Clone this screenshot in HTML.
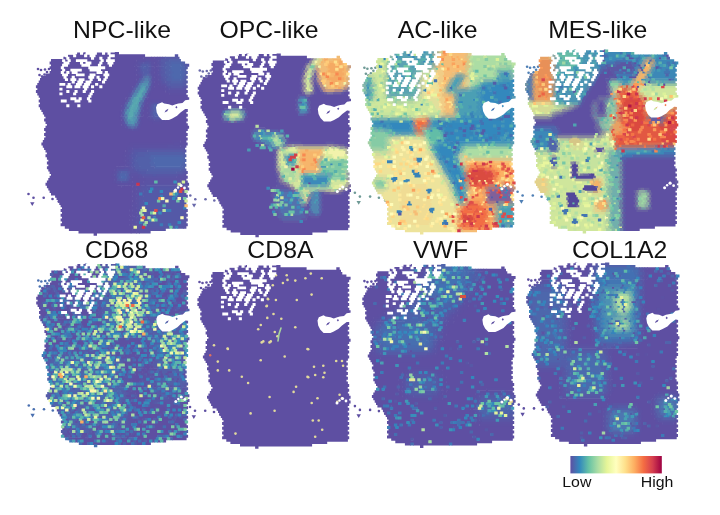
<!DOCTYPE html><html><head><meta charset="utf-8"><style>html,body{margin:0;padding:0;background:#fff;width:720px;height:515px;overflow:hidden}svg{display:block}text{font-family:"Liberation Sans",Arial,sans-serif;fill:#111}</style></head><body>
<svg width="720" height="515" viewBox="0 0 720 515">
<defs>
<path id="tis" d="M-37.4,-37.8 L-33.2,-41.8 L-28.2,-44.8 L-25.0,-45.6 L-24.2,-58.0 L-22.7,-59.5 L-18.8,-58.8 L-12.6,-57.2 L-10.7,-61.3 L-3.7,-63.1 L4.1,-64.6 L11.8,-66.2 L22.7,-65.4 L32.8,-67.0 L41.8,-65.4 L43.3,-63.9 L68.2,-63.1 L69.8,-61.5 L99.3,-61.5 L101.6,-62.6 L104.3,-57.3 L110.4,-53.8 L112.1,-52.9 L109.5,-48.6 L111.3,-39.8 L110.4,-29.3 L112.1,-20.6 L110.4,-15.3 L110.8,-7.3 L111.8,8.7 L110.6,20.4 L109.4,32.0 L109.4,43.7 L110.6,55.3 L111.8,64.7 L111.8,72.7 L110.6,78.7 L110.6,90.3 L110.6,106.7 L109.4,109.0 L90.8,110.2 L86.1,112.5 L72.1,113.7 L58.8,114.9 L41.2,113.7 L28.6,114.9 L18.5,116.2 L3.3,113.7 L-6.8,111.1 L-13.1,107.3 L-14.4,99.7 L-13.1,89.7 L-16.9,82.1 L-21.9,77.0 L-29.5,69.4 L-28.2,64.4 L-24.5,54.3 L-28.2,49.2 L-27.0,41.7 L-29.5,34.1 L-33.3,26.5 L-30.8,18.9 L-29.5,6.3 L-31.7,-4.8 L-36.3,-11.1 L-35.5,-17.3 L-37.9,-23.5 L-38.7,-29.7 L-37.9,-33.8Z"/>
<clipPath id="clip"><use href="#tis"/></clipPath>
<g id="holes" fill="#fff"><path d="M-8.1 -67.2h16.9M11.2 -67.2h27.9M-9.4 -64.9h8.7M4.3 -64.9h3.1M9.8 -64.9h11.4M26.3 -64.9h3.1M31.8 -64.9h3.1M-10.8 -62.5h3.1M-2.6 -62.5h3.1M8.4 -62.5h3.1M13.9 -62.5h5.9M33.2 -62.5h5.9M-9.4 -60.1h3.1M15.3 -60.1h3.1M23.6 -60.1h3.1M31.8 -60.1h3.1M-13.6 -57.7h3.1M-8.1 -57.7h3.1M0.2 -57.7h11.4M24.9 -57.7h3.1M30.4 -57.7h8.7M-12.2 -55.3h5.9M4.3 -55.3h3.1M9.8 -55.3h5.9M23.6 -55.3h3.1M31.8 -55.3h5.9M-13.6 -53.0h5.9M5.7 -53.0h8.7M22.2 -53.0h3.1M33.2 -53.0h3.1M-14.9 -50.6h3.1M12.6 -50.6h16.9M-13.6 -48.2h3.1M-5.3 -48.2h11.4M13.9 -48.2h11.4M-14.9 -45.8h3.1M-9.4 -45.8h3.1M-4.0 -45.8h5.9M20.8 -45.8h5.9M29.1 -45.8h3.1M-13.6 -43.4h5.9M0.2 -43.4h8.7M13.9 -43.4h5.9M27.7 -43.4h5.9M-12.2 -41.1h3.1M-4.0 -41.1h3.1M12.6 -41.1h5.9M20.8 -41.1h3.1M29.1 -41.1h3.1M-10.8 -38.7h3.1M-5.3 -38.7h5.9M2.9 -38.7h5.9M13.9 -38.7h3.1M22.2 -38.7h3.1M27.7 -38.7h3.1M-4.0 -36.3h3.1M1.6 -36.3h5.9M9.8 -36.3h5.9M26.3 -36.3h3.1M-16.3 -33.9h5.9M-8.1 -33.9h3.1M0.2 -33.9h5.9M8.4 -33.9h5.9M19.4 -33.9h3.1M-9.4 -31.5h5.9M-1.2 -31.5h5.9M7.0 -31.5h5.9M15.3 -31.5h3.1M23.6 -31.5h3.1M-16.3 -29.2h3.1M8.4 -29.2h3.1M-9.4 -26.8h3.1M-1.2 -26.8h3.1M7.0 -26.8h3.1M15.3 -26.8h3.1M-16.3 -24.4h3.1M-2.6 -24.4h3.1M13.9 -24.4h3.1M12.6 -22.0h3.1M-5.3 -19.6h5.9M2.9 -19.6h3.1M11.2 -19.6h3.1M-14.9 -17.3h5.9M-1.2 -17.3h5.9M12.6 -17.3h3.1M-9.4 -12.5h3.1M1.6 -12.5h3.1" stroke="#fff" stroke-width="2.9" fill="none"/><circle cx="99.8" cy="71.7" r="1.5"/><circle cx="105.3" cy="67.2" r="1.6"/><circle cx="108.8" cy="69.7" r="1.4"/><circle cx="102.3" cy="69.2" r="1.2"/><path fill-rule="evenodd" d="M80.3,-10.7 L81.6,-14.1 L86.4,-16.1 L88.4,-14.7 L93.2,-14.1 L96.6,-12.7 L100.0,-14.1 L102.7,-14.7 L106.8,-15.4 L109.5,-18.1 L114.8,-18.8 L114.8,-9.3 L109.5,-9.3 L104.8,-5.9 L101.4,-2.5 L96.6,0.2 L93.2,1.6 L86.4,1.6 L83.0,-1.8 L81.0,-5.9ZM88.8,-5.8 L90.0,-8.1 L92.8,-9.5 L91.6,-7.1ZM99.6,-11.0 L100.7,-12.3 L101.8,-11.0 L100.7,-9.7Z"/></g>
<g id="dots"><circle cx="-36.2" cy="-43.3" r="1.3"/><circle cx="-33.7" cy="-41.8" r="1.3"/><circle cx="-31.2" cy="-43.8" r="1.3"/><circle cx="-28.7" cy="-46.3" r="1.3"/><circle cx="-32.2" cy="-39.8" r="1.3"/><circle cx="-26.7" cy="-49.3" r="1.3"/><circle cx="-37.7" cy="-49.3" r="1.3"/><circle cx="-34.7" cy="-48.3" r="1.3"/><circle cx="-30.7" cy="-48.8" r="1.3"/><circle cx="-47.2" cy="75.7" r="1.3"/><circle cx="-42.2" cy="79.5" r="1.3"/><circle cx="-32.0" cy="79.5" r="1.3"/><circle cx="-23.2" cy="80.7" r="1.3"/><circle cx="-16.9" cy="83.3" r="1.3"/><path d="M-45.6,83.9 L-41.199999999999996,83.9 L-43.4,87.7Z"/></g>
<linearGradient id="cbar" x1="0" x2="1" y1="0" y2="0"><stop offset="0.0" stop-color="#5e4fa2"/><stop offset="0.1" stop-color="#3288bd"/><stop offset="0.2" stop-color="#66c2a5"/><stop offset="0.3" stop-color="#abdda4"/><stop offset="0.4" stop-color="#e6f598"/><stop offset="0.5" stop-color="#ffffbf"/><stop offset="0.6" stop-color="#fee08b"/><stop offset="0.7" stop-color="#fdae61"/><stop offset="0.8" stop-color="#f46d43"/><stop offset="0.9" stop-color="#d53e4f"/><stop offset="1.0" stop-color="#9e0142"/></linearGradient>
<filter id="soft" filterUnits="userSpaceOnUse" x="-60" y="-90" width="200" height="230"><feGaussianBlur stdDeviation="0.8"/></filter>
</defs>
<g transform="translate(75.7,118.3)">
<use href="#dots" fill="#5e4fa2"/>
<g fill="none" stroke-width="3"><path stroke="#5e4fa2" d="M1.4 -64.9h41.9M-8.2 -62.5h77.6M-12.3 -60.1h80.3M75.7 -60.1h3.4M-24.7 -57.7h85.8M-26.1 -55.3h85.8M-24.7 -53.0h83.1M-26.1 -50.6h85.8M-24.7 -48.2h85.8M-26.1 -45.8h85.8M-30.2 -43.4h91.3M-34.3 -41.1h96.8M-35.7 -38.7h96.8M-37.0 -36.3h96.8M78.5 -36.3h3.4M-38.4 -33.9h96.8M77.1 -33.9h6.1M-39.8 -31.5h96.8M78.5 -31.5h6.1M-38.4 -29.2h94.1M77.1 -29.2h8.8M-39.8 -26.8h94.1M75.7 -26.8h14.3M-38.4 -24.4h91.3M74.3 -24.4h19.9M-37.0 -22.0h88.6M73.0 -22.0h39.1M-35.7 -19.6h85.8M71.6 -19.6h41.9M-37.0 -17.3h85.8M70.2 -17.3h3.4M86.7 -17.3h25.4M-35.7 -14.9h83.1M68.8 -14.9h3.4M90.8 -14.9h19.9M-37.0 -12.5h83.1M67.5 -12.5h6.1M89.5 -12.5h22.6M-35.7 -10.1h83.1M68.8 -10.1h3.4M90.8 -10.1h19.9M-34.3 -7.7h80.3M67.5 -7.7h6.1M89.5 -7.7h22.6M-32.9 -5.4h77.6M66.1 -5.4h6.1M90.8 -5.4h19.9M-31.6 -3.0h77.6M67.5 -3.0h6.1M89.5 -3.0h22.6M-30.2 -0.6h74.8M66.1 -0.6h6.1M90.8 -0.6h19.9M-31.6 1.8h77.6M64.7 1.8h8.8M89.5 1.8h22.6M-30.2 4.2h77.6M66.1 4.2h11.6M85.3 4.2h25.4M-28.8 6.5h74.8M64.7 6.5h47.4M-30.2 8.9h77.6M63.3 8.9h50.1M-31.6 11.3h83.1M62.0 11.3h50.1M-30.2 13.7h140.8M-31.6 16.1h143.6M-30.2 18.4h140.8M-31.6 20.8h143.6M-32.9 23.2h129.8M104.6 23.2h6.1M-34.3 25.6h88.6M-32.9 28.0h85.8M-31.6 30.3h83.1M-30.2 32.7h80.3M-28.8 35.1h77.6M-30.2 37.5h77.6M-28.8 39.9h77.6M-27.4 42.2h74.8M-28.8 44.6h77.6M-27.4 47.0h72.1M-28.8 49.4h69.3M-27.4 51.8h66.6M-26.1 54.1h63.9M-24.7 56.5h61.1M-26.1 58.9h63.9M-27.4 61.3h66.6M-28.8 63.7h66.6M-30.2 66.0h72.1M55.1 66.0h3.4M-28.8 68.4h74.8M48.2 68.4h8.8M-27.4 70.8h83.1M-26.1 73.2h83.1M-24.7 75.6h80.3M-20.6 77.9h77.6M-19.2 80.3h74.8M-17.8 82.7h74.8M-16.4 85.1h72.1M-15.1 87.5h72.1M-13.7 89.8h69.3M-15.1 92.2h69.3M-13.7 94.6h69.3M-15.1 97.0h69.3M-13.7 99.4h69.3M-15.1 101.7h69.3M-13.7 104.1h69.3M-15.1 106.5h69.3M-10.9 108.9h66.6M-6.8 111.3h63.9M2.8 113.6h52.9M17.9 116.0h3.4"/><path stroke="#5d50a2" d="M67.5 -60.1h8.8M78.5 -60.1h3.4M60.6 -57.7h3.4M74.3 -57.7h6.1M59.2 -55.3h3.4M78.5 -55.3h3.4M57.8 -53.0h3.4M77.1 -53.0h3.4M59.2 -50.6h3.4M78.5 -50.6h3.4M77.1 -48.2h3.4M59.2 -45.8h3.4M78.5 -45.8h3.4M60.6 -43.4h3.4M77.1 -43.4h3.4M62.0 -41.1h3.4M78.5 -41.1h3.4M60.6 -38.7h3.4M77.1 -38.7h6.1M59.2 -36.3h3.4M81.2 -36.3h3.4M57.8 -33.9h3.4M82.6 -33.9h3.4M56.5 -31.5h3.4M75.7 -31.5h3.4M84.0 -31.5h3.4M55.1 -29.2h3.4M74.3 -29.2h3.4M85.3 -29.2h3.4M53.7 -26.8h3.4M73.0 -26.8h3.4M89.5 -26.8h3.4M108.7 -26.8h3.4M93.6 -24.4h17.1M51.0 -22.0h3.4M49.6 -19.6h3.4M48.2 -17.3h3.4M73.0 -17.3h3.4M84.0 -17.3h3.4M46.8 -14.9h3.4M71.6 -14.9h3.4M88.1 -14.9h3.4M45.5 -12.5h3.4M66.1 -10.1h3.4M71.6 -10.1h3.4M88.1 -10.1h3.4M44.1 -5.4h3.4M71.6 -5.4h3.4M88.1 -5.4h3.4M64.7 -3.0h3.4M44.1 -0.6h3.4M71.6 -0.6h3.4M88.1 -0.6h3.4M73.0 1.8h3.4M86.7 1.8h3.4M63.3 4.2h3.4M77.1 4.2h8.8M45.5 6.5h3.4M46.8 8.9h3.4M51.0 11.3h3.4M96.3 23.2h8.8M53.7 25.6h44.6M103.2 25.6h8.8M52.3 28.0h6.1M51.0 30.3h3.4M49.6 32.7h3.4M48.2 35.1h3.4M46.8 37.5h3.4M48.2 39.9h3.4M46.8 42.2h3.4M48.2 44.6h3.4M44.1 47.0h6.1M40.0 49.4h3.4M38.6 51.8h3.4M37.2 54.1h3.4M35.8 56.5h3.4M37.2 58.9h3.4M55.1 61.3h8.8M37.2 63.7h3.4M56.5 63.7h6.1M41.3 66.0h3.4M52.3 66.0h3.4M57.8 66.0h3.4M45.5 68.4h3.4M56.5 68.4h3.4M55.1 70.8h3.4M56.5 73.2h3.4M55.1 75.6h3.4M56.5 77.9h3.4M55.1 80.3h3.4M56.5 82.7h3.4M55.1 85.1h3.4M55.1 89.8h3.4M53.7 92.2h3.4M55.1 94.6h3.4M53.7 97.0h3.4M55.1 99.4h3.4M53.7 101.7h3.4M55.1 104.1h3.4M53.7 106.5h3.4M55.1 108.9h3.4M56.5 111.3h3.4M55.1 113.6h6.1"/><path stroke="#5a55a5" d="M84.0 -60.1h3.4M82.6 -57.7h3.4M64.7 -55.3h3.4M73.0 -55.3h3.4M82.6 -53.0h3.4M62.0 -50.6h3.4M82.6 -48.2h3.4M73.0 -45.8h3.4M82.6 -43.4h3.4M84.0 -41.1h3.4M74.3 -38.7h3.4M88.1 -33.9h3.4M73.0 -31.5h3.4M89.5 -31.5h3.4M108.7 -31.5h3.4M93.6 -29.2h14.3M66.1 -14.9h3.4M82.6 -14.9h3.4M46.8 -10.1h3.4M85.3 -10.1h3.4M63.3 -5.4h3.4M85.3 -5.4h3.4M45.5 -3.0h3.4M74.3 -0.6h3.4M62.0 1.8h3.4M46.8 4.2h3.4M48.2 6.5h3.4M60.6 8.9h3.4M62.0 30.3h47.4M55.1 32.7h3.4M53.7 35.1h3.4M52.3 37.5h3.4M53.7 39.9h3.4M52.3 42.2h3.4M53.7 44.6h3.4M52.3 47.0h3.4M53.7 49.4h3.4M41.3 51.8h3.4M52.3 51.8h6.1M40.0 54.1h3.4M53.7 54.1h8.8M108.7 54.1h3.4M52.3 56.5h3.4M63.3 56.5h3.4M101.8 56.5h6.1M67.5 58.9h33.6M52.3 61.3h3.4M42.7 63.7h3.4M68.8 66.0h33.6M104.6 66.0h3.4M64.7 68.4h6.1M106.0 68.4h6.1M63.3 70.8h3.4M62.0 73.2h3.4M62.0 77.9h3.4M108.7 77.9h3.4M62.0 82.7h3.4M62.0 87.5h3.4M60.6 89.8h3.4M62.0 92.2h3.4M108.7 92.2h3.4M60.6 94.6h3.4M62.0 97.0h3.4M108.7 97.0h3.4M60.6 99.4h3.4M62.0 101.7h3.4M108.7 101.7h3.4M60.6 104.1h3.4M62.0 106.5h3.4M108.7 106.5h3.4M63.3 108.9h3.4M107.3 108.9h3.4M64.7 111.3h25.4"/><path stroke="#5b53a4" d="M68.8 -57.7h6.1M62.0 -55.3h3.4M81.2 -55.3h3.4M74.3 -53.0h3.4M81.2 -50.6h3.4M74.3 -48.2h3.4M62.0 -45.8h3.4M81.2 -45.8h3.4M63.3 -43.4h3.4M74.3 -43.4h3.4M82.6 -38.7h3.4M84.0 -36.3h3.4M74.3 -33.9h3.4M85.3 -33.9h3.4M90.8 -29.2h3.4M107.3 -29.2h3.4M70.2 -22.0h3.4M67.5 -17.3h3.4M74.3 -14.9h3.4M73.0 -12.5h3.4M45.5 -7.7h3.4M64.7 -7.7h3.4M73.0 -7.7h3.4M86.7 -7.7h3.4M73.0 -3.0h3.4M85.3 -0.6h3.4M78.5 1.8h6.1M49.6 8.9h3.4M56.5 11.3h3.4M90.8 28.0h14.3M56.5 30.3h6.1M52.3 32.7h3.4M51.0 39.9h3.4M51.0 44.6h3.4M48.2 49.4h6.1M38.6 56.5h3.4M55.1 56.5h8.8M107.3 56.5h3.4M53.7 58.9h3.4M62.0 58.9h6.1M100.5 58.9h8.8M68.8 61.3h36.4M40.0 63.7h3.4M51.0 63.7h3.4M67.5 63.7h11.6M81.2 63.7h17.1M100.5 63.7h6.1M63.3 66.0h6.1M107.3 66.0h6.1M62.0 68.4h3.4M60.6 70.8h3.4M110.1 70.8h3.4M60.6 75.6h3.4M59.2 77.9h3.4M60.6 80.3h3.4M59.2 82.7h3.4M60.6 85.1h3.4M59.2 87.5h3.4M59.2 92.2h3.4M59.2 97.0h3.4M57.8 99.4h3.4M59.2 101.7h3.4M57.8 104.1h3.4M59.2 106.5h3.4M60.6 108.9h3.4M62.0 111.3h3.4M63.3 113.6h11.6"/><path stroke="#5757a6" d="M99.1 -62.5h3.4M86.7 -60.1h3.4M67.5 -55.3h6.1M84.0 -55.3h3.4M63.3 -53.0h3.4M110.1 -53.0h3.4M73.0 -50.6h3.4M84.0 -50.6h3.4M63.3 -48.2h3.4M64.7 -45.8h3.4M84.0 -45.8h3.4M64.7 -41.1h3.4M85.3 -38.7h3.4M86.7 -36.3h3.4M92.2 -31.5h3.4M106.0 -31.5h3.4M77.1 -14.9h6.1M84.0 -12.5h3.4M74.3 -10.1h3.4M74.3 -5.4h3.4M84.0 -3.0h3.4M57.8 32.7h14.3M107.3 32.7h3.4M56.5 35.1h3.4M55.1 37.5h3.4M55.1 42.2h3.4M55.1 47.0h3.4M56.5 49.4h3.4M44.1 51.8h8.8M57.8 51.8h3.4M62.0 54.1h3.4M106.0 54.1h3.4M66.1 56.5h11.6M79.8 56.5h22.6M40.0 58.9h3.4M45.5 63.7h6.1M70.2 68.4h36.4M66.1 70.8h6.1M107.3 70.8h3.4M64.7 73.2h3.4M106.0 73.2h3.4M66.1 75.6h3.4M107.3 75.6h3.4M64.7 77.9h3.4M106.0 77.9h3.4M63.3 80.3h3.4M64.7 82.7h3.4M106.0 82.7h3.4M63.3 85.1h3.4M107.3 85.1h3.4M64.7 87.5h3.4M106.0 87.5h3.4M63.3 89.8h3.4M106.0 92.2h3.4M107.3 94.6h3.4M106.0 97.0h3.4M63.3 99.4h3.4M107.3 99.4h3.4M106.0 101.7h3.4M107.3 104.1h3.4M64.7 106.5h3.4M106.0 106.5h3.4M68.8 108.9h25.4M96.3 108.9h3.4M101.8 108.9h6.1"/><path stroke="#5c51a3" d="M81.2 -60.1h3.4M63.3 -57.7h6.1M79.8 -57.7h3.4M75.7 -55.3h3.4M60.6 -53.0h3.4M79.8 -53.0h3.4M75.7 -50.6h3.4M60.6 -48.2h3.4M79.8 -48.2h3.4M75.7 -45.8h3.4M79.8 -43.4h3.4M75.7 -41.1h3.4M81.2 -41.1h3.4M75.7 -36.3h3.4M86.7 -31.5h3.4M88.1 -29.2h3.4M92.2 -26.8h17.1M52.3 -24.4h3.4M71.6 -24.4h3.4M68.8 -19.6h3.4M75.7 -17.3h8.8M85.3 -14.9h3.4M86.7 -12.5h3.4M86.7 -3.0h3.4M63.3 -0.6h3.4M45.5 1.8h3.4M75.7 1.8h3.4M84.0 1.8h3.4M62.0 6.5h3.4M53.7 11.3h3.4M59.2 11.3h3.4M97.7 25.6h6.1M57.8 28.0h33.6M104.6 28.0h6.1M53.7 30.3h3.4M51.0 35.1h3.4M49.6 37.5h3.4M49.6 42.2h3.4M49.6 47.0h3.4M42.7 49.4h6.1M56.5 58.9h6.1M108.7 58.9h3.4M38.6 61.3h3.4M63.3 61.3h6.1M104.6 61.3h6.1M53.7 63.7h3.4M62.0 63.7h6.1M108.7 63.7h3.4M44.1 66.0h8.8M59.2 68.4h3.4M57.8 70.8h3.4M59.2 73.2h3.4M57.8 75.6h3.4M57.8 80.3h3.4M57.8 85.1h3.4M56.5 87.5h3.4M57.8 89.8h3.4M56.5 92.2h3.4M57.8 94.6h3.4M56.5 97.0h3.4M56.5 101.7h3.4M56.5 106.5h3.4M59.2 111.3h3.4M60.6 113.6h3.4"/><path stroke="#5459a7" d="M59.2 35.1h3.4M57.8 37.5h3.4M56.5 39.9h3.4M56.5 44.6h3.4M60.6 51.8h3.4M64.7 54.1h6.1M77.1 56.5h3.4M71.6 70.8h3.4M77.1 70.8h28.1M67.5 73.2h6.1M75.7 73.2h8.8M86.7 73.2h11.6M100.5 73.2h3.4M68.8 75.6h25.4M101.8 75.6h6.1M67.5 77.9h17.1M86.7 77.9h11.6M100.5 77.9h6.1M66.1 80.3h17.1M88.1 80.3h8.8M99.1 80.3h3.4M104.6 80.3h3.4M67.5 82.7h14.3M84.0 82.7h6.1M92.2 82.7h8.8M103.2 82.7h3.4M66.1 85.1h3.4M71.6 85.1h36.4M67.5 87.5h19.9M89.5 87.5h17.1M68.8 89.8h39.1M70.2 92.2h8.8M81.2 92.2h6.1M95.0 92.2h11.6M66.1 94.6h8.8M79.8 94.6h3.4M85.3 94.6h22.6M67.5 97.0h39.1M68.8 99.4h3.4M74.3 99.4h3.4M79.8 99.4h25.4M67.5 101.7h6.1M81.2 101.7h25.4M66.1 104.1h3.4M71.6 104.1h30.9M104.6 104.1h3.4M70.2 106.5h14.3M86.7 106.5h6.1M95.0 106.5h11.6"/><path stroke="#575ba7" d="M89.5 -60.1h14.3M85.3 -57.7h6.1M86.7 -55.3h3.4M71.6 -53.0h3.4M85.3 -53.0h3.4M71.6 -48.2h3.4M85.3 -48.2h3.4M86.7 -45.8h3.4M66.1 -43.4h3.4M85.3 -43.4h3.4M86.7 -41.1h3.4M108.7 -41.1h3.4M63.3 -38.7h3.4M88.1 -38.7h3.4M62.0 -36.3h3.4M89.5 -36.3h3.4M108.7 -36.3h3.4M60.6 -33.9h3.4M90.8 -33.9h3.4M107.3 -33.9h3.4M59.2 -31.5h3.4M95.0 -31.5h11.6M53.7 -22.0h3.4M48.2 -12.5h3.4M64.7 -12.5h3.4M75.7 -12.5h3.4M75.7 -7.7h3.4M84.0 -7.7h3.4M75.7 -3.0h3.4M77.1 -0.6h8.8M71.6 32.7h36.4M107.3 51.8h3.4M51.0 54.1h3.4M100.5 54.1h6.1M51.0 58.9h3.4M41.3 61.3h3.4"/><path stroke="#545da8" d="M90.8 -57.7h3.4M66.1 -53.0h6.1M88.1 -53.0h3.4M107.3 -53.0h3.4M64.7 -50.6h3.4M70.2 -50.6h3.4M86.7 -50.6h3.4M108.7 -50.6h3.4M66.1 -48.2h6.1M88.1 -48.2h3.4M67.5 -45.8h6.1M108.7 -45.8h3.4M88.1 -43.4h3.4M89.5 -41.1h3.4M107.3 -38.7h3.4M92.2 -36.3h3.4M106.0 -36.3h3.4M93.6 -33.9h14.3M81.2 -12.5h3.4M82.6 -10.1h3.4M82.6 -5.4h3.4M62.0 35.1h11.6M106.0 35.1h3.4M60.6 37.5h8.8M59.2 39.9h3.4M57.8 42.2h3.4M59.2 44.6h3.4M57.8 47.0h6.1M59.2 49.4h6.1M63.3 51.8h8.8M104.6 51.8h3.4M42.7 54.1h3.4M70.2 54.1h30.9M41.3 56.5h3.4M49.6 61.3h3.4"/><path stroke="#5362aa" d="M93.6 -57.7h11.6M89.5 -55.3h6.1M106.0 -55.3h3.4M90.8 -53.0h3.4M89.5 -50.6h6.1M90.8 -48.2h3.4M107.3 -48.2h3.4M89.5 -45.8h6.1M68.8 -43.4h3.4M90.8 -43.4h3.4M107.3 -43.4h3.4M92.2 -41.1h3.4M106.0 -41.1h3.4M90.8 -38.7h6.1M104.6 -38.7h3.4M95.0 -36.3h11.6M78.5 -12.5h3.4M77.1 -10.1h6.1M78.5 -7.7h6.1M77.1 -5.4h6.1M78.5 -3.0h6.1M107.3 47.0h3.4M106.0 49.4h3.4M45.5 54.1h6.1M49.6 56.5h3.4M42.7 58.9h3.4M44.1 61.3h6.1"/><path stroke="#5065ac" d="M95.0 -55.3h11.6M93.6 -53.0h3.4M104.6 -53.0h3.4M106.0 -50.6h3.4M93.6 -48.2h3.4M104.6 -48.2h3.4M95.0 -45.8h3.4M106.0 -45.8h3.4M93.6 -43.4h3.4M104.6 -43.4h3.4M95.0 -41.1h3.4M96.3 -38.7h8.8M74.3 37.5h33.6M73.0 39.9h6.1M106.0 39.9h3.4M74.3 42.2h3.4M107.3 42.2h3.4M73.0 44.6h6.1M106.0 44.6h3.4M74.3 47.0h6.1M104.6 47.0h3.4M78.5 49.4h28.1M44.1 56.5h6.1M48.2 58.9h3.4"/><path stroke="#5961a7" d="M71.6 -43.4h3.4M73.0 -41.1h3.4M73.0 -36.3h3.4M57.8 -29.2h3.4M71.6 -29.2h3.4M56.5 -26.8h3.4M70.2 -26.8h3.4M55.1 -24.4h3.4M68.8 -24.4h3.4M52.3 -19.6h3.4M51.0 -17.3h3.4M49.6 -14.9h3.4M63.3 -10.1h3.4M46.8 -5.4h3.4M62.0 -3.0h3.4M46.8 -0.6h3.4M60.6 4.2h3.4M52.3 8.9h3.4M57.8 8.9h3.4"/><path stroke="#559db1" d="M67.5 -31.5h3.4M63.3 -29.2h3.4M62.0 -26.8h3.4M60.6 -24.4h3.4M59.2 -22.0h3.4M64.7 -22.0h3.4M62.0 -17.3h3.4M55.1 -14.9h3.4M60.6 -14.9h3.4M53.7 -12.5h3.4M52.3 -10.1h3.4M51.0 -3.0h3.4M56.5 -3.0h3.4M55.1 -0.6h3.4M53.7 1.8h3.4"/><path stroke="#5386af" d="M67.5 -36.3h6.1M68.8 -29.2h3.4M57.8 -24.4h3.4M56.5 -22.0h3.4M55.1 -19.6h3.4M53.7 -17.3h3.4M52.3 -14.9h3.4M51.0 -12.5h3.4M59.2 -3.0h3.4M49.6 -0.6h3.4M57.8 4.2h3.4M56.5 6.5h3.4"/><path stroke="#58a8af" d="M64.7 -26.8h3.4M63.3 -24.4h3.4M62.0 -22.0h3.4M60.6 -19.6h3.4M59.2 -17.3h3.4M57.8 -14.9h3.4M56.5 -12.5h3.4M55.1 -10.1h3.4M53.7 -7.7h3.4M52.3 -5.4h6.1M53.7 -3.0h3.4M86.7 87.5h3.4"/><path stroke="#4e68ad" d="M96.3 -53.0h8.8M95.0 -50.6h11.6M96.3 -48.2h8.8M97.7 -45.8h8.8M96.3 -43.4h8.8M97.7 -41.1h8.8M78.5 39.9h28.1M77.1 42.2h30.9M78.5 44.6h28.1M79.8 47.0h25.4M45.5 58.9h3.4"/><path stroke="#5260a9" d="M67.5 -50.6h3.4M73.0 35.1h33.6M68.8 37.5h6.1M107.3 37.5h3.4M62.0 39.9h11.6M60.6 42.2h14.3M62.0 44.6h11.6M63.3 47.0h11.6M64.7 49.4h14.3M71.6 51.8h33.6"/><path stroke="#576daa" d="M67.5 -41.1h3.4M66.1 -38.7h3.4M67.5 -22.0h3.4M66.1 -19.6h3.4M48.2 -7.7h3.4M62.0 -7.7h3.4M60.6 -0.6h3.4M48.2 1.8h3.4M59.2 6.5h3.4M55.1 8.9h3.4"/><path stroke="#5573ac" d="M70.2 -41.1h3.4M71.6 -38.7h3.4M64.7 -36.3h3.4M71.6 -33.9h3.4M64.7 -17.3h3.4M63.3 -14.9h3.4M49.6 -10.1h3.4M48.2 -3.0h3.4M49.6 4.2h3.4M51.0 6.5h3.4"/><path stroke="#547eae" d="M68.8 -38.7h3.4M63.3 -33.9h3.4M62.0 -31.5h3.4M70.2 -31.5h3.4M60.6 -29.2h3.4M59.2 -26.8h3.4M62.0 -12.5h3.4M60.6 -5.4h3.4M59.2 1.8h3.4M53.7 6.5h3.4"/><path stroke="#3c7bb7" d="M63.3 75.6h3.4M84.0 77.9h3.4M97.7 77.9h3.4M107.3 89.8h3.4M89.5 92.2h6.1M77.1 99.4h3.4M63.3 104.1h3.4M84.0 106.5h3.4M92.2 106.5h3.4M99.1 108.9h3.4"/><path stroke="#5390b0" d="M66.1 -33.9h6.1M67.5 -26.8h3.4M66.1 -24.4h3.4M60.6 -10.1h3.4M49.6 -5.4h3.4M57.8 -0.6h3.4M51.0 1.8h3.4M52.3 4.2h3.4"/><path stroke="#5296b1" d="M64.7 -31.5h3.4M63.3 -19.6h3.4M51.0 -7.7h3.4M59.2 -7.7h3.4M57.8 -5.4h3.4M56.5 1.8h3.4M55.1 4.2h3.4"/><path stroke="#56a3b0" d="M66.1 -29.2h3.4M57.8 -19.6h3.4M56.5 -17.3h3.4M59.2 -12.5h3.4M57.8 -10.1h3.4M56.5 -7.7h3.4M52.3 -0.6h3.4"/><path stroke="#73c7a5" d="M96.3 75.6h3.4M107.3 80.3h3.4M81.2 82.7h3.4M100.5 82.7h3.4M74.3 94.6h3.4M67.5 106.5h3.4M93.6 108.9h3.4"/><path stroke="#3489bc" d="M74.3 70.8h3.4M84.0 73.2h3.4M96.3 80.3h3.4M68.8 85.1h3.4M82.6 94.6h3.4M101.8 104.1h3.4"/><path stroke="#fdfcb9" d="M97.7 73.2h3.4M101.8 80.3h3.4M89.5 82.7h3.4M66.1 89.8h3.4M104.6 99.4h3.4"/><path stroke="#3990ba" d="M97.7 63.7h3.4M73.0 73.2h3.4M99.1 75.6h3.4M73.0 101.7h3.4"/><path stroke="#abdda4" d="M63.3 94.6h3.4M64.7 97.0h3.4M71.6 99.4h3.4M68.8 104.1h3.4"/><path stroke="#d2ed9c" d="M106.0 63.7h3.4M101.8 66.0h3.4M108.7 82.7h3.4"/><path stroke="#cc334d" d="M60.6 66.0h3.4M104.6 70.8h3.4M66.1 108.9h3.4"/><path stroke="#bae3a1" d="M108.7 73.2h3.4M64.7 92.2h3.4M86.7 92.2h3.4"/><path stroke="#e4f498" d="M77.1 94.6h3.4M64.7 101.7h3.4M75.7 101.7h3.4"/><path stroke="#60bca8" d="M78.5 63.7h3.4M78.5 101.7h3.4"/><path stroke="#dc494c" d="M103.2 73.2h3.4M78.5 92.2h3.4"/><path stroke="#fdbc6d" d="M93.6 75.6h3.4M108.7 87.5h3.4"/><path stroke="#ecf7a1" d="M67.5 92.2h3.4M57.8 108.9h3.4"/><path stroke="#f7814c" d="M82.6 80.3h3.4"/><path stroke="#f5fbaf" d="M85.3 80.3h3.4"/><path stroke="#e75a48" d="M66.1 99.4h3.4"/></g>
<use href="#holes"/>
</g>
<g transform="translate(237.5,119.8)">
<use href="#dots" fill="#6a6aab"/>
<g fill="none" stroke-width="3"><path stroke="#5e4fa2" d="M1.4 -64.9h41.9M-8.2 -62.5h77.6M-12.3 -60.1h85.8M-24.7 -57.7h94.1M-26.1 -55.3h94.1M-24.7 -53.0h91.3M-26.1 -50.6h91.3M-24.7 -48.2h88.6M-26.1 -45.8h91.3M-30.2 -43.4h94.1M-34.3 -41.1h96.8M-35.7 -38.7h99.6M-37.0 -36.3h99.6M-38.4 -33.9h102.3M77.1 -33.9h3.4M-39.8 -31.5h102.3M78.5 -31.5h3.4M-38.4 -29.2h102.3M77.1 -29.2h6.1M-39.8 -26.8h105.1M78.5 -26.8h6.1M106.0 -26.8h6.1M-38.4 -24.4h99.6M74.3 -24.4h36.4M-37.0 -22.0h96.8M70.2 -22.0h41.9M-35.7 -19.6h94.1M71.6 -19.6h41.9M-37.0 -17.3h96.8M73.0 -17.3h39.1M-35.7 -14.9h94.1M71.6 -14.9h39.1M-37.0 -12.5h30.9M4.2 -12.5h55.6M73.0 -12.5h39.1M-35.7 -10.1h22.6M8.3 -10.1h50.1M71.6 -10.1h39.1M-34.3 -7.7h19.9M9.7 -7.7h50.1M73.0 -7.7h39.1M-32.9 -5.4h17.1M8.3 -5.4h52.9M68.8 -5.4h41.9M-31.6 -3.0h17.1M9.7 -3.0h102.3M-30.2 -0.6h14.3M8.3 -0.6h102.3M-31.6 1.8h17.1M7.0 1.8h105.1M-30.2 4.2h140.8M-28.8 6.5h47.4M20.7 6.5h91.3M-30.2 8.9h47.4M27.6 8.9h85.8M-31.6 11.3h44.6M45.5 11.3h66.6M-30.2 13.7h44.6M46.8 13.7h63.9M-31.6 16.1h44.6M51.0 16.1h61.1M-30.2 18.4h44.6M49.6 18.4h61.1M-31.6 20.8h47.4M51.0 20.8h61.1M-32.9 23.2h52.9M63.3 23.2h25.4M96.3 23.2h14.3M-34.3 25.6h52.9M20.7 25.6h3.4M108.7 25.6h3.4M-32.9 28.0h55.6M-31.6 30.3h41.9M12.4 30.3h19.9M-30.2 32.7h66.6M-28.8 35.1h66.6M-30.2 37.5h66.6M-28.8 39.9h66.6M-27.4 42.2h63.9M-28.8 44.6h66.6M-27.4 47.0h63.9M-28.8 49.4h66.6M-27.4 51.8h66.6M-26.1 54.1h63.9M-24.7 56.5h63.9M-26.1 58.9h66.6M-27.4 61.3h66.6M-28.8 63.7h69.3M70.2 63.7h3.4M-30.2 66.0h69.3M-28.8 68.4h58.4M31.7 68.4h3.4M-27.4 70.8h61.1M110.1 70.8h3.4M-26.1 73.2h61.1M106.0 73.2h6.1M-24.7 75.6h58.4M85.3 75.6h25.4M-20.6 77.9h55.6M84.0 77.9h28.1M-19.2 80.3h55.6M85.3 80.3h25.4M-17.8 82.7h52.9M84.0 82.7h28.1M-16.4 85.1h50.1M85.3 85.1h25.4M-15.1 87.5h47.4M34.5 87.5h3.4M84.0 87.5h28.1M-13.7 89.8h50.1M85.3 89.8h25.4M-15.1 92.2h50.1M84.0 92.2h28.1M-13.7 94.6h50.1M82.6 94.6h28.1M-15.1 97.0h55.6M70.2 97.0h3.4M81.2 97.0h30.9M-13.7 99.4h55.6M68.8 99.4h41.9M-15.1 101.7h61.1M64.7 101.7h47.4M-13.7 104.1h124.3M-15.1 106.5h127.1M-10.9 108.9h121.6M-6.8 111.3h96.8M2.8 113.6h72.1M17.9 116.0h3.4"/><path stroke="#6057a3" d="M68.8 -57.7h3.4M64.7 -50.6h3.4M63.3 -48.2h3.4M62.0 -41.1h3.4M75.7 -41.1h3.4M62.0 -36.3h3.4M75.7 -36.3h3.4M62.0 -31.5h3.4M75.7 -31.5h3.4M75.7 -26.8h3.4M84.0 -26.8h3.4M103.2 -26.8h3.4M60.6 -24.4h8.8M71.6 -24.4h3.4M59.2 -22.0h3.4M57.8 -19.6h3.4M68.8 -19.6h3.4M70.2 -17.3h3.4M57.8 -14.9h3.4M-6.8 -12.5h11.6M70.2 -12.5h3.4M-13.7 -10.1h3.4M5.6 -10.1h3.4M57.8 -10.1h3.4M7.0 -7.7h3.4M59.2 -7.7h3.4M70.2 -7.7h3.4M66.1 -5.4h3.4M7.0 -3.0h3.4M-16.4 -0.6h3.4M5.6 -0.6h3.4M-15.1 1.8h6.1M1.4 1.8h6.1M16.6 8.9h11.6M12.4 11.3h3.4M40.0 11.3h3.4M12.4 16.1h3.4M46.8 18.4h3.4M48.2 20.8h3.4M19.3 23.2h3.4M49.6 23.2h14.3M88.1 23.2h8.8M106.0 25.6h3.4M27.6 28.0h3.4M34.5 30.3h3.4M35.8 32.7h3.4M35.8 37.5h3.4M35.8 42.2h3.4M35.8 47.0h3.4M37.2 54.1h3.4M38.6 56.5h3.4M38.6 61.3h3.4M40.0 63.7h3.4M38.6 66.0h8.8M34.5 68.4h17.1M107.3 70.8h3.4M34.5 73.2h3.4M84.0 73.2h3.4M103.2 73.2h3.4M33.1 75.6h3.4M82.6 75.6h3.4M34.5 77.9h3.4M82.6 80.3h3.4M34.5 82.7h3.4M68.8 85.1h3.4M82.6 85.1h3.4M67.5 87.5h6.1M35.8 89.8h3.4M66.1 89.8h6.1M82.6 89.8h3.4M37.2 92.2h3.4M70.2 92.2h3.4M38.6 94.6h3.4M66.1 94.6h6.1M67.5 97.0h3.4M73.0 97.0h8.8M41.3 99.4h3.4M63.3 99.4h6.1M45.5 101.7h17.1"/><path stroke="#5371ad" d="M62.0 -22.0h6.1M67.5 -17.3h3.4M60.6 -10.1h3.4M-15.1 -7.7h3.4M67.5 -7.7h3.4M5.6 -5.4h3.4M17.9 11.3h3.4M26.2 11.3h3.4M41.3 13.7h3.4M17.9 20.8h6.1M24.8 23.2h3.4M28.9 25.6h3.4M33.1 28.0h3.4M45.5 73.2h6.1M53.7 73.2h3.4M44.1 75.6h6.1M79.8 75.6h3.4M40.0 77.9h3.4M45.5 77.9h8.8M56.5 77.9h3.4M41.3 80.3h6.1M49.6 80.3h3.4M55.1 80.3h6.1M71.6 80.3h3.4M79.8 80.3h3.4M40.0 82.7h3.4M45.5 82.7h6.1M53.7 82.7h6.1M44.1 85.1h3.4M49.6 85.1h14.3M71.6 85.1h3.4M79.8 85.1h3.4M45.5 87.5h8.8M56.5 87.5h3.4M62.0 87.5h3.4M41.3 89.8h22.6M71.6 89.8h3.4M79.8 89.8h3.4M42.7 92.2h8.8M56.5 92.2h6.1M73.0 92.2h3.4M44.1 94.6h3.4M55.1 94.6h8.8M77.1 94.6h3.4"/><path stroke="#5962a8" d="M67.5 -22.0h3.4M59.2 -17.3h6.1M68.8 -14.9h3.4M59.2 -12.5h3.4M-10.9 -10.1h3.4M2.8 -10.1h3.4M68.8 -10.1h3.4M-16.4 -5.4h3.4M60.6 -5.4h6.1M-1.3 1.8h3.4M15.2 11.3h3.4M31.7 11.3h8.8M13.8 13.7h3.4M44.1 13.7h3.4M45.5 16.1h3.4M13.8 18.4h3.4M15.2 20.8h3.4M22.1 23.2h3.4M46.8 23.2h3.4M26.2 25.6h3.4M41.3 70.8h14.3M37.2 73.2h3.4M81.2 73.2h3.4M35.8 75.6h3.4M81.2 77.9h3.4M37.2 82.7h3.4M70.2 82.7h3.4M81.2 82.7h3.4M40.0 87.5h3.4M64.7 87.5h3.4M81.2 87.5h3.4M38.6 89.8h3.4M40.0 92.2h3.4M64.7 92.2h3.4M81.2 92.2h3.4M41.3 94.6h3.4M63.3 94.6h3.4M71.6 94.6h6.1M79.8 94.6h3.4M40.0 97.0h28.1M44.1 99.4h19.9"/><path stroke="#abd9a2" d="M73.0 -50.6h3.4M0.1 -5.4h3.4M-9.6 -3.0h3.4M35.8 13.7h3.4M20.7 16.1h3.4M37.2 16.1h3.4M22.1 18.4h3.4M35.8 18.4h6.1M34.5 20.8h3.4M38.6 23.2h6.1M37.2 25.6h3.4M49.6 28.0h3.4M45.5 30.3h3.4M86.7 30.3h3.4M57.8 32.7h3.4M48.2 35.1h3.4M99.1 37.5h3.4M95.0 39.9h3.4M100.5 39.9h3.4M106.0 39.9h3.4M46.8 42.2h3.4M55.1 47.0h3.4M45.5 49.4h8.8M59.2 49.4h3.4M103.2 49.4h3.4M41.3 51.8h14.3M51.0 54.1h6.1M46.8 56.5h11.6M60.6 56.5h3.4M45.5 58.9h6.1M53.7 58.9h3.4M90.8 66.0h3.4M59.2 68.4h3.4M64.7 68.4h3.4M78.5 68.4h3.4M89.5 68.4h6.1M67.5 73.2h3.4M38.6 80.3h3.4M52.3 94.6h3.4"/><path stroke="#70639f" d="M67.5 -55.3h3.4M66.1 -53.0h3.4M64.7 -45.8h3.4M75.7 -45.8h3.4M63.3 -43.4h3.4M77.1 -43.4h3.4M74.3 -38.7h6.1M78.5 -36.3h3.4M63.3 -33.9h3.4M74.3 -33.9h3.4M79.8 -33.9h3.4M81.2 -31.5h3.4M63.3 -29.2h3.4M74.3 -29.2h3.4M82.6 -29.2h3.4M107.3 -29.2h3.4M64.7 -26.8h3.4M86.7 -26.8h3.4M95.0 -26.8h8.8M68.8 -24.4h3.4M-9.6 1.8h3.4M-4.0 1.8h3.4M100.5 25.6h6.1M37.2 30.3h3.4M37.2 35.1h3.4M37.2 39.9h3.4M37.2 44.6h3.4M37.2 49.4h3.4M40.0 58.9h3.4M42.7 63.7h3.4M46.8 66.0h3.4M51.0 68.4h3.4M55.1 70.8h3.4M104.6 70.8h3.4M86.7 73.2h6.1M100.5 73.2h3.4"/><path stroke="#badfa1" d="M73.0 -55.3h3.4M70.2 -45.8h3.4M71.6 -43.4h3.4M-4.0 -3.0h6.1M17.9 6.5h3.4M20.7 11.3h3.4M28.9 11.3h3.4M37.2 20.8h3.4M23.4 25.6h3.4M41.3 28.0h3.4M96.3 28.0h3.4M44.1 32.7h11.6M88.1 37.5h3.4M84.0 39.9h3.4M97.7 39.9h3.4M41.3 47.0h6.1M88.1 47.0h3.4M42.7 49.4h3.4M45.5 54.1h6.1M56.5 54.1h3.4M75.7 54.1h3.4M103.2 54.1h6.1M56.5 58.9h3.4M49.6 61.3h8.8M96.3 61.3h3.4M101.8 61.3h6.1M51.0 63.7h3.4M92.2 63.7h3.4M60.6 66.0h3.4M56.5 68.4h3.4M63.3 70.8h3.4M64.7 73.2h3.4M38.6 75.6h3.4M38.6 85.1h3.4"/><path stroke="#f6b56b" d="M95.0 -60.1h8.8M82.6 -57.7h3.4M90.8 -57.7h6.1M99.1 -57.7h3.4M89.5 -55.3h3.4M103.2 -55.3h3.4M88.1 -53.0h3.4M104.6 -53.0h3.4M89.5 -50.6h3.4M106.0 -50.6h3.4M88.1 -48.2h3.4M104.6 -48.2h6.1M92.2 -45.8h6.1M106.0 -45.8h3.4M90.8 -43.4h6.1M104.6 -43.4h3.4M106.0 -41.1h3.4M90.8 -38.7h3.4M99.1 -38.7h8.8M95.0 -36.3h3.4M100.5 -36.3h3.4M99.1 -33.9h3.4M81.2 30.3h3.4M63.3 32.7h19.9M67.5 35.1h8.8M78.5 35.1h3.4M63.3 37.5h17.1M67.5 39.9h8.8M63.3 42.2h14.3M64.7 44.6h8.8M75.7 44.6h3.4M66.1 47.0h11.6M67.5 49.4h11.6"/><path stroke="#4a9ab4" d="M63.3 -19.6h3.4M64.7 -17.3h3.4M66.1 -14.9h3.4M63.3 -10.1h6.1M-10.9 -0.6h3.4M23.4 11.3h3.4M42.7 11.3h3.4M24.8 13.7h3.4M33.1 13.7h3.4M23.4 16.1h11.6M41.3 18.4h3.4M28.9 20.8h3.4M42.7 20.8h3.4M17.9 25.6h3.4M30.3 28.0h3.4M9.7 30.3h3.4M48.2 39.9h3.4M53.7 39.9h3.4M49.6 42.2h6.1M82.6 47.0h6.1M66.1 56.5h8.8M77.1 56.5h14.3M64.7 58.9h3.4M88.1 61.3h3.4M64.7 63.7h6.1M86.7 63.7h3.4M59.2 73.2h3.4M77.1 75.6h3.4M77.1 80.3h3.4M75.7 82.7h3.4M33.1 85.1h3.4M62.0 92.2h3.4"/><path stroke="#f1bc76" d="M99.1 -62.5h3.4M84.0 -60.1h3.4M89.5 -60.1h6.1M85.3 -57.7h3.4M81.2 -55.3h6.1M82.6 -53.0h6.1M107.3 -53.0h3.4M81.2 -50.6h8.8M82.6 -48.2h6.1M82.6 -43.4h6.1M107.3 -43.4h3.4M84.0 -41.1h6.1M88.1 -38.7h3.4M107.3 -38.7h3.4M86.7 -36.3h6.1M103.2 -36.3h3.4M88.1 -33.9h6.1M101.8 -33.9h6.1M89.5 -31.5h11.6M62.0 30.3h6.1M70.2 30.3h11.6M60.6 32.7h3.4M82.6 32.7h3.4M62.0 35.1h3.4M81.2 35.1h3.4M60.6 37.5h3.4M60.6 42.2h3.4M62.0 44.6h3.4M62.0 49.4h3.4"/><path stroke="#3c8aba" d="M63.3 -14.9h3.4M22.1 13.7h3.4M19.3 18.4h3.4M49.6 37.5h3.4M92.2 44.6h3.4M67.5 58.9h8.8M78.5 58.9h11.6M66.1 61.3h22.6M73.0 63.7h11.6M28.9 68.4h3.4M42.7 73.2h3.4M51.0 73.2h3.4M56.5 73.2h3.4M41.3 75.6h3.4M49.6 75.6h6.1M37.2 77.9h3.4M53.7 77.9h3.4M59.2 77.9h3.4M46.8 80.3h3.4M63.3 80.3h3.4M51.0 82.7h3.4M59.2 82.7h3.4M42.7 87.5h3.4M59.2 87.5h3.4M63.3 89.8h3.4M34.5 92.2h3.4M49.6 94.6h3.4M62.0 101.7h3.4"/><path stroke="#ccdc9d" d="M78.5 -60.1h3.4M75.7 -55.3h3.4M70.2 -50.6h3.4M68.8 -48.2h6.1M67.5 -41.1h3.4M67.5 -36.3h6.1M70.2 -31.5h3.4M68.8 -29.2h3.4M-8.2 -5.4h3.4M-6.8 -3.0h3.4M52.3 28.0h3.4M55.1 32.7h3.4M44.1 37.5h3.4M57.8 42.2h3.4M57.8 51.8h3.4M59.2 54.1h3.4M57.8 56.5h3.4M59.2 58.9h3.4M57.8 61.3h3.4M53.7 63.7h3.4M55.1 66.0h3.4M104.6 66.0h3.4M100.5 68.4h3.4M66.1 70.8h6.1M66.1 75.6h3.4"/><path stroke="#7dc7a5" d="M71.6 -53.0h6.1M103.2 39.9h3.4M88.1 42.2h22.6M81.2 44.6h11.6M95.0 44.6h6.1M103.2 44.6h3.4M90.8 47.0h3.4M96.3 47.0h14.3M84.0 49.4h19.9M82.6 51.8h3.4M90.8 51.8h6.1M99.1 51.8h8.8M70.2 54.1h6.1M95.0 54.1h3.4M100.5 54.1h3.4M93.6 56.5h14.3M92.2 58.9h3.4M106.0 58.9h3.4M90.8 61.3h3.4M68.8 66.0h3.4M35.8 70.8h3.4M42.7 82.7h3.4M41.3 85.1h3.4M46.8 85.1h3.4M35.8 94.6h3.4"/><path stroke="#dfed9e" d="M67.5 -31.5h3.4M71.6 -29.2h3.4M55.1 28.0h3.4M90.8 28.0h3.4M51.0 30.3h8.8M89.5 30.3h3.4M95.0 30.3h3.4M100.5 30.3h6.1M88.1 32.7h3.4M86.7 35.1h8.8M106.0 35.1h3.4M57.8 37.5h3.4M85.3 37.5h3.4M93.6 37.5h3.4M101.8 37.5h6.1M89.5 39.9h3.4M44.1 42.2h3.4M51.0 58.9h3.4M60.6 61.3h3.4M93.6 61.3h3.4M107.3 61.3h3.4M96.3 66.0h6.1M95.0 68.4h6.1M67.5 77.9h3.4"/><path stroke="#959ba1" d="M70.2 -55.3h3.4M67.5 -50.6h3.4M74.3 -48.2h3.4M73.0 -31.5h3.4M67.5 -26.8h6.1M53.7 25.6h3.4M44.1 28.0h3.4M101.8 28.0h6.1M38.6 32.7h3.4M38.6 37.5h3.4M38.6 42.2h3.4M38.6 47.0h3.4M64.7 54.1h3.4M108.7 54.1h3.4M41.3 56.5h3.4M42.7 58.9h3.4M108.7 58.9h3.4M44.1 61.3h3.4M48.2 63.7h3.4M106.0 68.4h3.4M57.8 70.8h3.4M79.8 70.8h8.8M67.5 82.7h3.4"/><path stroke="#95d3a4" d="M70.2 -41.1h3.4M-13.7 -5.4h6.1M33.1 18.4h3.4M40.0 20.8h3.4M35.8 23.2h3.4M40.0 25.6h3.4M42.7 30.3h3.4M92.2 39.9h3.4M85.3 42.2h3.4M106.0 44.6h3.4M93.6 47.0h3.4M106.0 49.4h3.4M55.1 51.8h3.4M97.7 54.1h3.4M62.0 58.9h3.4M95.0 58.9h8.8M46.8 61.3h3.4M62.0 63.7h3.4M33.1 70.8h3.4M60.6 70.8h3.4M74.3 70.8h3.4M96.3 70.8h3.4M35.8 80.3h3.4"/><path stroke="#5186b0" d="M60.6 -19.6h3.4M60.6 -14.9h3.4M67.5 -12.5h3.4M62.0 -7.7h6.1M16.6 13.7h6.1M27.6 13.7h6.1M38.6 13.7h3.4M17.9 16.1h3.4M16.6 18.4h3.4M23.4 20.8h6.1M27.6 23.2h6.1M31.7 25.6h3.4M35.8 28.0h3.4M75.7 73.2h6.1M74.3 75.6h3.4M73.0 77.9h8.8M74.3 80.3h3.4M73.0 82.7h3.4M78.5 82.7h3.4M74.3 85.1h6.1M73.0 87.5h8.8M74.3 89.8h6.1M75.7 92.2h6.1"/><path stroke="#57b1ac" d="M66.1 -19.6h3.4M15.2 16.1h3.4M48.2 16.1h3.4M24.8 18.4h6.1M31.7 20.8h3.4M22.1 28.0h6.1M31.7 30.3h3.4M86.7 39.9h3.4M55.1 42.2h3.4M100.5 44.6h3.4M85.3 51.8h3.4M96.3 51.8h3.4M86.7 54.1h3.4M92.2 54.1h3.4M44.1 56.5h3.4M63.3 56.5h3.4M74.3 56.5h3.4M75.7 58.9h3.4M89.5 58.9h3.4M84.0 63.7h3.4M38.6 70.8h3.4M52.3 80.3h3.4M37.2 87.5h3.4"/><path stroke="#f5aa63" d="M86.7 -60.1h3.4M101.8 -57.7h3.4M92.2 -55.3h6.1M100.5 -55.3h3.4M90.8 -53.0h11.6M92.2 -50.6h6.1M100.5 -50.6h6.1M90.8 -48.2h14.3M86.7 -45.8h3.4M100.5 -45.8h6.1M96.3 -43.4h8.8M89.5 -41.1h11.6M103.2 -41.1h3.4M93.6 -38.7h6.1M96.3 -33.9h3.4M100.5 -31.5h3.4M67.5 30.3h3.4M62.0 39.9h3.4M73.0 44.6h3.4M60.6 47.0h3.4M77.1 47.0h3.4"/><path stroke="#d2e69e" d="M68.8 -43.4h3.4M68.8 -38.7h3.4M68.8 -33.9h3.4M-5.4 -5.4h6.1M48.2 30.3h3.4M41.3 32.7h3.4M42.7 35.1h3.4M41.3 37.5h3.4M90.8 37.5h3.4M107.3 37.5h3.4M42.7 39.9h3.4M41.3 42.2h3.4M42.7 44.6h6.1M56.5 49.4h3.4M99.1 61.3h3.4M56.5 63.7h6.1M95.0 63.7h14.3M57.8 66.0h3.4M93.6 66.0h3.4M42.7 77.9h3.4"/><path stroke="#69c2a6" d="M62.0 -12.5h6.1M30.3 18.4h3.4M56.5 39.9h3.4M82.6 42.2h3.4M51.0 44.6h3.4M88.1 51.8h3.4M103.2 58.9h3.4M79.8 66.0h3.4M62.0 68.4h3.4M40.0 73.2h3.4M55.1 75.6h6.1M68.8 75.6h3.4M62.0 77.9h3.4M64.7 82.7h3.4M35.8 85.1h3.4M31.7 87.5h3.4M53.7 87.5h3.4M51.0 92.2h6.1M67.5 92.2h3.4M46.8 94.6h3.4"/><path stroke="#7f749e" d="M73.0 -60.1h3.4M74.3 -43.4h3.4M63.3 -38.7h3.4M104.6 -29.2h3.4M73.0 -26.8h3.4M89.5 -26.8h6.1M48.2 25.6h3.4M64.7 25.6h25.4M95.0 25.6h6.1M107.3 28.0h3.4M38.6 51.8h3.4M40.0 54.1h3.4M41.3 61.3h3.4M45.5 63.7h3.4M49.6 66.0h3.4M110.1 66.0h3.4M108.7 68.4h3.4M92.2 73.2h8.8M66.1 85.1h3.4"/><path stroke="#adb09f" d="M75.7 -60.1h3.4M68.8 -53.0h3.4M75.7 -50.6h3.4M73.0 -45.8h3.4M66.1 -43.4h3.4M71.6 -38.7h3.4M66.1 -33.9h3.4M66.1 -29.2h3.4M46.8 28.0h3.4M99.1 28.0h3.4M40.0 30.3h3.4M107.3 32.7h3.4M40.0 49.4h3.4M108.7 63.7h3.4M52.3 66.0h3.4M107.3 66.0h3.4M88.1 70.8h6.1M99.1 70.8h3.4"/><path stroke="#8e829b" d="M71.6 -57.7h3.4M66.1 -48.2h3.4M77.1 -48.2h3.4M64.7 -41.1h3.4M73.0 -41.1h3.4M78.5 -41.1h3.4M64.7 -36.3h3.4M73.0 -36.3h3.4M64.7 -31.5h3.4M108.7 -31.5h3.4M51.0 25.6h3.4M56.5 25.6h8.8M89.5 25.6h6.1M53.7 68.4h3.4M101.8 70.8h3.4M70.2 77.9h3.4M68.8 80.3h3.4"/><path stroke="#bec59f" d="M74.3 -57.7h3.4M67.5 -45.8h3.4M66.1 -38.7h3.4M71.6 -33.9h3.4M57.8 28.0h3.4M85.3 28.0h6.1M93.6 28.0h3.4M106.0 30.3h3.4M40.0 35.1h3.4M40.0 39.9h3.4M40.0 44.6h3.4M62.0 54.1h3.4M103.2 68.4h3.4M93.6 70.8h3.4M70.2 73.2h3.4M64.7 77.9h3.4M66.1 80.3h3.4"/><path stroke="#7fada8" d="M-9.6 -7.7h3.4M1.4 -7.7h3.4M2.8 -5.4h3.4M-12.3 -3.0h3.4M-2.7 -0.6h6.1M34.5 16.1h3.4M40.0 16.1h6.1M44.1 23.2h3.4M42.7 25.6h3.4M67.5 54.1h3.4M78.5 54.1h3.4M89.5 63.7h3.4M63.3 66.0h3.4M88.1 66.0h3.4M77.1 70.8h3.4M60.6 75.6h3.4M62.0 82.7h3.4"/><path stroke="#6a89a7" d="M-8.2 -10.1h11.6M4.2 -7.7h3.4M-15.1 -3.0h3.4M4.2 -3.0h3.4M-13.7 -0.6h3.4M2.8 -0.6h3.4M-6.8 1.8h3.4M44.1 18.4h3.4M45.5 20.8h3.4M45.5 25.6h3.4M38.6 28.0h3.4M73.0 73.2h3.4M71.6 75.6h3.4M60.6 80.3h3.4M63.3 85.1h3.4"/><path stroke="#9fc5a5" d="M-6.8 -7.7h8.8M1.4 -3.0h3.4M-8.2 -0.6h6.1M45.5 35.1h3.4M45.5 39.9h3.4M56.5 44.6h3.4M49.6 47.0h6.1M107.3 51.8h3.4M42.7 54.1h3.4M107.3 56.5h3.4M67.5 68.4h11.6M81.2 68.4h8.8M71.6 70.8h3.4M62.0 73.2h3.4M63.3 75.6h3.4"/><path stroke="#6ba7b0" d="M-12.3 -7.7h3.4M33.1 23.2h3.4M34.5 25.6h3.4M51.0 35.1h6.1M46.8 37.5h3.4M48.2 44.6h3.4M53.7 44.6h3.4M81.2 54.1h6.1M89.5 54.1h3.4M90.8 56.5h3.4M63.3 61.3h3.4M66.1 66.0h3.4M71.6 66.0h8.8M82.6 66.0h6.1"/><path stroke="#f2f2ab" d="M77.1 -57.7h3.4M79.8 -53.0h3.4M106.0 -36.3h3.4M85.3 -33.9h3.4M92.2 30.3h3.4M97.7 30.3h3.4M85.3 32.7h3.4M90.8 32.7h17.1M95.0 35.1h11.6M96.3 37.5h3.4M46.8 47.0h3.4M101.8 66.0h3.4"/><path stroke="#f88950" d="M84.0 -45.8h3.4M97.7 -45.8h3.4M88.1 -43.4h3.4M100.5 -41.1h3.4M92.2 -36.3h3.4M64.7 35.1h3.4M64.7 39.9h3.4M75.7 39.9h3.4M77.1 42.2h3.4M64.7 49.4h3.4M63.3 51.8h3.4"/><path stroke="#fecb79" d="M88.1 -57.7h3.4M86.7 -55.3h3.4M97.7 -55.3h3.4M106.0 -55.3h3.4M89.5 -45.8h3.4M82.6 -38.7h6.1M84.0 -36.3h3.4M93.6 -33.9h3.4M75.7 35.1h3.4M63.3 47.0h3.4"/><path stroke="#dcb17c" d="M108.7 -50.6h3.4M79.8 -48.2h3.4M81.2 -41.1h3.4M108.7 -41.1h3.4M108.7 -36.3h3.4M86.7 -31.5h3.4M103.2 -31.5h3.4M78.5 39.9h3.4M78.5 44.6h3.4M66.1 51.8h14.3"/><path stroke="#dfd28d" d="M81.2 -60.1h3.4M79.8 -57.7h3.4M78.5 -55.3h3.4M59.2 30.3h3.4M84.0 30.3h3.4M84.0 35.1h3.4M59.2 39.9h3.4M59.2 44.6h3.4M60.6 51.8h3.4"/><path stroke="#fedf8c" d="M96.3 -57.7h3.4M101.8 -53.0h3.4M97.7 -50.6h3.4M81.2 -45.8h3.4M108.7 -45.8h3.4M97.7 -36.3h3.4M59.2 35.1h3.4M79.8 37.5h3.4M78.5 49.4h3.4"/><path stroke="#c0b68e" d="M77.1 -53.0h3.4M60.6 28.0h25.4M82.6 37.5h3.4M81.2 39.9h3.4M79.8 42.2h3.4M79.8 47.0h3.4M81.2 49.4h3.4M79.8 51.8h3.4"/><path stroke="#b28c89" d="M78.5 -45.8h3.4M79.8 -38.7h3.4M81.2 -36.3h3.4M82.6 -33.9h3.4M84.0 -31.5h3.4M106.0 -31.5h3.4M85.3 -29.2h3.4M96.3 -29.2h8.8"/><path stroke="#ca9f82" d="M110.1 -53.0h3.4M78.5 -50.6h3.4M79.8 -43.4h3.4M107.3 -33.9h3.4M88.1 -29.2h8.8"/><path stroke="#cf414a" d="M56.5 35.1h3.4M52.3 37.5h6.1M51.0 39.9h3.4M57.8 47.0h3.4"/><path stroke="#9f0242" d="M53.7 49.4h3.4"/></g>
<use href="#holes"/>
</g>
<g transform="translate(402.1,117.1)">
<use href="#dots" fill="#6f9a96"/>
<g fill="none" stroke-width="3"><path stroke="#ede39b" d="M28.9 -41.1h6.1M22.1 -38.7h6.1M30.3 -38.7h3.4M28.9 -36.3h3.4M22.1 -33.9h3.4M30.3 -33.9h6.1M23.4 -31.5h3.4M28.9 -31.5h6.1M22.1 -29.2h3.4M27.6 -29.2h8.8M23.4 -26.8h6.1M31.7 -26.8h3.4M22.1 -24.4h3.4M30.3 -24.4h6.1M23.4 -22.0h6.1M30.3 -19.6h6.1M-5.4 23.2h3.4M0.1 23.2h19.9M-4.0 25.6h3.4M7.0 25.6h14.3M-8.2 28.0h19.9M13.8 28.0h3.4M19.3 28.0h3.4M-9.6 30.3h8.8M1.4 30.3h6.1M9.7 30.3h14.3M-5.4 32.7h6.1M2.8 32.7h6.1M13.8 32.7h3.4M22.1 32.7h3.4M-9.6 35.1h3.4M-4.0 35.1h8.8M9.7 35.1h6.1M17.9 35.1h6.1M-10.9 37.5h8.8M0.1 37.5h8.8M11.1 37.5h14.3M-12.3 39.9h3.4M-6.8 39.9h14.3M9.7 39.9h14.3M-27.4 42.2h28.1M2.8 42.2h8.8M19.3 42.2h3.4M24.8 42.2h3.4M-28.8 44.6h8.8M-17.8 44.6h3.4M-6.8 44.6h11.6M7.0 44.6h8.8M17.9 44.6h11.6M-21.9 47.0h19.9M0.1 47.0h3.4M5.6 47.0h3.4M19.3 47.0h6.1M-26.1 49.4h3.4M-20.6 49.4h6.1M-12.3 49.4h3.4M-6.8 49.4h14.3M9.7 49.4h3.4M15.2 49.4h8.8M26.2 49.4h6.1M-27.4 51.8h17.1M-5.4 51.8h6.1M2.8 51.8h30.9M-26.1 54.1h3.4M-20.6 54.1h17.1M-1.3 54.1h11.6M15.2 54.1h14.3M31.7 54.1h3.4M-24.7 56.5h17.1M-5.4 56.5h3.4M2.8 56.5h8.8M16.6 56.5h6.1M27.6 56.5h3.4M33.1 56.5h3.4M-9.6 58.9h3.4M-4.0 58.9h17.1M17.9 58.9h14.3M-5.4 61.3h6.1M2.8 61.3h19.9M27.6 61.3h11.6M-12.3 63.7h3.4M-6.8 63.7h8.8M7.0 63.7h14.3M23.4 63.7h6.1M31.7 63.7h8.8M-13.7 66.0h6.1M-5.4 66.0h3.4M0.1 66.0h6.1M8.3 66.0h14.3M24.8 66.0h14.3M-12.3 68.4h14.3M23.4 68.4h19.9M-13.7 70.8h8.8M-2.7 70.8h3.4M24.8 70.8h19.9M-15.1 73.2h6.1M-6.8 73.2h6.1M28.9 73.2h6.1M37.2 73.2h8.8M-19.2 75.6h17.1M27.6 75.6h19.9M-20.6 77.9h17.1M31.7 77.9h3.4M40.0 77.9h6.1M-19.2 80.3h17.1M30.3 80.3h6.1M38.6 80.3h3.4M44.1 80.3h3.4M-17.8 82.7h14.3M28.9 82.7h8.8M42.7 82.7h6.1M-13.7 85.1h11.6M27.6 85.1h8.8M38.6 85.1h11.6M-9.6 87.5h8.8M28.9 87.5h8.8M40.0 87.5h8.8M-10.9 89.8h8.8M27.6 89.8h25.4M-15.1 92.2h14.3M31.7 92.2h19.9M-13.7 94.6h8.8M30.3 94.6h8.8M41.3 94.6h11.6M-15.1 97.0h3.4M-6.8 97.0h3.4M28.9 97.0h14.3M48.2 97.0h3.4M-13.7 99.4h3.4M-8.2 99.4h8.8M30.3 99.4h11.6M44.1 99.4h3.4M-15.1 101.7h14.3M28.9 101.7h6.1M40.0 101.7h11.6M-10.9 104.1h8.8M27.6 104.1h6.1M35.8 104.1h6.1M44.1 104.1h6.1M-15.1 106.5h11.6M-1.3 106.5h3.4M26.2 106.5h3.4M31.7 106.5h6.1M45.5 106.5h6.1M-8.2 108.9h3.4M-2.7 108.9h8.8M8.3 108.9h6.1M16.6 108.9h11.6M30.3 108.9h8.8M44.1 108.9h8.8M-6.8 111.3h8.8M4.2 111.3h41.9M51.0 111.3h3.4M2.8 113.6h47.4M17.9 116.0h3.4"/><path stroke="#3388bd" d="M9.7 -60.1h3.4M-19.2 -57.7h3.4M20.7 -55.3h3.4M2.8 -48.2h3.4M-4.0 -41.1h3.4M103.2 -41.1h3.4M9.7 -36.3h3.4M108.7 -36.3h3.4M104.6 -33.9h3.4M92.2 -31.5h6.1M106.0 -31.5h3.4M82.6 -29.2h3.4M88.1 -29.2h14.3M104.6 -29.2h3.4M-4.0 -26.8h3.4M81.2 -26.8h6.1M89.5 -26.8h19.9M82.6 -24.4h8.8M93.6 -24.4h14.3M81.2 -22.0h8.8M92.2 -22.0h17.1M79.8 -19.6h8.8M90.8 -19.6h14.3M70.2 -17.3h3.4M81.2 -17.3h11.6M95.0 -17.3h14.3M57.8 -14.9h3.4M82.6 -14.9h14.3M99.1 -14.9h8.8M17.9 -12.5h3.4M81.2 -12.5h3.4M86.7 -12.5h3.4M92.2 -12.5h3.4M97.7 -12.5h11.6M79.8 -10.1h3.4M85.3 -10.1h22.6M81.2 -7.7h8.8M95.0 -7.7h14.3M79.8 -5.4h14.3M96.3 -5.4h8.8M107.3 -5.4h3.4M81.2 -3.0h8.8M92.2 -3.0h17.1M79.8 -0.6h3.4M85.3 -0.6h11.6M99.1 -0.6h3.4M107.3 -0.6h3.4M62.0 1.8h3.4M78.5 1.8h8.8M100.5 1.8h8.8M49.6 4.2h3.4M63.3 4.2h3.4M68.8 4.2h8.8M79.8 4.2h19.9M101.8 4.2h8.8M-23.3 6.5h3.4M-12.3 6.5h19.9M40.0 6.5h3.4M45.5 6.5h17.1M64.7 6.5h14.3M81.2 6.5h28.1M-10.9 8.9h19.9M38.6 8.9h3.4M44.1 8.9h3.4M49.6 8.9h19.9M71.6 8.9h3.4M77.1 8.9h14.3M93.6 8.9h6.1M101.8 8.9h6.1M-9.6 11.3h17.1M42.7 11.3h14.3M59.2 11.3h3.4M64.7 11.3h3.4M73.0 11.3h22.6M97.7 11.3h14.3M41.3 13.7h11.6M55.1 13.7h6.1M63.3 13.7h6.1M82.6 13.7h19.9M104.6 13.7h6.1M51.0 16.1h17.1M75.7 16.1h3.4M81.2 16.1h14.3M97.7 16.1h6.1M106.0 16.1h3.4M44.1 18.4h17.1M63.3 18.4h8.8M74.3 18.4h3.4M79.8 18.4h3.4M85.3 18.4h6.1M93.6 18.4h8.8M104.6 18.4h3.4M45.5 20.8h8.8M56.5 20.8h11.6M70.2 20.8h6.1M78.5 20.8h8.8M89.5 20.8h3.4M95.0 20.8h3.4M103.2 20.8h6.1M41.3 23.2h3.4M46.8 23.2h17.1M66.1 23.2h14.3M85.3 23.2h14.3M101.8 23.2h3.4M42.7 25.6h3.4M51.0 25.6h3.4M44.1 28.0h8.8M37.2 30.3h8.8M48.2 30.3h3.4M35.8 32.7h14.3M55.1 32.7h3.4M37.2 35.1h14.3M38.6 37.5h11.6M42.7 39.9h8.8M41.3 42.2h3.4M46.8 42.2h3.4M45.5 44.6h6.1M44.1 47.0h8.8M45.5 49.4h6.1M52.3 51.8h3.4M48.2 54.1h8.8M11.1 56.5h3.4M49.6 56.5h8.8M51.0 58.9h3.4M56.5 58.9h3.4M52.3 61.3h3.4M53.7 63.7h3.4M52.3 66.0h6.1M53.7 68.4h6.1M92.2 68.4h3.4M56.5 73.2h3.4M97.7 73.2h3.4M101.8 75.6h3.4M107.3 108.9h3.4"/><path stroke="#3b8ebb" d="M20.7 -64.9h3.4M-6.8 -60.1h3.4M13.8 -57.7h3.4M-5.4 -53.0h3.4M-13.7 -43.4h3.4M104.6 -43.4h3.4M-1.3 -41.1h3.4M7.0 -41.1h3.4M96.3 -33.9h8.8M107.3 -33.9h3.4M81.2 -31.5h8.8M103.2 -31.5h3.4M108.7 -31.5h3.4M-35.7 -29.2h3.4M107.3 -29.2h3.4M78.5 -26.8h3.4M86.7 -26.8h3.4M108.7 -26.8h3.4M77.1 -24.4h3.4M107.3 -24.4h3.4M78.5 -22.0h3.4M89.5 -22.0h3.4M108.7 -22.0h3.4M77.1 -19.6h3.4M107.3 -19.6h3.4M78.5 -17.3h3.4M108.7 -17.3h3.4M55.1 -14.9h3.4M77.1 -14.9h3.4M78.5 -12.5h3.4M108.7 -12.5h3.4M77.1 -10.1h3.4M82.6 -10.1h3.4M107.3 -10.1h3.4M78.5 -7.7h3.4M108.7 -7.7h3.4M68.8 -5.4h3.4M77.1 -5.4h3.4M78.5 -3.0h3.4M108.7 -3.0h3.4M60.6 -0.6h3.4M74.3 -0.6h3.4M53.7 1.8h8.8M64.7 1.8h14.3M108.7 1.8h3.4M52.3 4.2h6.1M60.6 4.2h3.4M-28.8 6.5h6.1M-20.6 6.5h8.8M31.7 6.5h6.1M-13.7 8.9h3.4M35.8 8.9h3.4M110.1 8.9h3.4M-12.3 11.3h3.4M7.0 11.3h3.4M40.0 11.3h3.4M-8.2 13.7h17.1M27.6 13.7h3.4M68.8 13.7h3.4M77.1 13.7h3.4M70.2 16.1h3.4M108.7 16.1h3.4M71.6 18.4h3.4M82.6 18.4h3.4M42.7 20.8h3.4M107.3 23.2h3.4M40.0 25.6h3.4M45.5 25.6h3.4M56.5 25.6h8.8M35.8 28.0h6.1M55.1 28.0h3.4M34.5 30.3h3.4M53.7 30.3h3.4M33.1 32.7h3.4M52.3 32.7h3.4M34.5 35.1h3.4M35.8 37.5h3.4M49.6 37.5h3.4M37.2 39.9h3.4M38.6 42.2h3.4M49.6 42.2h3.4M40.0 44.6h3.4M41.3 47.0h3.4M42.7 49.4h3.4M53.7 49.4h3.4M44.1 51.8h8.8M55.1 51.8h3.4M56.5 54.1h3.4M46.8 56.5h3.4M48.2 58.9h3.4M49.6 61.3h3.4M1.4 63.7h3.4M51.0 63.7h3.4M55.1 75.6h6.1M56.5 77.9h3.4M106.0 77.9h3.4M56.5 82.7h3.4"/><path stroke="#5aa2b2" d="M1.4 -64.9h3.4M7.0 -64.9h11.6M23.4 -64.9h6.1M-8.2 -62.5h3.4M-2.7 -62.5h8.8M8.3 -62.5h3.4M13.8 -62.5h3.4M19.3 -62.5h8.8M-9.6 -60.1h3.4M-1.3 -60.1h11.6M12.4 -60.1h8.8M23.4 -60.1h6.1M-8.2 -57.7h22.6M16.6 -57.7h3.4M22.1 -57.7h6.1M-9.6 -55.3h3.4M-1.3 -55.3h6.1M12.4 -55.3h3.4M17.9 -55.3h3.4M23.4 -55.3h6.1M-2.7 -53.0h17.1M16.6 -53.0h6.1M-12.3 -50.6h6.1M-4.0 -50.6h6.1M7.0 -50.6h3.4M-10.9 -48.2h3.4M-5.4 -48.2h8.8M5.6 -48.2h8.8M-9.6 -45.8h11.6M9.7 -45.8h3.4M-8.2 -43.4h19.9M96.3 -43.4h3.4M-12.3 -41.1h8.8M1.4 -41.1h3.4M106.0 -41.1h3.4M-8.2 -38.7h14.3M8.3 -38.7h3.4M52.3 -38.7h6.1M96.3 -38.7h3.4M-12.3 -36.3h6.1M-4.0 -36.3h6.1M4.2 -36.3h6.1M51.0 -36.3h3.4M-35.7 -33.9h3.4M-13.7 -33.9h8.8M-2.7 -33.9h11.6M49.6 -33.9h3.4M-34.3 -31.5h3.4M-9.6 -31.5h3.4M4.2 -31.5h3.4M9.7 -31.5h3.4M48.2 -31.5h3.4M-13.7 -29.2h19.9M8.3 -29.2h3.4M74.3 -29.2h3.4M-37.0 -26.8h6.1M-12.3 -26.8h3.4M-6.8 -26.8h3.4M-1.3 -26.8h11.6M48.2 -26.8h3.4M67.5 -26.8h3.4M-35.7 -24.4h6.1M-13.7 -24.4h3.4M-8.2 -24.4h3.4M-2.7 -24.4h11.6M55.1 -24.4h3.4M-34.3 -22.0h3.4M55.1 -19.6h3.4M55.1 -10.1h3.4M55.1 -5.4h3.4M-26.1 11.3h3.4M-20.6 11.3h3.4M7.0 16.1h3.4M30.3 28.0h3.4M60.6 28.0h3.4M30.3 32.7h3.4M56.5 49.4h3.4M52.3 75.6h3.4M53.7 77.9h3.4M99.1 89.8h3.4M104.6 89.8h6.1M108.7 97.0h3.4M96.3 99.4h3.4M108.7 106.5h3.4"/><path stroke="#4b9fb4" d="M17.9 -64.9h3.4M27.6 -62.5h3.4M-4.0 -60.1h3.4M20.7 -60.1h3.4M4.2 -55.3h3.4M9.7 -50.6h3.4M-10.9 -43.4h3.4M99.1 -43.4h3.4M97.7 -41.1h6.1M99.1 -38.7h8.8M1.4 -36.3h3.4M53.7 -36.3h3.4M95.0 -36.3h6.1M52.3 -33.9h3.4M79.8 -33.9h6.1M-37.0 -31.5h3.4M51.0 -31.5h3.4M70.2 -26.8h8.8M60.6 -24.4h14.3M79.8 -24.4h3.4M62.0 -22.0h14.3M57.8 -19.6h17.1M-34.3 -17.3h3.4M56.5 -17.3h14.3M60.6 -14.9h14.3M107.3 -14.9h3.4M59.2 -12.5h17.1M60.6 -10.1h6.1M68.8 -10.1h6.1M56.5 -7.7h19.9M57.8 -5.4h11.6M71.6 -5.4h3.4M104.6 -5.4h3.4M56.5 -3.0h6.1M71.6 -0.6h3.4M77.1 -0.6h3.4M82.6 -0.6h3.4M96.3 -0.6h3.4M-15.1 1.8h3.4M45.5 1.8h3.4M-30.2 4.2h3.4M5.6 4.2h3.4M-30.2 8.9h3.4M74.3 8.9h3.4M-17.8 11.3h3.4M74.3 13.7h3.4M-4.0 16.1h3.4M101.8 18.4h3.4M40.0 20.8h3.4M53.7 20.8h3.4M100.5 20.8h3.4M33.1 23.2h3.4M104.6 23.2h3.4M34.5 25.6h6.1M33.1 28.0h3.4M57.8 28.0h3.4M85.3 28.0h3.4M7.0 30.3h3.4M56.5 30.3h3.4M44.1 42.2h3.4M45.5 58.9h3.4M53.7 58.9h3.4M55.1 61.3h3.4M96.3 70.8h3.4M97.7 92.2h11.6M99.1 94.6h11.6M97.7 97.0h3.4M103.2 97.0h6.1M101.8 99.4h3.4M97.7 101.7h14.3M99.1 104.1h3.4M97.7 106.5h6.1M101.8 108.9h3.4"/><path stroke="#4495b7" d="M7.0 -55.3h3.4M12.4 -50.6h3.4M-13.7 -38.7h3.4M93.6 -38.7h3.4M100.5 -36.3h8.8M85.3 -33.9h6.1M93.6 -33.9h3.4M78.5 -31.5h3.4M89.5 -31.5h3.4M77.1 -29.2h3.4M85.3 -29.2h3.4M74.3 -24.4h3.4M-37.0 -22.0h3.4M75.7 -22.0h3.4M74.3 -19.6h3.4M75.7 -17.3h3.4M92.2 -17.3h3.4M74.3 -14.9h3.4M75.7 -12.5h3.4M95.0 -12.5h3.4M66.1 -10.1h3.4M74.3 -10.1h3.4M75.7 -7.7h3.4M74.3 -5.4h3.4M62.0 -3.0h3.4M70.2 -3.0h8.8M57.8 -0.6h3.4M63.3 -0.6h6.1M-27.4 4.2h6.1M-19.2 4.2h17.1M0.1 4.2h6.1M30.3 4.2h6.1M38.6 4.2h6.1M46.8 4.2h3.4M99.1 4.2h3.4M7.0 6.5h3.4M28.9 6.5h3.4M108.7 6.5h3.4M-27.4 8.9h8.8M-16.4 8.9h3.4M30.3 8.9h6.1M90.8 8.9h3.4M99.1 8.9h3.4M-15.1 11.3h3.4M-10.9 13.7h3.4M8.3 13.7h3.4M38.6 13.7h3.4M52.3 13.7h3.4M71.6 13.7h3.4M40.0 16.1h3.4M103.2 16.1h3.4M67.5 20.8h3.4M75.7 20.8h3.4M97.7 20.8h3.4M108.7 20.8h3.4M99.1 23.2h3.4M64.7 25.6h25.4M92.2 25.6h17.1M31.7 30.3h3.4M52.3 47.0h3.4M57.8 56.5h3.4M59.2 63.7h3.4M57.8 66.0h3.4M51.0 68.4h3.4M59.2 68.4h3.4M52.3 70.8h3.4M53.7 73.2h3.4M59.2 77.9h3.4"/><path stroke="#cfe79c" d="M-24.7 -57.7h6.1M-26.1 -55.3h6.1M-24.7 -53.0h3.4M-26.1 -50.6h3.4M-20.6 -50.6h3.4M-24.7 -48.2h6.1M-26.1 -45.8h6.1M-30.2 -43.4h11.6M-26.1 -41.1h3.4M70.2 -41.1h6.1M-24.7 -38.7h6.1M-16.4 -38.7h3.4M-26.1 -36.3h6.1M-24.7 -33.9h3.4M-26.1 -31.5h3.4M7.0 -31.5h3.4M-24.7 -29.2h6.1M-23.3 -26.8h3.4M-24.7 -24.4h6.1M-23.3 -22.0h3.4M-24.7 -19.6h3.4M0.1 -19.6h3.4M-23.3 -17.3h6.1M17.9 -17.3h3.4M34.5 -17.3h3.4M-27.4 -14.9h11.6M16.6 -14.9h3.4M22.1 -14.9h8.8M-31.6 -12.5h14.3M-12.3 -12.5h3.4M12.4 -12.5h6.1M20.7 -12.5h3.4M26.2 -12.5h6.1M-35.7 -10.1h8.8M-24.7 -10.1h3.4M-16.4 -10.1h11.6M0.1 -10.1h3.4M5.6 -10.1h3.4M11.1 -10.1h17.1M30.3 -10.1h3.4M-26.1 -7.7h17.1M-6.8 -7.7h6.1M4.2 -7.7h6.1M17.9 -7.7h8.8M28.9 -7.7h6.1M-32.9 -5.4h11.6M-19.2 -5.4h8.8M-8.2 -5.4h17.1M11.1 -5.4h11.6M24.8 -5.4h3.4M30.3 -5.4h6.1M23.4 -3.0h3.4M-30.2 -0.6h3.4M-2.7 4.2h3.4M-2.7 23.2h3.4M23.4 30.3h3.4M85.3 37.5h3.4M97.7 39.9h3.4M-26.1 58.9h3.4M-13.7 61.3h3.4M-17.8 63.7h3.4M-30.2 66.0h3.4M38.6 66.0h3.4M-28.8 68.4h3.4"/><path stroke="#fee28f" d="M57.8 -57.7h3.4M56.5 -45.8h3.4M38.6 -33.9h3.4M28.9 -26.8h3.4M44.1 -14.9h6.1M48.2 -12.5h3.4M-8.2 32.7h3.4M19.3 32.7h3.4M15.2 35.1h3.4M7.0 39.9h3.4M0.1 42.2h3.4M68.8 42.2h3.4M-20.6 44.6h3.4M64.7 44.6h3.4M70.2 44.6h3.4M-15.1 49.4h3.4M-8.2 51.8h3.4M0.1 51.8h3.4M-8.2 56.5h3.4M66.1 56.5h3.4M-6.8 58.9h3.4M0.1 61.3h3.4M22.1 61.3h3.4M104.6 61.3h3.4M56.5 63.7h3.4M89.5 63.7h3.4M22.1 66.0h3.4M82.6 66.0h3.4M71.6 70.8h3.4M70.2 73.2h3.4M13.8 75.6h3.4M108.7 77.9h3.4M82.6 80.3h3.4M37.2 82.7h3.4M60.6 85.1h3.4M79.8 85.1h3.4M20.7 87.5h3.4M37.2 87.5h3.4M-13.7 89.8h3.4M19.3 89.8h3.4M55.1 89.8h3.4M16.6 94.6h3.4M24.8 94.6h3.4M7.0 97.0h3.4M23.4 97.0h3.4M22.1 99.4h3.4M88.1 99.4h3.4M20.7 101.7h3.4M51.0 101.7h3.4M-13.7 104.1h3.4M63.3 104.1h3.4M104.6 104.1h3.4M37.2 106.5h3.4M51.0 106.5h3.4M38.6 108.9h3.4M52.3 113.6h3.4"/><path stroke="#acdda4" d="M99.1 -62.5h3.4M70.2 -60.1h11.6M84.0 -60.1h19.9M-13.7 -57.7h3.4M68.8 -57.7h6.1M77.1 -57.7h6.1M85.3 -57.7h8.8M96.3 -57.7h6.1M70.2 -55.3h39.1M71.6 -53.0h22.6M99.1 -53.0h3.4M104.6 -53.0h6.1M-15.1 -50.6h3.4M70.2 -50.6h11.6M86.7 -50.6h3.4M92.2 -50.6h6.1M108.7 -50.6h3.4M68.8 -48.2h14.3M90.8 -48.2h3.4M75.7 -45.8h17.1M71.6 -43.4h19.9M-23.3 -41.1h3.4M75.7 -41.1h6.1M84.0 -41.1h8.8M71.6 -38.7h6.1M68.8 -33.9h3.4M-37.0 -17.3h3.4M-9.6 -17.3h3.4M20.7 -17.3h3.4M-37.0 -12.5h3.4M-17.8 -12.5h3.4M23.4 -12.5h3.4M-31.6 -7.7h3.4M15.2 -7.7h3.4M-21.9 -5.4h3.4M-10.9 -5.4h3.4M34.5 -3.0h3.4M-13.7 28.0h3.4M-19.2 32.7h6.1M63.3 32.7h14.3M79.8 32.7h30.9M62.0 35.1h22.6M86.7 35.1h11.6M100.5 35.1h6.1M-19.2 37.5h3.4M63.3 37.5h3.4M68.8 37.5h8.8M82.6 37.5h3.4M88.1 37.5h22.6M59.2 39.9h3.4M56.5 44.6h3.4M37.2 49.4h3.4M35.8 56.5h3.4M-16.4 61.3h3.4M45.5 63.7h3.4"/><path stroke="#56b0ac" d="M16.6 -62.5h3.4M28.9 -60.1h3.4M19.3 -57.7h3.4M15.2 -55.3h3.4M-12.3 -45.8h3.4M7.0 -45.8h3.4M15.2 -41.1h3.4M-35.7 -38.7h6.1M-15.1 -36.3h3.4M-32.9 -33.9h3.4M-4.0 -31.5h3.4M49.6 -29.2h3.4M8.3 -24.4h3.4M-35.7 -19.6h3.4M88.1 -19.6h3.4M-26.1 -17.3h3.4M73.0 -17.3h3.4M56.5 -12.5h3.4M57.8 -10.1h3.4M-28.8 -7.7h3.4M-26.1 -3.0h3.4M64.7 -3.0h3.4M89.5 -3.0h3.4M-26.1 1.8h3.4M34.5 1.8h3.4M44.1 4.2h3.4M66.1 4.2h3.4M107.3 8.9h3.4M-23.3 11.3h3.4M28.9 11.3h6.1M35.8 13.7h3.4M37.2 16.1h3.4M38.6 18.4h3.4M26.2 20.8h3.4M38.6 23.2h3.4M79.8 23.2h3.4M31.7 25.6h3.4M89.5 25.6h3.4M41.3 28.0h3.4M52.3 28.0h3.4M77.1 28.0h3.4M90.8 28.0h3.4M45.5 30.3h3.4M106.0 30.3h3.4M27.6 32.7h3.4M49.6 32.7h3.4M51.0 39.9h3.4M59.2 54.1h3.4M51.0 77.9h3.4M55.1 80.3h3.4M101.8 89.8h3.4M95.0 97.0h3.4M107.3 104.1h3.4M96.3 108.9h3.4"/><path stroke="#3982b7" d="M5.6 -62.5h3.4M28.9 -55.3h3.4M-23.3 -50.6h3.4M1.4 -31.5h3.4M97.7 -31.5h3.4M20.7 -26.8h3.4M84.0 -12.5h3.4M89.5 -12.5h3.4M67.5 -3.0h3.4M68.8 -0.6h3.4M89.5 1.8h8.8M8.3 4.2h3.4M42.7 6.5h3.4M-19.2 8.9h3.4M41.3 8.9h3.4M46.8 8.9h3.4M34.5 11.3h3.4M62.0 11.3h3.4M101.8 13.7h3.4M45.5 16.1h3.4M67.5 16.1h3.4M90.8 18.4h3.4M92.2 20.8h3.4M35.8 23.2h3.4M44.1 23.2h3.4M48.2 25.6h3.4M8.3 32.7h3.4M40.0 39.9h3.4M13.8 42.2h6.1M35.8 42.2h3.4M-15.1 44.6h6.1M15.2 44.6h3.4M9.7 54.1h3.4M45.5 54.1h3.4M13.8 56.5h3.4M12.4 58.9h6.1M-10.9 61.3h6.1M60.6 61.3h3.4M-9.6 63.7h3.4M4.2 63.7h3.4M55.1 70.8h3.4M101.8 70.8h3.4M23.4 73.2h6.1M103.2 73.2h3.4M24.8 75.6h3.4M99.1 80.3h6.1M5.6 85.1h3.4M4.2 87.5h6.1M26.2 92.2h6.1M-5.4 94.6h6.1M27.6 94.6h3.4M41.3 104.1h3.4M40.0 106.5h3.4"/><path stroke="#f0dc94" d="M34.5 -41.1h3.4M33.1 -38.7h3.4M34.5 -36.3h3.4M34.5 -31.5h3.4M35.8 -29.2h3.4M34.5 -26.8h3.4M35.8 -24.4h3.4M35.8 -19.6h3.4M35.8 -14.9h3.4M35.8 -10.1h3.4M37.2 -7.7h3.4M1.4 68.4h6.1M12.4 68.4h11.6M0.1 70.8h25.4M-1.3 73.2h11.6M12.4 73.2h3.4M17.9 73.2h6.1M-2.7 75.6h17.1M16.6 75.6h8.8M-1.3 77.9h6.1M9.7 77.9h19.9M-2.7 80.3h17.1M16.6 80.3h8.8M-1.3 82.7h22.6M23.4 82.7h6.1M-2.7 85.1h6.1M8.3 85.1h19.9M-1.3 87.5h6.1M9.7 87.5h11.6M23.4 87.5h6.1M-2.7 89.8h3.4M5.6 89.8h8.8M16.6 89.8h3.4M22.1 89.8h6.1M-1.3 92.2h3.4M7.0 92.2h19.9M51.0 92.2h3.4M0.1 94.6h11.6M13.8 94.6h3.4M19.3 94.6h6.1M-1.3 97.0h8.8M9.7 97.0h3.4M15.2 97.0h8.8M26.2 97.0h3.4M0.1 99.4h22.6M24.8 99.4h6.1M-1.3 101.7h22.6M26.2 101.7h3.4M2.8 104.1h8.8M13.8 104.1h14.3M4.2 106.5h22.6M52.3 108.9h3.4"/><path stroke="#fcb164" d="M37.2 -60.1h6.1M48.2 -60.1h3.4M53.7 -60.1h3.4M55.1 -57.7h3.4M59.2 -55.3h6.1M40.0 -50.6h3.4M53.7 -45.8h3.4M37.2 -26.8h3.4M46.8 -19.6h3.4M19.3 4.2h3.4M16.6 32.7h3.4M73.0 44.6h3.4M89.5 44.6h3.4M97.7 44.6h3.4M66.1 47.0h3.4M85.3 47.0h14.3M101.8 47.0h6.1M92.2 49.4h3.4M97.7 49.4h3.4M103.2 49.4h6.1M96.3 51.8h3.4M101.8 51.8h3.4M107.3 51.8h3.4M97.7 54.1h6.1M106.0 54.1h3.4M96.3 56.5h6.1M104.6 56.5h3.4M97.7 58.9h6.1M106.0 58.9h3.4M96.3 61.3h3.4M101.8 61.3h3.4M107.3 61.3h3.4M95.0 63.7h3.4M100.5 63.7h3.4M108.7 63.7h3.4M90.8 66.0h3.4M96.3 66.0h3.4M74.3 75.6h3.4M67.5 77.9h6.1M75.7 77.9h6.1M24.8 80.3h3.4M71.6 80.3h8.8M67.5 82.7h3.4M-16.4 85.1h3.4M53.7 92.2h6.1M46.8 99.4h3.4M88.1 104.1h3.4M56.5 106.5h3.4M41.3 108.9h3.4M88.1 108.9h3.4M86.7 111.3h3.4"/><path stroke="#c6e59e" d="M4.2 -64.9h3.4M11.1 -62.5h3.4M81.2 -60.1h3.4M-17.8 -55.3h3.4M-19.2 -53.0h3.4M-8.2 -53.0h3.4M84.0 -50.6h3.4M89.5 -50.6h3.4M64.7 -45.8h3.4M24.8 -43.4h3.4M-28.8 -41.1h3.4M-20.6 -41.1h3.4M-27.4 -38.7h3.4M-20.6 -36.3h3.4M-27.4 -33.9h3.4M-20.6 -31.5h3.4M12.4 -31.5h3.4M-30.2 -29.2h3.4M-26.1 -26.8h3.4M13.8 -24.4h3.4M-26.1 -22.0h3.4M-20.6 -22.0h3.4M-21.9 -19.6h3.4M-8.2 -19.6h3.4M-17.8 -17.3h3.4M23.4 -17.3h3.4M-32.9 -14.9h6.1M-16.4 -14.9h3.4M13.8 -14.9h3.4M-9.6 -12.5h6.1M-1.3 -12.5h14.3M-27.4 -10.1h3.4M-34.3 -7.7h3.4M-9.6 -7.7h3.4M8.3 -5.4h3.4M22.1 -5.4h3.4M-28.8 -3.0h3.4M-23.3 -3.0h11.6M-9.6 -3.0h3.4M-1.3 -3.0h3.4M4.2 -3.0h8.8M8.3 -0.6h3.4M15.2 20.8h3.4M24.8 32.7h3.4M-21.9 37.5h3.4M-15.1 39.9h3.4M84.0 39.9h3.4M40.0 63.7h3.4"/><path stroke="#96cfa5" d="M-15.1 -55.3h3.4M96.3 -53.0h3.4M103.2 -50.6h6.1M-16.4 -48.2h3.4M88.1 -48.2h3.4M93.6 -48.2h3.4M107.3 -48.2h3.4M70.2 -45.8h3.4M92.2 -45.8h3.4M92.2 -41.1h3.4M77.1 -38.7h3.4M82.6 -38.7h8.8M-31.6 -36.3h3.4M75.7 -36.3h3.4M-21.9 -33.9h3.4M-28.8 -31.5h3.4M70.2 -31.5h3.4M-39.8 -26.8h3.4M-28.8 -26.8h3.4M15.2 -26.8h3.4M-30.2 -24.4h3.4M8.3 -19.6h3.4M-12.3 -17.3h3.4M-6.8 -17.3h19.9M-35.7 -14.9h3.4M-8.2 -14.9h3.4M-5.4 -0.6h3.4M2.8 -0.6h3.4M-31.6 11.3h3.4M22.1 13.7h3.4M2.8 18.4h3.4M-28.8 20.8h3.4M-17.8 20.8h3.4M-19.2 23.2h3.4M-17.8 25.6h3.4M-32.9 28.0h3.4M-19.2 28.0h3.4M-31.6 30.3h11.6M64.7 30.3h11.6M78.5 30.3h3.4M84.0 30.3h22.6M60.6 32.7h3.4M59.2 35.1h3.4M66.1 37.5h3.4M79.8 37.5h3.4M-23.3 63.7h3.4M-27.4 66.0h3.4M-26.1 68.4h6.1"/><path stroke="#62bda7" d="M31.7 -64.9h3.4M-5.4 -62.5h3.4M-10.9 -53.0h3.4M13.8 -53.0h3.4M38.6 -53.0h3.4M15.2 -50.6h3.4M-8.2 -48.2h3.4M-15.1 -45.8h3.4M1.4 -45.8h3.4M73.0 -45.8h3.4M9.7 -41.1h3.4M20.7 -41.1h3.4M26.2 -41.1h3.4M5.6 -38.7h3.4M24.8 -33.9h6.1M-12.3 -31.5h3.4M-1.3 -31.5h3.4M15.2 -31.5h3.4M73.0 -31.5h3.4M-16.4 -29.2h3.4M11.1 -29.2h3.4M-9.6 -26.8h3.4M9.7 -26.8h3.4M-10.9 -24.4h3.4M-5.4 -24.4h3.4M-31.6 -22.0h3.4M59.2 -22.0h3.4M79.8 -14.9h3.4M57.8 4.2h3.4M-24.7 13.7h3.4M-13.7 13.7h3.4M24.8 13.7h3.4M30.3 13.7h6.1M-15.1 16.1h3.4M26.2 16.1h11.6M27.6 18.4h11.6M77.1 18.4h3.4M28.9 20.8h6.1M37.2 20.8h3.4M27.6 23.2h6.1M63.3 23.2h3.4M104.6 28.0h3.4M31.7 35.1h3.4M84.0 35.1h3.4M51.0 44.6h3.4M59.2 73.2h3.4M101.8 104.1h3.4"/><path stroke="#f6bd75" d="M38.6 -62.5h3.4M44.1 -62.5h3.4M49.6 -62.5h14.3M42.7 -60.1h6.1M51.0 -60.1h3.4M56.5 -60.1h6.1M41.3 -57.7h8.8M52.3 -57.7h3.4M60.6 -57.7h3.4M40.0 -55.3h19.9M35.8 -53.0h3.4M41.3 -53.0h8.8M52.3 -53.0h8.8M37.2 -50.6h3.4M42.7 -50.6h8.8M56.5 -50.6h6.1M46.8 -48.2h17.1M40.0 -45.8h14.3M41.3 -43.4h8.8M40.0 -41.1h8.8M40.0 -36.3h6.1M40.0 -31.5h3.4M41.3 -19.6h6.1M45.5 -17.3h3.4M41.3 -14.9h3.4M42.7 -12.5h6.1M41.3 -10.1h6.1M42.7 -7.7h6.1M44.1 -5.4h3.4M11.1 42.2h3.4M62.0 44.6h3.4M75.7 44.6h6.1M84.0 44.6h3.4M92.2 44.6h6.1M100.5 44.6h8.8M13.8 47.0h3.4M63.3 47.0h3.4M-2.7 56.5h3.4M97.7 63.7h3.4M107.3 66.0h3.4M67.5 73.2h3.4M68.8 75.6h3.4M0.1 89.8h3.4M11.1 94.6h3.4M12.4 97.0h3.4M53.7 106.5h3.4M60.6 113.6h14.3"/><path stroke="#72c6a5" d="M-6.8 -55.3h6.1M9.7 -55.3h3.4M22.1 -53.0h3.4M-6.8 -50.6h3.4M1.4 -50.6h6.1M23.4 -50.6h3.4M33.1 -48.2h3.4M4.2 -45.8h3.4M4.2 -41.1h3.4M12.4 -41.1h3.4M81.2 -41.1h3.4M-10.9 -38.7h3.4M-37.0 -36.3h3.4M-6.8 -36.3h3.4M67.5 -36.3h3.4M-16.4 -33.9h3.4M8.3 -33.9h3.4M-6.8 -31.5h3.4M-32.9 -29.2h3.4M5.6 -29.2h3.4M12.4 -22.0h3.4M-16.4 -19.6h3.4M-2.7 -19.6h3.4M11.1 -19.6h3.4M12.4 -7.7h3.4M-31.6 -3.0h3.4M1.4 -3.0h3.4M-21.9 -0.6h3.4M-2.7 -0.6h3.4M52.3 -0.6h6.1M4.2 1.8h3.4M37.2 6.5h3.4M-30.2 13.7h3.4M-17.8 16.1h3.4M-9.6 16.1h3.4M23.4 16.1h3.4M-30.2 18.4h3.4M-10.9 18.4h3.4M11.1 18.4h3.4M24.8 18.4h3.4M34.5 20.8h3.4M-32.9 23.2h3.4M28.9 25.6h3.4M82.6 28.0h3.4M88.1 28.0h3.4M55.1 47.0h3.4M95.0 106.5h3.4"/><path stroke="#e65c47" d="M82.6 47.0h3.4M73.0 49.4h3.4M100.5 49.4h3.4M68.8 51.8h3.4M74.3 51.8h8.8M99.1 51.8h3.4M67.5 54.1h3.4M84.0 54.1h3.4M103.2 54.1h3.4M73.0 58.9h3.4M89.5 58.9h3.4M66.1 61.3h3.4M85.3 61.3h6.1M62.0 63.7h3.4M74.3 66.0h3.4M67.5 68.4h17.1M95.0 68.4h3.4M77.1 70.8h3.4M95.0 73.2h3.4M82.6 75.6h3.4M93.6 75.6h3.4M107.3 75.6h3.4M73.0 77.9h3.4M82.6 85.1h3.4M101.8 85.1h6.1M67.5 87.5h8.8M64.7 92.2h6.1M73.0 92.2h3.4M108.7 92.2h3.4M57.8 94.6h3.4M71.6 94.6h6.1M59.2 97.0h6.1M70.2 97.0h3.4M89.5 97.0h3.4M68.8 99.4h3.4M107.3 99.4h3.4M59.2 101.7h3.4M70.2 101.7h3.4M49.6 104.1h3.4M96.3 104.1h3.4M59.2 106.5h3.4M60.6 108.9h3.4M66.1 108.9h3.4M77.1 108.9h3.4M90.8 108.9h3.4M75.7 111.3h3.4M81.2 111.3h3.4"/><path stroke="#e1e09c" d="M27.6 -43.4h6.1M23.4 -41.1h3.4M20.7 -36.3h3.4M20.7 -31.5h3.4M19.3 -24.4h3.4M20.7 -22.0h3.4M19.3 -19.6h3.4M27.6 -19.6h3.4M26.2 -17.3h8.8M30.3 -14.9h6.1M31.7 -12.5h6.1M33.1 -10.1h3.4M34.5 -7.7h3.4M-8.2 23.2h3.4M19.3 23.2h3.4M-10.9 28.0h3.4M22.1 28.0h3.4M-12.3 30.3h3.4M-12.3 35.1h3.4M23.4 35.1h3.4M-16.4 37.5h6.1M24.8 37.5h3.4M-28.8 39.9h11.6M26.2 39.9h3.4M27.6 42.2h3.4M30.3 47.0h3.4M31.7 49.4h3.4M33.1 51.8h3.4M34.5 54.1h3.4M-23.3 58.9h8.8M37.2 58.9h3.4M38.6 61.3h3.4M-15.1 63.7h3.4M41.3 66.0h3.4M-15.1 68.4h3.4M42.7 68.4h3.4M44.1 70.8h3.4M-17.8 73.2h3.4M-24.7 75.6h6.1M45.5 77.9h3.4M46.8 80.3h3.4M48.2 82.7h3.4M49.6 85.1h3.4M51.0 87.5h3.4"/><path stroke="#67abb0" d="M-10.9 -57.7h3.4M27.6 -57.7h3.4M-12.3 -55.3h3.4M-13.7 -53.0h3.4M24.8 -53.0h6.1M17.9 -50.6h6.1M-13.7 -48.2h3.4M13.8 -48.2h3.4M12.4 -45.8h3.4M97.7 -45.8h8.8M11.1 -43.4h3.4M-15.1 -41.1h3.4M95.0 -41.1h3.4M11.1 -38.7h3.4M107.3 -38.7h3.4M-34.3 -36.3h3.4M12.4 -36.3h3.4M89.5 -36.3h6.1M11.1 -33.9h3.4M77.1 -33.9h3.4M-15.1 -31.5h3.4M75.7 -31.5h3.4M71.6 -29.2h3.4M-15.1 -26.8h3.4M12.4 -26.8h3.4M64.7 -26.8h3.4M11.1 -24.4h3.4M-12.3 -22.0h25.4M31.7 1.8h3.4M-28.8 11.3h3.4M-19.2 13.7h6.1M-12.3 16.1h3.4M63.3 28.0h11.6M79.8 28.0h3.4M93.6 28.0h11.6M107.3 28.0h3.4M28.9 30.3h3.4M49.6 70.8h3.4M51.0 73.2h3.4"/><path stroke="#feea9c" d="M26.2 -31.5h3.4M27.6 -24.4h3.4M37.2 -12.5h3.4M4.2 35.1h3.4M8.3 37.5h3.4M103.2 39.9h3.4M4.2 44.6h3.4M8.3 47.0h3.4M24.8 47.0h3.4M-28.8 49.4h3.4M12.4 49.4h3.4M22.1 56.5h3.4M24.8 61.3h3.4M28.9 63.7h3.4M75.7 63.7h3.4M81.2 63.7h3.4M103.2 63.7h3.4M-8.2 66.0h3.4M5.6 66.0h3.4M93.6 66.0h3.4M9.7 68.4h3.4M106.0 68.4h3.4M34.5 73.2h3.4M63.3 75.6h3.4M-4.0 77.9h3.4M41.3 80.3h3.4M107.3 80.3h3.4M-4.0 82.7h3.4M35.8 85.1h3.4M100.5 87.5h3.4M1.4 92.2h3.4M-9.6 97.0h3.4M45.5 97.0h3.4M34.5 101.7h3.4M33.1 104.1h3.4M13.8 108.9h3.4M27.6 108.9h3.4M1.4 111.3h3.4M45.5 111.3h3.4"/><path stroke="#b8e2a1" d="M67.5 -60.1h3.4M66.1 -57.7h3.4M74.3 -57.7h3.4M-20.6 -55.3h3.4M68.8 -53.0h3.4M93.6 -53.0h3.4M110.1 -53.0h3.4M26.2 -50.6h3.4M82.6 -48.2h3.4M-17.8 -45.8h3.4M22.1 -43.4h3.4M70.2 -36.3h3.4M78.5 -36.3h3.4M-5.4 -33.9h3.4M19.3 -33.9h3.4M-27.4 -29.2h3.4M2.8 -14.9h3.4M19.3 -14.9h3.4M-4.0 -12.5h3.4M-21.9 -10.1h3.4M2.8 -10.1h3.4M8.3 -10.1h3.4M35.8 -5.4h3.4M-12.3 -3.0h3.4M17.9 -3.0h3.4M-13.7 -0.6h3.4M24.8 28.0h3.4M75.7 30.3h3.4M81.2 30.3h3.4M77.1 32.7h3.4M-23.3 35.1h3.4M106.0 35.1h3.4M77.1 37.5h3.4M67.5 39.9h3.4M86.7 39.9h3.4M38.6 56.5h3.4M-20.6 63.7h3.4"/><path stroke="#fed884" d="M46.8 -62.5h3.4M33.1 -43.4h3.4M46.8 -10.1h3.4M-6.8 35.1h3.4M7.0 35.1h3.4M-27.4 47.0h6.1M-2.7 47.0h3.4M2.8 47.0h3.4M11.1 47.0h3.4M107.3 47.0h3.4M7.0 49.4h3.4M95.0 49.4h3.4M-10.9 51.8h3.4M-23.3 54.1h3.4M-4.0 54.1h3.4M101.8 56.5h3.4M99.1 61.3h3.4M68.8 66.0h3.4M7.0 68.4h3.4M97.7 68.4h3.4M15.2 73.2h3.4M71.6 75.6h3.4M64.7 77.9h3.4M108.7 82.7h3.4M2.8 85.1h3.4M-15.1 87.5h3.4M78.5 87.5h3.4M77.1 94.6h3.4M96.3 94.6h3.4M-10.9 99.4h3.4M85.3 99.4h3.4M23.4 101.7h3.4M57.8 104.1h3.4M82.6 104.1h3.4M1.4 106.5h3.4M70.2 106.5h3.4"/><path stroke="#86cba5" d="M82.6 -57.7h3.4M101.8 -57.7h3.4M101.8 -53.0h3.4M81.2 -50.6h3.4M85.3 -48.2h3.4M96.3 -48.2h11.6M108.7 -45.8h3.4M93.6 -43.4h3.4M90.8 -38.7h3.4M74.3 -33.9h3.4M49.6 -24.4h3.4M-10.9 -19.6h3.4M-31.6 -17.3h3.4M-34.3 -12.5h3.4M52.3 -10.1h3.4M53.7 -3.0h3.4M42.7 1.8h3.4M-31.6 16.1h14.3M-27.4 18.4h14.3M22.1 18.4h3.4M-31.6 20.8h3.4M-26.1 20.8h8.8M23.4 20.8h3.4M-30.2 23.2h11.6M24.8 23.2h3.4M-31.6 25.6h14.3M26.2 25.6h3.4M-30.2 28.0h11.6M74.3 28.0h3.4M-20.6 30.3h3.4M62.0 30.3h3.4M28.9 35.1h3.4M97.7 35.1h3.4M-24.7 66.0h6.1M-20.6 68.4h3.4M49.6 75.6h3.4"/><path stroke="#4372b3" d="M101.8 -43.4h3.4M31.7 -36.3h3.4M100.5 -31.5h3.4M46.8 -29.2h3.4M79.8 -29.2h3.4M90.8 -24.4h3.4M56.5 -22.0h3.4M96.3 -14.9h3.4M89.5 -7.7h3.4M93.6 -5.4h3.4M97.7 1.8h3.4M-21.9 4.2h3.4M35.8 4.2h3.4M77.1 4.2h3.4M62.0 6.5h3.4M78.5 6.5h3.4M37.2 11.3h3.4M56.5 11.3h3.4M70.2 11.3h3.4M95.0 11.3h3.4M42.7 16.1h3.4M48.2 16.1h3.4M73.0 16.1h3.4M95.0 16.1h3.4M60.6 18.4h3.4M107.3 18.4h3.4M86.7 20.8h3.4M82.6 23.2h3.4M53.7 25.6h3.4M51.0 35.1h3.4M42.7 44.6h3.4M57.8 61.3h3.4M49.6 66.0h3.4M42.7 106.5h3.4M99.1 108.9h3.4"/><path stroke="#b6d69f" d="M67.5 -55.3h3.4M-17.8 -50.6h3.4M67.5 -50.6h3.4M67.5 -45.8h3.4M66.1 -43.4h3.4M-34.3 -41.1h3.4M-30.2 -38.7h3.4M-19.2 -38.7h3.4M66.1 -38.7h3.4M-19.2 -33.9h3.4M-19.2 -29.2h3.4M-19.2 -24.4h3.4M-17.8 -22.0h3.4M-10.9 -14.9h3.4M-5.4 -14.9h8.8M5.6 -14.9h6.1M-27.4 -0.6h6.1M-19.2 -0.6h6.1M-10.9 -0.6h6.1M0.1 -0.6h3.4M5.6 -0.6h3.4M-12.3 20.8h3.4M22.1 23.2h3.4M-15.1 25.6h3.4M23.4 25.6h3.4M60.6 37.5h3.4M64.7 39.9h3.4M70.2 39.9h14.3M89.5 39.9h8.8M100.5 39.9h3.4M106.0 39.9h3.4M-28.8 63.7h3.4M-27.4 70.8h3.4M-19.2 70.8h3.4"/><path stroke="#de4c4b" d="M71.6 47.0h3.4M99.1 47.0h3.4M86.7 49.4h3.4M104.6 51.8h3.4M81.2 54.1h3.4M86.7 54.1h3.4M82.6 56.5h3.4M88.1 56.5h3.4M107.3 56.5h3.4M103.2 58.9h3.4M66.1 66.0h3.4M85.3 66.0h6.1M110.1 66.0h3.4M57.8 70.8h3.4M85.3 75.6h3.4M57.8 80.3h3.4M68.8 80.3h3.4M66.1 85.1h6.1M53.7 87.5h3.4M64.7 87.5h3.4M63.3 89.8h3.4M81.2 92.2h3.4M88.1 94.6h3.4M78.5 97.0h3.4M100.5 97.0h3.4M49.6 99.4h3.4M63.3 99.4h3.4M99.1 99.4h3.4M104.6 99.4h3.4M71.6 104.1h3.4M89.5 106.5h3.4M68.8 108.9h3.4M93.6 108.9h3.4M84.0 111.3h3.4"/><path stroke="#faa35d" d="M41.3 -62.5h3.4M49.6 -57.7h3.4M49.6 -53.0h3.4M53.7 -50.6h3.4M44.1 -48.2h3.4M41.3 -38.7h3.4M42.7 -17.3h3.4M12.4 6.5h3.4M68.8 47.0h3.4M74.3 47.0h6.1M84.0 49.4h3.4M89.5 49.4h3.4M90.8 51.8h6.1M95.0 54.1h3.4M95.0 58.9h3.4M93.6 61.3h3.4M9.7 73.2h3.4M78.5 73.2h3.4M77.1 75.6h3.4M79.8 80.3h3.4M70.2 82.7h11.6M77.1 85.1h3.4M85.3 89.8h3.4M84.0 92.2h3.4M85.3 94.6h3.4M42.7 97.0h3.4M56.5 97.0h3.4M86.7 97.0h3.4M86.7 101.7h3.4M85.3 104.1h3.4M86.7 106.5h3.4M85.3 108.9h3.4"/><path stroke="#8db8ab" d="M-12.3 -60.1h3.4M28.9 -50.6h3.4M19.3 -48.2h11.6M-16.4 -43.4h3.4M13.8 -38.7h3.4M15.2 -36.3h3.4M13.8 -33.9h3.4M-39.8 -31.5h3.4M-31.6 -31.5h3.4M13.8 -29.2h3.4M66.1 -29.2h3.4M-16.4 -24.4h3.4M7.0 1.8h3.4M-13.7 18.4h3.4M-8.2 18.4h11.6M5.6 18.4h6.1M30.3 37.5h3.4M55.1 37.5h3.4M31.7 39.9h3.4M33.1 42.2h3.4M55.1 42.2h3.4M34.5 44.6h3.4M35.8 47.0h3.4M38.6 51.8h3.4M40.0 54.1h3.4M41.3 56.5h3.4M42.7 58.9h3.4M44.1 61.3h3.4M52.3 80.3h3.4M53.7 82.7h3.4M55.1 85.1h3.4"/><path stroke="#a3cfa4" d="M-16.4 -53.0h3.4M97.7 -50.6h6.1M17.9 -45.8h3.4M16.6 -43.4h3.4M90.8 -43.4h3.4M-17.8 -41.1h3.4M79.8 -38.7h3.4M-17.8 -36.3h3.4M73.0 -36.3h3.4M-30.2 -33.9h3.4M71.6 -33.9h3.4M-17.8 -31.5h3.4M67.5 -31.5h3.4M-17.8 -26.8h3.4M-28.8 -22.0h3.4M15.2 -22.0h3.4M-30.2 -19.6h3.4M13.8 -19.6h3.4M12.4 -17.3h3.4M27.6 -0.6h6.1M-15.1 20.8h3.4M-16.4 23.2h3.4M-34.3 25.6h3.4M-16.4 28.0h3.4M-17.8 30.3h3.4M-30.2 32.7h11.6M-26.1 63.7h3.4M-19.2 66.0h3.4M48.2 68.4h3.4M-24.7 70.8h6.1"/><path stroke="#79b3ad" d="M16.6 -48.2h3.4M15.2 -45.8h3.4M95.0 -45.8h3.4M106.0 -45.8h3.4M13.8 -43.4h3.4M107.3 -43.4h3.4M108.7 -41.1h3.4M81.2 -36.3h8.8M-38.4 -33.9h3.4M-38.4 -29.2h3.4M68.8 -29.2h3.4M-31.6 -26.8h3.4M-38.4 -24.4h3.4M-15.1 -22.0h3.4M-32.9 -19.6h3.4M-13.7 -19.6h3.4M-5.4 -19.6h3.4M2.8 -19.6h6.1M-31.6 1.8h6.1M-23.3 1.8h8.8M-12.3 1.8h17.1M28.9 1.8h3.4M-27.4 13.7h3.4M-21.9 13.7h3.4M27.6 28.0h3.4M59.2 30.3h3.4M57.8 32.7h3.4M56.5 35.1h3.4M53.7 39.9h3.4M46.8 66.0h3.4"/><path stroke="#feca79" d="M37.2 -55.3h3.4M51.0 -50.6h3.4M41.3 -48.2h3.4M27.6 -38.7h3.4M44.1 -38.7h3.4M41.3 -33.9h3.4M37.2 -31.5h3.4M24.8 -24.4h3.4M34.5 -22.0h3.4M-1.3 25.6h3.4M62.0 39.9h3.4M67.5 44.6h3.4M81.2 44.6h3.4M27.6 47.0h3.4M12.4 54.1h3.4M24.8 56.5h3.4M30.3 56.5h3.4M108.7 58.9h3.4M106.0 63.7h3.4M-5.4 70.8h3.4M68.8 70.8h3.4M-9.6 73.2h3.4M75.7 73.2h3.4M103.2 87.5h3.4M2.8 89.8h3.4M13.8 89.8h3.4M4.2 92.2h3.4M53.7 101.7h3.4M-2.7 104.1h6.1"/><path stroke="#fdf3a9" d="M38.6 -48.2h3.4M24.8 -29.2h3.4M-10.9 23.2h3.4M1.4 25.6h3.4M11.1 28.0h3.4M16.6 28.0h3.4M-1.3 30.3h3.4M0.1 32.7h3.4M11.1 32.7h3.4M-2.7 37.5h3.4M23.4 39.9h3.4M-9.6 44.6h3.4M16.6 47.0h3.4M-23.3 49.4h3.4M0.1 56.5h3.4M-12.3 58.9h3.4M4.2 77.9h3.4M28.9 77.9h3.4M13.8 80.3h3.4M35.8 80.3h3.4M20.7 82.7h3.4M40.0 82.7h3.4M41.3 99.4h3.4M37.2 101.7h3.4M28.9 106.5h3.4M-10.9 108.9h3.4M-5.4 108.9h3.4M48.2 111.3h3.4M49.6 113.6h3.4"/><path stroke="#c6d0a0" d="M23.4 -45.8h8.8M19.3 -43.4h3.4M17.9 -41.1h3.4M64.7 -41.1h3.4M17.9 -36.3h3.4M17.9 -31.5h3.4M64.7 -31.5h3.4M17.9 -26.8h3.4M24.8 -0.6h3.4M-9.6 20.8h8.8M1.4 20.8h3.4M20.7 20.8h3.4M27.6 37.5h3.4M28.9 39.9h3.4M30.3 42.2h3.4M57.8 42.2h3.4M31.7 44.6h3.4M59.2 44.6h3.4M33.1 47.0h3.4M34.5 49.4h3.4M35.8 51.8h3.4M37.2 54.1h3.4M40.0 58.9h3.4M41.3 61.3h3.4M42.7 63.7h3.4M44.1 66.0h3.4M49.6 80.3h3.4M51.0 82.7h3.4M52.3 85.1h3.4"/><path stroke="#5799b4" d="M57.8 -24.4h3.4M110.1 -19.6h3.4M8.3 8.9h3.4M27.6 8.9h3.4M-6.8 16.1h3.4M-1.3 16.1h8.8M108.7 25.6h3.4M53.7 35.1h3.4M33.1 37.5h3.4M52.3 37.5h3.4M34.5 39.9h3.4M52.3 42.2h3.4M37.2 44.6h3.4M53.7 44.6h3.4M38.6 47.0h3.4M40.0 49.4h3.4M41.3 51.8h3.4M42.7 54.1h3.4M44.1 56.5h3.4M59.2 58.9h3.4M46.8 61.3h3.4M48.2 63.7h3.4M60.6 66.0h3.4M60.6 70.8h3.4M60.6 75.6h3.4M60.6 80.3h3.4M59.2 82.7h3.4M103.2 106.5h6.1"/><path stroke="#f79055" d="M40.0 -64.9h3.4M35.8 -57.7h6.1M60.6 -53.0h3.4M22.1 4.2h3.4M67.5 49.4h6.1M81.2 49.4h3.4M88.1 51.8h3.4M28.9 54.1h3.4M92.2 54.1h3.4M67.5 63.7h3.4M92.2 63.7h3.4M79.8 70.8h3.4M73.0 73.2h3.4M71.6 85.1h6.1M75.7 87.5h3.4M81.2 87.5h3.4M79.8 89.8h6.1M64.7 97.0h6.1M84.0 97.0h3.4M84.0 101.7h3.4M-4.0 106.5h3.4M84.0 106.5h3.4M55.1 108.9h3.4M59.2 111.3h8.8M70.2 111.3h6.1M78.5 111.3h3.4"/><path stroke="#d4b581" d="M33.1 -62.5h3.4M33.1 -57.7h3.4M33.1 -53.0h3.4M52.3 -43.4h3.4M60.6 -43.4h3.4M46.8 -38.7h3.4M45.5 -36.3h3.4M44.1 -33.9h3.4M42.7 -31.5h3.4M59.2 -31.5h3.4M41.3 -29.2h3.4M41.3 -24.4h3.4M45.5 -22.0h6.1M49.6 -19.6h3.4M49.6 -14.9h3.4M49.6 -10.1h3.4M49.6 -5.4h3.4M42.7 -3.0h8.8M12.4 1.8h3.4M13.8 18.4h6.1M62.0 49.4h3.4M64.7 73.2h3.4M64.7 82.7h3.4M90.8 94.6h3.4M90.8 99.4h3.4M90.8 104.1h3.4"/><path stroke="#f07c4e" d="M13.8 4.2h6.1M20.7 6.5h3.4M13.8 8.9h6.1M75.7 49.4h6.1M66.1 51.8h3.4M71.6 51.8h3.4M82.6 51.8h6.1M89.5 54.1h3.4M108.7 54.1h3.4M90.8 56.5h3.4M92.2 58.9h3.4M90.8 61.3h3.4M104.6 66.0h3.4M74.3 70.8h3.4M60.6 89.8h3.4M77.1 89.8h3.4M59.2 92.2h3.4M82.6 94.6h3.4M82.6 99.4h3.4M56.5 101.7h3.4M81.2 101.7h3.4M81.2 106.5h3.4M57.8 108.9h3.4M63.3 108.9h3.4M79.8 108.9h3.4M67.5 111.3h3.4"/><path stroke="#f26d44" d="M15.2 6.5h6.1M15.2 11.3h3.4M64.7 54.1h3.4M93.6 56.5h3.4M77.1 66.0h3.4M101.8 66.0h3.4M84.0 68.4h3.4M89.5 73.2h3.4M97.7 77.9h3.4M66.1 89.8h11.6M62.0 92.2h3.4M70.2 92.2h3.4M75.7 92.2h6.1M60.6 94.6h11.6M79.8 94.6h3.4M73.0 97.0h6.1M81.2 97.0h3.4M57.8 99.4h3.4M71.6 99.4h3.4M77.1 99.4h6.1M73.0 101.7h8.8M68.8 104.1h3.4M74.3 104.1h8.8M62.0 106.5h6.1M73.0 106.5h8.8M71.6 108.9h6.1"/><path stroke="#eaf69e" d="M-21.9 -53.0h3.4M66.1 -53.0h3.4M-20.6 -45.8h3.4M68.8 -38.7h3.4M-23.3 -31.5h3.4M-20.6 -26.8h3.4M28.9 -22.0h6.1M22.1 -19.6h3.4M-15.1 -12.5h3.4M-19.2 -10.1h3.4M-5.4 -10.1h6.1M27.6 -10.1h3.4M-1.3 -7.7h3.4M27.6 -5.4h3.4M-6.8 -3.0h3.4M15.2 -3.0h3.4M20.7 -3.0h3.4M-1.3 20.8h3.4M-9.6 25.6h3.4M-15.1 30.3h3.4M-17.8 39.9h3.4M28.9 44.6h3.4M-15.1 58.9h3.4M37.2 77.9h3.4M48.2 87.5h3.4"/><path stroke="#b0b292" d="M34.5 -64.9h3.4M31.7 -60.1h3.4M31.7 -55.3h3.4M31.7 -50.6h3.4M55.1 -43.4h6.1M51.0 -41.1h3.4M62.0 -41.1h3.4M60.6 -38.7h3.4M59.2 -36.3h3.4M57.8 -33.9h3.4M56.5 -31.5h3.4M57.8 -29.2h6.1M42.7 -26.8h3.4M44.1 -24.4h6.1M51.0 -17.3h3.4M51.0 -12.5h3.4M51.0 -7.7h3.4M51.0 -3.0h3.4M38.6 -0.6h14.3M9.7 1.8h3.4M19.3 18.4h3.4M60.6 51.8h3.4M63.3 80.3h3.4M56.5 87.5h3.4"/><path stroke="#6ca1a8" d="M28.9 -64.9h3.4M57.8 -38.7h3.4M56.5 -36.3h3.4M55.1 -33.9h3.4M53.7 -31.5h3.4M52.3 -29.2h3.4M45.5 -26.8h3.4M51.0 -26.8h14.3M52.3 -24.4h3.4M53.7 -22.0h3.4M53.7 -17.3h3.4M53.7 -12.5h3.4M37.2 1.8h6.1M48.2 1.8h6.1M27.6 4.2h3.4M9.7 11.3h3.4M26.2 11.3h3.4M9.7 16.1h3.4M57.8 51.8h3.4M96.3 89.8h3.4M95.0 92.2h3.4M95.0 101.7h3.4M104.6 108.9h3.4"/><path stroke="#f1cd86" d="M35.8 -48.2h3.4M34.5 -45.8h6.1M35.8 -43.4h6.1M37.2 -41.1h3.4M35.8 -38.7h6.1M37.2 -36.3h3.4M35.8 -33.9h3.4M38.6 -29.2h3.4M38.6 -24.4h3.4M37.2 -22.0h3.4M38.6 -19.6h3.4M37.2 -17.3h6.1M38.6 -14.9h3.4M40.0 -12.5h3.4M38.6 -10.1h3.4M40.0 -7.7h3.4M38.6 -5.4h3.4M52.3 94.6h3.4M53.7 97.0h3.4M52.3 99.4h3.4M52.3 104.1h3.4M53.7 111.3h3.4"/><path stroke="#94ab99" d="M30.3 -62.5h3.4M30.3 -57.7h3.4M30.3 -53.0h3.4M59.2 -41.1h3.4M49.6 -38.7h3.4M48.2 -36.3h3.4M46.8 -33.9h3.4M45.5 -31.5h3.4M44.1 -29.2h3.4M55.1 -29.2h3.4M63.3 -29.2h3.4M51.0 -22.0h3.4M52.3 -5.4h3.4M26.2 1.8h3.4M19.3 13.7h3.4M20.7 16.1h3.4M59.2 49.4h3.4M93.6 89.8h3.4M93.6 94.6h3.4M93.6 99.4h3.4M93.6 104.1h3.4"/><path stroke="#e9be7c" d="M35.8 -62.5h3.4M63.3 -62.5h3.4M34.5 -60.1h3.4M62.0 -60.1h3.4M63.3 -57.7h3.4M34.5 -55.3h3.4M34.5 -50.6h3.4M62.0 -50.6h3.4M59.2 -45.8h6.1M49.6 -43.4h3.4M48.2 -41.1h3.4M60.6 -33.9h3.4M40.0 -22.0h6.1M48.2 -17.3h3.4M48.2 -7.7h3.4M41.3 -5.4h3.4M46.8 -5.4h3.4M66.1 75.6h3.4M66.1 80.3h3.4M57.8 113.6h3.4"/><path stroke="#c2dc9f" d="M-19.2 -48.2h3.4M66.1 -48.2h3.4M-19.2 -43.4h3.4M-31.6 -41.1h3.4M-28.8 -36.3h3.4M66.1 -33.9h3.4M-27.4 -24.4h3.4M-27.4 -19.6h3.4M-19.2 -19.6h3.4M16.6 -19.6h3.4M-28.8 -17.3h3.4M15.2 -17.3h3.4M-13.7 -14.9h3.4M11.1 -14.9h3.4M26.2 -3.0h8.8M11.1 -0.6h3.4M-13.7 23.2h3.4M-28.8 35.1h6.1M-20.6 35.1h6.1M-27.4 61.3h8.8"/><path stroke="#fefcb8" d="M26.2 -36.3h3.4M24.8 -19.6h3.4M4.2 25.6h3.4M20.7 25.6h3.4M-9.6 39.9h3.4M22.1 42.2h3.4M-9.6 49.4h3.4M23.4 49.4h3.4M31.7 58.9h6.1M20.7 63.7h3.4M-2.7 66.0h3.4M7.0 77.9h3.4M34.5 77.9h3.4M27.6 80.3h3.4M-12.3 87.5h3.4M38.6 94.6h3.4M-12.3 97.0h3.4M51.0 97.0h3.4M11.1 104.1h3.4M5.6 108.9h3.4"/><path stroke="#e7a06b" d="M15.2 1.8h8.8M64.7 49.4h3.4M63.3 51.8h3.4M99.1 66.0h3.4M108.7 68.4h3.4M66.1 70.8h3.4M81.2 73.2h3.4M79.8 75.6h3.4M81.2 77.9h3.4M81.2 82.7h3.4M84.0 87.5h3.4M57.8 89.8h3.4M88.1 89.8h3.4M89.5 92.2h3.4M55.1 94.6h3.4M55.1 99.4h3.4M89.5 101.7h3.4M55.1 104.1h3.4M56.5 111.3h3.4"/><path stroke="#d3da9e" d="M19.3 -38.7h3.4M19.3 -29.2h3.4M17.9 -22.0h3.4M13.8 -0.6h3.4M4.2 20.8h3.4M9.7 20.8h6.1M-12.3 25.6h3.4M-13.7 32.7h3.4M-15.1 35.1h3.4M26.2 35.1h3.4M-27.4 37.5h6.1M-19.2 61.3h3.4M-16.4 66.0h3.4M-16.4 70.8h3.4M-26.1 73.2h8.8M45.5 73.2h3.4M46.8 75.6h3.4M48.2 77.9h3.4"/><path stroke="#535da9" d="M90.8 -33.9h3.4M101.8 -29.2h3.4M104.6 -19.6h3.4M92.2 -7.7h3.4M101.8 -0.6h6.1M86.7 1.8h3.4M68.8 8.9h3.4M67.5 11.3h3.4M60.6 13.7h3.4M79.8 13.7h3.4M78.5 16.1h3.4M41.3 18.4h3.4M51.0 30.3h3.4M51.0 49.4h3.4M88.1 80.3h3.4M93.6 85.1h3.4M86.7 92.2h3.4M-4.0 97.0h3.4"/><path stroke="#dcf19a" d="M-16.4 -57.7h3.4M93.6 -57.7h3.4M68.8 -43.4h3.4M67.5 -41.1h3.4M23.4 -36.3h3.4M-15.1 -17.3h3.4M1.4 -7.7h3.4M9.7 -7.7h3.4M26.2 -7.7h3.4M-4.0 -3.0h3.4M12.4 -3.0h3.4M33.1 -0.6h3.4M7.0 20.8h3.4M-6.8 25.6h3.4M-10.9 32.7h3.4M-30.2 37.5h3.4M-17.8 68.4h3.4"/><path stroke="#cf384d" d="M86.7 44.6h3.4M57.8 47.0h3.4M79.8 47.0h3.4M70.2 54.1h6.1M64.7 58.9h3.4M68.8 61.3h3.4M79.8 66.0h3.4M96.3 75.6h3.4M96.3 80.3h3.4M62.0 82.7h3.4M74.3 99.4h3.4M64.7 101.7h3.4M60.6 104.1h3.4M67.5 106.5h3.4M92.2 106.5h3.4M82.6 108.9h3.4M55.1 113.6h3.4"/><path stroke="#d5c888" d="M37.2 -64.9h3.4M64.7 -60.1h3.4M64.7 -55.3h3.4M63.3 -53.0h3.4M64.7 -50.6h3.4M63.3 -48.2h3.4M63.3 -43.4h3.4M63.3 -38.7h3.4M62.0 -36.3h3.4M62.0 -31.5h3.4M40.0 -26.8h3.4M40.0 -3.0h3.4M19.3 -0.6h6.1M63.3 42.2h6.1M71.6 42.2h39.1M60.6 47.0h3.4"/><path stroke="#da4b40" d="M75.7 54.1h6.1M68.8 56.5h14.3M85.3 56.5h3.4M67.5 58.9h6.1M75.7 58.9h14.3M71.6 61.3h14.3M70.2 63.7h6.1M78.5 63.7h3.4M84.0 63.7h6.1M71.6 66.0h3.4M60.6 99.4h3.4M66.1 99.4h3.4M62.0 101.7h3.4M67.5 101.7h3.4M66.1 104.1h3.4"/><path stroke="#b6c8a3" d="M30.3 -48.2h3.4M20.7 -45.8h3.4M16.6 -38.7h3.4M16.6 -33.9h3.4M16.6 -29.2h3.4M16.6 -24.4h3.4M35.8 -0.6h3.4M26.2 30.3h3.4M57.8 37.5h3.4M56.5 39.9h3.4M45.5 68.4h3.4M46.8 70.8h3.4M48.2 73.2h3.4"/><path stroke="#816099" d="M86.7 73.2h3.4M92.2 73.2h3.4M100.5 73.2h3.4M106.0 73.2h3.4M88.1 75.6h6.1M99.1 75.6h3.4M104.6 75.6h3.4M86.7 77.9h11.6M100.5 77.9h6.1M85.3 80.3h3.4M90.8 80.3h6.1M104.6 80.3h3.4M86.7 82.7h22.6"/><path stroke="#cc9776" d="M23.4 1.8h3.4M11.1 4.2h3.4M17.9 11.3h3.4M15.2 16.1h6.1M62.0 54.1h3.4M64.7 68.4h3.4M100.5 68.4h6.1M110.1 70.8h3.4M63.3 85.1h3.4M62.0 87.5h3.4M86.7 87.5h6.1M90.8 89.8h3.4"/><path stroke="#80a2a0" d="M53.7 -41.1h6.1M52.3 -19.6h3.4M52.3 -14.9h3.4M53.7 -7.7h3.4M23.4 11.3h3.4M62.0 68.4h3.4M62.0 73.2h3.4M62.0 77.9h3.4M57.8 85.1h3.4M97.7 87.5h3.4M106.0 87.5h6.1"/><path stroke="#a87985" d="M24.8 4.2h3.4M11.1 8.9h3.4M62.0 58.9h3.4M85.3 70.8h11.6M99.1 70.8h3.4M104.6 70.8h6.1M84.0 73.2h3.4M108.7 73.2h3.4M84.0 77.9h3.4M84.0 82.7h3.4M85.3 85.1h8.8"/><path stroke="#dad194" d="M66.1 -62.5h3.4M31.7 -45.8h3.4M64.7 -36.3h3.4M63.3 -33.9h3.4M37.2 -3.0h3.4M16.6 -0.6h3.4M17.9 20.8h3.4M60.6 42.2h3.4M52.3 89.8h3.4"/><path stroke="#c67c66" d="M23.4 6.5h3.4M19.3 8.9h6.1M12.4 11.3h3.4M13.8 13.7h6.1M63.3 56.5h3.4M63.3 61.3h3.4M64.7 63.7h3.4M86.7 68.4h6.1M82.6 70.8h3.4"/><path stroke="#b29f84" d="M20.7 11.3h3.4M12.4 16.1h3.4M63.3 66.0h3.4M63.3 70.8h3.4M59.2 87.5h3.4M92.2 87.5h3.4M92.2 92.2h3.4M92.2 97.0h3.4M92.2 101.7h3.4"/><path stroke="#888993" d="M9.7 6.5h3.4M26.2 6.5h3.4M24.8 8.9h3.4M11.1 13.7h3.4M60.6 56.5h3.4M96.3 85.1h6.1M107.3 85.1h3.4M95.0 87.5h3.4"/></g>
<use href="#holes"/>
</g>
<g transform="translate(564.8,116.0)">
<use href="#dots" fill="#4f7fb5"/>
<g fill="none" stroke-width="3"><path stroke="#cfe69c" d="M75.7 -26.8h3.4M84.0 -26.8h3.4M89.5 -26.8h22.6M77.1 -24.4h33.6M78.5 -22.0h3.4M84.0 -22.0h3.4M92.2 -22.0h6.1M100.5 -22.0h11.6M82.6 -19.6h17.1M101.8 -19.6h3.4M110.1 -19.6h3.4M86.7 -17.3h6.1M97.7 -17.3h14.3M85.3 -14.9h8.8M96.3 -14.9h3.4M104.6 -14.9h6.1M84.0 -12.5h3.4M92.2 -12.5h6.1M103.2 -12.5h3.4M88.1 -10.1h3.4M101.8 -10.1h3.4M-34.3 -7.7h3.4M-12.3 -7.7h3.4M86.7 -7.7h6.1M95.0 -7.7h6.1M-31.6 -3.0h3.4M46.8 4.2h3.4M19.3 23.2h3.4M38.6 23.2h3.4M34.5 25.6h11.6M-2.7 28.0h6.1M22.1 28.0h3.4M30.3 28.0h8.8M41.3 28.0h3.4M7.0 30.3h3.4M5.6 32.7h3.4M24.8 32.7h3.4M-26.1 39.9h11.6M-6.8 39.9h3.4M12.4 39.9h3.4M-24.7 42.2h3.4M8.3 42.2h3.4M-28.8 44.6h3.4M-23.3 44.6h8.8M-6.8 44.6h3.4M-27.4 47.0h6.1M-16.4 47.0h3.4M-8.2 47.0h3.4M2.8 47.0h3.4M-28.8 49.4h3.4M-20.6 49.4h3.4M-6.8 49.4h3.4M31.7 49.4h3.4M-24.7 51.8h8.8M-2.7 51.8h3.4M-26.1 54.1h6.1M-17.8 54.1h3.4M-12.3 54.1h6.1M-4.0 54.1h3.4M-24.7 56.5h3.4M-19.2 56.5h11.6M-5.4 56.5h3.4M33.1 56.5h6.1M-20.6 58.9h6.1M-12.3 58.9h6.1M-4.0 58.9h3.4M-16.4 61.3h3.4M-8.2 61.3h3.4M0.1 61.3h3.4M35.8 61.3h3.4M-12.3 63.7h19.9M37.2 63.7h3.4M-10.9 66.0h22.6M16.6 66.0h6.1M-15.1 68.4h6.1M-6.8 68.4h30.9M-13.7 70.8h8.8M-2.7 70.8h11.6M11.1 70.8h6.1M-15.1 73.2h3.4M-9.6 73.2h8.8M1.4 73.2h8.8M12.4 73.2h6.1M-16.4 75.6h6.1M-2.7 75.6h8.8M8.3 75.6h6.1M-15.1 77.9h3.4M-6.8 77.9h8.8M9.7 77.9h14.3M-16.4 80.3h3.4M-10.9 80.3h3.4M-2.7 80.3h6.1M13.8 80.3h19.9M35.8 80.3h3.4M-15.1 82.7h17.1M15.2 82.7h3.4M20.7 82.7h3.4M-16.4 85.1h19.9M16.6 85.1h11.6M-15.1 87.5h3.4M-9.6 87.5h3.4M-4.0 87.5h6.1M15.2 87.5h3.4M23.4 87.5h3.4M-13.7 89.8h8.8M-2.7 89.8h6.1M13.8 89.8h6.1M24.8 89.8h3.4M-6.8 92.2h3.4M-1.3 92.2h30.9M-10.9 94.6h8.8M5.6 94.6h22.6M-15.1 97.0h8.8M-4.0 97.0h3.4M4.2 97.0h6.1M12.4 97.0h11.6M26.2 97.0h3.4M-13.7 99.4h17.1M5.6 99.4h3.4M22.1 99.4h6.1M33.1 99.4h6.1M-15.1 101.7h6.1M-4.0 101.7h3.4M1.4 101.7h6.1M17.9 101.7h11.6M31.7 101.7h6.1M-13.7 104.1h14.3M2.8 104.1h6.1M16.6 104.1h6.1M27.6 104.1h6.1M35.8 104.1h3.4M-15.1 106.5h3.4M-9.6 106.5h17.1M12.4 106.5h14.3M28.9 106.5h6.1M-10.9 108.9h17.1M8.3 108.9h3.4M13.8 108.9h6.1M22.1 108.9h3.4M27.6 108.9h6.1M35.8 108.9h3.4M-6.8 111.3h3.4M1.4 111.3h11.6M15.2 111.3h6.1M23.4 111.3h17.1M2.8 113.6h6.1M11.1 113.6h22.6M35.8 113.6h3.4M17.9 116.0h3.4"/><path stroke="#c6e39e" d="M84.0 -31.5h3.4M79.8 -29.2h6.1M88.1 -29.2h8.8M99.1 -29.2h11.6M81.2 -26.8h3.4M74.3 -24.4h3.4M81.2 -22.0h3.4M93.6 -14.9h3.4M-37.0 -12.5h3.4M42.7 -12.5h3.4M-9.6 -7.7h3.4M84.0 -7.7h3.4M88.1 -5.4h8.8M-23.3 -3.0h3.4M40.0 20.8h3.4M-1.3 25.6h3.4M17.9 25.6h8.8M28.9 25.6h3.4M2.8 28.0h3.4M-4.0 30.3h6.1M17.9 30.3h3.4M28.9 30.3h3.4M37.2 30.3h8.8M-5.4 32.7h6.1M2.8 32.7h3.4M38.6 32.7h3.4M46.8 32.7h3.4M-6.8 35.1h3.4M-1.3 35.1h19.9M20.7 35.1h8.8M-8.2 37.5h6.1M0.1 37.5h3.4M5.6 37.5h14.3M22.1 37.5h8.8M-28.8 39.9h3.4M-9.6 39.9h3.4M-4.0 39.9h3.4M1.4 39.9h6.1M9.7 39.9h3.4M15.2 39.9h14.3M34.5 39.9h6.1M-27.4 42.2h3.4M-19.2 42.2h3.4M-5.4 42.2h11.6M13.8 42.2h8.8M24.8 42.2h14.3M-26.1 44.6h3.4M-4.0 44.6h25.4M23.4 44.6h17.1M-5.4 47.0h3.4M0.1 47.0h3.4M13.8 47.0h3.4M19.3 47.0h3.4M24.8 47.0h8.8M-17.8 49.4h3.4M-4.0 49.4h11.6M12.4 49.4h3.4M17.9 49.4h14.3M37.2 49.4h3.4M-16.4 51.8h3.4M2.8 51.8h3.4M13.8 51.8h8.8M24.8 51.8h8.8M35.8 51.8h3.4M-6.8 54.1h3.4M-1.3 54.1h6.1M12.4 54.1h3.4M20.7 54.1h8.8M37.2 54.1h3.4M-2.7 56.5h8.8M13.8 56.5h19.9M-15.1 58.9h3.4M-1.3 58.9h6.1M37.2 58.9h3.4M-13.7 61.3h3.4M2.8 61.3h3.4M38.6 66.0h3.4M-1.3 73.2h3.4M9.7 73.2h3.4M-10.9 75.6h3.4M-5.4 75.6h3.4M38.6 75.6h3.4M37.2 77.9h3.4M-5.4 80.3h3.4M11.1 80.3h3.4M12.4 82.7h3.4M-9.6 92.2h3.4M-13.7 94.6h3.4M8.3 99.4h6.1M38.6 99.4h3.4M9.7 101.7h3.4M28.9 101.7h3.4M37.2 101.7h3.4M24.8 104.1h3.4M38.6 104.1h3.4M37.2 106.5h3.4M38.6 108.9h3.4M12.4 111.3h3.4M8.3 113.6h3.4M38.6 113.6h3.4"/><path stroke="#5e50a2" d="M37.2 -64.9h3.4M100.5 -60.1h3.4M63.3 -57.7h6.1M93.6 -57.7h3.4M37.2 -55.3h3.4M68.8 -53.0h3.4M73.0 -50.6h3.4M55.1 -48.2h3.4M60.6 -48.2h6.1M74.3 -48.2h3.4M42.7 -45.8h3.4M75.7 -45.8h3.4M30.3 -43.4h3.4M41.3 -43.4h6.1M28.9 -41.1h3.4M34.5 -41.1h14.3M33.1 -38.7h11.6M49.6 -38.7h3.4M55.1 -38.7h3.4M63.3 -38.7h8.8M31.7 -36.3h8.8M103.2 -36.3h3.4M30.3 -33.9h11.6M28.9 -31.5h14.3M78.5 -31.5h3.4M97.7 -31.5h3.4M27.6 -29.2h14.3M71.6 -29.2h3.4M26.2 -26.8h17.1M24.8 -24.4h17.1M12.4 -22.0h3.4M23.4 -22.0h19.9M22.1 -19.6h11.6M20.7 -17.3h11.6M19.3 -14.9h8.8M17.9 -12.5h8.8M34.5 -12.5h3.4M16.6 -10.1h8.8M33.1 -10.1h6.1M12.4 -7.7h14.3M34.5 -7.7h3.4M8.3 -5.4h17.1M33.1 -5.4h6.1M1.4 -3.0h25.4M-2.7 -0.6h28.1M-9.6 1.8h36.4M-13.7 4.2h41.9M-28.8 6.5h58.4M-10.9 8.9h19.9M11.1 8.9h19.9M-6.8 11.3h36.4M-5.4 13.7h36.4M-4.0 16.1h36.4M30.3 32.7h6.1M31.7 35.1h6.1M62.0 44.6h47.4M60.6 47.0h50.1M59.2 49.4h50.1M60.6 51.8h50.1M59.2 54.1h52.9M60.6 56.5h50.1M23.4 58.9h3.4M59.2 58.9h52.9M60.6 61.3h50.1M59.2 63.7h52.9M60.6 66.0h50.1M59.2 68.4h52.9M60.6 70.8h50.1M59.2 73.2h14.3M84.0 73.2h28.1M60.6 75.6h8.8M85.3 75.6h25.4M59.2 77.9h11.6M86.7 77.9h25.4M60.6 80.3h8.8M85.3 80.3h25.4M59.2 82.7h11.6M86.7 82.7h25.4M60.6 85.1h8.8M85.3 85.1h25.4M59.2 87.5h11.6M86.7 87.5h25.4M60.6 89.8h8.8M85.3 89.8h25.4M59.2 92.2h11.6M86.7 92.2h25.4M60.6 94.6h11.6M82.6 94.6h28.1M59.2 97.0h52.9M60.6 99.4h50.1M59.2 101.7h52.9M60.6 104.1h50.1M59.2 106.5h52.9M60.6 108.9h50.1M59.2 111.3h30.9M60.6 113.6h14.3"/><path stroke="#3c88b7" d="M23.4 -64.9h8.8M34.5 -64.9h3.4M22.1 -62.5h3.4M35.8 -62.5h19.9M60.6 -62.5h6.1M99.1 -62.5h3.4M34.5 -60.1h3.4M42.7 -60.1h8.8M59.2 -60.1h3.4M64.7 -60.1h3.4M73.0 -60.1h3.4M78.5 -60.1h6.1M92.2 -60.1h6.1M35.8 -57.7h8.8M46.8 -57.7h11.6M68.8 -57.7h3.4M74.3 -57.7h3.4M90.8 -57.7h3.4M34.5 -55.3h3.4M40.0 -55.3h11.6M62.0 -55.3h6.1M73.0 -55.3h3.4M89.5 -55.3h19.9M60.6 -53.0h3.4M71.6 -53.0h3.4M82.6 -53.0h3.4M90.8 -53.0h3.4M96.3 -53.0h6.1M104.6 -53.0h3.4M110.1 -53.0h3.4M31.7 -50.6h3.4M92.2 -50.6h3.4M100.5 -50.6h3.4M108.7 -50.6h3.4M-5.4 -48.2h3.4M33.1 -48.2h3.4M68.8 -48.2h3.4M96.3 -48.2h8.8M107.3 -48.2h3.4M9.7 -45.8h3.4M53.7 -45.8h3.4M89.5 -45.8h3.4M95.0 -45.8h6.1M103.2 -45.8h8.8M38.6 -43.4h3.4M57.8 -43.4h3.4M88.1 -43.4h11.6M104.6 -43.4h6.1M51.0 -41.1h3.4M86.7 -41.1h14.3M103.2 -41.1h8.8M5.6 -38.7h3.4M60.6 -38.7h3.4M85.3 -38.7h25.4M56.5 -36.3h8.8M75.7 -36.3h3.4M11.1 -33.9h3.4M-37.0 -31.5h3.4M0.1 -29.2h3.4M19.3 -24.4h3.4M-1.3 -22.0h3.4M16.6 -19.6h3.4M-4.0 -17.3h3.4M12.4 -17.3h6.1M-31.6 16.1h19.9M-30.2 18.4h14.3M-13.7 18.4h3.4M-31.6 20.8h6.1M-23.3 20.8h11.6M-30.2 23.2h11.6M-31.6 25.6h3.4M-26.1 25.6h8.8M-30.2 28.0h6.1M-21.9 28.0h6.1M-28.8 30.3h11.6M96.3 32.7h3.4M95.0 35.1h14.3M55.1 37.5h3.4M60.6 37.5h11.6M74.3 37.5h25.4M56.5 39.9h3.4M51.0 49.4h3.4M51.0 82.7h3.4"/><path stroke="#4b94b3" d="M20.7 -64.9h3.4M16.6 -62.5h6.1M27.6 -62.5h3.4M33.1 -62.5h3.4M15.2 -60.1h19.9M84.0 -60.1h3.4M16.6 -57.7h3.4M22.1 -57.7h6.1M30.3 -57.7h6.1M88.1 -57.7h3.4M17.9 -55.3h6.1M26.2 -55.3h6.1M75.7 -55.3h3.4M16.6 -53.0h11.6M30.3 -53.0h6.1M74.3 -53.0h3.4M17.9 -50.6h14.3M89.5 -50.6h3.4M19.3 -48.2h3.4M24.8 -48.2h8.8M88.1 -48.2h3.4M12.4 -45.8h11.6M26.2 -45.8h6.1M86.7 -45.8h3.4M2.8 -43.4h8.8M13.8 -43.4h17.1M85.3 -43.4h3.4M-6.8 -41.1h3.4M4.2 -41.1h14.3M20.7 -41.1h8.8M-5.4 -38.7h6.1M2.8 -38.7h3.4M8.3 -38.7h3.4M13.8 -38.7h6.1M22.1 -38.7h6.1M-4.0 -36.3h6.1M4.2 -36.3h3.4M12.4 -36.3h14.3M51.0 -36.3h3.4M64.7 -36.3h3.4M84.0 -36.3h3.4M89.5 -36.3h14.3M108.7 -36.3h3.4M-8.2 -33.9h8.8M2.8 -33.9h8.8M13.8 -33.9h11.6M57.8 -33.9h6.1M-6.8 -31.5h30.9M-2.7 -29.2h3.4M2.8 -29.2h8.8M13.8 -29.2h8.8M-9.6 -26.8h14.3M9.7 -26.8h11.6M-5.4 -24.4h3.4M0.1 -24.4h8.8M13.8 -24.4h6.1M-9.6 -22.0h3.4M-4.0 -22.0h3.4M1.4 -22.0h8.8M15.2 -22.0h3.4M-8.2 -19.6h19.9M13.8 -19.6h3.4M-9.6 -17.3h6.1M-1.3 -17.3h14.3M-2.7 -14.9h17.1M-12.3 20.8h3.4M-13.7 23.2h3.4M-32.9 28.0h3.4M59.2 35.1h17.1M81.2 35.1h6.1M92.2 35.1h3.4M57.8 37.5h3.4"/><path stroke="#665ea2" d="M41.3 -33.9h3.4M41.3 -29.2h3.4M41.3 -24.4h3.4M42.7 -22.0h3.4M33.1 -19.6h8.8M31.7 -17.3h3.4M27.6 -14.9h11.6M26.2 -12.5h3.4M31.7 -12.5h3.4M37.2 -12.5h3.4M24.8 -10.1h3.4M9.7 -7.7h3.4M31.7 -7.7h3.4M37.2 -7.7h3.4M5.6 -5.4h3.4M24.8 -5.4h3.4M-1.3 -3.0h3.4M31.7 -3.0h8.8M-8.2 -0.6h6.1M24.8 -0.6h3.4M-12.3 1.8h3.4M26.2 1.8h3.4M86.7 1.8h6.1M95.0 1.8h3.4M-30.2 4.2h17.1M27.6 4.2h3.4M85.3 4.2h11.6M28.9 6.5h3.4M28.9 11.3h3.4M30.3 13.7h3.4M31.7 16.1h3.4M-8.2 18.4h39.1M35.8 32.7h3.4M56.5 44.6h3.4M56.5 49.4h3.4M56.5 54.1h3.4M56.5 58.9h3.4M56.5 63.7h3.4M110.1 66.0h3.4M56.5 68.4h3.4M110.1 70.8h3.4M56.5 73.2h3.4M73.0 73.2h3.4M78.5 73.2h6.1M68.8 75.6h3.4M56.5 77.9h3.4M84.0 77.9h3.4M68.8 80.3h3.4M56.5 82.7h3.4M84.0 82.7h3.4M68.8 85.1h3.4M56.5 87.5h3.4M84.0 87.5h3.4M68.8 89.8h3.4M56.5 92.2h3.4M70.2 92.2h3.4M84.0 92.2h3.4M71.6 94.6h11.6M56.5 97.0h3.4M56.5 101.7h3.4M56.5 106.5h3.4M56.5 111.3h3.4"/><path stroke="#dcf19a" d="M97.7 -22.0h3.4M-21.9 -10.1h6.1M93.6 -10.1h3.4M-30.2 -5.4h3.4M-26.1 -3.0h3.4M-17.8 -3.0h3.4M28.9 20.8h3.4M-8.2 23.2h3.4M35.8 23.2h3.4M41.3 23.2h3.4M5.6 28.0h3.4M20.7 30.3h3.4M45.5 30.3h3.4M0.1 32.7h3.4M11.1 32.7h3.4M16.6 32.7h3.4M-27.4 37.5h3.4M-10.9 37.5h3.4M33.1 37.5h3.4M38.6 37.5h3.4M7.0 39.9h3.4M-12.3 44.6h3.4M-26.1 49.4h3.4M34.5 49.4h3.4M-27.4 51.8h3.4M-8.2 51.8h6.1M-15.1 54.1h3.4M-26.1 58.9h3.4M28.9 58.9h3.4M-24.7 61.3h3.4M-15.1 63.7h3.4M-16.4 66.0h3.4M23.4 68.4h3.4M-5.4 70.8h3.4M16.6 70.8h3.4M35.8 70.8h3.4M-8.2 75.6h3.4M-12.3 77.9h3.4M41.3 80.3h3.4M27.6 85.1h3.4M-12.3 87.5h3.4M17.9 87.5h6.1M38.6 89.8h3.4M-15.1 92.2h6.1M1.4 97.0h3.4M23.4 97.0h3.4M13.8 99.4h3.4M-9.6 101.7h3.4M13.8 104.1h3.4M-12.3 106.5h3.4M34.5 106.5h3.4M41.3 108.9h3.4M20.7 111.3h3.4M53.7 111.3h3.4"/><path stroke="#7798a4" d="M-10.9 -57.7h3.4M79.8 -57.7h3.4M85.3 -57.7h3.4M-10.9 -53.0h3.4M88.1 -53.0h3.4M-10.9 -48.2h3.4M85.3 -48.2h3.4M84.0 -45.8h3.4M-10.9 -43.4h3.4M-10.9 -38.7h3.4M-10.9 -33.9h3.4M-39.8 -31.5h3.4M59.2 -31.5h6.1M-10.9 -29.2h3.4M44.1 -29.2h3.4M-39.8 -26.8h3.4M-37.0 -17.3h3.4M42.7 -17.3h3.4M41.3 -14.9h3.4M40.0 -12.5h3.4M40.0 -7.7h3.4M40.0 -3.0h3.4M31.7 1.8h6.1M33.1 4.2h3.4M33.1 8.9h3.4M34.5 11.3h3.4M35.8 13.7h3.4M-9.6 35.1h3.4M52.3 47.0h3.4M53.7 49.4h3.4M52.3 51.8h3.4M53.7 54.1h3.4M52.3 56.5h3.4M53.7 58.9h3.4M52.3 61.3h3.4M53.7 63.7h3.4M52.3 66.0h3.4M53.7 68.4h3.4M52.3 70.8h3.4M53.7 73.2h3.4M79.8 75.6h3.4M52.3 80.3h3.4M71.6 80.3h3.4M52.3 85.1h3.4M71.6 85.1h3.4M52.3 89.8h3.4M71.6 89.8h3.4M75.7 92.2h6.1M53.7 97.0h3.4M53.7 101.7h3.4M52.3 104.1h3.4M53.7 106.5h3.4M52.3 108.9h3.4"/><path stroke="#b3e0a2" d="M85.3 -29.2h3.4M78.5 -26.8h3.4M86.7 -26.8h3.4M97.7 -12.5h3.4M41.3 -10.1h3.4M44.1 8.9h3.4M30.3 18.4h3.4M27.6 23.2h3.4M1.4 25.6h3.4M26.2 25.6h3.4M-13.7 28.0h3.4M-5.4 28.0h3.4M26.2 30.3h3.4M22.1 32.7h3.4M-4.0 35.1h3.4M41.3 37.5h3.4M-1.3 39.9h3.4M11.1 42.2h3.4M-9.6 44.6h3.4M22.1 47.0h3.4M33.1 47.0h3.4M15.2 49.4h3.4M42.7 49.4h3.4M0.1 51.8h3.4M-20.6 54.1h3.4M15.2 54.1h3.4M31.7 54.1h3.4M-21.9 56.5h3.4M-8.2 56.5h3.4M-6.8 58.9h3.4M31.7 58.9h6.1M42.7 58.9h3.4M-13.7 66.0h3.4M8.3 70.8h3.4M38.6 70.8h3.4M40.0 73.2h3.4M-19.2 80.3h3.4M23.4 82.7h3.4M31.7 82.7h3.4M13.8 85.1h3.4M48.2 87.5h3.4M2.8 94.6h3.4M-6.8 97.0h3.4M9.7 97.0h3.4M42.7 97.0h3.4M-6.8 101.7h3.4M7.0 101.7h3.4M11.1 104.1h3.4M22.1 104.1h3.4M26.2 106.5h3.4M33.1 108.9h3.4M-4.0 111.3h6.1M49.6 113.6h3.4"/><path stroke="#5a57a4" d="M62.0 -60.1h3.4M55.1 -53.0h6.1M63.3 -53.0h3.4M40.0 -50.6h3.4M51.0 -50.6h17.1M41.3 -48.2h14.3M66.1 -48.2h3.4M90.8 -48.2h3.4M37.2 -45.8h6.1M45.5 -45.8h8.8M56.5 -45.8h6.1M64.7 -45.8h3.4M35.8 -43.4h3.4M46.8 -43.4h3.4M71.6 -43.4h3.4M48.2 -41.1h3.4M70.2 -41.1h3.4M44.1 -38.7h6.1M40.0 -36.3h6.1M82.6 -33.9h3.4M24.8 -29.2h3.4M23.4 -26.8h3.4M8.3 -24.4h3.4M22.1 -24.4h3.4M20.7 -22.0h3.4M19.3 -19.6h3.4M17.9 -17.3h3.4M16.6 -14.9h3.4M15.2 -12.5h3.4M13.8 -10.1h3.4M-30.2 8.9h19.9M-9.6 11.3h3.4M-8.2 13.7h3.4M-6.8 16.1h3.4M-16.4 23.2h3.4M60.6 42.2h50.1M59.2 44.6h3.4M57.8 47.0h3.4M57.8 51.8h3.4M57.8 56.5h3.4M57.8 61.3h3.4M57.8 66.0h3.4M57.8 70.8h3.4M57.8 75.6h3.4M57.8 80.3h3.4M57.8 85.1h3.4M57.8 89.8h3.4M57.8 94.6h3.4M57.8 99.4h3.4M57.8 104.1h3.4M57.8 108.9h3.4M57.8 113.6h3.4"/><path stroke="#e25842" d="M60.6 -29.2h3.4M57.8 -24.4h3.4M59.2 -22.0h3.4M64.7 -22.0h3.4M55.1 -19.6h3.4M63.3 -19.6h6.1M56.5 -17.3h8.8M67.5 -17.3h6.1M57.8 -14.9h3.4M74.3 -14.9h3.4M56.5 -12.5h3.4M64.7 -12.5h3.4M74.3 -10.1h3.4M56.5 -7.7h3.4M75.7 -7.7h3.4M77.1 -5.4h3.4M75.7 -3.0h3.4M108.7 -3.0h3.4M77.1 -0.6h3.4M104.6 -0.6h6.1M56.5 1.8h3.4M78.5 1.8h3.4M100.5 1.8h3.4M108.7 1.8h3.4M77.1 4.2h3.4M101.8 4.2h6.1M77.1 8.9h6.1M78.5 11.3h17.1M60.6 13.7h3.4M77.1 13.7h11.6M90.8 13.7h6.1M64.7 16.1h8.8M75.7 16.1h19.9M63.3 18.4h3.4M68.8 18.4h14.3M85.3 18.4h8.8M104.6 18.4h3.4M59.2 20.8h8.8M70.2 20.8h14.3M86.7 20.8h8.8M52.3 23.2h3.4M63.3 23.2h6.1M74.3 23.2h8.8M85.3 23.2h3.4M90.8 23.2h6.1M53.7 25.6h6.1M62.0 25.6h3.4M70.2 25.6h28.1M52.3 28.0h8.8M63.3 28.0h6.1M71.6 28.0h3.4"/><path stroke="#5bb1ab" d="M1.4 -64.9h8.8M-8.2 -62.5h6.1M11.1 -62.5h3.4M66.1 -62.5h3.4M-9.6 -60.1h3.4M12.4 -60.1h3.4M-8.2 -57.7h3.4M27.6 -57.7h3.4M77.1 -57.7h3.4M-8.2 -53.0h3.4M0.1 -53.0h3.4M11.1 -53.0h3.4M35.8 -53.0h6.1M93.6 -53.0h3.4M-6.8 -50.6h3.4M9.7 -50.6h6.1M45.5 -50.6h3.4M2.8 -48.2h6.1M16.6 -48.2h3.4M-4.0 -45.8h6.1M-9.6 -41.1h3.4M-4.0 -41.1h3.4M1.4 -41.1h3.4M17.9 -41.1h3.4M11.1 -38.7h3.4M86.7 -36.3h3.4M44.1 -33.9h3.4M63.3 -33.9h3.4M-9.6 -31.5h3.4M-10.9 -24.4h3.4M11.1 -24.4h3.4M-6.8 -12.5h3.4M45.5 -12.5h3.4M37.2 1.8h3.4M35.8 4.2h3.4M-32.9 23.2h3.4M-27.4 32.7h3.4M78.5 35.1h3.4M71.6 37.5h3.4M52.3 42.2h3.4M53.7 44.6h3.4M44.1 47.0h3.4M44.1 51.8h6.1M46.8 80.3h3.4M-17.8 82.7h3.4M53.7 82.7h3.4M46.8 89.8h3.4M48.2 101.7h3.4M52.3 113.6h3.4"/><path stroke="#4375b2" d="M55.1 -62.5h3.4M40.0 -60.1h3.4M97.7 -60.1h3.4M57.8 -57.7h3.4M71.6 -57.7h3.4M51.0 -55.3h11.6M70.2 -55.3h3.4M41.3 -53.0h8.8M101.8 -53.0h3.4M107.3 -53.0h3.4M34.5 -50.6h6.1M70.2 -50.6h3.4M103.2 -50.6h3.4M93.6 -48.2h3.4M-9.6 -45.8h3.4M100.5 -45.8h3.4M77.1 -43.4h3.4M99.1 -43.4h6.1M53.7 -41.1h14.3M52.3 -38.7h3.4M82.6 -38.7h3.4M7.0 -36.3h3.4M106.0 -36.3h3.4M-5.4 -29.2h3.4M-38.4 -24.4h3.4M-8.2 -24.4h3.4M-30.2 13.7h6.1M-21.9 13.7h8.8M-10.9 18.4h3.4M-26.1 20.8h3.4M-17.8 25.6h3.4M-17.8 30.3h3.4M-30.2 32.7h3.4M101.8 32.7h3.4M86.7 35.1h3.4M99.1 37.5h11.6M59.2 39.9h8.8M20.7 44.6h3.4M-5.4 61.3h3.4M49.6 61.3h3.4M-8.2 80.3h3.4M-2.7 94.6h6.1M-1.3 97.0h3.4M16.6 99.4h6.1M8.3 104.1h3.4M33.1 104.1h3.4M46.8 104.1h3.4M7.0 106.5h6.1"/><path stroke="#d5dc95" d="M77.1 -29.2h3.4M79.8 -19.6h3.4M81.2 -17.3h3.4M82.6 -14.9h3.4M-34.3 -12.5h3.4M108.7 -12.5h3.4M-35.7 -10.1h3.4M-27.4 -10.1h6.1M-16.4 -10.1h6.1M82.6 -10.1h3.4M104.6 -10.1h3.4M-31.6 -7.7h19.9M100.5 -7.7h3.4M-32.9 -5.4h3.4M-27.4 -5.4h14.3M96.3 -5.4h3.4M-20.6 -3.0h3.4M42.7 20.8h3.4M15.2 25.6h3.4M13.8 28.0h6.1M44.1 28.0h3.4M4.2 30.3h3.4M9.7 30.3h8.8M23.4 30.3h3.4M8.3 32.7h3.4M13.8 32.7h3.4M-27.4 61.3h3.4M-21.9 61.3h3.4M30.3 61.3h6.1M-17.8 63.7h3.4M-19.2 66.0h3.4M35.8 66.0h3.4M-17.8 68.4h3.4M37.2 68.4h3.4M-19.2 70.8h6.1M-17.8 73.2h3.4M-19.2 75.6h3.4M35.8 75.6h3.4M-20.6 77.9h6.1M26.2 77.9h11.6M33.1 80.3h3.4M28.9 82.7h3.4M37.2 82.7h3.4M27.6 89.8h3.4M27.6 94.6h3.4M28.9 97.0h11.6"/><path stroke="#4ea4b1" d="M12.4 -64.9h6.1M8.3 -62.5h3.4M24.8 -62.5h3.4M57.8 -62.5h3.4M56.5 -60.1h3.4M-5.4 -57.7h3.4M11.1 -57.7h6.1M60.6 -57.7h3.4M99.1 -57.7h3.4M9.7 -55.3h3.4M15.2 -55.3h3.4M23.4 -55.3h3.4M8.3 -53.0h3.4M13.8 -53.0h3.4M27.6 -53.0h3.4M97.7 -50.6h3.4M106.0 -50.6h3.4M13.8 -48.2h3.4M57.8 -48.2h3.4M77.1 -48.2h3.4M1.4 -45.8h8.8M-5.4 -43.4h3.4M0.1 -43.4h3.4M-6.8 -36.3h3.4M9.7 -36.3h3.4M96.3 -33.9h3.4M92.2 -31.5h3.4M-6.8 -22.0h3.4M17.9 -22.0h3.4M11.1 -19.6h3.4M-8.2 -14.9h6.1M8.3 8.9h3.4M-24.7 28.0h3.4M24.8 28.0h3.4M-31.6 30.3h3.4M48.2 39.9h6.1M22.1 42.2h3.4M34.5 54.1h3.4M8.3 61.3h3.4M34.5 73.2h3.4M13.8 75.6h3.4M-5.4 89.8h3.4M44.1 104.1h3.4"/><path stroke="#66bca7" d="M9.7 -64.9h3.4M40.0 -64.9h3.4M-2.7 -62.5h11.6M-6.8 -60.1h19.9M51.0 -60.1h3.4M86.7 -60.1h3.4M-2.7 -57.7h11.6M-6.8 -55.3h17.1M12.4 -55.3h3.4M-5.4 -53.0h3.4M2.8 -53.0h6.1M-4.0 -50.6h14.3M15.2 -50.6h3.4M-2.7 -48.2h6.1M23.4 -45.8h3.4M-8.2 -43.4h3.4M84.0 -41.1h3.4M71.6 -33.9h3.4M79.8 -33.9h3.4M90.8 -33.9h3.4M-2.7 -24.4h3.4M9.7 -22.0h3.4M-10.9 -14.9h3.4M46.8 -10.1h3.4M44.1 -5.4h3.4M41.3 4.2h3.4M40.0 6.5h3.4M41.3 13.7h3.4M-19.2 23.2h3.4M53.7 35.1h3.4M51.0 44.6h3.4M41.3 47.0h3.4M48.2 49.4h3.4M48.2 54.1h3.4M46.8 61.3h3.4M42.7 63.7h3.4M48.2 68.4h3.4M49.6 70.8h3.4M38.6 80.3h3.4M7.0 87.5h3.4M46.8 94.6h3.4M45.5 101.7h3.4"/><path stroke="#697da4" d="M-35.7 -38.7h3.4M45.5 -36.3h6.1M-35.7 -33.9h3.4M42.7 -31.5h3.4M-35.7 -29.2h3.4M-35.7 -24.4h3.4M-35.7 -19.6h3.4M40.0 -17.3h3.4M38.6 -14.9h3.4M27.6 -10.1h3.4M28.9 -7.7h3.4M27.6 -5.4h3.4M28.9 -3.0h3.4M27.6 -0.6h6.1M30.3 4.2h3.4M31.7 6.5h3.4M-9.6 20.8h3.4M71.6 32.7h19.9M-15.1 35.1h6.1M55.1 47.0h3.4M55.1 51.8h3.4M55.1 56.5h3.4M55.1 61.3h3.4M55.1 66.0h3.4M55.1 70.8h3.4M55.1 75.6h3.4M53.7 77.9h3.4M55.1 80.3h3.4M55.1 85.1h3.4M53.7 87.5h3.4M55.1 89.8h3.4M82.6 89.8h3.4M53.7 92.2h3.4M55.1 94.6h3.4M55.1 99.4h3.4M55.1 104.1h3.4M55.1 108.9h3.4M55.1 113.6h3.4"/><path stroke="#db493f" d="M60.6 -14.9h14.3M59.2 -12.5h6.1M67.5 -12.5h3.4M57.8 -10.1h6.1M66.1 -10.1h3.4M71.6 -10.1h3.4M62.0 -7.7h11.6M57.8 -5.4h8.8M71.6 -5.4h6.1M62.0 -3.0h3.4M67.5 -3.0h8.8M63.3 -0.6h14.3M59.2 1.8h6.1M67.5 1.8h3.4M73.0 1.8h6.1M66.1 4.2h3.4M71.6 4.2h6.1M107.3 4.2h3.4M62.0 6.5h14.3M100.5 6.5h3.4M108.7 6.5h3.4M63.3 8.9h3.4M68.8 8.9h8.8M101.8 8.9h6.1M110.1 8.9h3.4M64.7 11.3h11.6M95.0 11.3h11.6M66.1 13.7h8.8M96.3 13.7h3.4M101.8 13.7h3.4M107.3 13.7h3.4M100.5 16.1h8.8M96.3 18.4h3.4M101.8 18.4h3.4M107.3 18.4h3.4M100.5 20.8h8.8M96.3 23.2h14.3M103.2 25.6h8.8"/><path stroke="#5065aa" d="M37.2 -60.1h3.4M101.8 -57.7h3.4M31.7 -55.3h3.4M84.0 -55.3h3.4M49.6 -53.0h6.1M66.1 -53.0h3.4M42.7 -50.6h3.4M48.2 -50.6h3.4M67.5 -50.6h3.4M78.5 -50.6h3.4M35.8 -48.2h6.1M34.5 -45.8h3.4M67.5 -45.8h3.4M33.1 -43.4h3.4M49.6 -43.4h8.8M60.6 -43.4h8.8M31.7 -41.1h3.4M100.5 -41.1h3.4M30.3 -38.7h3.4M28.9 -36.3h3.4M27.6 -33.9h3.4M26.2 -31.5h3.4M-31.6 11.3h22.6M-13.7 13.7h6.1M-12.3 16.1h6.1M-28.8 25.6h3.4M-15.1 25.6h6.1M-16.4 28.0h3.4M-10.9 28.0h3.4M-15.1 30.3h8.8M-16.4 32.7h8.8M67.5 39.9h41.9M-13.7 42.2h6.1M55.1 42.2h6.1M-15.1 44.6h3.4M-13.7 47.0h6.1M-12.3 49.4h3.4"/><path stroke="#6f6c9f" d="M42.7 -26.8h3.4M41.3 -19.6h3.4M34.5 -17.3h6.1M28.9 -12.5h3.4M11.1 -10.1h3.4M30.3 -10.1h3.4M38.6 -10.1h3.4M7.0 -7.7h3.4M26.2 -7.7h3.4M2.8 -5.4h3.4M30.3 -5.4h3.4M38.6 -5.4h3.4M-4.0 -3.0h3.4M26.2 -3.0h3.4M-10.9 -0.6h3.4M33.1 -0.6h6.1M-15.1 1.8h3.4M84.0 1.8h3.4M89.5 6.5h3.4M30.3 8.9h3.4M31.7 11.3h3.4M33.1 13.7h3.4M33.1 18.4h3.4M8.3 47.0h3.4M5.6 51.8h3.4M5.6 56.5h3.4M17.9 58.9h6.1M5.6 61.3h3.4M27.6 61.3h3.4M30.3 70.8h3.4M75.7 73.2h3.4M82.6 75.6h3.4M70.2 77.9h3.4M1.4 82.7h3.4M70.2 82.7h3.4M70.2 87.5h3.4M11.1 89.8h3.4"/><path stroke="#9fd8a4" d="M-2.7 -53.0h3.4M89.5 -22.0h3.4M-4.0 25.6h3.4M31.7 25.6h3.4M48.2 25.6h3.4M38.6 28.0h3.4M1.4 30.3h3.4M40.0 35.1h3.4M48.2 35.1h3.4M-24.7 37.5h3.4M2.8 37.5h3.4M19.3 37.5h3.4M28.9 39.9h3.4M5.6 42.2h3.4M41.3 42.2h3.4M-9.6 49.4h3.4M45.5 54.1h3.4M-2.7 61.3h3.4M22.1 66.0h3.4M41.3 66.0h3.4M42.7 68.4h3.4M37.2 73.2h3.4M-9.6 77.9h3.4M40.0 77.9h3.4M-13.7 80.3h3.4M77.1 80.3h6.1M26.2 82.7h3.4M42.7 82.7h3.4M75.7 82.7h3.4M77.1 85.1h3.4M-6.8 87.5h3.4M26.2 87.5h3.4M75.7 87.5h3.4M52.3 94.6h3.4M27.6 99.4h3.4M44.1 113.6h3.4"/><path stroke="#e9f69e" d="M86.7 -22.0h3.4M99.1 -19.6h3.4M107.3 -19.6h3.4M101.8 -14.9h3.4M-32.9 -10.1h6.1M96.3 -10.1h3.4M-28.8 -3.0h3.4M46.8 -0.6h3.4M-16.4 18.4h3.4M19.3 28.0h3.4M27.6 28.0h3.4M27.6 32.7h3.4M17.9 35.1h3.4M-21.9 42.2h3.4M-21.9 47.0h6.1M16.6 47.0h3.4M-23.3 49.4h3.4M-15.1 49.4h3.4M33.1 51.8h3.4M17.9 54.1h3.4M28.9 54.1h3.4M-23.3 58.9h3.4M7.0 63.7h3.4M11.1 66.0h6.1M-9.6 68.4h3.4M19.3 75.6h3.4M23.4 77.9h3.4M17.9 82.7h3.4M19.3 89.8h6.1M2.8 99.4h3.4M-1.3 101.7h3.4M12.4 101.7h3.4M5.6 108.9h3.4M19.3 108.9h3.4M24.8 108.9h3.4M33.1 113.6h3.4"/><path stroke="#4199b6" d="M17.9 -64.9h3.4M31.7 -64.9h3.4M13.8 -62.5h3.4M30.3 -62.5h3.4M53.7 -60.1h3.4M67.5 -60.1h6.1M75.7 -60.1h3.4M89.5 -60.1h3.4M19.3 -57.7h3.4M44.1 -57.7h3.4M96.3 -57.7h3.4M67.5 -55.3h3.4M95.0 -50.6h3.4M8.3 -48.2h6.1M22.1 -48.2h3.4M62.0 -45.8h3.4M92.2 -45.8h3.4M-2.7 -43.4h3.4M68.8 -43.4h3.4M-1.3 -41.1h3.4M81.2 -41.1h3.4M-8.2 -38.7h3.4M0.1 -38.7h3.4M57.8 -38.7h3.4M1.4 -36.3h3.4M53.7 -36.3h3.4M78.5 -36.3h3.4M56.5 -31.5h3.4M-8.2 -29.2h3.4M11.1 -29.2h3.4M7.0 -26.8h3.4M-1.3 -12.5h3.4M-24.7 13.7h3.4M-21.9 32.7h3.4M75.7 35.1h3.4"/><path stroke="#71afac" d="M52.3 -33.9h3.4M-4.0 -12.5h3.4M1.4 -12.5h6.1M49.6 37.5h3.4M45.5 39.9h3.4M44.1 42.2h8.8M45.5 44.6h6.1M46.8 47.0h6.1M45.5 49.4h3.4M49.6 51.8h3.4M51.0 54.1h3.4M44.1 56.5h8.8M45.5 58.9h8.8M48.2 63.7h6.1M46.8 66.0h6.1M51.0 68.4h3.4M46.8 70.8h3.4M45.5 73.2h8.8M46.8 75.6h6.1M45.5 77.9h8.8M49.6 80.3h3.4M45.5 82.7h3.4M46.8 85.1h6.1M45.5 87.5h3.4M51.0 87.5h3.4M49.6 89.8h3.4M48.2 92.2h6.1M49.6 94.6h3.4M45.5 97.0h8.8M46.8 99.4h3.4M49.6 104.1h3.4M45.5 106.5h8.8M46.8 108.9h6.1M48.2 111.3h6.1"/><path stroke="#f7864f" d="M-21.9 -38.7h3.4M-26.1 -31.5h3.4M68.8 -29.2h3.4M-24.7 -24.4h3.4M60.6 -24.4h3.4M51.0 -17.3h3.4M77.1 -14.9h3.4M100.5 -12.5h3.4M90.8 -10.1h3.4M92.2 -7.7h3.4M64.7 -3.0h3.4M81.2 -3.0h3.4M103.2 -3.0h3.4M60.6 -0.6h3.4M85.3 -0.6h3.4M57.8 4.2h6.1M85.3 8.9h3.4M53.7 11.3h3.4M59.2 11.3h3.4M75.7 11.3h3.4M74.3 13.7h3.4M56.5 16.1h6.1M73.0 16.1h3.4M95.0 16.1h3.4M108.7 16.1h3.4M52.3 18.4h6.1M82.6 18.4h3.4M95.0 20.8h6.1M71.6 23.2h3.4M59.2 25.6h3.4M64.7 25.6h6.1M60.6 28.0h3.4M89.5 35.1h3.4"/><path stroke="#97c4a2" d="M86.7 -31.5h6.1M100.5 -31.5h11.6M46.8 -29.2h3.4M46.8 -14.9h3.4M48.2 -12.5h3.4M-2.7 -10.1h6.1M44.1 -10.1h3.4M45.5 -7.7h6.1M46.8 -5.4h3.4M45.5 -3.0h6.1M42.7 1.8h6.1M38.6 4.2h3.4M44.1 4.2h3.4M42.7 6.5h3.4M38.6 8.9h6.1M40.0 11.3h6.1M-28.8 35.1h11.6M42.7 35.1h3.4M41.3 51.8h3.4M41.3 70.8h3.4M41.3 75.6h3.4M75.7 77.9h6.1M74.3 80.3h3.4M78.5 82.7h3.4M74.3 85.1h3.4M79.8 85.1h3.4M73.0 87.5h3.4M78.5 87.5h3.4M74.3 89.8h6.1M42.7 101.7h3.4M42.7 106.5h3.4M42.7 111.3h3.4"/><path stroke="#deb576" d="M-16.4 -57.7h3.4M79.8 -53.0h3.4M82.6 -48.2h3.4M81.2 -45.8h3.4M74.3 -43.4h3.4M73.0 -41.1h3.4M78.5 -41.1h3.4M71.6 -38.7h3.4M77.1 -38.7h3.4M70.2 -36.3h3.4M68.8 -33.9h3.4M74.3 -33.9h3.4M73.0 -31.5h3.4M71.6 -24.4h3.4M73.0 -22.0h3.4M-30.2 -14.9h17.1M79.8 -10.1h3.4M106.0 -7.7h3.4M46.8 8.9h3.4M45.5 20.8h3.4M27.6 66.0h3.4M33.1 66.0h3.4M26.2 68.4h3.4M33.1 70.8h3.4M31.7 73.2h3.4M33.1 85.1h6.1M31.7 87.5h3.4M40.0 87.5h3.4M30.3 89.8h3.4M31.7 92.2h3.4M37.2 92.2h6.1"/><path stroke="#fa9a58" d="M-26.1 -55.3h3.4M-24.7 -48.2h3.4M-20.6 -41.1h3.4M-19.2 -38.7h3.4M-27.4 -33.9h3.4M67.5 -31.5h6.1M75.7 -31.5h3.4M-30.2 -29.2h3.4M45.5 -22.0h3.4M-21.9 -19.6h3.4M-20.6 -17.3h3.4M84.0 -17.3h3.4M53.7 -12.5h3.4M86.7 -12.5h3.4M79.8 -5.4h3.4M59.2 -3.0h3.4M86.7 -3.0h3.4M106.0 -3.0h3.4M64.7 1.8h3.4M103.2 1.8h3.4M68.8 4.2h3.4M86.7 6.5h3.4M99.1 8.9h3.4M55.1 13.7h3.4M88.1 13.7h3.4M51.0 16.1h3.4M60.6 18.4h3.4M46.8 23.2h3.4M100.5 25.6h3.4M74.3 28.0h3.4M38.6 85.1h3.4"/><path stroke="#e89058" d="M-23.3 -55.3h8.8M-24.7 -53.0h11.6M-26.1 -50.6h11.6M-21.9 -48.2h8.8M-26.1 -45.8h11.6M-27.4 -43.4h14.3M-28.8 -41.1h8.8M-17.8 -41.1h3.4M-27.4 -38.7h6.1M-16.4 -38.7h3.4M-28.8 -36.3h6.1M-20.6 -36.3h6.1M-24.7 -33.9h11.6M-20.6 -31.5h6.1M-27.4 -29.2h14.3M-23.3 -26.8h3.4M-17.8 -26.8h3.4M64.7 -26.8h3.4M-27.4 -24.4h3.4M-21.9 -24.4h8.8M-26.1 -22.0h3.4M-20.6 -22.0h6.1M-24.7 -19.6h3.4M-19.2 -19.6h3.4M53.7 6.5h3.4M55.1 8.9h3.4M56.5 11.3h3.4M53.7 16.1h3.4M49.6 18.4h3.4M48.2 20.8h3.4"/><path stroke="#d9454d" d="M-23.3 -36.3h3.4M66.1 -29.2h3.4M96.3 -29.2h3.4M70.2 -26.8h3.4M64.7 -17.3h3.4M73.0 -17.3h3.4M92.2 -17.3h3.4M89.5 -12.5h3.4M68.8 -10.1h3.4M77.1 -10.1h3.4M53.7 -7.7h3.4M85.3 -5.4h3.4M56.5 -3.0h3.4M48.2 1.8h3.4M92.2 1.8h3.4M63.3 4.2h3.4M75.7 6.5h3.4M82.6 8.9h3.4M107.3 8.9h3.4M106.0 11.3h6.1M46.8 13.7h3.4M104.6 13.7h3.4M62.0 16.1h3.4M57.8 18.4h3.4M99.1 18.4h3.4M67.5 20.8h3.4M108.7 20.8h3.4M55.1 23.2h3.4M97.7 25.6h3.4M101.8 28.0h3.4"/><path stroke="#f37346" d="M-15.1 -36.3h3.4M55.1 -29.2h3.4M56.5 -26.8h3.4M66.1 -24.4h3.4M60.6 -19.6h3.4M71.6 -19.6h3.4M48.2 -17.3h3.4M51.0 -12.5h3.4M73.0 -12.5h3.4M99.1 -10.1h3.4M107.3 -10.1h3.4M101.8 -5.4h3.4M51.0 -3.0h3.4M44.1 -0.6h3.4M59.2 6.5h3.4M78.5 6.5h6.1M97.7 6.5h3.4M106.0 6.5h3.4M57.8 8.9h3.4M62.0 11.3h3.4M57.8 13.7h3.4M97.7 16.1h3.4M66.1 18.4h3.4M84.0 20.8h3.4M60.6 23.2h3.4M88.1 23.2h3.4M53.7 30.3h3.4M78.5 30.3h3.4M49.6 32.7h3.4"/><path stroke="#bfa77e" d="M-13.7 -57.7h3.4M81.2 -55.3h3.4M-13.7 -53.0h3.4M85.3 -53.0h3.4M84.0 -50.6h3.4M-13.7 -48.2h3.4M-13.7 -43.4h3.4M79.8 -43.4h3.4M-13.7 -38.7h3.4M-13.7 -33.9h3.4M52.3 -29.2h3.4M57.8 -29.2h3.4M63.3 -29.2h3.4M49.6 -19.6h3.4M-15.1 -17.3h3.4M-32.9 -14.9h3.4M51.0 -7.7h3.4M97.7 -3.0h3.4M51.0 1.8h3.4M49.6 4.2h3.4M48.2 6.5h3.4M45.5 11.3h3.4M44.1 13.7h3.4M48.2 30.3h3.4M26.2 63.7h3.4M27.6 75.6h6.1M41.3 89.8h3.4"/><path stroke="#85b9a6" d="M46.8 -33.9h6.1M44.1 -14.9h3.4M-9.6 -12.5h3.4M42.7 -7.7h3.4M41.3 -5.4h3.4M42.7 -3.0h3.4M41.3 -0.6h3.4M40.0 1.8h3.4M37.2 6.5h3.4M35.8 8.9h3.4M37.2 11.3h3.4M45.5 35.1h3.4M44.1 37.5h3.4M42.7 39.9h3.4M42.7 44.6h3.4M42.7 54.1h3.4M44.1 66.0h3.4M44.1 70.8h3.4M42.7 73.2h3.4M44.1 75.6h3.4M42.7 77.9h3.4M44.1 80.3h3.4M44.1 85.1h3.4M44.1 94.6h3.4M44.1 99.4h3.4M45.5 111.3h3.4M46.8 113.6h3.4"/><path stroke="#b1bb99" d="M77.1 -33.9h3.4M46.8 -24.4h3.4M48.2 -22.0h3.4M-35.7 -14.9h3.4M-13.7 -14.9h3.4M49.6 -14.9h3.4M-8.2 -5.4h3.4M-15.1 -3.0h3.4M84.0 -3.0h3.4M-30.2 -0.6h14.3M45.5 6.5h3.4M40.0 16.1h3.4M38.6 18.4h3.4M2.8 23.2h3.4M13.8 23.2h3.4M-15.1 39.9h3.4M-10.9 51.8h3.4M11.1 51.8h3.4M11.1 56.5h3.4M12.4 58.9h3.4M9.7 63.7h17.1M22.1 75.6h6.1M41.3 85.1h3.4M1.4 87.5h3.4M42.7 87.5h3.4M42.7 92.2h3.4"/><path stroke="#7b7e9f" d="M-34.3 -41.1h3.4M-34.3 -36.3h3.4M-34.3 -31.5h3.4M-34.3 -26.8h3.4M44.1 -24.4h3.4M-34.3 -22.0h3.4M44.1 -19.6h3.4M8.3 -10.1h3.4M0.1 -5.4h3.4M-6.8 -3.0h3.4M-13.7 -0.6h3.4M38.6 -0.6h3.4M88.1 -0.6h8.8M-17.8 1.8h3.4M28.9 1.8h3.4M34.5 16.1h3.4M55.1 32.7h17.1M15.2 58.9h3.4M71.6 75.6h3.4M82.6 80.3h3.4M82.6 85.1h3.4M73.0 92.2h3.4M81.2 92.2h3.4"/><path stroke="#ec6445" d="M68.8 -24.4h3.4M-23.3 -22.0h3.4M53.7 -22.0h6.1M67.5 -22.0h3.4M-27.4 -19.6h3.4M68.8 -19.6h3.4M55.1 -14.9h3.4M75.7 -12.5h3.4M85.3 -10.1h3.4M73.0 -7.7h3.4M82.6 4.2h3.4M56.5 6.5h3.4M66.1 8.9h3.4M90.8 8.9h3.4M45.5 16.1h3.4M46.8 18.4h3.4M51.0 20.8h8.8M57.8 23.2h3.4M68.8 23.2h3.4M51.0 25.6h3.4M68.8 28.0h3.4M82.6 28.0h3.4M100.5 30.3h3.4"/><path stroke="#5780ab" d="M71.6 -48.2h3.4M31.7 -45.8h3.4M70.2 -45.8h3.4M67.5 -41.1h3.4M27.6 -38.7h3.4M-37.0 -36.3h3.4M26.2 -36.3h3.4M-38.4 -33.9h3.4M24.8 -33.9h3.4M23.4 -31.5h3.4M-38.4 -29.2h3.4M22.1 -29.2h3.4M-37.0 -26.8h3.4M20.7 -26.8h3.4M-37.0 -22.0h3.4M13.8 -14.9h3.4M12.4 -12.5h3.4M-9.6 25.6h3.4M90.8 32.7h6.1M99.1 32.7h3.4M104.6 32.7h6.1"/><path stroke="#fbfbb4" d="M95.0 -17.3h3.4M41.3 18.4h3.4M45.5 25.6h3.4M11.1 28.0h3.4M46.8 28.0h3.4M-24.7 32.7h3.4M19.3 32.7h3.4M31.7 39.9h3.4M35.8 47.0h3.4M4.2 54.1h3.4M4.2 58.9h3.4M-19.2 61.3h3.4M-10.9 61.3h3.4M-12.3 73.2h3.4M34.5 82.7h3.4M30.3 85.1h3.4M-4.0 92.2h3.4M15.2 101.7h3.4M40.0 101.7h3.4M0.1 104.1h3.4M11.1 108.9h3.4"/><path stroke="#bdd89f" d="M-10.9 -10.1h3.4M-6.8 -7.7h3.4M-13.7 -5.4h3.4M-6.8 25.6h3.4M-6.8 30.3h3.4M31.7 30.3h6.1M41.3 32.7h3.4M-30.2 37.5h3.4M-21.9 37.5h6.1M-13.7 37.5h3.4M30.3 37.5h3.4M35.8 37.5h3.4M38.6 42.2h3.4M38.6 47.0h3.4M38.6 51.8h3.4M38.6 61.3h3.4M5.6 75.6h3.4M12.4 87.5h3.4M40.0 97.0h3.4M40.0 106.5h3.4M40.0 111.3h3.4"/><path stroke="#fdc574" d="M81.2 -50.6h3.4M-30.2 -38.7h3.4M-23.3 -31.5h3.4M67.5 -26.8h3.4M49.6 -24.4h3.4M63.3 -24.4h3.4M104.6 -19.6h3.4M52.3 -14.9h3.4M-31.6 -12.5h3.4M59.2 -7.7h3.4M92.2 6.5h3.4M88.1 8.9h3.4M63.3 13.7h3.4M99.1 13.7h3.4M93.6 18.4h3.4M96.3 28.0h3.4M107.3 28.0h3.4M-23.3 63.7h3.4M24.8 66.0h3.4"/><path stroke="#8ad0a4" d="M11.1 -43.4h3.4M45.5 -31.5h8.8M95.0 -31.5h3.4M-19.2 32.7h3.4M-16.4 37.5h3.4M-2.7 37.5h3.4M-16.4 42.2h3.4M-8.2 42.2h3.4M22.1 51.8h3.4M41.3 56.5h3.4M41.3 61.3h6.1M45.5 68.4h3.4M52.3 75.6h3.4M73.0 82.7h3.4M44.1 89.8h3.4M30.3 99.4h3.4M49.6 99.4h3.4M51.0 101.7h3.4M44.1 108.9h3.4"/><path stroke="#929a9b" d="M82.6 -57.7h3.4M-12.3 -55.3h3.4M78.5 -55.3h3.4M77.1 -53.0h3.4M75.7 -50.6h3.4M86.7 -50.6h3.4M82.6 -43.4h3.4M79.8 -38.7h3.4M-12.3 -26.8h3.4M-12.3 -22.0h3.4M-12.3 -17.3h3.4M1.4 -7.7h3.4M-12.3 -3.0h3.4M37.2 16.1h3.4M35.8 18.4h3.4M7.0 20.8h6.1M31.7 20.8h3.4"/><path stroke="#64a0ad" d="M-9.6 -55.3h3.4M-9.6 -50.6h3.4M-8.2 -48.2h3.4M-6.8 -45.8h3.4M-9.6 -36.3h3.4M81.2 -36.3h3.4M55.1 -33.9h3.4M85.3 -33.9h6.1M93.6 -33.9h3.4M99.1 -33.9h11.6M-10.9 -19.6h3.4M7.0 -12.5h6.1M-10.9 23.2h3.4M-34.3 25.6h3.4M51.0 35.1h3.4M52.3 37.5h3.4M53.7 39.9h3.4"/><path stroke="#a39586" d="M86.7 -55.3h3.4M-12.3 -50.6h3.4M-12.3 -45.8h3.4M73.0 -45.8h3.4M-12.3 -41.1h3.4M-32.9 -38.7h3.4M-12.3 -36.3h3.4M67.5 -36.3h3.4M-32.9 -33.9h3.4M-12.3 -31.5h3.4M-32.9 -29.2h3.4M-13.7 -29.2h3.4M-32.9 -24.4h3.4M-13.7 -24.4h3.4M-32.9 -19.6h3.4M-13.7 -19.6h3.4M82.6 -0.6h3.4"/><path stroke="#d6c686" d="M51.0 -26.8h3.4M75.7 -22.0h3.4M77.1 -19.6h3.4M79.8 -14.9h3.4M-15.1 -12.5h3.4M81.2 -12.5h3.4M103.2 -7.7h3.4M82.6 -5.4h3.4M99.1 -5.4h3.4M44.1 18.4h3.4M5.6 23.2h8.8M44.1 23.2h3.4M4.2 25.6h11.6M8.3 28.0h3.4M28.9 63.7h6.1M34.5 68.4h3.4M35.8 94.6h6.1"/><path stroke="#d96b50" d="M59.2 -26.8h3.4M55.1 -24.4h3.4M53.7 -17.3h3.4M55.1 -10.1h3.4M55.1 -5.4h3.4M107.3 -5.4h3.4M78.5 -3.0h3.4M55.1 -0.6h3.4M79.8 -0.6h3.4M101.8 -0.6h3.4M53.7 1.8h3.4M55.1 4.2h3.4M79.8 4.2h3.4M49.6 23.2h3.4M49.6 28.0h3.4M77.1 28.0h6.1M85.3 28.0h11.6"/><path stroke="#a4ad9d" d="M66.1 -33.9h3.4M53.7 -31.5h3.4M64.7 -31.5h3.4M46.8 -19.6h3.4M49.6 -10.1h3.4M-1.3 -7.7h3.4M-5.4 -5.4h3.4M49.6 -5.4h3.4M89.5 -3.0h8.8M-16.4 -0.6h3.4M49.6 -0.6h3.4M34.5 20.8h3.4M28.9 35.1h3.4M37.2 35.1h3.4M-12.3 39.9h3.4M-13.7 51.8h3.4"/><path stroke="#e3d28c" d="M74.3 -29.2h3.4M73.0 -26.8h3.4M-28.8 -12.5h6.1M-20.6 -12.5h6.1M-28.8 63.7h6.1M-20.6 63.7h3.4M34.5 63.7h3.4M-30.2 66.0h11.6M-28.8 68.4h6.1M-20.6 68.4h3.4M-27.4 70.8h8.8M-26.1 73.2h8.8M-24.7 75.6h6.1M33.1 75.6h3.4M28.9 92.2h3.4M30.3 94.6h6.1"/><path stroke="#52479a" d="M7.0 49.4h6.1M8.3 51.8h3.4M7.0 54.1h6.1M8.3 56.5h3.4M7.0 58.9h6.1M26.2 58.9h3.4M11.1 61.3h17.1M19.3 70.8h11.6M17.9 73.2h14.3M1.4 77.9h8.8M2.8 80.3h8.8M4.2 82.7h8.8M2.8 85.1h11.6M4.2 87.5h3.4M9.7 87.5h3.4M2.8 89.8h8.8"/><path stroke="#8ca9a3" d="M-12.3 -60.1h3.4M45.5 -26.8h3.4M45.5 -17.3h3.4M2.8 -10.1h6.1M34.5 6.5h3.4M38.6 13.7h3.4M-8.2 28.0h3.4M-8.2 32.7h3.4M-17.8 35.1h3.4M74.3 75.6h6.1M73.0 77.9h3.4M81.2 77.9h3.4M81.2 82.7h3.4M81.2 87.5h3.4M79.8 89.8h3.4"/><path stroke="#d29a6d" d="M-15.1 -55.3h3.4M-15.1 -50.6h3.4M-15.1 -45.8h3.4M-31.6 -41.1h3.4M-15.1 -41.1h3.4M-31.6 -36.3h3.4M-31.6 -31.5h3.4M-15.1 -31.5h3.4M-31.6 -26.8h3.4M-15.1 -26.8h3.4M-31.6 -22.0h3.4M-15.1 -22.0h3.4M51.0 -22.0h3.4M74.3 -19.6h3.4M-31.6 -17.3h3.4"/><path stroke="#e8a163" d="M-24.7 -57.7h8.8M-28.8 -31.5h3.4M-28.8 -26.8h3.4M-30.2 -24.4h3.4M-28.8 -22.0h3.4M-30.2 -19.6h3.4M-16.4 -19.6h3.4M-28.8 -17.3h8.8M-17.8 -17.3h3.4M51.0 6.5h3.4M49.6 8.9h6.1M48.2 11.3h6.1M49.6 13.7h6.1M48.2 16.1h3.4"/><path stroke="#f4b369" d="M79.8 -48.2h3.4M78.5 -45.8h3.4M-30.2 -43.4h3.4M75.7 -41.1h3.4M74.3 -38.7h3.4M73.0 -36.3h3.4M-30.2 -33.9h3.4M-26.1 -26.8h3.4M57.8 -0.6h3.4M30.3 66.0h3.4M28.9 68.4h6.1M34.5 87.5h3.4M33.1 89.8h6.1M34.5 92.2h3.4"/><path stroke="#b5c79d" d="M48.2 -26.8h3.4M-12.3 -12.5h3.4M-4.0 -7.7h3.4M-10.9 -5.4h3.4M42.7 16.1h3.4M37.2 20.8h3.4M-5.4 23.2h8.8M16.6 23.2h3.4M22.1 23.2h6.1M30.3 23.2h6.1M11.1 47.0h3.4M16.6 75.6h3.4M40.0 82.7h3.4M41.3 94.6h3.4"/><path stroke="#cd354d" d="M52.3 -24.4h3.4M70.2 -22.0h3.4M78.5 -17.3h3.4M99.1 -14.9h3.4M70.2 -12.5h3.4M106.0 -12.5h3.4M66.1 -5.4h3.4M53.7 -3.0h3.4M70.2 1.8h3.4M106.0 1.8h3.4M60.6 8.9h3.4M92.2 30.3h3.4M97.7 30.3h3.4M56.5 35.1h3.4"/><path stroke="#76c8a5" d="M8.3 -57.7h3.4M104.6 -48.2h3.4M19.3 -38.7h3.4M0.1 -33.9h3.4M4.2 -26.8h3.4M46.8 37.5h3.4M40.0 44.6h3.4M-2.7 47.0h3.4M38.6 56.5h3.4M45.5 63.7h3.4M48.2 82.7h3.4M45.5 92.2h3.4M52.3 99.4h3.4"/><path stroke="#a9cfa2" d="M81.2 -31.5h3.4M49.6 -29.2h3.4M-8.2 -10.1h6.1M44.1 32.7h3.4M40.0 39.9h3.4M40.0 49.4h3.4M40.0 54.1h3.4M40.0 58.9h3.4M40.0 63.7h3.4M40.0 68.4h3.4M41.3 99.4h3.4M41.3 104.1h3.4M41.3 113.6h3.4"/><path stroke="#d78a62" d="M62.0 -26.8h3.4M52.3 -19.6h3.4M75.7 -17.3h3.4M78.5 -12.5h3.4M52.3 -10.1h3.4M78.5 -7.7h3.4M108.7 -7.7h3.4M52.3 -5.4h3.4M104.6 -5.4h3.4M100.5 -3.0h3.4M52.3 -0.6h3.4M52.3 4.2h3.4"/><path stroke="#fed985" d="M-20.6 -26.8h3.4M53.7 -26.8h3.4M57.8 -19.6h3.4M-23.3 -12.5h3.4M68.8 -5.4h3.4M82.6 23.2h3.4M-23.3 68.4h3.4M28.9 87.5h3.4M37.2 87.5h3.4"/><path stroke="#88889f" d="M-34.3 -17.3h3.4M4.2 -7.7h3.4M-2.7 -5.4h3.4M-9.6 -3.0h3.4M-31.6 1.8h14.3M-6.8 20.8h14.3M12.4 20.8h17.1M52.3 32.7h3.4M5.6 47.0h3.4"/><path stroke="#926a7d" d="M96.3 -0.6h3.4M97.7 1.8h3.4M96.3 4.2h3.4M84.0 6.5h3.4M95.0 6.5h3.4M89.5 30.3h3.4M95.0 30.3h3.4M103.2 30.3h6.1"/><path stroke="#b16f68" d="M99.1 -0.6h3.4M81.2 1.8h3.4M51.0 30.3h3.4M56.5 30.3h22.6M81.2 30.3h8.8"/><path stroke="#b11647" d="M62.0 -22.0h3.4M63.3 -10.1h3.4M81.2 -7.7h3.4M103.2 6.5h3.4"/><path stroke="#bc5559" d="M99.1 4.2h3.4M93.6 8.9h6.1M99.1 28.0h3.4M104.6 28.0h3.4"/></g>
<use href="#holes"/>
</g>
<g transform="translate(76.0,329.8)">
<use href="#dots" fill="#4a70b0"/>
<g fill="none" stroke-width="3"><path stroke="#5e4fa2" d="M1.4 -64.9h3.4M7.0 -64.9h3.4M12.4 -64.9h3.4M-8.2 -62.5h14.3M11.1 -62.5h6.1M99.1 -62.5h3.4M-12.3 -60.1h8.8M-1.3 -60.1h3.4M4.2 -60.1h6.1M15.2 -60.1h3.4M84.0 -60.1h3.4M-24.7 -57.7h3.4M-19.2 -57.7h6.1M-10.9 -57.7h6.1M-2.7 -57.7h11.6M11.1 -57.7h3.4M49.6 -57.7h3.4M68.8 -57.7h3.4M79.8 -57.7h3.4M85.3 -57.7h6.1M99.1 -57.7h3.4M-23.3 -55.3h11.6M-9.6 -55.3h8.8M1.4 -55.3h6.1M9.7 -55.3h8.8M70.2 -55.3h6.1M81.2 -55.3h3.4M86.7 -55.3h3.4M95.0 -55.3h3.4M103.2 -55.3h6.1M-24.7 -53.0h8.8M-8.2 -53.0h25.4M22.1 -53.0h3.4M55.1 -53.0h3.4M68.8 -53.0h3.4M77.1 -53.0h3.4M85.3 -53.0h3.4M93.6 -53.0h3.4M104.6 -53.0h8.8M-20.6 -50.6h3.4M-15.1 -50.6h3.4M-9.6 -50.6h3.4M-4.0 -50.6h3.4M1.4 -50.6h11.6M15.2 -50.6h3.4M81.2 -50.6h3.4M89.5 -50.6h3.4M97.7 -50.6h11.6M-24.7 -48.2h8.8M-13.7 -48.2h11.6M2.8 -48.2h8.8M46.8 -48.2h3.4M66.1 -48.2h3.4M85.3 -48.2h6.1M93.6 -48.2h6.1M104.6 -48.2h3.4M-26.1 -45.8h8.8M-15.1 -45.8h6.1M-4.0 -45.8h22.6M51.0 -45.8h3.4M81.2 -45.8h8.8M95.0 -45.8h3.4M103.2 -45.8h8.8M-30.2 -43.4h3.4M-21.9 -43.4h8.8M-2.7 -43.4h17.1M33.1 -43.4h3.4M96.3 -43.4h3.4M104.6 -43.4h6.1M-34.3 -41.1h3.4M-26.1 -41.1h3.4M-20.6 -41.1h3.4M-15.1 -41.1h3.4M-9.6 -41.1h3.4M-1.3 -41.1h3.4M4.2 -41.1h6.1M12.4 -41.1h3.4M73.0 -41.1h3.4M81.2 -41.1h3.4M92.2 -41.1h8.8M103.2 -41.1h8.8M-35.7 -38.7h3.4M-27.4 -38.7h3.4M-19.2 -38.7h6.1M-10.9 -38.7h6.1M2.8 -38.7h6.1M11.1 -38.7h6.1M44.1 -38.7h3.4M82.6 -38.7h3.4M101.8 -38.7h6.1M-34.3 -36.3h3.4M-28.8 -36.3h3.4M-23.3 -36.3h3.4M-17.8 -36.3h14.3M4.2 -36.3h8.8M15.2 -36.3h3.4M64.7 -36.3h6.1M81.2 -36.3h3.4M86.7 -36.3h11.6M100.5 -36.3h3.4M-38.4 -33.9h6.1M-30.2 -33.9h3.4M-24.7 -33.9h3.4M-16.4 -33.9h19.9M5.6 -33.9h11.6M30.3 -33.9h3.4M77.1 -33.9h3.4M85.3 -33.9h6.1M101.8 -33.9h3.4M107.3 -33.9h3.4M-39.8 -31.5h14.3M-23.3 -31.5h3.4M-17.8 -31.5h3.4M-9.6 -31.5h6.1M-1.3 -31.5h8.8M9.7 -31.5h8.8M81.2 -31.5h3.4M89.5 -31.5h3.4M100.5 -31.5h6.1M-38.4 -29.2h3.4M-32.9 -29.2h3.4M-16.4 -29.2h3.4M-8.2 -29.2h6.1M2.8 -29.2h11.6M88.1 -29.2h3.4M93.6 -29.2h3.4M99.1 -29.2h11.6M-39.8 -26.8h6.1M-28.8 -26.8h6.1M-20.6 -26.8h3.4M-12.3 -26.8h6.1M-4.0 -26.8h3.4M67.5 -26.8h3.4M78.5 -26.8h3.4M84.0 -26.8h3.4M95.0 -26.8h3.4M103.2 -26.8h3.4M108.7 -26.8h3.4M-38.4 -24.4h3.4M-30.2 -24.4h6.1M-19.2 -24.4h6.1M-10.9 -24.4h6.1M-2.7 -24.4h3.4M13.8 -24.4h3.4M33.1 -24.4h3.4M63.3 -24.4h3.4M90.8 -24.4h3.4M96.3 -24.4h6.1M104.6 -24.4h6.1M-37.0 -22.0h3.4M-31.6 -22.0h8.8M-20.6 -22.0h6.1M-9.6 -22.0h3.4M-4.0 -22.0h8.8M84.0 -22.0h6.1M95.0 -22.0h3.4M103.2 -22.0h8.8M-35.7 -19.6h3.4M-27.4 -19.6h6.1M-19.2 -19.6h11.6M-5.4 -19.6h22.6M82.6 -19.6h3.4M88.1 -19.6h3.4M93.6 -19.6h3.4M101.8 -19.6h8.8M-37.0 -17.3h8.8M-20.6 -17.3h3.4M-12.3 -17.3h8.8M-1.3 -17.3h3.4M4.2 -17.3h14.3M48.2 -17.3h3.4M-35.7 -14.9h6.1M-19.2 -14.9h3.4M-8.2 -14.9h6.1M0.1 -14.9h3.4M5.6 -14.9h8.8M44.1 -14.9h3.4M-34.3 -12.5h3.4M-28.8 -12.5h3.4M-12.3 -12.5h3.4M-6.8 -12.5h3.4M-1.3 -12.5h3.4M9.7 -12.5h3.4M15.2 -12.5h3.4M23.4 -12.5h3.4M70.2 -12.5h3.4M103.2 -12.5h6.1M-35.7 -10.1h3.4M-27.4 -10.1h3.4M-19.2 -10.1h17.1M5.6 -10.1h8.8M60.6 -10.1h3.4M66.1 -10.1h3.4M71.6 -10.1h3.4M79.8 -10.1h3.4M88.1 -10.1h3.4M99.1 -10.1h3.4M104.6 -10.1h3.4M-26.1 -7.7h3.4M-20.6 -7.7h3.4M-15.1 -7.7h3.4M4.2 -7.7h8.8M-32.9 -5.4h3.4M-21.9 -5.4h3.4M-16.4 -5.4h3.4M-10.9 -5.4h6.1M-2.7 -5.4h6.1M5.6 -5.4h6.1M13.8 -5.4h6.1M-31.6 -3.0h3.4M-23.3 -3.0h6.1M-15.1 -3.0h6.1M-4.0 -3.0h3.4M7.0 -3.0h8.8M-24.7 -0.6h3.4M-13.7 -0.6h3.4M2.8 -0.6h3.4M16.6 -0.6h3.4M46.8 -0.6h3.4M-31.6 1.8h3.4M-23.3 1.8h8.8M-1.3 1.8h3.4M7.0 1.8h3.4M15.2 1.8h3.4M45.5 1.8h3.4M-30.2 4.2h6.1M-16.4 4.2h3.4M-5.4 4.2h3.4M2.8 4.2h3.4M13.8 4.2h3.4M27.6 4.2h3.4M-23.3 6.5h6.1M-4.0 6.5h6.1M4.2 6.5h3.4M12.4 6.5h3.4M17.9 6.5h3.4M-27.4 8.9h3.4M-21.9 8.9h3.4M-16.4 8.9h3.4M-10.9 8.9h3.4M-5.4 8.9h6.1M46.8 8.9h3.4M63.3 8.9h3.4M-28.8 11.3h6.1M-20.6 11.3h11.6M-6.8 11.3h3.4M1.4 11.3h6.1M9.7 11.3h3.4M20.7 11.3h3.4M62.0 11.3h3.4M67.5 11.3h3.4M-30.2 13.7h3.4M-24.7 13.7h8.8M-8.2 13.7h6.1M0.1 13.7h8.8M16.6 13.7h6.1M52.3 13.7h3.4M60.6 13.7h6.1M-31.6 16.1h6.1M48.2 16.1h3.4M56.5 16.1h3.4M70.2 16.1h3.4M52.3 18.4h3.4M63.3 18.4h3.4M85.3 18.4h3.4M53.7 20.8h3.4M64.7 20.8h3.4M55.1 23.2h6.1M63.3 23.2h6.1M34.5 25.6h3.4M40.0 25.6h3.4M48.2 25.6h3.4M62.0 25.6h3.4M-24.7 28.0h3.4M44.1 28.0h6.1M57.8 28.0h6.1M66.1 28.0h6.1M77.1 28.0h3.4M104.6 28.0h3.4M75.7 30.3h3.4M46.8 32.7h3.4M57.8 32.7h3.4M63.3 32.7h3.4M74.3 32.7h3.4M48.2 35.1h3.4M59.2 35.1h3.4M70.2 35.1h3.4M49.6 37.5h3.4M57.8 37.5h3.4M68.8 37.5h6.1M42.7 39.9h3.4M48.2 39.9h6.1M59.2 39.9h3.4M64.7 39.9h3.4M70.2 39.9h3.4M75.7 39.9h6.1M57.8 42.2h3.4M63.3 42.2h3.4M68.8 42.2h3.4M90.8 42.2h6.1M48.2 44.6h3.4M59.2 44.6h3.4M70.2 44.6h3.4M75.7 44.6h3.4M84.0 44.6h3.4M100.5 44.6h3.4M106.0 44.6h3.4M-19.2 47.0h3.4M-8.2 47.0h3.4M44.1 47.0h3.4M57.8 47.0h6.1M82.6 47.0h6.1M90.8 47.0h3.4M20.7 49.4h3.4M34.5 49.4h3.4M56.5 49.4h8.8M73.0 49.4h6.1M95.0 49.4h3.4M100.5 49.4h3.4M55.1 51.8h8.8M99.1 51.8h3.4M-12.3 54.1h3.4M48.2 54.1h3.4M89.5 54.1h3.4M30.3 56.5h3.4M57.8 56.5h3.4M63.3 56.5h3.4M77.1 56.5h3.4M93.6 56.5h3.4M101.8 56.5h3.4M-4.0 58.9h3.4M17.9 58.9h3.4M59.2 58.9h3.4M64.7 58.9h3.4M106.0 58.9h3.4M-16.4 61.3h3.4M2.8 61.3h3.4M49.6 61.3h3.4M57.8 61.3h6.1M66.1 61.3h3.4M71.6 61.3h3.4M90.8 61.3h3.4M-17.8 63.7h3.4M59.2 63.7h8.8M78.5 63.7h3.4M97.7 63.7h3.4M-27.4 66.0h3.4M-16.4 66.0h3.4M49.6 66.0h6.1M60.6 66.0h3.4M82.6 66.0h3.4M62.0 68.4h11.6M81.2 68.4h3.4M95.0 68.4h3.4M-8.2 70.8h3.4M2.8 70.8h3.4M60.6 70.8h8.8M-12.3 73.2h3.4M45.5 73.2h3.4M53.7 73.2h3.4M59.2 73.2h3.4M64.7 73.2h3.4M86.7 73.2h3.4M106.0 73.2h3.4M55.1 75.6h11.6M96.3 75.6h6.1M26.2 77.9h3.4M59.2 77.9h6.1M67.5 77.9h11.6M84.0 77.9h6.1M108.7 77.9h3.4M-19.2 80.3h3.4M-8.2 80.3h3.4M63.3 80.3h3.4M68.8 80.3h6.1M77.1 80.3h3.4M82.6 80.3h8.8M93.6 80.3h3.4M99.1 80.3h3.4M-12.3 82.7h3.4M-4.0 82.7h3.4M59.2 82.7h3.4M81.2 82.7h6.1M92.2 82.7h14.3M-16.4 85.1h3.4M57.8 85.1h6.1M66.1 85.1h17.1M85.3 85.1h3.4M23.4 87.5h3.4M34.5 87.5h3.4M62.0 87.5h19.9M84.0 87.5h8.8M95.0 87.5h3.4M100.5 87.5h3.4M106.0 87.5h6.1M0.1 89.8h3.4M57.8 89.8h3.4M63.3 89.8h3.4M74.3 89.8h3.4M79.8 89.8h3.4M85.3 89.8h11.6M99.1 89.8h8.8M-1.3 92.2h3.4M12.4 92.2h6.1M59.2 92.2h3.4M64.7 92.2h3.4M70.2 92.2h6.1M81.2 92.2h11.6M97.7 92.2h11.6M2.8 94.6h3.4M8.3 94.6h6.1M41.3 94.6h3.4M60.6 94.6h6.1M68.8 94.6h30.9M101.8 94.6h8.8M59.2 97.0h11.6M78.5 97.0h8.8M89.5 97.0h6.1M97.7 97.0h3.4M103.2 97.0h8.8M-13.7 99.4h3.4M-8.2 99.4h3.4M19.3 99.4h3.4M30.3 99.4h3.4M44.1 99.4h3.4M63.3 99.4h3.4M68.8 99.4h33.6M-9.6 101.7h3.4M15.2 101.7h3.4M59.2 101.7h8.8M73.0 101.7h8.8M86.7 101.7h6.1M95.0 101.7h3.4M103.2 101.7h6.1M-8.2 104.1h3.4M-2.7 104.1h3.4M5.6 104.1h6.1M30.3 104.1h3.4M52.3 104.1h3.4M57.8 104.1h3.4M63.3 104.1h3.4M68.8 104.1h25.4M99.1 104.1h8.8M-6.8 106.5h3.4M51.0 106.5h3.4M56.5 106.5h3.4M62.0 106.5h6.1M70.2 106.5h11.6M92.2 106.5h8.8M106.0 106.5h6.1M-2.7 108.9h8.8M38.6 108.9h3.4M49.6 108.9h3.4M60.6 108.9h19.9M85.3 108.9h6.1M96.3 108.9h14.3M-1.3 111.3h3.4M7.0 111.3h11.6M31.7 111.3h8.8M45.5 111.3h6.1M53.7 111.3h3.4M59.2 111.3h3.4M64.7 111.3h3.4M70.2 111.3h3.4M75.7 111.3h3.4M81.2 111.3h3.4M86.7 111.3h3.4M5.6 113.6h6.1M16.6 113.6h22.6M44.1 113.6h3.4M49.6 113.6h6.1M60.6 113.6h6.1M68.8 113.6h6.1"/><path stroke="#4f65ac" d="M38.6 -57.7h3.4M44.1 -57.7h6.1M52.3 -57.7h3.4M-26.1 -55.3h3.4M37.2 -55.3h6.1M51.0 -55.3h3.4M64.7 -55.3h3.4M89.5 -55.3h3.4M28.9 -50.6h3.4M95.0 -50.6h3.4M30.3 -48.2h3.4M63.3 -48.2h3.4M-17.8 -45.8h3.4M67.5 -45.8h3.4M30.3 -43.4h3.4M66.1 -43.4h3.4M-28.8 -41.1h3.4M64.7 -41.1h3.4M78.5 -41.1h3.4M30.3 -38.7h3.4M66.1 -38.7h3.4M84.0 -36.3h3.4M106.0 -36.3h6.1M-21.9 -33.9h3.4M31.7 -31.5h3.4M45.5 -31.5h3.4M64.7 -31.5h3.4M19.3 -29.2h3.4M30.3 -29.2h3.4M31.7 -26.8h3.4M-13.7 -24.4h3.4M31.7 -22.0h3.4M67.5 -22.0h3.4M30.3 -19.6h6.1M60.6 -19.6h3.4M31.7 -17.3h6.1M86.7 -17.3h3.4M24.8 -14.9h3.4M33.1 -14.9h3.4M85.3 -14.9h3.4M31.7 -12.5h3.4M64.7 -12.5h3.4M-34.3 -7.7h3.4M31.7 -7.7h3.4M-13.7 -5.4h3.4M66.1 -5.4h3.4M93.6 -5.4h3.4M37.2 -3.0h3.4M56.5 -3.0h3.4M64.7 -3.0h3.4M-16.4 -0.6h3.4M35.8 -0.6h3.4M55.1 -0.6h3.4M60.6 -0.6h6.1M4.2 1.8h3.4M-17.8 6.5h3.4M59.2 6.5h3.4M13.8 8.9h3.4M17.9 11.3h3.4M104.6 13.7h3.4M-6.8 16.1h3.4M9.7 16.1h3.4M73.0 16.1h3.4M-6.8 20.8h3.4M12.4 20.8h6.1M52.3 23.2h3.4M8.3 28.0h3.4M55.1 28.0h3.4M-23.3 30.3h3.4M23.4 30.3h3.4M-20.6 35.1h3.4M-15.1 35.1h6.1M-6.8 35.1h3.4M1.4 35.1h6.1M15.2 35.1h3.4M-19.2 37.5h3.4M-13.7 37.5h3.4M-5.4 37.5h6.1M5.6 37.5h3.4M13.8 37.5h3.4M22.1 37.5h6.1M38.6 37.5h3.4M-23.3 39.9h3.4M-17.8 39.9h3.4M-1.3 39.9h3.4M7.0 39.9h6.1M20.7 39.9h8.8M34.5 39.9h3.4M-19.2 42.2h3.4M-13.7 42.2h3.4M-8.2 42.2h3.4M2.8 42.2h6.1M11.1 42.2h3.4M16.6 42.2h3.4M38.6 42.2h3.4M-6.8 44.6h3.4M4.2 44.6h3.4M15.2 44.6h6.1M31.7 44.6h3.4M37.2 44.6h3.4M-13.7 47.0h3.4M2.8 47.0h6.1M24.8 47.0h3.4M-9.6 49.4h3.4M-1.3 49.4h3.4M9.7 49.4h3.4M26.2 49.4h3.4M-16.4 51.8h3.4M-5.4 51.8h3.4M2.8 51.8h3.4M8.3 51.8h3.4M33.1 51.8h3.4M38.6 51.8h3.4M-4.0 54.1h3.4M4.2 54.1h3.4M9.7 54.1h6.1M26.2 54.1h6.1M-19.2 56.5h3.4M-13.7 56.5h3.4M-8.2 56.5h3.4M5.6 56.5h3.4M27.6 56.5h3.4M33.1 56.5h3.4M38.6 56.5h3.4M-12.3 58.9h3.4M-1.3 58.9h6.1M31.7 58.9h3.4M37.2 58.9h3.4M42.7 58.9h3.4M84.0 58.9h3.4M-19.2 61.3h3.4M-8.2 61.3h11.6M5.6 61.3h3.4M22.1 61.3h3.4M35.8 61.3h6.1M-9.6 63.7h3.4M-4.0 63.7h6.1M7.0 63.7h3.4M26.2 63.7h6.1M-21.9 66.0h3.4M-5.4 66.0h3.4M11.1 66.0h3.4M22.1 66.0h3.4M27.6 66.0h3.4M-20.6 68.4h3.4M7.0 68.4h3.4M17.9 68.4h3.4M23.4 68.4h6.1M31.7 68.4h3.4M37.2 68.4h3.4M42.7 68.4h3.4M97.7 68.4h3.4M-19.2 70.8h3.4M-13.7 70.8h3.4M-5.4 70.8h3.4M5.6 70.8h3.4M19.3 70.8h8.8M35.8 70.8h3.4M-20.6 73.2h3.4M-15.1 73.2h3.4M-1.3 73.2h3.4M9.7 73.2h3.4M23.4 73.2h3.4M31.7 73.2h8.8M81.2 73.2h3.4M-21.9 75.6h8.8M-10.9 75.6h6.1M0.1 75.6h3.4M5.6 75.6h6.1M13.8 75.6h3.4M30.3 75.6h6.1M-6.8 77.9h3.4M1.4 77.9h3.4M7.0 77.9h3.4M12.4 77.9h6.1M28.9 77.9h3.4M34.5 77.9h3.4M-16.4 80.3h3.4M0.1 80.3h6.1M8.3 80.3h6.1M27.6 80.3h3.4M33.1 80.3h8.8M-17.8 82.7h3.4M1.4 82.7h6.1M9.7 82.7h3.4M17.9 82.7h3.4M37.2 82.7h3.4M-10.9 85.1h6.1M13.8 85.1h3.4M24.8 85.1h6.1M33.1 85.1h3.4M49.6 85.1h3.4M-6.8 87.5h3.4M15.2 87.5h3.4M31.7 87.5h3.4M-8.2 89.8h8.8M13.8 89.8h3.4M35.8 89.8h3.4M75.7 97.0h3.4M26.2 101.7h3.4M100.5 101.7h3.4M108.7 101.7h3.4"/><path stroke="#5956a5" d="M23.4 -64.9h8.8M34.5 -64.9h6.1M8.3 -62.5h3.4M20.7 -60.1h3.4M62.0 -60.1h3.4M75.7 -60.1h3.4M96.3 -57.7h3.4M20.7 -55.3h3.4M56.5 -55.3h3.4M75.7 -55.3h3.4M19.3 -53.0h3.4M-6.8 -50.6h3.4M20.7 -50.6h3.4M-16.4 -48.2h3.4M19.3 -48.2h3.4M38.6 -48.2h3.4M77.1 -48.2h6.1M101.8 -48.2h3.4M-9.6 -45.8h3.4M31.7 -45.8h3.4M19.3 -43.4h3.4M77.1 -43.4h3.4M-4.0 -41.1h3.4M1.4 -41.1h3.4M20.7 -41.1h3.4M-30.2 -38.7h3.4M-24.7 -38.7h3.4M71.6 -38.7h3.4M77.1 -38.7h3.4M90.8 -38.7h3.4M20.7 -36.3h3.4M46.8 -33.9h3.4M74.3 -33.9h3.4M48.2 -31.5h3.4M67.5 -31.5h3.4M75.7 -31.5h3.4M84.0 -31.5h3.4M97.7 -31.5h3.4M22.1 -29.2h3.4M-17.8 -26.8h3.4M20.7 -26.8h3.4M89.5 -26.8h3.4M100.5 -26.8h3.4M-35.7 -24.4h3.4M22.1 -24.4h3.4M77.1 -24.4h3.4M-6.8 -22.0h3.4M23.4 -22.0h3.4M51.0 -22.0h3.4M97.7 -22.0h3.4M-8.2 -19.6h3.4M22.1 -19.6h3.4M68.8 -19.6h3.4M77.1 -19.6h3.4M96.3 -19.6h3.4M23.4 -17.3h3.4M75.7 -17.3h3.4M22.1 -14.9h3.4M-17.8 -12.5h3.4M67.5 -12.5h3.4M78.5 -12.5h6.1M86.7 -12.5h6.1M97.7 -12.5h3.4M27.6 -10.1h3.4M82.6 -10.1h6.1M90.8 -10.1h8.8M107.3 -10.1h3.4M23.4 -7.7h3.4M108.7 -7.7h3.4M-1.3 -3.0h3.4M-19.2 -0.6h3.4M26.2 1.8h3.4M8.3 4.2h3.4M24.8 4.2h3.4M28.9 6.5h3.4M30.3 8.9h3.4M35.8 8.9h3.4M41.3 8.9h6.1M52.3 8.9h11.6M70.2 11.3h3.4M68.8 13.7h6.1M34.5 16.1h3.4M42.7 16.1h3.4M53.7 16.1h3.4M55.1 18.4h3.4M60.6 18.4h3.4M71.6 18.4h3.4M-23.3 20.8h6.1M-9.6 20.8h3.4M-4.0 20.8h6.1M4.2 20.8h3.4M9.7 20.8h3.4M17.9 20.8h6.1M70.2 20.8h3.4M75.7 20.8h3.4M-30.2 23.2h3.4M-19.2 23.2h3.4M-10.9 23.2h3.4M-5.4 23.2h3.4M0.1 23.2h3.4M5.6 23.2h3.4M11.1 23.2h8.8M22.1 23.2h3.4M33.1 23.2h3.4M38.6 23.2h6.1M46.8 23.2h3.4M68.8 23.2h6.1M-31.6 25.6h3.4M4.2 25.6h3.4M45.5 25.6h3.4M59.2 25.6h3.4M70.2 25.6h3.4M-32.9 28.0h6.1M49.6 28.0h3.4M71.6 28.0h3.4M31.7 35.1h3.4M51.0 35.1h3.4M73.0 35.1h3.4M73.0 39.9h3.4M49.6 42.2h3.4M28.9 44.6h3.4M40.0 44.6h3.4M73.0 44.6h3.4M41.3 47.0h3.4M68.8 47.0h6.1M77.1 47.0h6.1M107.3 47.0h3.4M48.2 49.4h6.1M64.7 49.4h3.4M49.6 51.8h6.1M63.3 51.8h3.4M68.8 51.8h6.1M77.1 51.8h3.4M70.2 54.1h3.4M107.3 56.5h3.4M34.5 58.9h3.4M51.0 58.9h3.4M70.2 58.9h3.4M52.3 61.3h3.4M82.6 61.3h3.4M-26.1 63.7h3.4M51.0 63.7h3.4M70.2 63.7h6.1M68.8 66.0h3.4M74.3 66.0h3.4M107.3 66.0h6.1M51.0 68.4h3.4M59.2 68.4h3.4M73.0 68.4h3.4M92.2 68.4h3.4M106.0 68.4h3.4M74.3 70.8h25.4M75.7 73.2h3.4M89.5 73.2h8.8M103.2 73.2h3.4M44.1 75.6h3.4M49.6 75.6h3.4M93.6 75.6h3.4M-1.3 77.9h3.4M4.2 77.9h3.4M23.4 77.9h3.4M51.0 77.9h3.4M64.7 77.9h3.4M89.5 77.9h3.4M104.6 80.3h3.4M51.0 82.7h3.4M82.6 85.1h3.4M51.0 87.5h3.4M8.3 89.8h3.4M49.6 89.8h3.4M60.6 89.8h3.4M66.1 89.8h3.4M96.3 89.8h3.4M-15.1 92.2h3.4M51.0 92.2h3.4M49.6 94.6h6.1M66.1 94.6h3.4M48.2 97.0h6.1M5.6 99.4h3.4M33.1 99.4h3.4M46.8 99.4h3.4M56.5 101.7h3.4M67.5 101.7h3.4M-13.7 104.1h6.1M13.8 104.1h6.1M24.8 104.1h6.1M33.1 104.1h3.4M41.3 104.1h3.4M46.8 104.1h3.4M55.1 104.1h3.4M34.5 106.5h3.4M48.2 106.5h3.4M59.2 106.5h3.4M-8.2 108.9h3.4M8.3 108.9h3.4M30.3 108.9h3.4M28.9 111.3h3.4"/><path stroke="#535fa9" d="M41.3 -62.5h3.4M52.3 -62.5h8.8M31.7 -60.1h8.8M48.2 -60.1h3.4M64.7 -60.1h3.4M24.8 -57.7h6.1M74.3 -57.7h3.4M92.2 -55.3h3.4M88.1 -53.0h3.4M26.2 -50.6h3.4M26.2 -45.8h3.4M64.7 -45.8h3.4M89.5 -45.8h3.4M24.8 -43.4h3.4M57.8 -43.4h3.4M70.2 -41.1h3.4M89.5 -41.1h3.4M-21.9 -38.7h3.4M24.8 -38.7h3.4M-31.6 -36.3h3.4M26.2 -36.3h3.4M70.2 -36.3h3.4M-26.1 -31.5h3.4M-4.0 -31.5h3.4M26.2 -31.5h3.4M106.0 -31.5h3.4M-2.7 -29.2h3.4M71.6 -29.2h3.4M-34.3 -26.8h3.4M70.2 -26.8h3.4M97.7 -26.8h3.4M5.6 -24.4h3.4M16.6 -24.4h3.4M27.6 -24.4h3.4M71.6 -24.4h3.4M82.6 -24.4h3.4M-34.3 -22.0h3.4M-23.3 -22.0h3.4M26.2 -22.0h3.4M27.6 -19.6h3.4M110.1 -19.6h3.4M-30.2 -14.9h3.4M-37.0 -12.5h3.4M-24.7 -10.1h3.4M101.8 -10.1h3.4M28.9 -7.7h3.4M73.0 -7.7h3.4M71.6 -5.4h3.4M4.2 -3.0h3.4M28.9 -3.0h3.4M45.5 -3.0h3.4M73.0 -3.0h3.4M81.2 -3.0h3.4M89.5 -3.0h3.4M95.0 -3.0h3.4M100.5 -3.0h3.4M11.1 -0.6h3.4M71.6 -0.6h6.1M79.8 -0.6h3.4M85.3 -0.6h6.1M93.6 -0.6h3.4M99.1 -0.6h6.1M28.9 1.8h6.1M70.2 1.8h3.4M75.7 1.8h6.1M84.0 1.8h3.4M89.5 1.8h3.4M95.0 1.8h8.8M-2.7 4.2h3.4M44.1 4.2h3.4M63.3 4.2h3.4M77.1 4.2h6.1M96.3 4.2h8.8M81.2 6.5h6.1M92.2 6.5h3.4M-19.2 8.9h3.4M74.3 8.9h3.4M82.6 8.9h3.4M90.8 8.9h3.4M-9.6 11.3h3.4M40.0 11.3h3.4M95.0 11.3h3.4M103.2 11.3h3.4M79.8 13.7h6.1M66.1 18.4h3.4M101.8 18.4h6.1M31.7 20.8h3.4M62.0 20.8h3.4M78.5 20.8h3.4M100.5 20.8h6.1M78.5 25.6h3.4M95.0 25.6h3.4M-13.7 28.0h3.4M-8.2 28.0h3.4M-2.7 28.0h3.4M11.1 28.0h6.1M24.8 28.0h6.1M38.6 28.0h3.4M85.3 28.0h3.4M90.8 28.0h6.1M-26.1 30.3h3.4M42.7 30.3h3.4M78.5 30.3h8.8M97.7 30.3h3.4M103.2 30.3h3.4M-27.4 32.7h3.4M41.3 32.7h6.1M79.8 32.7h3.4M85.3 32.7h3.4M90.8 32.7h3.4M104.6 32.7h3.4M-28.8 35.1h3.4M78.5 35.1h3.4M84.0 35.1h3.4M100.5 35.1h3.4M-27.4 37.5h3.4M44.1 37.5h3.4M85.3 37.5h3.4M93.6 37.5h3.4M-28.8 39.9h3.4M4.2 39.9h3.4M84.0 39.9h19.9M-27.4 42.2h3.4M44.1 42.2h3.4M85.3 42.2h6.1M99.1 42.2h6.1M-26.1 44.6h3.4M62.0 44.6h3.4M81.2 44.6h3.4M86.7 44.6h3.4M92.2 44.6h6.1M-27.4 47.0h3.4M35.8 47.0h3.4M93.6 47.0h11.6M-28.8 49.4h3.4M84.0 49.4h3.4M97.7 49.4h3.4M103.2 49.4h3.4M79.8 51.8h8.8M93.6 51.8h6.1M101.8 51.8h6.1M34.5 54.1h3.4M45.5 54.1h3.4M78.5 54.1h3.4M84.0 54.1h3.4M92.2 54.1h6.1M103.2 54.1h3.4M44.1 56.5h3.4M79.8 56.5h6.1M90.8 56.5h3.4M99.1 56.5h3.4M104.6 56.5h3.4M-26.1 58.9h3.4M78.5 58.9h3.4M86.7 58.9h3.4M92.2 58.9h6.1M103.2 58.9h3.4M-24.7 61.3h3.4M44.1 61.3h3.4M79.8 61.3h3.4M88.1 61.3h3.4M93.6 61.3h3.4M-28.8 63.7h3.4M45.5 63.7h3.4M84.0 63.7h3.4M100.5 63.7h3.4M79.8 66.0h3.4M-28.8 68.4h3.4M45.5 68.4h3.4M44.1 70.8h3.4M28.9 73.2h3.4M2.8 75.6h3.4M11.1 75.6h3.4M71.6 75.6h3.4M101.8 75.6h3.4M70.2 82.7h3.4M45.5 87.5h3.4M5.6 89.8h3.4M44.1 89.8h3.4M77.1 89.8h3.4M42.7 92.2h3.4M22.1 94.6h3.4M44.1 94.6h3.4M1.4 97.0h8.8M15.2 97.0h6.1M23.4 97.0h3.4M40.0 97.0h3.4M41.3 99.4h3.4M17.9 101.7h3.4M48.2 101.7h3.4M-5.4 104.1h3.4M42.7 106.5h3.4M84.0 106.5h3.4M56.5 111.3h3.4M67.5 111.3h3.4"/><path stroke="#565ba7" d="M24.8 -62.5h11.6M66.1 -62.5h3.4M23.4 -60.1h6.1M70.2 -60.1h3.4M92.2 -60.1h3.4M22.1 -57.7h3.4M71.6 -57.7h3.4M93.6 -57.7h3.4M97.7 -55.3h3.4M46.8 -53.0h3.4M66.1 -53.0h3.4M23.4 -50.6h3.4M92.2 -50.6h3.4M22.1 -48.2h3.4M33.1 -48.2h3.4M23.4 -45.8h3.4M73.0 -45.8h3.4M-27.4 -43.4h3.4M16.6 -43.4h3.4M-6.8 -41.1h3.4M75.7 -41.1h3.4M88.1 -38.7h3.4M96.3 -38.7h3.4M107.3 -38.7h3.4M31.7 -36.3h3.4M73.0 -36.3h3.4M23.4 -31.5h3.4M73.0 -31.5h3.4M86.7 -31.5h3.4M24.8 -29.2h3.4M79.8 -29.2h3.4M23.4 -26.8h3.4M81.2 -26.8h3.4M74.3 -24.4h3.4M-12.3 -22.0h3.4M89.5 -22.0h3.4M24.8 -19.6h3.4M74.3 -19.6h3.4M99.1 -19.6h3.4M-15.1 -17.3h3.4M17.9 -17.3h6.1M26.2 -17.3h3.4M67.5 -17.3h3.4M78.5 -17.3h3.4M103.2 -17.3h6.1M73.0 -12.5h6.1M-30.2 -10.1h3.4M24.8 -10.1h3.4M74.3 -10.1h6.1M-17.8 -7.7h3.4M17.9 -7.7h3.4M75.7 -7.7h3.4M81.2 -7.7h6.1M89.5 -7.7h3.4M97.7 -7.7h3.4M103.2 -7.7h3.4M24.8 -5.4h3.4M79.8 -5.4h6.1M90.8 -5.4h3.4M99.1 -5.4h8.8M-9.6 -3.0h3.4M103.2 -3.0h3.4M-12.3 1.8h3.4M106.0 1.8h6.1M71.6 4.2h6.1M107.3 4.2h3.4M45.5 6.5h3.4M53.7 6.5h3.4M64.7 6.5h6.1M75.7 6.5h3.4M68.8 8.9h3.4M110.1 8.9h3.4M15.2 11.3h3.4M73.0 11.3h3.4M108.7 11.3h3.4M11.1 13.7h3.4M77.1 13.7h3.4M75.7 16.1h3.4M106.0 16.1h3.4M68.8 18.4h3.4M74.3 18.4h3.4M79.8 18.4h3.4M-26.1 20.8h3.4M7.0 20.8h3.4M106.0 20.8h3.4M77.1 23.2h3.4M88.1 23.2h3.4M-26.1 25.6h8.8M-15.1 25.6h8.8M-4.0 25.6h3.4M1.4 25.6h3.4M17.9 25.6h3.4M37.2 25.6h3.4M42.7 25.6h3.4M106.0 25.6h3.4M74.3 28.0h3.4M-28.8 30.3h3.4M45.5 30.3h3.4M106.0 30.3h3.4M-30.2 32.7h3.4M77.1 32.7h3.4M75.7 35.1h3.4M46.8 37.5h3.4M60.6 37.5h6.1M77.1 37.5h6.1M106.0 39.9h3.4M71.6 42.2h3.4M77.1 42.2h3.4M107.3 42.2h3.4M67.5 44.6h3.4M46.8 47.0h6.1M74.3 47.0h3.4M46.8 51.8h3.4M66.1 51.8h3.4M-1.3 54.1h3.4M75.7 54.1h3.4M106.0 54.1h6.1M46.8 56.5h3.4M52.3 56.5h3.4M68.8 56.5h3.4M74.3 56.5h3.4M96.3 56.5h3.4M75.7 58.9h3.4M108.7 58.9h3.4M46.8 61.3h3.4M107.3 61.3h3.4M48.2 63.7h3.4M75.7 63.7h3.4M81.2 63.7h3.4M86.7 63.7h3.4M106.0 63.7h3.4M-30.2 66.0h3.4M46.8 66.0h3.4M57.8 66.0h3.4M93.6 66.0h3.4M99.1 66.0h3.4M48.2 68.4h3.4M86.7 68.4h6.1M103.2 68.4h3.4M46.8 70.8h3.4M52.3 70.8h3.4M17.9 73.2h3.4M48.2 73.2h3.4M78.5 73.2h3.4M48.2 77.9h3.4M78.5 77.9h3.4M13.8 80.3h3.4M-6.8 82.7h3.4M78.5 82.7h3.4M86.7 82.7h3.4M30.3 85.1h3.4M46.8 85.1h3.4M90.8 85.1h3.4M104.6 85.1h3.4M20.7 87.5h3.4M48.2 87.5h3.4M97.7 87.5h3.4M103.2 87.5h3.4M48.2 92.2h3.4M46.8 94.6h3.4M-6.8 97.0h3.4M42.7 97.0h3.4M-10.9 99.4h3.4M-5.4 99.4h6.1M2.8 99.4h3.4M8.3 99.4h8.8M22.1 99.4h8.8M35.8 99.4h6.1M-15.1 101.7h6.1M-6.8 101.7h3.4M-1.3 101.7h3.4M12.4 101.7h3.4M11.1 104.1h3.4M-9.6 106.5h3.4M9.7 106.5h3.4M46.8 108.9h3.4M23.4 111.3h3.4M57.8 113.6h3.4"/><path stroke="#5c52a3" d="M17.9 -64.9h3.4M16.6 -62.5h6.1M17.9 -60.1h3.4M45.5 -60.1h3.4M16.6 -57.7h3.4M77.1 -57.7h3.4M90.8 -57.7h3.4M101.8 -57.7h3.4M17.9 -55.3h3.4M78.5 -55.3h3.4M-13.7 -53.0h3.4M41.3 -53.0h6.1M79.8 -53.0h3.4M17.9 -50.6h3.4M108.7 -50.6h3.4M-2.7 -48.2h3.4M16.6 -48.2h3.4M17.9 -45.8h3.4M79.8 -43.4h3.4M17.9 -41.1h3.4M19.3 -38.7h3.4M-26.1 -36.3h3.4M103.2 -36.3h3.4M19.3 -33.9h3.4M-20.6 -31.5h3.4M-12.3 -31.5h3.4M17.9 -31.5h3.4M78.5 -31.5h3.4M-35.7 -29.2h3.4M16.6 -29.2h3.4M20.7 -22.0h3.4M81.2 -22.0h3.4M-32.9 -19.6h3.4M-21.9 -19.6h3.4M19.3 -19.6h3.4M63.3 -19.6h3.4M84.0 -17.3h3.4M92.2 -17.3h11.6M-13.7 -14.9h3.4M19.3 -14.9h3.4M82.6 -14.9h3.4M88.1 -14.9h11.6M104.6 -14.9h6.1M-20.6 -12.5h3.4M-15.1 -12.5h3.4M17.9 -12.5h6.1M-23.3 -7.7h3.4M20.7 -7.7h3.4M92.2 -7.7h3.4M19.3 -5.4h6.1M20.7 -3.0h3.4M20.7 1.8h3.4M23.4 6.5h3.4M27.6 8.9h3.4M33.1 8.9h3.4M37.2 11.3h3.4M42.7 11.3h19.9M33.1 13.7h3.4M38.6 13.7h14.3M57.8 13.7h3.4M-23.3 16.1h3.4M-17.8 16.1h6.1M4.2 16.1h3.4M20.7 16.1h3.4M45.5 16.1h3.4M-30.2 18.4h3.4M-24.7 18.4h6.1M-10.9 18.4h3.4M-2.7 18.4h6.1M13.8 18.4h3.4M24.8 18.4h3.4M30.3 18.4h3.4M41.3 18.4h3.4M46.8 18.4h3.4M-31.6 20.8h6.1M1.4 20.8h3.4M45.5 20.8h3.4M28.9 25.6h3.4M51.0 25.6h8.8M52.3 28.0h3.4M53.7 30.3h3.4M59.2 30.3h3.4M64.7 30.3h3.4M49.6 32.7h8.8M60.6 32.7h3.4M93.6 32.7h3.4M37.2 35.1h3.4M53.7 35.1h3.4M67.5 35.1h3.4M55.1 37.5h3.4M66.1 37.5h3.4M74.3 37.5h3.4M17.9 39.9h3.4M67.5 39.9h3.4M60.6 42.2h3.4M66.1 42.2h3.4M82.6 42.2h3.4M53.7 44.6h6.1M64.7 44.6h3.4M89.5 44.6h3.4M55.1 47.0h3.4M66.1 47.0h3.4M45.5 49.4h3.4M53.7 49.4h3.4M67.5 49.4h3.4M88.1 51.8h3.4M67.5 54.1h3.4M55.1 56.5h3.4M60.6 56.5h3.4M66.1 56.5h3.4M53.7 58.9h3.4M55.1 61.3h3.4M68.8 61.3h3.4M104.6 61.3h3.4M53.7 63.7h6.1M103.2 63.7h3.4M90.8 66.0h3.4M53.7 68.4h6.1M78.5 68.4h3.4M99.1 70.8h3.4M110.1 70.8h3.4M7.0 73.2h3.4M56.5 73.2h3.4M73.0 73.2h3.4M108.7 73.2h3.4M74.3 75.6h17.1M104.6 75.6h3.4M81.2 77.9h3.4M92.2 77.9h17.1M-2.7 80.3h3.4M16.6 80.3h3.4M55.1 80.3h3.4M31.7 82.7h3.4M53.7 82.7h6.1M64.7 82.7h3.4M52.3 85.1h3.4M96.3 85.1h3.4M53.7 87.5h3.4M-10.9 89.8h3.4M52.3 89.8h6.1M31.7 92.2h6.1M53.7 92.2h6.1M27.6 94.6h3.4M20.7 97.0h3.4M53.7 97.0h3.4M52.3 99.4h6.1M51.0 101.7h3.4M38.6 104.1h3.4M44.1 104.1h3.4M-12.3 106.5h3.4M-1.3 106.5h3.4M4.2 106.5h6.1M15.2 106.5h6.1M23.4 106.5h6.1M31.7 106.5h3.4M53.7 106.5h3.4M-5.4 108.9h3.4M5.6 108.9h3.4M11.1 108.9h19.9M33.1 108.9h3.4M44.1 108.9h3.4"/><path stroke="#5062ab" d="M30.3 -57.7h3.4M63.3 -57.7h6.1M28.9 -55.3h3.4M75.7 -50.6h3.4M41.3 -48.2h3.4M60.6 -48.2h3.4M68.8 -48.2h3.4M90.8 -48.2h3.4M20.7 -45.8h3.4M-24.7 -43.4h3.4M-10.9 -43.4h3.4M-31.6 -41.1h3.4M-23.3 -41.1h3.4M22.1 -38.7h3.4M-20.6 -36.3h3.4M28.9 -36.3h3.4M27.6 -33.9h3.4M90.8 -33.9h3.4M27.6 -29.2h3.4M28.9 -26.8h3.4M19.3 -24.4h3.4M28.9 -22.0h3.4M59.2 -22.0h3.4M100.5 -22.0h3.4M-16.4 -14.9h3.4M2.8 -14.9h3.4M68.8 -14.9h3.4M48.2 -12.5h3.4M30.3 -10.1h3.4M68.8 -10.1h3.4M15.2 -7.7h3.4M42.7 -7.7h3.4M56.5 -7.7h3.4M-27.4 -5.4h3.4M2.8 -5.4h3.4M68.8 -5.4h3.4M67.5 -3.0h3.4M68.8 -0.6h3.4M82.6 -0.6h3.4M-6.8 1.8h3.4M42.7 1.8h3.4M48.2 1.8h3.4M67.5 1.8h3.4M86.7 1.8h3.4M-26.1 6.5h3.4M-8.2 8.9h3.4M86.7 11.3h3.4M31.7 16.1h3.4M37.2 16.1h3.4M89.5 16.1h3.4M11.1 18.4h3.4M27.6 18.4h3.4M33.1 18.4h6.1M-13.7 23.2h3.4M79.8 23.2h3.4M-16.4 28.0h3.4M96.3 28.0h3.4M-17.8 30.3h3.4M-12.3 30.3h17.1M7.0 30.3h8.8M17.9 30.3h6.1M37.2 30.3h3.4M48.2 30.3h3.4M-24.7 32.7h3.4M-13.7 32.7h3.4M2.8 32.7h3.4M8.3 32.7h3.4M24.8 32.7h6.1M38.6 32.7h3.4M71.6 32.7h3.4M-23.3 35.1h3.4M81.2 39.9h3.4M-24.7 42.2h3.4M41.3 42.2h3.4M51.0 44.6h3.4M-26.1 49.4h3.4M40.0 49.4h3.4M-24.7 51.8h3.4M5.6 51.8h3.4M107.3 51.8h3.4M-23.3 54.1h3.4M42.7 54.1h3.4M73.0 54.1h3.4M41.3 56.5h3.4M-23.3 58.9h3.4M23.4 58.9h3.4M40.0 58.9h3.4M-23.3 63.7h3.4M-15.1 63.7h3.4M40.0 63.7h3.4M95.0 63.7h3.4M41.3 66.0h3.4M55.1 66.0h3.4M66.1 66.0h3.4M-23.3 68.4h3.4M100.5 68.4h3.4M41.3 70.8h3.4M55.1 70.8h3.4M-23.3 73.2h3.4M20.7 73.2h3.4M42.7 73.2h3.4M-24.7 75.6h3.4M40.0 77.9h3.4M41.3 80.3h3.4M42.7 82.7h3.4M5.6 85.1h3.4M42.7 87.5h3.4M41.3 89.8h3.4M-4.0 92.2h3.4M1.4 92.2h3.4M7.0 92.2h3.4M20.7 92.2h6.1M37.2 92.2h6.1M-10.9 94.6h3.4M-5.4 94.6h8.8M13.8 94.6h3.4M19.3 94.6h3.4M24.8 94.6h3.4M30.3 94.6h6.1M38.6 94.6h3.4M-12.3 97.0h3.4M9.7 101.7h3.4M2.8 104.1h3.4M41.3 108.9h3.4M46.8 113.6h3.4"/><path stroke="#4c68ae" d="M-4.0 -60.1h3.4M62.0 -55.3h3.4M49.6 -53.0h3.4M60.6 -53.0h3.4M96.3 -53.0h3.4M34.5 -50.6h3.4M40.0 -50.6h14.3M73.0 -50.6h3.4M78.5 -50.6h3.4M35.8 -48.2h3.4M55.1 -48.2h3.4M71.6 -48.2h3.4M34.5 -45.8h3.4M45.5 -45.8h3.4M56.5 -45.8h6.1M100.5 -45.8h3.4M49.6 -43.4h3.4M40.0 -41.1h8.8M51.0 -41.1h3.4M56.5 -41.1h3.4M62.0 -41.1h3.4M38.6 -38.7h3.4M55.1 -38.7h8.8M74.3 -38.7h3.4M40.0 -36.3h3.4M48.2 -36.3h6.1M62.0 -36.3h3.4M22.1 -33.9h3.4M33.1 -33.9h3.4M38.6 -33.9h3.4M34.5 -31.5h3.4M56.5 -31.5h3.4M-13.7 -29.2h3.4M44.1 -29.2h3.4M49.6 -29.2h3.4M55.1 -29.2h3.4M63.3 -29.2h3.4M-1.3 -26.8h3.4M7.0 -26.8h3.4M37.2 -26.8h3.4M53.7 -26.8h3.4M86.7 -26.8h3.4M-5.4 -24.4h3.4M2.8 -24.4h3.4M8.3 -24.4h6.1M35.8 -24.4h3.4M37.2 -22.0h3.4M73.0 -22.0h3.4M78.5 -22.0h3.4M44.1 -19.6h3.4M52.3 -19.6h3.4M-26.1 -17.3h3.4M-4.0 -17.3h3.4M37.2 -17.3h3.4M-2.7 -14.9h3.4M49.6 -14.9h3.4M57.8 -14.9h3.4M71.6 -14.9h3.4M101.8 -14.9h3.4M-31.6 -12.5h3.4M51.0 -12.5h3.4M59.2 -12.5h6.1M46.8 -10.1h3.4M-9.6 -7.7h3.4M37.2 -7.7h3.4M62.0 -7.7h3.4M38.6 -5.4h3.4M55.1 -5.4h3.4M74.3 -5.4h3.4M-10.9 -0.6h3.4M40.0 1.8h3.4M73.0 1.8h3.4M85.3 4.2h3.4M2.8 8.9h3.4M77.1 8.9h3.4M99.1 8.9h3.4M-1.3 11.3h3.4M78.5 11.3h3.4M8.3 23.2h3.4M86.7 25.6h3.4M82.6 28.0h3.4M26.2 30.3h3.4M56.5 30.3h3.4M70.2 30.3h3.4M16.6 32.7h3.4M66.1 32.7h3.4M-4.0 35.1h3.4M0.1 37.5h3.4M62.0 39.9h3.4M79.8 42.2h3.4M26.2 44.6h3.4M-5.4 47.0h6.1M13.8 51.8h3.4M-6.8 58.9h3.4M45.5 58.9h3.4M41.3 61.3h3.4M17.9 63.7h3.4M42.7 63.7h3.4M85.3 66.0h6.1M56.5 77.9h3.4M-5.4 80.3h3.4M66.1 80.3h3.4M-5.4 85.1h3.4M99.1 85.1h3.4M107.3 85.1h3.4M-9.6 87.5h3.4M59.2 87.5h3.4M30.3 89.8h3.4M68.8 89.8h3.4M107.3 89.8h3.4M92.2 92.2h3.4M-1.3 97.0h3.4M37.2 97.0h3.4M7.0 101.7h3.4M37.2 106.5h6.1M52.3 108.9h6.1M93.6 108.9h3.4M2.8 113.6h3.4M11.1 113.6h3.4"/><path stroke="#466eb0" d="M4.2 -64.9h3.4M49.6 -62.5h3.4M51.0 -60.1h3.4M67.5 -60.1h3.4M8.3 -57.7h3.4M35.8 -53.0h3.4M74.3 -53.0h3.4M101.8 -53.0h3.4M0.1 -48.2h3.4M27.6 -48.2h3.4M82.6 -48.2h3.4M99.1 -43.4h3.4M100.5 -41.1h3.4M-13.7 -38.7h3.4M-4.0 -36.3h3.4M75.7 -36.3h3.4M-32.9 -33.9h3.4M96.3 -33.9h3.4M104.6 -33.9h3.4M20.7 -31.5h3.4M28.9 -31.5h3.4M37.2 -31.5h3.4M-10.9 -29.2h3.4M57.8 -29.2h3.4M77.1 -29.2h3.4M96.3 -29.2h3.4M-23.3 -26.8h3.4M4.2 -26.8h3.4M-24.7 -24.4h3.4M88.1 -24.4h3.4M75.7 -22.0h3.4M46.8 -19.6h3.4M45.5 -12.5h3.4M13.8 -10.1h3.4M55.1 -10.1h3.4M-31.6 -7.7h3.4M34.5 -7.7h3.4M100.5 -7.7h3.4M88.1 -5.4h3.4M-26.1 -3.0h3.4M-6.8 -3.0h3.4M31.7 -3.0h3.4M78.5 -3.0h3.4M0.1 -0.6h3.4M-13.7 4.2h3.4M22.1 4.2h3.4M60.6 4.2h3.4M70.2 6.5h3.4M89.5 6.5h3.4M49.6 8.9h3.4M106.0 11.3h3.4M-13.7 13.7h3.4M35.8 13.7h3.4M-12.3 16.1h3.4M-1.3 16.1h3.4M78.5 16.1h3.4M-27.4 18.4h3.4M49.6 18.4h3.4M57.8 18.4h3.4M90.8 18.4h3.4M48.2 20.8h3.4M82.6 23.2h3.4M-6.8 25.6h3.4M73.0 25.6h3.4M63.3 28.0h3.4M-21.9 32.7h6.1M82.6 32.7h3.4M92.2 35.1h3.4M8.3 37.5h3.4M74.3 42.2h3.4M96.3 42.2h3.4M104.6 42.2h3.4M7.0 44.6h3.4M30.3 47.0h3.4M86.7 49.4h3.4M90.8 51.8h3.4M1.4 54.1h3.4M8.3 61.3h3.4M77.1 61.3h3.4M99.1 61.3h3.4M92.2 63.7h3.4M35.8 66.0h3.4M0.1 70.8h3.4M11.1 70.8h3.4M68.8 70.8h3.4M52.3 75.6h3.4M-13.7 80.3h3.4M57.8 80.3h3.4M20.7 82.7h3.4M22.1 85.1h3.4M38.6 85.1h3.4M28.9 87.5h3.4M92.2 87.5h3.4M78.5 92.2h3.4M95.0 92.2h3.4M5.6 94.6h3.4M86.7 97.0h3.4M37.2 101.7h3.4M53.7 101.7h3.4M92.2 101.7h3.4M49.6 104.1h3.4M1.4 106.5h3.4M45.5 106.5h3.4M81.2 106.5h3.4M86.7 106.5h3.4M40.0 111.3h3.4M62.0 111.3h3.4M41.3 113.6h3.4"/><path stroke="#3489bc" d="M40.0 -64.9h3.4M1.4 -60.1h3.4M81.2 -60.1h3.4M95.0 -60.1h3.4M-13.7 -57.7h3.4M38.6 -53.0h3.4M52.3 -53.0h3.4M37.2 -50.6h3.4M56.5 -50.6h3.4M67.5 -50.6h3.4M63.3 -43.4h3.4M86.7 -41.1h3.4M99.1 -38.7h3.4M23.4 -36.3h3.4M7.0 -31.5h3.4M92.2 -31.5h3.4M66.1 -24.4h3.4M85.3 -24.4h3.4M93.6 -24.4h3.4M101.8 -24.4h3.4M15.2 -22.0h3.4M64.7 -22.0h3.4M85.3 -19.6h3.4M90.8 -19.6h3.4M1.4 -17.3h3.4M-21.9 -14.9h3.4M4.2 -12.5h3.4M34.5 -12.5h3.4M16.6 -10.1h6.1M106.0 -7.7h3.4M11.1 -5.4h3.4M33.1 -5.4h3.4M17.9 -3.0h3.4M84.0 -3.0h3.4M108.7 -3.0h3.4M103.2 1.8h3.4M35.8 4.2h6.1M52.3 4.2h3.4M22.1 8.9h3.4M66.1 8.9h3.4M85.3 8.9h3.4M101.8 8.9h3.4M12.4 11.3h3.4M89.5 11.3h3.4M100.5 11.3h3.4M74.3 13.7h3.4M88.1 13.7h3.4M101.8 13.7h3.4M26.2 16.1h3.4M51.0 16.1h3.4M-19.2 18.4h3.4M8.3 18.4h3.4M82.6 18.4h3.4M93.6 18.4h3.4M34.5 20.8h3.4M59.2 20.8h3.4M92.2 20.8h3.4M-32.9 23.2h3.4M64.7 25.6h6.1M81.2 25.6h3.4M97.7 25.6h6.1M33.1 28.0h3.4M34.5 30.3h3.4M103.2 35.1h3.4M2.8 37.5h3.4M16.6 37.5h3.4M107.3 37.5h3.4M46.8 42.2h3.4M1.4 44.6h3.4M81.2 49.4h3.4M0.1 51.8h3.4M35.8 56.5h3.4M-15.1 58.9h3.4M48.2 58.9h3.4M73.0 58.9h3.4M51.0 73.2h3.4M84.0 73.2h3.4M17.9 77.9h3.4M31.7 77.9h3.4M52.3 80.3h3.4M101.8 80.3h3.4M62.0 82.7h3.4M35.8 85.1h3.4M44.1 85.1h3.4M63.3 85.1h3.4M93.6 85.1h3.4M101.8 85.1h3.4M1.4 87.5h3.4M26.2 97.0h3.4M1.4 101.7h3.4M60.6 104.1h3.4M57.8 108.9h3.4M38.6 113.6h3.4"/><path stroke="#4273b3" d="M9.7 -60.1h3.4M-21.9 -57.7h3.4M100.5 -55.3h3.4M62.0 -50.6h3.4M74.3 -48.2h3.4M107.3 -48.2h3.4M92.2 -45.8h3.4M-8.2 -43.4h6.1M79.8 -38.7h3.4M66.1 -33.9h3.4M99.1 -33.9h3.4M70.2 -31.5h3.4M-19.2 -29.2h3.4M13.8 -29.2h3.4M74.3 -29.2h3.4M-31.6 -26.8h3.4M56.5 -26.8h3.4M64.7 -26.8h3.4M24.8 -24.4h3.4M92.2 -22.0h3.4M16.6 -19.6h3.4M108.7 -17.3h3.4M1.4 -12.5h3.4M35.8 -10.1h3.4M-12.3 -7.7h3.4M-6.8 -7.7h3.4M86.7 -7.7h3.4M-2.7 -0.6h3.4M-8.2 4.2h3.4M82.6 4.2h3.4M-9.6 6.5h6.1M-30.2 8.9h3.4M93.6 8.9h3.4M7.0 11.3h3.4M-26.1 16.1h3.4M-9.6 16.1h3.4M1.4 16.1h3.4M28.9 16.1h3.4M40.0 20.8h3.4M51.0 20.8h3.4M56.5 20.8h3.4M81.2 20.8h3.4M85.3 23.2h3.4M103.2 25.6h3.4M-27.4 28.0h3.4M-21.9 28.0h3.4M-10.9 32.7h3.4M35.8 32.7h3.4M-17.8 35.1h3.4M104.6 37.5h3.4M28.9 39.9h3.4M-12.3 44.6h3.4M103.2 44.6h3.4M88.1 47.0h3.4M-20.6 49.4h3.4M37.2 49.4h3.4M78.5 49.4h3.4M-21.9 51.8h3.4M-9.6 54.1h3.4M59.2 54.1h6.1M100.5 54.1h3.4M-19.2 66.0h3.4M24.8 66.0h3.4M104.6 66.0h3.4M-6.8 73.2h3.4M26.2 73.2h3.4M97.7 73.2h3.4M49.6 80.3h3.4M-1.3 82.7h3.4M48.2 82.7h3.4M73.0 82.7h3.4M56.5 87.5h3.4M24.8 89.8h3.4M62.0 92.2h3.4M35.8 94.6h3.4M99.1 94.6h3.4M9.7 97.0h3.4M0.1 104.1h3.4M19.3 104.1h3.4M-4.0 106.5h3.4M103.2 106.5h3.4M-10.9 108.9h3.4M17.9 111.3h3.4M55.1 113.6h3.4M17.9 116.0h3.4"/><path stroke="#3584bb" d="M9.7 -64.9h3.4M5.6 -62.5h3.4M82.6 -57.7h3.4M45.5 -55.3h3.4M57.8 -53.0h3.4M-6.8 -45.8h3.4M23.4 -41.1h3.4M-32.9 -38.7h3.4M-27.4 -33.9h3.4M-19.2 -33.9h3.4M95.0 -31.5h3.4M38.6 -29.2h3.4M26.2 -26.8h3.4M12.4 -22.0h3.4M17.9 -22.0h3.4M71.6 -19.6h3.4M-17.8 -17.3h3.4M45.5 -17.3h3.4M26.2 -12.5h3.4M70.2 -7.7h3.4M-30.2 -5.4h3.4M27.6 -5.4h3.4M27.6 -0.6h3.4M96.3 -0.6h3.4M107.3 -0.6h3.4M-19.2 4.2h3.4M15.2 6.5h3.4M34.5 6.5h3.4M106.0 6.5h3.4M107.3 8.9h3.4M-4.0 11.3h3.4M64.7 11.3h3.4M81.2 11.3h3.4M24.8 13.7h3.4M99.1 13.7h3.4M-13.7 18.4h3.4M44.1 18.4h3.4M-17.8 20.8h6.1M19.3 23.2h3.4M7.0 25.6h3.4M28.9 35.1h3.4M-8.2 37.5h3.4M27.6 37.5h3.4M82.6 37.5h3.4M90.8 37.5h3.4M31.7 39.9h3.4M37.2 39.9h6.1M53.7 39.9h3.4M22.1 42.2h3.4M-28.8 44.6h3.4M33.1 47.0h3.4M4.2 49.4h3.4M15.2 49.4h3.4M70.2 49.4h3.4M106.0 49.4h3.4M24.8 51.8h3.4M15.2 54.1h3.4M64.7 54.1h3.4M97.7 54.1h3.4M-5.4 56.5h3.4M16.6 56.5h3.4M100.5 58.9h3.4M11.1 61.3h3.4M-12.3 63.7h3.4M-6.8 63.7h3.4M89.5 63.7h3.4M0.1 66.0h3.4M16.6 66.0h3.4M-10.9 70.8h3.4M-2.7 70.8h3.4M-26.1 73.2h3.4M62.0 73.2h3.4M35.8 75.6h3.4M66.1 75.6h3.4M96.3 80.3h3.4M7.0 87.5h3.4M71.6 89.8h3.4M28.9 97.0h3.4M31.7 101.7h3.4M42.7 101.7h3.4M13.8 113.6h3.4M66.1 113.6h3.4"/><path stroke="#388fba" d="M31.7 -64.9h3.4M100.5 -60.1h3.4M59.2 -50.6h3.4M75.7 -45.8h3.4M74.3 -43.4h3.4M101.8 -43.4h3.4M-12.3 -41.1h3.4M84.0 -41.1h3.4M27.6 -38.7h3.4M46.8 -38.7h3.4M53.7 -36.3h3.4M16.6 -33.9h3.4M35.8 -33.9h3.4M79.8 -33.9h3.4M75.7 -26.8h3.4M-30.2 -19.6h3.4M81.2 -17.3h3.4M74.3 -14.9h3.4M92.2 -12.5h3.4M0.1 -10.1h3.4M1.4 -7.7h3.4M95.0 -7.7h3.4M46.8 -5.4h3.4M66.1 -0.6h3.4M-9.6 1.8h3.4M-4.0 1.8h3.4M81.2 1.8h3.4M-21.9 4.2h3.4M41.3 4.2h3.4M46.8 4.2h3.4M-12.3 6.5h3.4M56.5 6.5h3.4M-24.7 8.9h3.4M-16.4 13.7h3.4M-20.6 16.1h3.4M23.4 20.8h3.4M84.0 20.8h3.4M2.8 23.2h3.4M20.7 25.6h3.4M84.0 25.6h3.4M92.2 25.6h3.4M108.7 25.6h3.4M2.8 28.0h3.4M79.8 28.0h3.4M73.0 30.3h3.4M5.6 32.7h3.4M23.4 35.1h3.4M95.0 35.1h3.4M30.3 42.2h3.4M42.7 44.6h3.4M-27.4 51.8h3.4M44.1 51.8h3.4M74.3 51.8h3.4M-15.1 54.1h3.4M56.5 54.1h3.4M20.7 58.9h3.4M12.4 63.7h3.4M96.3 66.0h3.4M40.0 68.4h3.4M67.5 73.2h6.1M19.3 80.3h3.4M-2.7 85.1h3.4M88.1 85.1h3.4M-12.3 87.5h3.4M22.1 89.8h3.4M56.5 97.0h3.4M45.5 101.7h3.4M84.0 101.7h3.4M22.1 104.1h3.4M100.5 106.5h3.4M73.0 111.3h3.4"/><path stroke="#3d95b8" d="M28.9 -60.1h3.4M78.5 -60.1h3.4M97.7 -60.1h3.4M-12.3 -50.6h3.4M99.1 -48.2h3.4M40.0 -45.8h3.4M62.0 -45.8h3.4M78.5 -45.8h3.4M71.6 -43.4h3.4M93.6 -43.4h3.4M52.3 -33.9h3.4M93.6 -33.9h3.4M-15.1 -31.5h3.4M-27.4 -29.2h3.4M17.9 -26.8h3.4M70.2 -22.0h3.4M89.5 -17.3h3.4M27.6 -14.9h3.4M66.1 -14.9h3.4M77.1 -14.9h3.4M-9.6 -12.5h3.4M95.0 -12.5h3.4M-21.9 -10.1h3.4M107.3 -5.4h3.4M48.2 -3.0h3.4M70.2 -3.0h3.4M13.8 -0.6h3.4M90.8 -0.6h3.4M-28.8 1.8h3.4M1.4 1.8h3.4M51.0 1.8h3.4M26.2 6.5h3.4M78.5 6.5h3.4M95.0 6.5h3.4M7.0 16.1h3.4M97.7 16.1h3.4M22.1 18.4h3.4M73.0 20.8h3.4M-27.4 23.2h3.4M27.6 23.2h3.4M75.7 25.6h3.4M35.8 28.0h3.4M-31.6 30.3h3.4M95.0 30.3h3.4M-8.2 32.7h3.4M-2.7 32.7h3.4M68.8 32.7h3.4M96.3 32.7h3.4M-30.2 37.5h3.4M9.7 44.6h3.4M40.0 54.1h3.4M63.3 61.3h3.4M96.3 61.3h3.4M67.5 63.7h3.4M-24.7 66.0h3.4M13.8 66.0h3.4M44.1 66.0h3.4M-17.8 68.4h3.4M9.7 68.4h3.4M8.3 70.8h3.4M16.6 70.8h3.4M49.6 70.8h3.4M-17.8 73.2h3.4M-4.0 73.2h3.4M90.8 75.6h3.4M22.1 80.3h3.4M9.7 92.2h3.4M16.6 94.6h3.4M49.6 99.4h3.4M97.7 101.7h3.4M78.5 111.3h3.4"/><path stroke="#3880b9" d="M82.6 -53.0h3.4M97.7 -45.8h3.4M68.8 -43.4h3.4M85.3 -43.4h8.8M-17.8 -41.1h3.4M44.1 -33.9h3.4M90.8 -29.2h3.4M-15.1 -26.8h3.4M12.4 -26.8h3.4M59.2 -26.8h3.4M-15.1 -22.0h3.4M-23.3 -17.3h3.4M-24.7 -14.9h3.4M12.4 -12.5h3.4M84.0 -12.5h3.4M35.8 -5.4h3.4M-28.8 -3.0h3.4M23.4 -3.0h3.4M-27.4 -0.6h3.4M5.6 -0.6h6.1M19.3 4.2h3.4M33.1 4.2h3.4M57.8 4.2h3.4M88.1 4.2h3.4M11.1 8.9h3.4M55.1 13.7h3.4M66.1 13.7h3.4M59.2 16.1h3.4M92.2 16.1h3.4M77.1 18.4h3.4M99.1 18.4h3.4M-12.3 20.8h3.4M26.2 20.8h3.4M90.8 23.2h3.4M12.4 25.6h3.4M41.3 28.0h3.4M34.5 35.1h3.4M-21.9 37.5h3.4M99.1 37.5h3.4M20.7 44.6h6.1M104.6 47.0h3.4M-17.8 54.1h3.4M-21.9 56.5h3.4M-10.9 61.3h3.4M19.3 66.0h3.4M38.6 66.0h3.4M-6.8 68.4h3.4M71.6 70.8h3.4M-17.8 77.9h3.4M53.7 77.9h3.4M60.6 80.3h3.4M40.0 82.7h3.4M-1.3 87.5h3.4M12.4 87.5h3.4M27.6 89.8h3.4M46.8 89.8h3.4M-9.6 97.0h3.4M0.1 99.4h3.4M28.9 101.7h3.4M107.3 104.1h3.4M89.5 106.5h3.4M79.8 108.9h3.4M1.4 111.3h3.4M26.2 111.3h3.4M42.7 111.3h3.4"/><path stroke="#3f78b5" d="M12.4 -60.1h3.4M42.7 -60.1h3.4M59.2 -60.1h3.4M-12.3 -55.3h3.4M31.7 -55.3h3.4M84.0 -55.3h3.4M-1.3 -50.6h3.4M70.2 -45.8h3.4M-13.7 -43.4h3.4M15.2 -41.1h3.4M67.5 -41.1h3.4M17.9 -36.3h3.4M78.5 -36.3h3.4M73.0 -26.8h3.4M4.2 -22.0h6.1M-26.1 -12.5h3.4M108.7 -12.5h3.4M1.4 -3.0h3.4M92.2 -3.0h3.4M19.3 -0.6h3.4M-10.9 4.2h3.4M7.0 6.5h3.4M51.0 6.5h3.4M79.8 8.9h3.4M26.2 11.3h3.4M-10.9 13.7h3.4M27.6 13.7h3.4M23.4 16.1h3.4M67.5 16.1h3.4M81.2 16.1h3.4M28.9 20.8h3.4M67.5 20.8h3.4M-24.7 23.2h3.4M-8.2 23.2h3.4M-34.3 25.6h3.4M31.7 25.6h3.4M5.6 28.0h3.4M15.2 30.3h3.4M62.0 30.3h3.4M100.5 30.3h3.4M9.7 35.1h3.4M56.5 35.1h3.4M64.7 35.1h3.4M52.3 42.2h3.4M45.5 44.6h3.4M63.3 47.0h3.4M-19.2 51.8h3.4M67.5 58.9h3.4M81.2 58.9h3.4M-20.6 63.7h3.4M2.8 66.0h3.4M1.4 73.2h3.4M100.5 73.2h3.4M68.8 75.6h3.4M90.8 80.3h3.4M-9.6 82.7h3.4M108.7 82.7h3.4M-9.6 92.2h3.4M55.1 94.6h3.4M40.0 101.7h3.4M12.4 106.5h3.4M-6.8 111.3h3.4"/><path stroke="#3b7cb7" d="M46.8 -62.5h3.4M33.1 -57.7h3.4M48.2 -55.3h3.4M12.4 -50.6h3.4M70.2 -50.6h3.4M13.8 -48.2h3.4M31.7 -41.1h3.4M8.3 -38.7h3.4M85.3 -38.7h3.4M97.7 -36.3h3.4M41.3 -33.9h3.4M71.6 -33.9h3.4M82.6 -33.9h3.4M-21.9 -29.2h3.4M1.4 -26.8h3.4M15.2 -26.8h3.4M79.8 -24.4h3.4M-27.4 -14.9h3.4M30.3 -14.9h3.4M79.8 -14.9h3.4M100.5 -12.5h3.4M-24.7 -5.4h3.4M97.7 -3.0h3.4M9.7 1.8h3.4M37.2 1.8h3.4M104.6 4.2h3.4M42.7 6.5h3.4M73.0 6.5h3.4M24.8 8.9h3.4M28.9 11.3h3.4M95.0 16.1h3.4M2.8 18.4h3.4M-21.9 23.2h3.4M49.6 23.2h3.4M107.3 23.2h3.4M67.5 30.3h3.4M89.5 30.3h3.4M40.0 35.1h3.4M-26.1 39.9h3.4M15.2 39.9h3.4M33.1 42.2h3.4M-9.6 44.6h3.4M97.7 44.6h3.4M52.3 47.0h3.4M12.4 49.4h3.4M23.4 54.1h3.4M-13.7 61.3h3.4M85.3 61.3h3.4M37.2 63.7h3.4M75.7 68.4h3.4M57.8 70.8h3.4M22.1 75.6h3.4M-12.3 77.9h3.4M74.3 80.3h3.4M34.5 82.7h3.4M-15.1 87.5h3.4M81.2 87.5h3.4M57.8 94.6h3.4M70.2 97.0h3.4M20.7 101.7h3.4M66.1 104.1h3.4"/><path stroke="#48a0b3" d="M53.7 -55.3h3.4M30.3 -53.0h3.4M90.8 -53.0h3.4M53.7 -50.6h3.4M42.7 -45.8h3.4M34.5 -41.1h3.4M53.7 -41.1h3.4M-5.4 -38.7h3.4M-30.2 -29.2h3.4M-6.8 -26.8h3.4M92.2 -26.8h3.4M0.1 -24.4h3.4M34.5 -22.0h3.4M73.0 -17.3h3.4M38.6 -14.9h3.4M-32.9 -10.1h3.4M-28.8 -7.7h3.4M67.5 -7.7h3.4M60.6 -5.4h3.4M-15.1 1.8h3.4M-24.7 4.2h3.4M68.8 4.2h3.4M9.7 6.5h3.4M31.7 6.5h3.4M0.1 8.9h3.4M19.3 8.9h3.4M-31.6 11.3h3.4M-2.7 13.7h3.4M64.7 16.1h3.4M108.7 20.8h3.4M60.6 23.2h3.4M-5.4 28.0h3.4M16.6 28.0h3.4M-9.6 35.1h3.4M62.0 35.1h3.4M-2.7 42.2h3.4M19.3 42.2h3.4M-1.3 44.6h3.4M78.5 44.6h3.4M-17.8 49.4h6.1M-26.1 54.1h3.4M81.2 54.1h3.4M2.8 56.5h3.4M24.8 61.3h3.4M30.3 66.0h3.4M-9.6 68.4h3.4M84.0 68.4h3.4M-5.4 75.6h3.4M16.6 75.6h3.4M12.4 82.7h6.1M-13.7 85.1h3.4M2.8 85.1h3.4M9.7 87.5h3.4M-4.0 97.0h3.4M34.5 97.0h3.4M73.0 97.0h3.4M66.1 99.4h3.4M35.8 104.1h3.4M-4.0 111.3h3.4M51.0 111.3h3.4"/><path stroke="#429ab5" d="M-5.4 -57.7h3.4M55.1 -57.7h3.4M26.2 -55.3h3.4M-16.4 -53.0h3.4M99.1 -53.0h3.4M11.1 -48.2h3.4M52.3 -48.2h3.4M57.8 -33.9h3.4M108.7 -31.5h3.4M0.1 -29.2h3.4M106.0 -26.8h3.4M51.0 -17.3h3.4M13.8 -14.9h3.4M-4.0 -12.5h3.4M-1.3 -7.7h3.4M12.4 -7.7h3.4M59.2 -7.7h3.4M30.3 -0.6h3.4M104.6 -0.6h3.4M12.4 1.8h3.4M1.4 6.5h3.4M103.2 6.5h3.4M8.3 8.9h3.4M8.3 13.7h3.4M37.2 20.8h3.4M-16.4 23.2h3.4M-2.7 23.2h3.4M96.3 23.2h3.4M-26.1 35.1h3.4M26.2 35.1h3.4M89.5 35.1h3.4M30.3 37.5h3.4M-4.0 39.9h3.4M34.5 44.6h3.4M42.7 49.4h3.4M89.5 49.4h3.4M27.6 51.8h3.4M20.7 54.1h3.4M88.1 56.5h3.4M56.5 58.9h3.4M108.7 63.7h3.4M-24.7 70.8h3.4M38.6 70.8h3.4M40.0 73.2h3.4M-9.6 77.9h3.4M24.8 80.3h3.4M-15.1 82.7h3.4M45.5 82.7h3.4M67.5 82.7h3.4M-13.7 89.8h3.4M-12.3 92.2h3.4M4.2 111.3h3.4"/><path stroke="#cbea9e" d="M33.1 -53.0h3.4M63.3 -53.0h3.4M28.9 -45.8h3.4M60.6 -43.4h3.4M35.8 -38.7h3.4M68.8 -33.9h3.4M42.7 -31.5h3.4M51.0 -31.5h3.4M34.5 -26.8h3.4M40.0 -26.8h3.4M57.8 -24.4h3.4M45.5 -22.0h3.4M53.7 -22.0h3.4M59.2 -17.3h3.4M60.6 -14.9h3.4M52.3 -10.1h3.4M45.5 -7.7h3.4M49.6 -5.4h3.4M40.0 -3.0h3.4M59.2 -3.0h3.4M16.6 4.2h3.4M90.8 4.2h6.1M100.5 6.5h3.4M96.3 8.9h3.4M104.6 8.9h3.4M92.2 11.3h3.4M93.6 13.7h3.4M103.2 16.1h3.4M96.3 18.4h3.4M88.1 28.0h3.4M107.3 28.0h3.4M12.4 35.1h3.4M35.8 37.5h3.4M-6.8 39.9h3.4M-16.4 42.2h3.4M16.6 47.0h3.4M-12.3 49.4h3.4M-10.9 51.8h3.4M-16.4 56.5h3.4M8.3 56.5h3.4M13.8 56.5h3.4M12.4 58.9h6.1M33.1 61.3h3.4M4.2 63.7h3.4M23.4 63.7h3.4M27.6 75.6h3.4M5.6 80.3h3.4M46.8 80.3h3.4M8.3 85.1h3.4M11.1 89.8h3.4"/><path stroke="#55afad" d="M63.3 -62.5h3.4M86.7 -60.1h3.4M7.0 -55.3h3.4M-26.1 -50.6h3.4M44.1 -48.2h3.4M27.6 -43.4h3.4M35.8 -43.4h3.4M44.1 -43.4h3.4M82.6 -43.4h3.4M-2.7 -38.7h3.4M-37.0 -36.3h3.4M99.1 -14.9h3.4M48.2 -7.7h3.4M63.3 -5.4h3.4M85.3 -5.4h3.4M-26.1 1.8h3.4M0.1 4.2h3.4M-15.1 6.5h3.4M16.6 8.9h3.4M71.6 8.9h3.4M34.5 11.3h3.4M40.0 16.1h3.4M-16.4 18.4h3.4M42.7 20.8h3.4M101.8 28.0h3.4M19.3 32.7h3.4M97.7 35.1h3.4M106.0 35.1h3.4M101.8 37.5h3.4M55.1 42.2h3.4M-20.6 44.6h3.4M11.1 47.0h3.4M7.0 49.4h3.4M92.2 49.4h3.4M4.2 58.9h3.4M62.0 58.9h3.4M30.3 61.3h3.4M101.8 61.3h3.4M71.6 66.0h3.4M101.8 66.0h3.4M34.5 68.4h3.4M107.3 70.8h3.4M24.8 75.6h3.4M0.1 85.1h3.4M12.4 97.0h3.4M57.8 99.4h3.4M70.2 101.7h3.4M20.7 111.3h3.4"/><path stroke="#98d6a4" d="M15.2 -64.9h3.4M13.8 -57.7h3.4M67.5 -55.3h3.4M64.7 -50.6h3.4M9.7 -41.1h3.4M68.8 -38.7h3.4M2.8 -33.9h3.4M-32.9 -24.4h3.4M41.3 -24.4h3.4M52.3 -24.4h3.4M66.1 -19.6h3.4M64.7 -17.3h3.4M56.5 -12.5h3.4M38.6 -10.1h3.4M57.8 -10.1h3.4M51.0 -7.7h3.4M30.3 -5.4h3.4M41.3 -5.4h3.4M23.4 1.8h3.4M64.7 1.8h3.4M5.6 4.2h3.4M30.3 4.2h3.4M20.7 6.5h3.4M40.0 6.5h3.4M23.4 11.3h3.4M84.0 11.3h3.4M22.1 13.7h3.4M90.8 13.7h3.4M9.7 25.6h3.4M26.2 25.6h3.4M92.2 30.3h3.4M22.1 32.7h3.4M33.1 32.7h3.4M42.7 35.1h6.1M1.4 39.9h3.4M12.4 39.9h3.4M-6.8 49.4h6.1M17.9 54.1h3.4M-10.9 66.0h3.4M104.6 70.8h3.4M37.2 77.9h3.4M41.3 85.1h3.4M26.2 92.2h3.4M45.5 92.2h3.4M75.7 92.2h3.4M-8.2 94.6h3.4M-15.1 97.0h3.4"/><path stroke="#a4daa4" d="M38.6 -62.5h3.4M89.5 -60.1h3.4M19.3 -57.7h3.4M71.6 -53.0h3.4M63.3 -38.7h3.4M1.4 -36.3h3.4M59.2 -31.5h3.4M9.7 -26.8h3.4M30.3 -24.4h3.4M63.3 -14.9h3.4M37.2 -12.5h3.4M96.3 -5.4h3.4M86.7 -3.0h3.4M22.1 -0.6h3.4M92.2 1.8h3.4M49.6 4.2h3.4M88.1 8.9h3.4M85.3 13.7h3.4M-5.4 18.4h3.4M38.6 18.4h3.4M74.3 23.2h3.4M-19.2 28.0h3.4M99.1 28.0h3.4M4.2 30.3h3.4M88.1 32.7h3.4M107.3 32.7h3.4M20.7 35.1h3.4M-10.9 37.5h3.4M-12.3 39.9h3.4M0.1 42.2h3.4M12.4 44.6h3.4M38.6 47.0h3.4M-23.3 49.4h3.4M51.0 54.1h3.4M89.5 58.9h3.4M-27.4 61.3h3.4M19.3 61.3h3.4M108.7 68.4h3.4M-16.4 70.8h3.4M27.6 70.8h3.4M7.0 82.7h3.4M106.0 82.7h3.4M28.9 92.2h3.4M60.6 99.4h3.4M-4.0 101.7h3.4"/><path stroke="#60bca8" d="M35.8 -57.7h3.4M-10.9 -53.0h3.4M-23.3 -50.6h3.4M26.2 -41.1h3.4M41.3 -38.7h3.4M93.6 -38.7h3.4M53.7 -31.5h3.4M68.8 -29.2h3.4M40.0 -22.0h3.4M-2.7 -10.1h3.4M2.8 -10.1h3.4M15.2 -3.0h3.4M97.7 6.5h3.4M-27.4 13.7h3.4M5.6 18.4h3.4M95.0 20.8h3.4M89.5 25.6h3.4M-16.4 32.7h3.4M-1.3 35.1h3.4M96.3 37.5h3.4M103.2 39.9h3.4M13.8 42.2h3.4M-4.0 44.6h3.4M-13.7 51.8h3.4M16.6 51.8h3.4M35.8 51.8h3.4M53.7 54.1h3.4M86.7 54.1h3.4M0.1 56.5h3.4M49.6 56.5h3.4M85.3 56.5h3.4M-17.8 58.9h3.4M28.9 58.9h3.4M34.5 63.7h3.4M-12.3 68.4h3.4M20.7 77.9h3.4M26.2 82.7h3.4M-4.0 87.5h3.4M67.5 92.2h3.4M108.7 92.2h3.4M-13.7 94.6h3.4M96.3 104.1h3.4M28.9 106.5h3.4"/><path stroke="#4fa8b0" d="M-1.3 -55.3h3.4M-17.8 -50.6h3.4M24.8 -48.2h3.4M49.6 -48.2h3.4M28.9 -41.1h3.4M-1.3 -36.3h3.4M-24.7 -29.2h3.4M82.6 -29.2h3.4M35.8 -19.6h3.4M-10.9 -14.9h3.4M16.6 -14.9h3.4M26.2 -7.7h3.4M26.2 -3.0h3.4M52.3 -0.6h3.4M75.7 11.3h3.4M19.3 18.4h3.4M107.3 18.4h3.4M24.8 23.2h3.4M-28.8 25.6h3.4M-17.8 25.6h3.4M-1.3 25.6h3.4M-10.9 28.0h3.4M0.1 28.0h3.4M-20.6 30.3h3.4M0.1 32.7h3.4M52.3 37.5h3.4M45.5 39.9h3.4M-23.3 44.6h3.4M-20.6 58.9h3.4M-9.6 58.9h3.4M9.7 58.9h3.4M31.7 63.7h3.4M-15.1 68.4h3.4M-4.0 68.4h3.4M19.3 75.6h3.4M38.6 75.6h3.4M9.7 77.9h3.4M44.1 80.3h3.4M100.5 97.0h3.4M-15.1 106.5h3.4M35.8 108.9h3.4"/><path stroke="#6fc5a5" d="M22.1 -62.5h3.4M40.0 -60.1h3.4M73.0 -60.1h3.4M57.8 -57.7h3.4M42.7 -55.3h3.4M24.8 -53.0h6.1M38.6 -43.4h3.4M0.1 -38.7h3.4M24.8 -33.9h3.4M60.6 -33.9h3.4M85.3 -29.2h3.4M68.8 -24.4h3.4M28.9 -17.3h3.4M49.6 -10.1h3.4M-4.0 -7.7h3.4M-5.4 -5.4h3.4M-17.8 -3.0h3.4M-13.7 8.9h3.4M-23.3 11.3h3.4M31.7 11.3h3.4M97.7 11.3h3.4M17.9 16.1h3.4M31.7 30.3h3.4M7.0 35.1h3.4M-21.9 47.0h3.4M17.9 49.4h3.4M28.9 49.4h3.4M7.0 54.1h3.4M15.2 63.7h3.4M1.4 68.4h3.4M101.8 70.8h3.4M-9.6 73.2h3.4M42.7 77.9h3.4M79.8 80.3h3.4M75.7 82.7h3.4M89.5 82.7h3.4M16.6 85.1h3.4M-6.8 92.2h3.4M17.9 92.2h3.4M81.2 101.7h3.4"/><path stroke="#66c1a6" d="M59.2 -55.3h3.4M13.8 -43.4h3.4M52.3 -43.4h3.4M16.6 -38.7h3.4M34.5 -36.3h3.4M-21.9 -24.4h3.4M35.8 -14.9h3.4M78.5 -7.7h3.4M-19.2 -5.4h3.4M34.5 -3.0h3.4M-5.4 -0.6h3.4M33.1 -0.6h3.4M38.6 -0.6h3.4M59.2 1.8h3.4M62.0 6.5h3.4M38.6 8.9h3.4M107.3 13.7h3.4M15.2 16.1h3.4M108.7 16.1h3.4M86.7 35.1h3.4M-24.7 37.5h3.4M-16.4 37.5h3.4M-10.9 47.0h3.4M-20.6 54.1h3.4M-10.9 56.5h3.4M26.2 58.9h3.4M-13.7 66.0h3.4M33.1 66.0h3.4M12.4 68.4h3.4M13.8 70.8h3.4M15.2 73.2h3.4M-4.0 77.9h3.4M45.5 77.9h3.4M28.9 82.7h3.4M40.0 87.5h3.4M82.6 89.8h3.4M45.5 97.0h3.4M67.5 106.5h3.4M82.6 108.9h3.4M90.8 108.9h3.4"/><path stroke="#8dd1a4" d="M20.7 -64.9h3.4M16.6 -53.0h3.4M84.0 -50.6h3.4M33.1 -38.7h3.4M35.8 -29.2h3.4M66.1 -29.2h3.4M45.5 -26.8h3.4M38.6 -19.6h3.4M79.8 -19.6h3.4M-28.8 -17.3h3.4M40.0 -17.3h3.4M56.5 -17.3h3.4M62.0 -17.3h3.4M41.3 -14.9h3.4M33.1 -10.1h3.4M63.3 -10.1h3.4M-21.9 -0.6h3.4M96.3 13.7h3.4M-8.2 18.4h3.4M16.6 18.4h3.4M-15.1 30.3h3.4M86.7 30.3h3.4M41.3 37.5h3.4M-5.4 42.2h3.4M13.8 47.0h3.4M19.3 47.0h6.1M-8.2 51.8h3.4M19.3 56.5h6.1M97.7 58.9h3.4M20.7 63.7h3.4M8.3 66.0h3.4M28.9 68.4h3.4M11.1 85.1h3.4M19.3 85.1h3.4M107.3 99.4h3.4M93.6 104.1h3.4"/><path stroke="#f1faaa" d="M31.7 -50.6h3.4M49.6 -38.7h3.4M56.5 -36.3h3.4M46.8 -29.2h3.4M52.3 -29.2h3.4M51.0 -26.8h3.4M62.0 -26.8h3.4M57.8 -19.6h3.4M53.7 -17.3h3.4M40.0 -12.5h6.1M53.7 -12.5h3.4M57.8 -0.6h3.4M77.1 -0.6h3.4M84.0 16.1h3.4M86.7 20.8h3.4M93.6 23.2h3.4M104.6 23.2h3.4M40.0 30.3h3.4M-5.4 32.7h3.4M11.1 32.7h3.4M-21.9 42.2h3.4M-10.9 42.2h3.4M35.8 42.2h3.4M-15.1 44.6h3.4M1.4 49.4h3.4M23.4 49.4h3.4M-24.7 56.5h3.4M-2.7 56.5h3.4M16.6 61.3h3.4M-8.2 66.0h3.4M-2.7 66.0h3.4M20.7 68.4h3.4M-27.4 70.8h3.4M30.3 70.8h3.4M-15.1 77.9h3.4M-10.9 80.3h3.4"/><path stroke="#7bcaa5" d="M45.5 -36.3h3.4M49.6 -33.9h3.4M9.7 -22.0h3.4M48.2 -22.0h3.4M56.5 -22.0h3.4M46.8 -14.9h3.4M40.0 -7.7h3.4M24.8 -0.6h3.4M44.1 -0.6h3.4M11.1 4.2h3.4M55.1 4.2h3.4M5.6 8.9h3.4M-4.0 16.1h3.4M89.5 20.8h3.4M19.3 28.0h3.4M51.0 30.3h3.4M13.8 32.7h3.4M17.9 35.1h3.4M8.3 42.2h3.4M41.3 51.8h3.4M7.0 58.9h3.4M77.1 66.0h3.4M-26.1 68.4h3.4M4.2 68.4h3.4M4.2 73.2h3.4M-13.7 75.6h3.4M107.3 75.6h3.4M23.4 82.7h3.4M37.2 87.5h3.4M2.8 89.8h3.4M33.1 89.8h3.4M38.6 89.8h3.4M31.7 97.0h3.4M95.0 97.0h3.4M16.6 99.4h3.4"/><path stroke="#bbe3a1" d="M34.5 -55.3h3.4M57.8 -48.2h3.4M53.7 -45.8h3.4M46.8 -43.4h3.4M55.1 -43.4h3.4M42.7 -36.3h3.4M63.3 -33.9h3.4M40.0 -31.5h3.4M33.1 -29.2h3.4M38.6 -24.4h3.4M62.0 -22.0h3.4M52.3 -14.9h3.4M57.8 -5.4h3.4M53.7 -3.0h3.4M86.7 16.1h3.4M88.1 18.4h3.4M97.7 20.8h3.4M35.8 23.2h3.4M101.8 23.2h3.4M19.3 37.5h3.4M-15.1 39.9h3.4M24.8 42.2h3.4M31.7 49.4h3.4M22.1 51.8h3.4M11.1 56.5h3.4M-21.9 61.3h3.4M5.6 66.0h3.4M-1.3 68.4h3.4M33.1 70.8h3.4M12.4 73.2h3.4M26.2 87.5h3.4M34.5 101.7h3.4"/><path stroke="#5bb5aa" d="M60.6 -62.5h3.4M56.5 -60.1h3.4M86.7 -50.6h3.4M22.1 -43.4h3.4M37.2 -41.1h3.4M42.7 -22.0h3.4M-23.3 -12.5h3.4M7.0 -12.5h3.4M22.1 -10.1h3.4M75.7 -3.0h3.4M-8.2 -0.6h3.4M-28.8 6.5h3.4M108.7 6.5h3.4M13.8 13.7h3.4M44.1 23.2h3.4M99.1 32.7h6.1M11.1 37.5h3.4M-20.6 39.9h3.4M27.6 42.2h3.4M-2.7 51.8h3.4M30.3 51.8h3.4M37.2 54.1h3.4M74.3 61.3h3.4M46.8 75.6h3.4M107.3 80.3h3.4M4.2 87.5h3.4M16.6 89.8h6.1M101.8 99.4h6.1M23.4 101.7h3.4M20.7 106.5h3.4M84.0 111.3h3.4"/><path stroke="#d6ef9b" d="M53.7 -60.1h3.4M37.2 -45.8h3.4M48.2 -45.8h3.4M59.2 -41.1h3.4M52.3 -38.7h3.4M37.2 -36.3h3.4M55.1 -33.9h3.4M44.1 -24.4h6.1M60.6 -24.4h3.4M70.2 -17.3h3.4M55.1 -14.9h3.4M44.1 -5.4h3.4M52.3 -5.4h3.4M51.0 -3.0h3.4M62.0 -3.0h3.4M106.0 -3.0h3.4M17.9 1.8h3.4M86.7 6.5h3.4M30.3 13.7h3.4M12.4 16.1h3.4M22.1 28.0h3.4M81.2 35.1h3.4M56.5 39.9h3.4M27.6 47.0h3.4M11.1 51.8h3.4M63.3 66.0h3.4M41.3 75.6h3.4M-20.6 77.9h3.4M4.2 101.7h3.4"/><path stroke="#addea3" d="M35.8 -62.5h3.4M41.3 -57.7h3.4M23.4 -55.3h3.4M48.2 -41.1h3.4M12.4 -36.3h3.4M55.1 -19.6h3.4M49.6 -0.6h3.4M34.5 1.8h3.4M37.2 6.5h3.4M62.0 16.1h3.4M100.5 16.1h3.4M15.2 25.6h3.4M23.4 25.6h3.4M28.9 30.3h3.4M30.3 32.7h3.4M-9.6 39.9h3.4M31.7 54.1h3.4M1.4 63.7h3.4M-21.9 70.8h3.4M30.3 80.3h3.4M55.1 85.1h3.4"/><path stroke="#e5f59a" d="M44.1 -62.5h3.4M59.2 -36.3h3.4M42.7 -26.8h3.4M77.1 -5.4h3.4M-30.2 -0.6h3.4M41.3 -0.6h3.4M56.5 1.8h3.4M62.0 1.8h3.4M48.2 6.5h3.4M30.3 23.2h3.4M99.1 23.2h3.4M30.3 28.0h3.4M88.1 37.5h3.4M0.1 47.0h3.4M71.6 56.5h3.4M9.7 63.7h3.4M17.9 87.5h3.4"/><path stroke="#fafcb6" d="M60.6 -57.7h3.4M49.6 -19.6h3.4M44.1 -10.1h3.4M53.7 -7.7h3.4M53.7 1.8h3.4M-24.7 47.0h3.4M19.3 51.8h3.4M-6.8 54.1h3.4M24.8 56.5h3.4M15.2 68.4h3.4"/><path stroke="#fff2aa" d="M41.3 -43.4h3.4M41.3 -29.2h3.4M42.7 -17.3h3.4M28.9 -12.5h3.4M33.1 37.5h3.4M13.8 61.3h3.4M-2.7 75.6h3.4"/><path stroke="#feeb9d" d="M62.0 -31.5h3.4M60.6 -29.2h3.4M48.2 -26.8h3.4M41.3 -19.6h3.4M41.3 -10.1h3.4M27.6 61.3h3.4"/><path stroke="#fcab60" d="M66.1 4.2h3.4M-17.8 44.6h3.4M-16.4 47.0h3.4M8.3 47.0h3.4M4.2 92.2h3.4"/><path stroke="#f06b47" d="M49.6 -24.4h3.4M55.1 -24.4h3.4M64.7 -7.7h3.4M42.7 -3.0h3.4"/></g>
<use href="#holes"/>
</g>
<g transform="translate(237.2,331.3)">
<use href="#dots" fill="#5e4fa2"/>
<g fill="none" stroke-width="3"><path stroke="#5e4fa2" d="M1.4 -64.9h41.9M-8.2 -62.5h77.6M99.1 -62.5h3.4M-12.3 -60.1h116.1M-24.7 -57.7h129.8M-26.1 -55.3h135.3M-24.7 -53.0h138.1M-26.1 -50.6h138.1M-24.7 -48.2h135.3M-26.1 -45.8h138.1M-30.2 -43.4h140.8M-34.3 -41.1h146.3M-35.7 -38.7h146.3M-37.0 -36.3h149.1M-38.4 -33.9h149.1M-39.8 -31.5h151.8M-38.4 -29.2h149.1M-39.8 -26.8h151.8M-38.4 -24.4h149.1M-37.0 -22.0h149.1M-35.7 -19.6h149.1M-37.0 -17.3h149.1M-35.7 -14.9h146.3M-37.0 -12.5h149.1M-35.7 -10.1h146.3M-34.3 -7.7h146.3M-32.9 -5.4h143.6M-31.6 -3.0h143.6M-30.2 -0.6h140.8M-31.6 1.8h143.6M-30.2 4.2h140.8M-28.8 6.5h140.8M-30.2 8.9h143.6M-31.6 11.3h143.6M-30.2 13.7h140.8M-31.6 16.1h143.6M-30.2 18.4h140.8M-31.6 20.8h143.6M-32.9 23.2h143.6M-34.3 25.6h146.3M-32.9 28.0h143.6M-31.6 30.3h140.8M-30.2 32.7h140.8M-28.8 35.1h138.1M-30.2 37.5h140.8M-28.8 39.9h138.1M-27.4 42.2h138.1M-28.8 44.6h138.1M-27.4 47.0h138.1M-28.8 49.4h138.1M-27.4 51.8h138.1M-26.1 54.1h138.1M-24.7 56.5h135.3M-26.1 58.9h138.1M-27.4 61.3h138.1M-28.8 63.7h140.8M-30.2 66.0h143.6M-28.8 68.4h140.8M-27.4 70.8h140.8M-26.1 73.2h138.1M-24.7 75.6h135.3M-20.6 77.9h132.6M-19.2 80.3h129.8M-17.8 82.7h129.8M-16.4 85.1h127.1M-15.1 87.5h127.1M-13.7 89.8h124.3M-15.1 92.2h127.1M-13.7 94.6h124.3M-15.1 97.0h127.1M-13.7 99.4h124.3M-15.1 101.7h127.1M-13.7 104.1h124.3M-15.1 106.5h127.1M-10.9 108.9h121.6M-6.8 111.3h96.8M2.8 113.6h72.1M17.9 116.0h3.4"/></g>
<circle cx="38.7" cy="-56.1" r="1.3" fill="#e2da9c"/>
<circle cx="49.5" cy="-56.1" r="1.3" fill="#e2da9c"/>
<circle cx="45.7" cy="-48.3" r="1.3" fill="#e2da9c"/>
<circle cx="50.3" cy="-51.4" r="1.3" fill="#e2da9c"/>
<circle cx="58.1" cy="-50.7" r="1.3" fill="#e2da9c"/>
<circle cx="68.2" cy="-53.0" r="1.3" fill="#e2da9c"/>
<circle cx="73.6" cy="-57.7" r="1.3" fill="#e2da9c"/>
<circle cx="84.5" cy="-53.0" r="1.3" fill="#e2da9c"/>
<circle cx="35.6" cy="-46.0" r="1.3" fill="#e2da9c"/>
<circle cx="74.4" cy="-36.7" r="1.3" fill="#e2da9c"/>
<circle cx="30.9" cy="-32.0" r="1.3" fill="#e2da9c"/>
<circle cx="38.7" cy="-31.3" r="1.3" fill="#e2da9c"/>
<circle cx="59.6" cy="-31.3" r="1.3" fill="#e2da9c"/>
<circle cx="29.4" cy="-25.0" r="1.3" fill="#e2da9c"/>
<circle cx="36.3" cy="-17.3" r="1.3" fill="#e2da9c"/>
<circle cx="30.1" cy="-13.4" r="1.3" fill="#e2da9c"/>
<circle cx="44.1" cy="-12.6" r="1.3" fill="#e2da9c"/>
<circle cx="58.1" cy="-4.1" r="1.3" fill="#e2da9c"/>
<circle cx="71.0" cy="18.0" r="1.3" fill="#e2da9c"/>
<circle cx="99.0" cy="29.7" r="1.3" fill="#e2da9c"/>
<circle cx="104.8" cy="29.7" r="1.3" fill="#e2da9c"/>
<circle cx="105.9" cy="34.4" r="1.3" fill="#e2da9c"/>
<circle cx="76.8" cy="35.5" r="1.3" fill="#e2da9c"/>
<circle cx="86.1" cy="34.4" r="1.3" fill="#e2da9c"/>
<circle cx="87.3" cy="41.4" r="1.3" fill="#e2da9c"/>
<circle cx="78.0" cy="43.7" r="1.3" fill="#e2da9c"/>
<circle cx="71.0" cy="46.0" r="1.3" fill="#e2da9c"/>
<circle cx="86.1" cy="46.0" r="1.3" fill="#e2da9c"/>
<circle cx="102.4" cy="63.5" r="1.3" fill="#e2da9c"/>
<circle cx="104.8" cy="67.0" r="1.3" fill="#e2da9c"/>
<circle cx="100.1" cy="70.5" r="1.3" fill="#e2da9c"/>
<circle cx="80.3" cy="67.0" r="1.3" fill="#e2da9c"/>
<circle cx="74.5" cy="71.7" r="1.3" fill="#e2da9c"/>
<circle cx="75.6" cy="89.2" r="1.3" fill="#e2da9c"/>
<circle cx="81.5" cy="89.2" r="1.3" fill="#e2da9c"/>
<circle cx="85.0" cy="98.5" r="1.3" fill="#e2da9c"/>
<circle cx="78.0" cy="105.5" r="1.3" fill="#e2da9c"/>
<circle cx="-23.2" cy="13.9" r="1.3" fill="#e2da9c"/>
<circle cx="-9.3" cy="17.7" r="1.3" fill="#e2da9c"/>
<circle cx="-19.4" cy="30.3" r="1.3" fill="#e2da9c"/>
<circle cx="-19.4" cy="39.1" r="1.3" fill="#e2da9c"/>
<circle cx="-8.0" cy="39.1" r="1.3" fill="#e2da9c"/>
<circle cx="4.6" cy="45.4" r="1.3" fill="#e2da9c"/>
<circle cx="10.9" cy="51.7" r="1.3" fill="#e2da9c"/>
<circle cx="23.5" cy="29.0" r="1.3" fill="#e2da9c"/>
<circle cx="26.1" cy="10.1" r="1.3" fill="#e2da9c"/>
<circle cx="33.6" cy="10.1" r="1.3" fill="#e2da9c"/>
<circle cx="47.5" cy="25.2" r="1.3" fill="#e2da9c"/>
<circle cx="70.3" cy="17.7" r="1.3" fill="#e2da9c"/>
<circle cx="70.3" cy="45.4" r="1.3" fill="#e2da9c"/>
<circle cx="58.9" cy="55.5" r="1.3" fill="#e2da9c"/>
<circle cx="56.4" cy="60.6" r="1.3" fill="#e2da9c"/>
<circle cx="32.4" cy="65.7" r="1.3" fill="#e2da9c"/>
<circle cx="37.4" cy="79.5" r="1.3" fill="#e2da9c"/>
<circle cx="13.4" cy="82.1" r="1.3" fill="#e2da9c"/>
<circle cx="-1.7" cy="102.3" r="1.3" fill="#e2da9c"/>
<circle cx="30.6" cy="-32.6" r="1.3" fill="#e2da9c"/>
<circle cx="29.7" cy="-25.6" r="1.3" fill="#e2da9c"/>
<circle cx="23.6" cy="-6.3" r="1.3" fill="#e2da9c"/>
<circle cx="21.0" cy="-2.0" r="1.3" fill="#e2da9c"/>
<circle cx="37.6" cy="0.7" r="1.3" fill="#e2da9c"/>
<circle cx="40.2" cy="5.0" r="1.3" fill="#e2da9c"/>
<circle cx="24.5" cy="11.1" r="1.3" fill="#e2da9c"/>
<circle cx="32.3" cy="11.1" r="1.3" fill="#e2da9c"/>
<circle cx="-9.6" cy="17.2" r="1.3" fill="#e2da9c"/>
<circle cx="-27.0" cy="24.0" r="1.2" fill="#e07060"/>
<path d="M43.8,-3.3 L41.8,2.7 L40.8,9.7" stroke="#a8d59e" stroke-width="1.6" fill="none" stroke-linecap="round"/>
<use href="#holes"/>
</g>
<g transform="translate(402.1,330.4)">
<use href="#dots" fill="#5e4fa2"/>
<g fill="none" stroke-width="3"><path stroke="#5e4fa2" d="M1.4 -64.9h17.1M-8.2 -62.5h25.4M99.1 -62.5h3.4M-12.3 -60.1h19.9M84.0 -60.1h19.9M-24.7 -57.7h28.1M5.6 -57.7h8.8M85.3 -57.7h19.9M-26.1 -55.3h39.1M84.0 -55.3h6.1M95.0 -55.3h14.3M-24.7 -53.0h3.4M-16.4 -53.0h25.4M11.1 -53.0h3.4M82.6 -53.0h30.9M-26.1 -50.6h8.8M-15.1 -50.6h28.1M81.2 -50.6h14.3M97.7 -50.6h6.1M106.0 -50.6h6.1M-24.7 -48.2h17.1M-5.4 -48.2h17.1M82.6 -48.2h14.3M99.1 -48.2h11.6M-26.1 -45.8h36.4M51.0 -45.8h3.4M81.2 -45.8h30.9M-30.2 -43.4h3.4M-24.7 -43.4h33.6M79.8 -43.4h6.1M88.1 -43.4h8.8M99.1 -43.4h11.6M-34.3 -41.1h19.9M-12.3 -41.1h19.9M81.2 -41.1h17.1M100.5 -41.1h8.8M-35.7 -38.7h41.9M77.1 -38.7h30.9M-37.0 -36.3h33.6M75.7 -36.3h6.1M84.0 -36.3h25.4M-38.4 -33.9h41.9M74.3 -33.9h3.4M79.8 -33.9h14.3M96.3 -33.9h14.3M-39.8 -31.5h39.1M26.2 -31.5h6.1M73.0 -31.5h3.4M78.5 -31.5h19.9M100.5 -31.5h3.4M106.0 -31.5h6.1M-38.4 -29.2h33.6M60.6 -29.2h3.4M71.6 -29.2h19.9M93.6 -29.2h17.1M-39.8 -26.8h11.6M-26.1 -26.8h19.9M67.5 -26.8h11.6M81.2 -26.8h17.1M103.2 -26.8h8.8M-38.4 -24.4h19.9M-16.4 -24.4h6.1M66.1 -24.4h6.1M74.3 -24.4h36.4M-37.0 -22.0h22.6M64.7 -22.0h17.1M84.0 -22.0h28.1M-35.7 -19.6h17.1M60.6 -19.6h14.3M77.1 -19.6h3.4M82.6 -19.6h17.1M101.8 -19.6h11.6M-37.0 -17.3h17.1M59.2 -17.3h52.9M-35.7 -14.9h11.6M55.1 -14.9h33.6M90.8 -14.9h19.9M-37.0 -12.5h8.8M23.4 -12.5h3.4M53.7 -12.5h58.4M-35.7 -10.1h6.1M52.3 -10.1h8.8M63.3 -10.1h47.4M-34.3 -7.7h3.4M51.0 -7.7h55.6M108.7 -7.7h3.4M-8.2 -5.4h3.4M46.8 -5.4h50.1M99.1 -5.4h11.6M45.5 -3.0h66.6M46.8 -0.6h63.9M45.5 1.8h66.6M44.1 4.2h66.6M42.7 6.5h69.3M41.3 8.9h33.6M77.1 8.9h6.1M85.3 8.9h28.1M42.7 11.3h11.6M56.5 11.3h14.3M73.0 11.3h6.1M81.2 11.3h30.9M41.3 13.7h41.9M85.3 13.7h25.4M40.0 16.1h17.1M59.2 16.1h44.6M106.0 16.1h6.1M41.3 18.4h6.1M49.6 18.4h6.1M57.8 18.4h17.1M77.1 18.4h33.6M7.0 20.8h3.4M37.2 20.8h74.8M35.8 23.2h47.4M88.1 23.2h22.6M-34.3 25.6h3.4M34.5 25.6h8.8M45.5 25.6h66.6M-32.9 28.0h6.1M30.3 28.0h17.1M49.6 28.0h61.1M-31.6 30.3h6.1M12.4 30.3h44.6M59.2 30.3h50.1M-30.2 32.7h8.8M-19.2 32.7h33.6M16.6 32.7h22.6M41.3 32.7h22.6M66.1 32.7h44.6M-28.8 35.1h22.6M-4.0 35.1h72.1M70.2 35.1h39.1M-30.2 37.5h36.4M35.8 37.5h8.8M46.8 37.5h63.9M-28.8 39.9h30.9M40.0 39.9h69.3M-27.4 42.2h6.1M-19.2 42.2h19.9M41.3 42.2h17.1M60.6 42.2h50.1M-28.8 44.6h28.1M42.7 44.6h66.6M-24.7 47.0h22.6M44.1 47.0h25.4M71.6 47.0h39.1M-28.8 49.4h25.4M42.7 49.4h50.1M95.0 49.4h14.3M-27.4 51.8h25.4M44.1 51.8h14.3M60.6 51.8h17.1M79.8 51.8h30.9M-26.1 54.1h22.6M45.5 54.1h33.6M81.2 54.1h30.9M-24.7 56.5h6.1M-16.4 56.5h11.6M46.8 56.5h22.6M71.6 56.5h39.1M-23.3 58.9h3.4M-17.8 58.9h14.3M45.5 58.9h8.8M56.5 58.9h28.1M103.2 58.9h8.8M-27.4 61.3h25.4M44.1 61.3h30.9M-28.8 63.7h22.6M-4.0 63.7h3.4M42.7 63.7h30.9M-30.2 66.0h30.9M44.1 66.0h25.4M-28.8 68.4h8.8M-17.8 68.4h19.9M40.0 68.4h25.4M-27.4 70.8h14.3M-10.9 70.8h3.4M-5.4 70.8h8.8M35.8 70.8h33.6M-26.1 73.2h22.6M-1.3 73.2h6.1M7.0 73.2h6.1M15.2 73.2h30.9M48.2 73.2h19.9M-24.7 75.6h6.1M-10.9 75.6h19.9M11.1 75.6h41.9M55.1 75.6h8.8M66.1 75.6h3.4M-20.6 77.9h8.8M-9.6 77.9h19.9M15.2 77.9h17.1M34.5 77.9h25.4M62.0 77.9h6.1M-19.2 80.3h33.6M16.6 80.3h52.9M-17.8 82.7h3.4M-12.3 82.7h8.8M-1.3 82.7h19.9M20.7 82.7h47.4M-16.4 85.1h8.8M-5.4 85.1h14.3M13.8 85.1h28.1M44.1 85.1h19.9M66.1 85.1h3.4M-15.1 87.5h8.8M-1.3 87.5h63.9M64.7 87.5h3.4M-13.7 89.8h22.6M11.1 89.8h19.9M33.1 89.8h22.6M57.8 89.8h11.6M-15.1 92.2h19.9M7.0 92.2h3.4M12.4 92.2h25.4M40.0 92.2h8.8M62.0 92.2h3.4M67.5 92.2h6.1M-13.7 94.6h6.1M-5.4 94.6h3.4M0.1 94.6h6.1M8.3 94.6h25.4M35.8 94.6h19.9M57.8 94.6h6.1M68.8 94.6h8.8M-12.3 97.0h6.1M-4.0 97.0h41.9M40.0 97.0h11.6M53.7 97.0h3.4M59.2 97.0h52.9M-13.7 99.4h33.6M22.1 99.4h25.4M52.3 99.4h30.9M85.3 99.4h25.4M-15.1 101.7h83.1M70.2 101.7h41.9M-13.7 104.1h6.1M-5.4 104.1h94.1M90.8 104.1h19.9M-15.1 106.5h85.8M73.0 106.5h39.1M-10.9 108.9h19.9M11.1 108.9h63.9M77.1 108.9h33.6M-6.8 111.3h33.6M28.9 111.3h61.1M2.8 113.6h6.1M11.1 113.6h36.4M49.6 113.6h25.4M17.9 116.0h3.4"/><path stroke="#5d50a2" d="M17.9 -64.9h3.4M16.6 -62.5h3.4M81.2 -60.1h3.4M13.8 -57.7h3.4M79.8 -57.7h3.4M12.4 -55.3h6.1M81.2 -55.3h3.4M13.8 -53.0h3.4M12.4 -50.6h3.4M9.7 -45.8h3.4M78.5 -45.8h3.4M8.3 -43.4h3.4M7.0 -41.1h3.4M75.7 -41.1h3.4M5.6 -38.7h3.4M74.3 -38.7h3.4M4.2 -36.3h3.4M2.8 -33.9h3.4M68.8 -33.9h6.1M1.4 -31.5h3.4M-5.4 -29.2h6.1M68.8 -29.2h3.4M-6.8 -26.8h3.4M64.7 -26.8h3.4M-10.9 -24.4h3.4M63.3 -24.4h3.4M-15.1 -22.0h6.1M59.2 -22.0h6.1M-19.2 -19.6h6.1M27.6 -19.6h3.4M57.8 -19.6h3.4M-20.6 -17.3h3.4M56.5 -17.3h3.4M-24.7 -14.9h6.1M52.3 -14.9h3.4M-28.8 -12.5h6.1M51.0 -12.5h3.4M-30.2 -10.1h3.4M46.8 -10.1h6.1M-31.6 -7.7h3.4M45.5 -7.7h6.1M-32.9 -5.4h3.4M44.1 -5.4h3.4M42.7 -3.0h3.4M41.3 -0.6h6.1M42.7 1.8h3.4M41.3 4.2h3.4M40.0 6.5h3.4M38.6 8.9h3.4M40.0 11.3h3.4M38.6 13.7h3.4M37.2 16.1h3.4M35.8 18.4h3.4M34.5 20.8h3.4M-32.9 23.2h3.4M33.1 23.2h3.4M-31.6 25.6h6.1M28.9 25.6h6.1M-27.4 28.0h6.1M19.3 28.0h11.6M-23.3 30.3h36.4M8.3 37.5h25.4M1.4 39.9h6.1M34.5 39.9h6.1M0.1 42.2h3.4M38.6 42.2h3.4M40.0 44.6h3.4M41.3 47.0h3.4M-4.0 49.4h3.4M40.0 49.4h3.4M-2.7 51.8h3.4M41.3 51.8h3.4M-4.0 54.1h3.4M42.7 54.1h3.4M-2.7 56.5h3.4M41.3 56.5h3.4M-4.0 58.9h3.4M40.0 58.9h6.1M84.0 58.9h19.9M-2.7 61.3h3.4M41.3 61.3h3.4M77.1 61.3h8.8M104.6 61.3h6.1M-1.3 63.7h3.4M40.0 63.7h3.4M73.0 63.7h3.4M0.1 66.0h3.4M38.6 66.0h3.4M68.8 66.0h6.1M1.4 68.4h3.4M34.5 68.4h6.1M70.2 68.4h3.4M5.6 70.8h30.9M68.8 70.8h3.4M67.5 73.2h3.4M67.5 77.9h3.4M68.8 80.3h3.4M67.5 82.7h3.4M68.8 85.1h3.4M70.2 87.5h3.4M73.0 92.2h6.1M77.1 94.6h33.6"/><path stroke="#5c51a3" d="M19.3 -62.5h3.4M17.9 -60.1h3.4M78.5 -60.1h3.4M16.6 -57.7h3.4M78.5 -55.3h3.4M77.1 -53.0h3.4M15.2 -50.6h3.4M77.1 -48.2h3.4M75.7 -45.8h3.4M11.1 -43.4h3.4M74.3 -43.4h3.4M9.7 -41.1h3.4M73.0 -41.1h3.4M8.3 -38.7h3.4M71.6 -38.7h3.4M70.2 -36.3h3.4M5.6 -33.9h3.4M4.2 -31.5h3.4M67.5 -31.5h3.4M0.1 -29.2h3.4M63.3 -29.2h3.4M-4.0 -26.8h3.4M62.0 -26.8h3.4M-8.2 -24.4h6.1M60.6 -24.4h3.4M-9.6 -22.0h3.4M56.5 -22.0h3.4M-13.7 -19.6h3.4M55.1 -19.6h3.4M-17.8 -17.3h3.4M53.7 -17.3h3.4M-19.2 -14.9h3.4M49.6 -14.9h3.4M-23.3 -12.5h3.4M48.2 -12.5h3.4M-27.4 -10.1h3.4M-28.8 -7.7h3.4M-30.2 -5.4h3.4M41.3 -5.4h3.4M-31.6 -3.0h3.4M40.0 1.8h3.4M38.6 4.2h3.4M-31.6 11.3h3.4M37.2 11.3h3.4M35.8 13.7h3.4M-31.6 16.1h3.4M34.5 16.1h3.4M-31.6 20.8h3.4M-30.2 23.2h3.4M30.3 23.2h3.4M-26.1 25.6h3.4M23.4 25.6h6.1M-21.9 28.0h41.9M7.0 39.9h28.1M2.8 42.2h3.4M35.8 42.2h3.4M1.4 44.6h3.4M37.2 44.6h3.4M0.1 47.0h3.4M38.6 47.0h3.4M-1.3 49.4h3.4M38.6 51.8h3.4M-1.3 54.1h3.4M40.0 54.1h3.4M38.6 56.5h3.4M-1.3 58.9h3.4M0.1 61.3h3.4M38.6 61.3h3.4M85.3 61.3h14.3M101.8 61.3h3.4M1.4 63.7h3.4M37.2 63.7h3.4M75.7 63.7h3.4M108.7 63.7h3.4M2.8 66.0h3.4M35.8 66.0h3.4M4.2 68.4h22.6M28.9 68.4h6.1M70.2 73.2h3.4M70.2 77.9h3.4M70.2 82.7h3.4M73.0 87.5h3.4M74.3 89.8h3.4M78.5 92.2h33.6"/><path stroke="#5a53a4" d="M23.4 -64.9h3.4M22.1 -62.5h3.4M20.7 -60.1h3.4M19.3 -57.7h3.4M77.1 -57.7h3.4M17.9 -55.3h3.4M16.6 -53.0h3.4M75.7 -50.6h3.4M74.3 -48.2h3.4M73.0 -45.8h3.4M12.4 -41.1h3.4M11.1 -38.7h3.4M9.7 -36.3h3.4M8.3 -33.9h3.4M66.1 -33.9h3.4M7.0 -31.5h3.4M64.7 -31.5h3.4M2.8 -29.2h3.4M-1.3 -26.8h3.4M59.2 -26.8h3.4M57.8 -24.4h3.4M-6.8 -22.0h3.4M-10.9 -19.6h3.4M52.3 -19.6h3.4M-15.1 -17.3h3.4M51.0 -17.3h3.4M-16.4 -14.9h3.4M46.8 -14.9h3.4M45.5 -12.5h3.4M-24.7 -10.1h3.4M44.1 -10.1h3.4M42.7 -7.7h3.4M40.0 -3.0h3.4M-30.2 -0.6h3.4M38.6 -0.6h3.4M35.8 8.9h3.4M34.5 11.3h3.4M-30.2 18.4h3.4M33.1 18.4h3.4M-28.8 20.8h3.4M31.7 20.8h3.4M-27.4 23.2h3.4M27.6 23.2h3.4M-23.3 25.6h19.9M-1.3 25.6h11.6M12.4 25.6h11.6M5.6 42.2h6.1M30.3 42.2h6.1M34.5 44.6h3.4M35.8 47.0h3.4M1.4 49.4h3.4M0.1 51.8h3.4M0.1 56.5h3.4M37.2 58.9h3.4M35.8 61.3h3.4M34.5 63.7h3.4M78.5 63.7h6.1M86.7 63.7h6.1M95.0 63.7h6.1M103.2 63.7h6.1M5.6 66.0h6.1M30.3 66.0h6.1M74.3 66.0h3.4M110.1 66.0h3.4M73.0 68.4h3.4M110.1 70.8h3.4M71.6 75.6h3.4M71.6 80.3h3.4M77.1 89.8h3.4M107.3 89.8h3.4"/><path stroke="#5955a5" d="M26.2 -64.9h3.4M75.7 -60.1h3.4M13.8 -48.2h6.1M13.8 -43.4h3.4M71.6 -43.4h3.4M70.2 -41.1h3.4M68.8 -38.7h3.4M67.5 -36.3h3.4M108.7 -36.3h3.4M62.0 -31.5h3.4M5.6 -29.2h6.1M1.4 -26.8h3.4M-2.7 -24.4h3.4M55.1 -24.4h3.4M-4.0 -22.0h3.4M53.7 -22.0h3.4M79.8 -19.6h3.4M-12.3 -17.3h3.4M48.2 -17.3h3.4M88.1 -14.9h3.4M-17.8 -12.5h3.4M42.7 -12.5h3.4M-21.9 -10.1h3.4M41.3 -10.1h3.4M-26.1 -7.7h3.4M40.0 -7.7h3.4M-27.4 -5.4h3.4M38.6 -5.4h3.4M-28.8 -3.0h3.4M-28.8 1.8h3.4M37.2 1.8h3.4M-30.2 4.2h3.4M35.8 4.2h3.4M34.5 6.5h3.4M-30.2 8.9h3.4M-30.2 13.7h3.4M33.1 13.7h3.4M-28.8 16.1h3.4M31.7 16.1h3.4M30.3 18.4h3.4M46.8 18.4h3.4M28.9 20.8h3.4M-24.7 23.2h3.4M24.8 23.2h3.4M63.3 32.7h3.4M11.1 42.2h6.1M19.3 42.2h3.4M24.8 42.2h6.1M4.2 44.6h3.4M2.8 47.0h3.4M35.8 51.8h3.4M1.4 54.1h3.4M35.8 56.5h3.4M1.4 58.9h3.4M4.2 63.7h3.4M11.1 66.0h19.9M77.1 66.0h3.4M107.3 66.0h3.4M75.7 68.4h3.4M74.3 70.8h3.4M73.0 73.2h3.4M-13.7 75.6h3.4M73.0 77.9h3.4M73.0 82.7h3.4M74.3 85.1h3.4M75.7 87.5h3.4M79.8 89.8h14.3M96.3 89.8h11.6M51.0 97.0h3.4"/><path stroke="#5060aa" d="M37.2 -64.9h3.4M30.3 -62.5h3.4M28.9 -60.1h3.4M70.2 -60.1h3.4M70.2 -55.3h3.4M52.3 -53.0h3.4M68.8 -53.0h6.1M79.8 -53.0h3.4M23.4 -50.6h3.4M22.1 -48.2h3.4M20.7 -45.8h3.4M19.3 -43.4h3.4M64.7 -41.1h3.4M19.3 -38.7h3.4M7.0 -36.3h3.4M15.2 -31.5h3.4M13.8 -29.2h3.4M12.4 -26.8h3.4M51.0 -26.8h3.4M56.5 -26.8h3.4M-19.2 -24.4h3.4M8.3 -24.4h3.4M7.0 -22.0h3.4M2.8 -19.6h3.4M-1.3 -17.3h3.4M40.0 -17.3h3.4M-5.4 -14.9h3.4M-9.6 -12.5h3.4M22.1 -10.1h3.4M-21.9 -5.4h3.4M8.3 -5.4h3.4M-23.3 -3.0h3.4M31.7 -3.0h3.4M-24.7 -0.6h3.4M31.7 1.8h3.4M30.3 4.2h3.4M-26.1 6.5h3.4M-26.1 11.3h3.4M28.9 11.3h3.4M70.2 11.3h3.4M-24.7 18.4h3.4M24.8 18.4h3.4M-20.6 20.8h19.9M4.2 20.8h3.4M9.7 20.8h14.3M12.4 49.4h3.4M17.9 49.4h3.4M23.4 49.4h3.4M28.9 49.4h3.4M8.3 51.8h3.4M27.6 51.8h3.4M9.7 54.1h3.4M28.9 54.1h3.4M8.3 56.5h3.4M27.6 56.5h3.4M9.7 58.9h3.4M15.2 58.9h3.4M20.7 58.9h8.8M99.1 61.3h3.4M79.8 70.8h3.4M107.3 75.6h3.4M107.3 80.3h3.4M78.5 82.7h3.4M106.0 82.7h3.4M82.6 85.1h14.3M71.6 89.8h3.4M37.2 97.0h3.4"/><path stroke="#5758a6" d="M28.9 -64.9h3.4M24.8 -62.5h3.4M7.0 -60.1h3.4M23.4 -60.1h3.4M22.1 -57.7h3.4M74.3 -57.7h3.4M20.7 -55.3h3.4M19.3 -53.0h3.4M60.6 -53.0h3.4M71.6 -48.2h3.4M63.3 -43.4h3.4M15.2 -41.1h3.4M13.8 -38.7h3.4M12.4 -36.3h3.4M40.0 -36.3h3.4M64.7 -36.3h3.4M11.1 -33.9h3.4M63.3 -33.9h3.4M9.7 -31.5h3.4M71.6 -24.4h3.4M-1.3 -22.0h3.4M51.0 -22.0h3.4M-8.2 -19.6h6.1M49.6 -19.6h3.4M-9.6 -17.3h3.4M45.5 -17.3h3.4M-13.7 -14.9h3.4M44.1 -14.9h3.4M-19.2 -10.1h3.4M-23.3 -7.7h3.4M-5.4 -0.6h3.4M34.5 1.8h3.4M-23.3 6.5h3.4M33.1 8.9h3.4M5.6 13.7h3.4M-27.4 18.4h3.4M-26.1 20.8h3.4M-21.9 23.2h3.4M5.6 23.2h19.9M67.5 35.1h3.4M9.7 44.6h3.4M31.7 44.6h3.4M5.6 47.0h3.4M33.1 47.0h3.4M34.5 49.4h3.4M2.8 51.8h3.4M34.5 54.1h3.4M2.8 56.5h3.4M34.5 58.9h3.4M33.1 61.3h3.4M7.0 63.7h6.1M28.9 63.7h6.1M79.8 66.0h3.4M85.3 66.0h8.8M96.3 66.0h3.4M101.8 66.0h3.4M108.7 68.4h3.4M-8.2 70.8h3.4M74.3 80.3h3.4M75.7 82.7h3.4M77.1 85.1h3.4M78.5 87.5h3.4M106.0 87.5h6.1M82.6 99.4h3.4"/><path stroke="#4b68ad" d="M38.6 -62.5h3.4M60.6 -62.5h3.4M34.5 -60.1h3.4M64.7 -60.1h3.4M64.7 -55.3h3.4M17.9 -50.6h3.4M28.9 -50.6h3.4M73.0 -50.6h3.4M27.6 -48.2h3.4M62.0 -45.8h3.4M67.5 -45.8h3.4M60.6 -43.4h3.4M66.1 -43.4h3.4M26.2 -41.1h3.4M30.3 -38.7h3.4M55.1 -38.7h3.4M1.4 -36.3h3.4M30.3 -33.9h3.4M52.3 -33.9h3.4M31.7 -31.5h3.4M46.8 -29.2h3.4M40.0 -26.8h6.1M9.7 -17.3h3.4M-10.9 -5.4h3.4M-5.4 -5.4h6.1M11.1 -5.4h3.4M22.1 -5.4h3.4M96.3 -5.4h3.4M-20.6 -3.0h6.1M-6.8 -3.0h3.4M23.4 -3.0h6.1M-21.9 -0.6h3.4M24.8 -0.6h3.4M26.2 1.8h3.4M-21.9 4.2h3.4M-6.8 6.5h3.4M26.2 6.5h3.4M-21.9 8.9h3.4M-2.7 8.9h3.4M24.8 8.9h3.4M26.2 11.3h3.4M-21.9 13.7h3.4M24.8 13.7h3.4M82.6 13.7h3.4M-20.6 16.1h3.4M20.7 16.1h6.1M-13.7 18.4h3.4M-8.2 18.4h30.9M74.3 61.3h3.4M-20.6 68.4h3.4M97.7 73.2h3.4M82.6 75.6h3.4M90.8 75.6h6.1M101.8 75.6h3.4M84.0 77.9h6.1M92.2 77.9h3.4M97.7 77.9h8.8M93.6 80.3h11.6M67.5 101.7h3.4M88.1 104.1h3.4"/><path stroke="#525da8" d="M34.5 -64.9h3.4M24.8 -57.7h3.4M71.6 -57.7h3.4M23.4 -55.3h3.4M22.1 -53.0h3.4M70.2 -50.6h3.4M68.8 -48.2h3.4M12.4 -45.8h3.4M97.7 -41.1h3.4M16.6 -38.7h3.4M63.3 -38.7h3.4M-4.0 -36.3h3.4M15.2 -36.3h3.4M62.0 -36.3h3.4M13.8 -33.9h3.4M33.1 -33.9h3.4M55.1 -33.9h3.4M12.4 -31.5h3.4M11.1 -29.2h3.4M55.1 -29.2h3.4M9.7 -26.8h3.4M53.7 -26.8h3.4M5.6 -24.4h3.4M1.4 -22.0h6.1M48.2 -22.0h3.4M0.1 -19.6h3.4M44.1 -19.6h3.4M-4.0 -17.3h3.4M42.7 -17.3h3.4M-8.2 -14.9h3.4M-12.3 -12.5h3.4M37.2 -12.5h3.4M-16.4 -10.1h3.4M35.8 -10.1h3.4M-20.6 -7.7h3.4M34.5 -7.7h3.4M34.5 -3.0h3.4M33.1 -0.6h3.4M30.3 8.9h3.4M28.9 16.1h3.4M27.6 18.4h3.4M-23.3 20.8h3.4M23.4 20.8h3.4M11.1 47.0h14.3M27.6 47.0h3.4M31.7 49.4h3.4M31.7 54.1h3.4M7.0 58.9h3.4M8.3 61.3h8.8M22.1 61.3h8.8M84.0 68.4h11.6M97.7 68.4h6.1M108.7 73.2h3.4M31.7 77.9h3.4M108.7 82.7h3.4M41.3 85.1h3.4M104.6 85.1h3.4M70.2 106.5h3.4"/><path stroke="#4371b2" d="M2.8 -57.7h3.4M33.1 -57.7h3.4M41.3 -57.7h3.4M49.6 -57.7h6.1M57.8 -57.7h3.4M40.0 -55.3h8.8M51.0 -55.3h3.4M59.2 -55.3h3.4M44.1 -53.0h6.1M57.8 -53.0h3.4M-17.8 -50.6h3.4M34.5 -50.6h6.1M42.7 -50.6h17.1M-8.2 -48.2h3.4M35.8 -48.2h3.4M41.3 -48.2h3.4M46.8 -48.2h8.8M34.5 -45.8h11.6M48.2 -45.8h3.4M53.7 -45.8h3.4M33.1 -43.4h11.6M55.1 -43.4h3.4M28.9 -41.1h8.8M42.7 -41.1h8.8M53.7 -41.1h6.1M24.8 -38.7h3.4M33.1 -38.7h3.4M38.6 -38.7h6.1M49.6 -38.7h3.4M17.9 -36.3h3.4M34.5 -36.3h6.1M42.7 -36.3h6.1M103.2 -31.5h3.4M57.8 -29.2h3.4M28.9 -26.8h3.4M9.7 -12.5h3.4M-31.6 1.8h3.4M4.2 1.8h3.4M-23.3 11.3h3.4M13.8 32.7h3.4M57.8 42.2h3.4M-2.7 47.0h3.4M24.8 47.0h3.4M57.8 51.8h3.4M77.1 51.8h3.4M-19.2 56.5h3.4M44.1 56.5h3.4M93.6 70.8h3.4M74.3 75.6h3.4M104.6 75.6h3.4M9.7 77.9h6.1M-15.1 82.7h3.4M79.8 85.1h3.4M48.2 92.2h3.4M53.7 92.2h3.4M59.2 92.2h3.4M64.7 92.2h3.4M55.1 94.6h3.4"/><path stroke="#555ba7" d="M31.7 -64.9h3.4M73.0 -60.1h3.4M73.0 -55.3h3.4M20.7 -50.6h3.4M19.3 -48.2h3.4M17.9 -45.8h3.4M66.1 -38.7h3.4M59.2 -31.5h3.4M66.1 -29.2h3.4M7.0 -26.8h3.4M2.8 -24.4h3.4M-2.7 -19.6h3.4M46.8 -19.6h3.4M-6.8 -17.3h3.4M-10.9 -14.9h3.4M41.3 -14.9h3.4M-15.1 -12.5h3.4M40.0 -12.5h3.4M-8.2 -10.1h3.4M19.3 -10.1h3.4M38.6 -10.1h3.4M-24.7 -5.4h3.4M35.8 -5.4h3.4M-26.1 -3.0h3.4M-27.4 -0.6h3.4M-27.4 4.2h3.4M33.1 4.2h3.4M-27.4 8.9h3.4M31.7 11.3h3.4M30.3 13.7h3.4M55.1 18.4h3.4M26.2 20.8h3.4M-16.4 23.2h22.6M12.4 44.6h17.1M30.3 47.0h3.4M5.6 51.8h3.4M33.1 51.8h3.4M4.2 54.1h3.4M5.6 56.5h3.4M33.1 56.5h3.4M30.3 61.3h3.4M-6.8 63.7h3.4M12.4 63.7h17.1M99.1 66.0h3.4M78.5 68.4h6.1M106.0 68.4h3.4M77.1 70.8h3.4M12.4 73.2h3.4M75.7 73.2h3.4M107.3 85.1h3.4M81.2 87.5h25.4M8.3 108.9h3.4"/><path stroke="#3f77b5" d="M20.7 -64.9h3.4M35.8 -57.7h3.4M82.6 -57.7h3.4M28.9 -55.3h3.4M53.7 -55.3h3.4M92.2 -55.3h3.4M103.2 -50.6h3.4M45.5 -45.8h3.4M22.1 -43.4h3.4M77.1 -43.4h3.4M62.0 -41.1h3.4M57.8 -38.7h3.4M77.1 -33.9h3.4M45.5 -31.5h3.4M75.7 -31.5h3.4M49.6 -24.4h3.4M17.9 -22.0h3.4M45.5 -22.0h3.4M99.1 -19.6h3.4M24.8 -10.1h3.4M23.4 -7.7h3.4M9.7 -3.0h3.4M-26.1 1.8h3.4M-17.8 1.8h3.4M-28.8 6.5h3.4M-9.6 6.5h3.4M31.7 6.5h3.4M-28.8 11.3h3.4M15.2 11.3h3.4M56.5 16.1h3.4M74.3 18.4h3.4M42.7 25.6h3.4M5.6 37.5h3.4M7.0 54.1h3.4M22.1 56.5h3.4M4.2 58.9h3.4M92.2 63.7h3.4M100.5 63.7h3.4M67.5 68.4h3.4M71.6 70.8h3.4M81.2 73.2h3.4M-19.2 75.6h3.4M52.3 75.6h3.4M-4.0 82.7h3.4M84.0 82.7h3.4M30.3 89.8h3.4M55.1 89.8h3.4M-2.7 94.6h3.4M5.6 94.6h3.4M46.8 113.6h3.4"/><path stroke="#486baf" d="M41.3 -62.5h8.8M55.1 -62.5h3.4M37.2 -60.1h3.4M62.0 -60.1h3.4M63.3 -57.7h3.4M68.8 -57.7h3.4M31.7 -55.3h3.4M56.5 -55.3h3.4M62.0 -55.3h3.4M-21.9 -53.0h3.4M31.7 -50.6h3.4M62.0 -50.6h3.4M78.5 -50.6h3.4M30.3 -48.2h3.4M38.6 -48.2h3.4M60.6 -48.2h3.4M31.7 -45.8h3.4M59.2 -45.8h3.4M27.6 -38.7h3.4M28.9 -36.3h6.1M48.2 -36.3h6.1M49.6 -33.9h3.4M37.2 -31.5h3.4M48.2 -31.5h3.4M35.8 -29.2h6.1M-28.8 -26.8h3.4M97.7 -26.8h3.4M1.4 -12.5h3.4M12.4 -12.5h3.4M0.1 -10.1h3.4M15.2 -7.7h3.4M-12.3 -3.0h3.4M-4.0 -3.0h11.6M12.4 -3.0h11.6M-19.2 -0.6h6.1M19.3 -0.6h3.4M-20.6 1.8h3.4M24.8 4.2h3.4M23.4 6.5h3.4M-20.6 11.3h3.4M23.4 11.3h3.4M-19.2 13.7h3.4M22.1 13.7h3.4M-17.8 16.1h8.8M-4.0 16.1h6.1M4.2 16.1h17.1M85.3 23.2h3.4M-1.3 44.6h3.4M8.3 89.8h3.4"/><path stroke="#476fb0" d="M42.7 -60.1h8.8M53.7 -60.1h8.8M60.6 -57.7h3.4M48.2 -55.3h3.4M33.1 -53.0h3.4M59.2 -50.6h3.4M57.8 -48.2h3.4M68.8 -43.4h3.4M52.3 -38.7h3.4M35.8 -33.9h3.4M40.0 -31.5h3.4M24.8 -29.2h3.4M44.1 -29.2h3.4M31.7 -26.8h3.4M-13.7 -0.6h8.8M-2.7 -0.6h17.1M16.6 -0.6h3.4M-15.1 1.8h6.1M-6.8 1.8h3.4M-1.3 1.8h3.4M-16.4 4.2h3.4M-8.2 4.2h6.1M0.1 4.2h6.1M8.3 4.2h8.8M19.3 4.2h6.1M-17.8 6.5h3.4M-12.3 6.5h3.4M-1.3 6.5h8.8M9.7 6.5h3.4M15.2 6.5h8.8M-10.9 8.9h8.8M0.1 8.9h14.3M19.3 8.9h6.1M74.3 8.9h3.4M-17.8 11.3h6.1M-9.6 11.3h6.1M1.4 11.3h14.3M17.9 11.3h6.1M-16.4 13.7h17.1M2.8 13.7h3.4M8.3 13.7h8.8M19.3 13.7h3.4M30.3 51.8h3.4M31.7 58.9h3.4M53.7 58.9h3.4M104.6 70.8h3.4M56.5 92.2h3.4M-8.2 104.1h3.4M8.3 113.6h3.4"/><path stroke="#3b7cb7" d="M46.8 -57.7h3.4M55.1 -57.7h3.4M75.7 -55.3h3.4M-19.2 -53.0h3.4M8.3 -53.0h3.4M95.0 -50.6h3.4M63.3 -48.2h6.1M27.6 -43.4h3.4M96.3 -43.4h3.4M-15.1 -41.1h3.4M59.2 -41.1h3.4M-1.3 -36.3h3.4M-1.3 -31.5h3.4M51.0 -31.5h3.4M70.2 -31.5h3.4M97.7 -31.5h3.4M16.6 -29.2h3.4M33.1 -29.2h3.4M74.3 -19.6h3.4M0.1 -14.9h3.4M30.3 -14.9h3.4M-20.6 -12.5h3.4M-4.0 -12.5h3.4M-13.7 -10.1h3.4M20.7 -7.7h3.4M31.7 -7.7h3.4M-19.2 4.2h3.4M-2.7 4.2h3.4M16.6 4.2h3.4M-20.6 6.5h3.4M9.7 25.6h3.4M46.8 28.0h3.4M38.6 32.7h3.4M-21.9 42.2h3.4M4.2 49.4h3.4M84.0 63.7h3.4M95.0 68.4h3.4M-4.0 73.2h3.4M-16.4 75.6h3.4M8.3 75.6h3.4M-12.3 77.9h3.4M-8.2 85.1h3.4M99.1 85.1h3.4M67.5 87.5h3.4M68.8 89.8h3.4M9.7 92.2h3.4M51.0 92.2h3.4M-15.1 97.0h3.4"/><path stroke="#4c62ab" d="M33.1 -62.5h3.4M31.7 -60.1h3.4M67.5 -60.1h3.4M67.5 -55.3h3.4M67.5 -50.6h3.4M64.7 -45.8h3.4M20.7 -41.1h3.4M22.1 -38.7h3.4M60.6 -38.7h3.4M22.1 -33.9h3.4M17.9 -31.5h3.4M23.4 -31.5h3.4M53.7 -31.5h3.4M19.3 -29.2h6.1M52.3 -29.2h3.4M15.2 -26.8h3.4M23.4 -26.8h3.4M48.2 -26.8h3.4M11.1 -24.4h17.1M46.8 -24.4h3.4M9.7 -22.0h6.1M20.7 -22.0h8.8M31.7 -22.0h6.1M40.0 -22.0h6.1M5.6 -19.6h3.4M11.1 -19.6h8.8M22.1 -19.6h6.1M30.3 -19.6h3.4M35.8 -19.6h6.1M1.4 -17.3h8.8M12.4 -17.3h6.1M26.2 -17.3h3.4M31.7 -17.3h6.1M-2.7 -14.9h3.4M2.8 -14.9h17.1M22.1 -14.9h8.8M35.8 -14.9h3.4M4.2 -12.5h6.1M15.2 -12.5h8.8M26.2 -12.5h6.1M34.5 -12.5h3.4M-5.4 -10.1h6.1M30.3 -10.1h3.4M-15.1 -7.7h6.1M28.9 -3.0h3.4M30.3 -0.6h3.4M28.9 1.8h3.4"/><path stroke="#4f64ab" d="M40.0 -64.9h3.4M9.7 -60.1h3.4M74.3 -53.0h3.4M-27.4 -43.4h3.4M46.8 -38.7h3.4M33.1 -19.6h3.4M-19.2 -5.4h3.4M-23.3 1.8h3.4M-24.7 4.2h3.4M28.9 6.5h3.4M37.2 6.5h3.4M-24.7 8.9h3.4M16.6 8.9h3.4M53.7 11.3h3.4M-24.7 13.7h3.4M27.6 13.7h3.4M-23.3 16.1h3.4M26.2 16.1h3.4M-21.9 18.4h3.4M11.1 51.8h6.1M22.1 51.8h6.1M12.4 54.1h17.1M78.5 54.1h3.4M-5.4 56.5h3.4M11.1 56.5h6.1M19.3 56.5h3.4M24.8 56.5h3.4M41.3 66.0h3.4M82.6 70.8h3.4M88.1 70.8h6.1M96.3 70.8h6.1M103.2 73.2h3.4M79.8 75.6h3.4M81.2 77.9h3.4M106.0 77.9h3.4M77.1 80.3h8.8M104.6 80.3h3.4M81.2 82.7h3.4M86.7 82.7h6.1M95.0 82.7h3.4M100.5 82.7h6.1M37.2 92.2h3.4"/><path stroke="#3782ba" d="M49.6 -62.5h3.4M40.0 -41.1h3.4M42.7 -31.5h3.4M41.3 -29.2h3.4M8.3 -19.6h3.4M41.3 -19.6h3.4M20.7 -17.3h3.4M38.6 -14.9h3.4M-1.3 -12.5h3.4M27.6 -10.1h3.4M60.6 -10.1h3.4M106.0 -7.7h3.4M-13.7 -5.4h3.4M0.1 -5.4h3.4M7.0 1.8h3.4M-10.9 4.2h3.4M27.6 4.2h3.4M-9.6 16.1h6.1M-16.4 18.4h3.4M-10.9 18.4h3.4M1.4 20.8h3.4M56.5 30.3h3.4M44.1 37.5h3.4M16.6 42.2h3.4M-27.4 47.0h3.4M92.2 49.4h3.4M19.3 51.8h3.4M30.3 56.5h3.4M104.6 66.0h3.4M-13.7 70.8h3.4M63.3 75.6h3.4M68.8 75.6h3.4M63.3 85.1h3.4M-8.2 94.6h3.4M56.5 97.0h3.4M49.6 99.4h3.4"/><path stroke="#3388bc" d="M89.5 -55.3h3.4M15.2 -45.8h3.4M108.7 -41.1h3.4M73.0 -36.3h3.4M44.1 -33.9h3.4M90.8 -29.2h3.4M100.5 -26.8h3.4M52.3 -24.4h3.4M81.2 -22.0h3.4M33.1 -10.1h3.4M-17.8 -7.7h3.4M-4.0 1.8h3.4M1.4 1.8h3.4M9.7 1.8h3.4M15.2 1.8h3.4M5.6 4.2h3.4M-27.4 13.7h3.4M1.4 16.1h3.4M38.6 18.4h3.4M-26.1 30.3h3.4M22.1 42.2h3.4M68.8 47.0h3.4M37.2 54.1h3.4M-20.6 58.9h3.4M17.9 58.9h3.4M89.5 73.2h3.4M88.1 75.6h3.4M59.2 77.9h3.4M78.5 77.9h3.4M62.0 87.5h3.4M63.3 94.6h3.4M-6.8 97.0h3.4M74.3 108.9h3.4"/><path stroke="#388eba" d="M27.6 -62.5h3.4M27.6 -57.7h3.4M38.6 -57.7h3.4M41.3 -53.0h3.4M55.1 -48.2h3.4M96.3 -48.2h3.4M44.1 -43.4h3.4M78.5 -41.1h3.4M107.3 -38.7h3.4M93.6 -33.9h3.4M20.7 -31.5h3.4M38.6 -24.4h3.4M28.9 -22.0h3.4M19.3 -19.6h3.4M23.4 -17.3h3.4M37.2 -17.3h3.4M28.9 -7.7h3.4M37.2 -3.0h3.4M-15.1 6.5h3.4M-4.0 6.5h3.4M12.4 6.5h3.4M33.1 37.5h3.4M26.2 49.4h3.4M37.2 49.4h3.4M68.8 56.5h3.4M2.8 61.3h3.4M64.7 68.4h3.4M4.2 73.2h3.4M8.3 85.1h6.1M4.2 92.2h3.4M33.1 94.6h3.4"/><path stroke="#4a65ac" d="M35.8 -62.5h3.4M63.3 -62.5h3.4M30.3 -57.7h3.4M66.1 -57.7h3.4M66.1 -53.0h3.4M64.7 -50.6h3.4M24.8 -48.2h3.4M26.2 -45.8h3.4M24.8 -43.4h3.4M23.4 -41.1h3.4M23.4 -36.3h3.4M24.8 -33.9h6.1M27.6 -29.2h6.1M45.5 -26.8h3.4M35.8 -24.4h3.4M41.3 -24.4h6.1M37.2 -22.0h3.4M2.8 -10.1h17.1M-6.8 -7.7h22.6M17.9 -7.7h3.4M26.2 -7.7h3.4M24.8 -5.4h6.1M27.6 -0.6h3.4M27.6 8.9h3.4M26.2 68.4h3.4"/><path stroke="#3d94b8" d="M52.3 -62.5h3.4M12.4 -60.1h3.4M26.2 -50.6h3.4M33.1 -48.2h3.4M23.4 -45.8h3.4M56.5 -45.8h3.4M85.3 -43.4h3.4M81.2 -36.3h3.4M4.2 -26.8h3.4M17.9 -26.8h3.4M37.2 -7.7h3.4M-16.4 -5.4h3.4M33.1 -5.4h3.4M13.8 -0.6h3.4M0.1 13.7h3.4M-1.3 20.8h3.4M-19.2 23.2h3.4M-6.8 35.1h3.4M16.6 51.8h3.4M-26.1 58.9h3.4M5.6 61.3h3.4M88.1 80.3h6.1M17.9 82.7h3.4M-6.8 87.5h3.4M46.8 99.4h3.4"/><path stroke="#4299b6" d="M57.8 -62.5h3.4M66.1 -62.5h3.4M34.5 -55.3h3.4M79.8 -48.2h3.4M70.2 -45.8h3.4M67.5 -41.1h3.4M35.8 -38.7h3.4M20.7 -26.8h3.4M34.5 -26.8h3.4M78.5 -26.8h3.4M33.1 -14.9h3.4M2.8 -5.4h3.4M-9.6 -3.0h3.4M35.8 -0.6h3.4M82.6 66.0h3.4M93.6 66.0h3.4M2.8 70.8h3.4M45.5 73.2h3.4M86.7 73.2h3.4M108.7 77.9h3.4M13.8 80.3h3.4M-4.0 87.5h3.4M93.6 89.8h3.4"/><path stroke="#48a0b3" d="M51.0 -60.1h3.4M16.6 -43.4h3.4M46.8 -43.4h3.4M57.8 -43.4h3.4M33.1 -24.4h3.4M19.3 -5.4h3.4M30.3 -5.4h3.4M7.0 -3.0h3.4M22.1 -0.6h3.4M13.8 8.9h3.4M82.6 8.9h3.4M-4.0 11.3h3.4M-4.0 25.6h3.4M-21.9 32.7h3.4M28.9 44.6h3.4M84.0 73.2h3.4M85.3 80.3h3.4M71.6 85.1h3.4M66.1 94.6h3.4"/><path stroke="#6dc5a5" d="M63.3 -53.0h3.4M30.3 -43.4h3.4M26.2 -36.3h3.4M38.6 -33.9h3.4M46.8 -33.9h3.4M49.6 -29.2h3.4M27.6 -24.4h6.1M17.9 -17.3h3.4M31.7 -12.5h3.4M-9.6 -7.7h3.4M5.6 -5.4h3.4M13.8 -5.4h3.4M-26.1 16.1h3.4M16.6 61.3h3.4M85.3 70.8h3.4M78.5 73.2h3.4M92.2 73.2h6.1M96.3 75.6h3.4"/><path stroke="#50a9af" d="M26.2 -60.1h3.4M44.1 -57.7h3.4M27.6 -53.0h3.4M38.6 -53.0h3.4M59.2 -36.3h3.4M34.5 -31.5h3.4M26.2 -26.8h3.4M37.2 -26.8h3.4M28.9 -17.3h3.4M-6.8 -12.5h3.4M-9.6 1.8h3.4M-16.4 8.9h3.4M-19.2 18.4h3.4M20.7 49.4h3.4M28.9 58.9h3.4M85.3 75.6h3.4"/><path stroke="#62bea7" d="M37.2 -55.3h3.4M30.3 -53.0h3.4M44.1 -48.2h3.4M37.2 -41.1h3.4M15.2 -22.0h3.4M-10.9 -10.1h3.4M12.4 1.8h3.4M-13.7 4.2h3.4M7.0 6.5h3.4M101.8 70.8h3.4M99.1 75.6h3.4M89.5 77.9h3.4M96.3 85.1h3.4"/><path stroke="#b2e0a3" d="M40.0 -60.1h3.4M40.0 -50.6h3.4M11.1 -48.2h3.4M53.7 -36.3h3.4M-19.2 8.9h3.4M-13.7 8.9h3.4M103.2 16.1h3.4M82.6 23.2h3.4M19.3 99.4h3.4"/><path stroke="#7bcaa5" d="M24.8 -53.0h3.4M35.8 -53.0h3.4M49.6 -53.0h3.4M52.3 -43.4h3.4M0.1 -24.4h3.4M19.3 -14.9h3.4M-15.1 -3.0h3.4M-1.3 11.3h3.4M19.3 61.3h3.4"/><path stroke="#a4daa4" d="M17.9 -41.1h3.4M20.7 -36.3h3.4M19.3 -33.9h3.4M41.3 -33.9h3.4M16.6 -5.4h3.4M15.2 49.4h3.4M26.2 111.3h3.4"/><path stroke="#93d4a4" d="M15.2 -60.1h3.4M23.4 1.8h3.4M7.0 44.6h3.4M8.3 47.0h3.4M16.6 56.5h3.4M12.4 58.9h3.4"/><path stroke="#5ab5aa" d="M26.2 -55.3h3.4M55.1 -53.0h3.4M28.9 -45.8h3.4M51.0 -41.1h3.4M16.6 -33.9h3.4M100.5 73.2h3.4"/><path stroke="#e3f49b" d="M103.2 68.4h3.4M106.0 73.2h3.4M75.7 77.9h3.4M92.2 82.7h3.4M97.7 82.7h3.4M101.8 85.1h3.4"/><path stroke="#c4e79f" d="M49.6 -43.4h3.4M56.5 -36.3h3.4M17.9 1.8h3.4M78.5 11.3h3.4"/><path stroke="#f4faad" d="M44.1 -38.7h3.4M20.7 1.8h3.4M-12.3 11.3h3.4M95.0 77.9h3.4"/><path stroke="#e1e69c" d="M56.5 -31.5h3.4M16.6 13.7h3.4M7.0 49.4h6.1"/><path stroke="#d8503f" d="M57.8 -33.9h6.1"/><path stroke="#feffbe" d="M22.1 18.4h3.4"/><path stroke="#e9d98a" d="M107.3 70.8h3.4"/><path stroke="#cdeb9d" d="M77.1 75.6h3.4"/></g>
<use href="#holes"/>
</g>
<g transform="translate(566.0,328.9)">
<use href="#dots" fill="#5e4fa2"/>
<g fill="none" stroke-width="3"><path stroke="#5e4fa2" d="M1.4 -64.9h22.6M-8.2 -62.5h30.9M99.1 -62.5h3.4M-12.3 -60.1h17.1M7.0 -60.1h14.3M81.2 -60.1h8.8M92.2 -60.1h8.8M-24.7 -57.7h47.4M79.8 -57.7h8.8M90.8 -57.7h3.4M96.3 -57.7h8.8M-26.1 -55.3h19.9M-4.0 -55.3h25.4M81.2 -55.3h19.9M103.2 -55.3h6.1M-24.7 -53.0h6.1M-16.4 -53.0h39.1M79.8 -53.0h3.4M85.3 -53.0h11.6M99.1 -53.0h6.1M107.3 -53.0h3.4M-4.0 -50.6h25.4M81.2 -50.6h11.6M95.0 -50.6h14.3M0.1 -48.2h3.4M5.6 -48.2h17.1M79.8 -48.2h11.6M96.3 -48.2h14.3M4.2 -45.8h17.1M78.5 -45.8h28.1M108.7 -45.8h3.4M5.6 -43.4h17.1M79.8 -43.4h8.8M90.8 -43.4h11.6M104.6 -43.4h6.1M7.0 -41.1h6.1M15.2 -41.1h6.1M78.5 -41.1h33.6M5.6 -38.7h17.1M79.8 -38.7h25.4M107.3 -38.7h3.4M7.0 -36.3h14.3M78.5 -36.3h33.6M5.6 -33.9h17.1M30.3 -33.9h3.4M79.8 -33.9h30.9M7.0 -31.5h8.8M17.9 -31.5h3.4M78.5 -31.5h17.1M97.7 -31.5h14.3M5.6 -29.2h6.1M13.8 -29.2h8.8M79.8 -29.2h30.9M7.0 -26.8h14.3M78.5 -26.8h33.6M5.6 -24.4h6.1M13.8 -24.4h8.8M79.8 -24.4h30.9M7.0 -22.0h14.3M78.5 -22.0h33.6M5.6 -19.6h17.1M79.8 -19.6h11.6M93.6 -19.6h19.9M7.0 -17.3h14.3M78.5 -17.3h33.6M5.6 -14.9h17.1M77.1 -14.9h3.4M82.6 -14.9h22.6M107.3 -14.9h3.4M7.0 -12.5h17.1M78.5 -12.5h33.6M-10.9 -10.1h3.4M5.6 -10.1h17.1M77.1 -10.1h3.4M82.6 -10.1h28.1M7.0 -7.7h17.1M78.5 -7.7h28.1M108.7 -7.7h3.4M5.6 -5.4h3.4M11.1 -5.4h11.6M77.1 -5.4h8.8M88.1 -5.4h22.6M7.0 -3.0h14.3M78.5 -3.0h3.4M84.0 -3.0h28.1M8.3 -0.6h17.1M77.1 -0.6h3.4M82.6 -0.6h28.1M7.0 1.8h17.1M78.5 1.8h3.4M84.0 1.8h28.1M5.6 4.2h19.9M77.1 4.2h33.6M7.0 6.5h19.9M78.5 6.5h8.8M89.5 6.5h22.6M5.6 8.9h11.6M19.3 8.9h6.1M79.8 8.9h33.6M7.0 11.3h19.9M78.5 11.3h33.6M11.1 13.7h14.3M74.3 13.7h25.4M104.6 13.7h6.1M73.0 16.1h8.8M84.0 16.1h28.1M71.6 18.4h39.1M53.7 20.8h58.4M46.8 23.2h6.1M55.1 23.2h3.4M60.6 23.2h33.6M96.3 23.2h14.3M45.5 25.6h11.6M59.2 25.6h11.6M73.0 25.6h6.1M81.2 25.6h30.9M46.8 28.0h17.1M66.1 28.0h44.6M-9.6 30.3h3.4M45.5 30.3h63.9M46.8 32.7h22.6M71.6 32.7h14.3M88.1 32.7h22.6M45.5 35.1h63.9M46.8 37.5h39.1M88.1 37.5h22.6M45.5 39.9h3.4M51.0 39.9h55.6M46.8 42.2h63.9M-28.8 44.6h17.1M45.5 44.6h25.4M73.0 44.6h36.4M-27.4 47.0h19.9M46.8 47.0h63.9M-26.1 49.4h19.9M45.5 49.4h8.8M56.5 49.4h28.1M86.7 49.4h17.1M106.0 49.4h3.4M-27.4 51.8h19.9M46.8 51.8h52.9M101.8 51.8h8.8M-26.1 54.1h19.9M45.5 54.1h22.6M70.2 54.1h3.4M75.7 54.1h36.4M-24.7 56.5h17.1M49.6 56.5h6.1M57.8 56.5h14.3M74.3 56.5h22.6M99.1 56.5h11.6M-26.1 58.9h8.8M-15.1 58.9h8.8M45.5 58.9h55.6M103.2 58.9h8.8M-27.4 61.3h22.6M46.8 61.3h63.9M-28.8 63.7h22.6M45.5 63.7h47.4M-30.2 66.0h25.4M44.1 66.0h44.6M-28.8 68.4h22.6M42.7 68.4h28.1M73.0 68.4h14.3M-27.4 70.8h28.1M41.3 70.8h44.6M-26.1 73.2h8.8M-15.1 73.2h96.8M-24.7 75.6h52.9M30.3 75.6h11.6M71.6 75.6h14.3M-17.8 77.9h14.3M-1.3 77.9h41.9M73.0 77.9h11.6M-19.2 80.3h55.6M74.3 80.3h11.6M-17.8 82.7h19.9M4.2 82.7h28.1M34.5 82.7h3.4M75.7 82.7h8.8M-16.4 85.1h39.1M24.8 85.1h11.6M74.3 85.1h11.6M-15.1 87.5h6.1M-6.8 87.5h44.6M75.7 87.5h11.6M-13.7 89.8h50.1M74.3 89.8h14.3M-15.1 92.2h33.6M20.7 92.2h17.1M75.7 92.2h14.3M-13.7 94.6h50.1M74.3 94.6h3.4M79.8 94.6h17.1M107.3 94.6h3.4M-15.1 97.0h52.9M75.7 97.0h6.1M84.0 97.0h6.1M92.2 97.0h19.9M-13.7 99.4h8.8M-2.7 99.4h39.1M74.3 99.4h36.4M-15.1 101.7h52.9M75.7 101.7h36.4M-13.7 104.1h28.1M16.6 104.1h6.1M24.8 104.1h11.6M74.3 104.1h36.4M-15.1 106.5h55.6M73.0 106.5h22.6M97.7 106.5h14.3M-10.9 108.9h25.4M16.6 108.9h17.1M35.8 108.9h3.4M68.8 108.9h41.9M-6.8 111.3h22.6M17.9 111.3h28.1M48.2 111.3h41.9M2.8 113.6h72.1M17.9 116.0h3.4"/><path stroke="#5c51a3" d="M23.4 -64.9h3.4M22.1 -62.5h3.4M20.7 -60.1h3.4M78.5 -60.1h3.4M77.1 -57.7h3.4M20.7 -55.3h3.4M78.5 -55.3h3.4M77.1 -53.0h3.4M-26.1 -50.6h14.3M-9.6 -50.6h6.1M20.7 -50.6h3.4M78.5 -50.6h3.4M-8.2 -48.2h8.8M77.1 -48.2h3.4M-1.3 -45.8h6.1M20.7 -45.8h3.4M2.8 -43.4h3.4M77.1 -43.4h3.4M1.4 -41.1h6.1M20.7 -41.1h3.4M45.5 -41.1h3.4M2.8 -38.7h3.4M77.1 -38.7h3.4M4.2 -36.3h3.4M20.7 -36.3h3.4M2.8 -33.9h3.4M77.1 -33.9h3.4M4.2 -31.5h3.4M20.7 -31.5h3.4M95.0 -31.5h3.4M2.8 -29.2h3.4M77.1 -29.2h3.4M4.2 -26.8h3.4M20.7 -26.8h3.4M77.1 -24.4h3.4M4.2 -22.0h3.4M20.7 -22.0h3.4M75.7 -22.0h3.4M2.8 -19.6h3.4M77.1 -19.6h3.4M90.8 -19.6h3.4M4.2 -17.3h3.4M20.7 -17.3h3.4M75.7 -17.3h3.4M2.8 -14.9h3.4M22.1 -14.9h3.4M4.2 -12.5h3.4M75.7 -12.5h3.4M2.8 -10.1h3.4M22.1 -10.1h3.4M4.2 -7.7h3.4M23.4 -7.7h3.4M75.7 -7.7h3.4M2.8 -5.4h3.4M22.1 -5.4h3.4M4.2 -3.0h3.4M23.4 -3.0h3.4M75.7 -3.0h3.4M2.8 -0.6h3.4M4.2 1.8h3.4M23.4 1.8h3.4M75.7 1.8h3.4M2.8 4.2h3.4M24.8 4.2h3.4M4.2 6.5h3.4M26.2 6.5h3.4M75.7 6.5h3.4M2.8 8.9h3.4M24.8 8.9h3.4M74.3 8.9h3.4M4.2 11.3h3.4M26.2 11.3h3.4M75.7 11.3h3.4M2.8 13.7h6.1M24.8 13.7h3.4M4.2 16.1h25.4M70.2 16.1h3.4M60.6 18.4h11.6M42.7 20.8h11.6M-30.2 23.2h3.4M41.3 23.2h6.1M42.7 25.6h3.4M78.5 25.6h3.4M44.1 28.0h3.4M44.1 32.7h3.4M44.1 37.5h3.4M-27.4 42.2h22.6M44.1 42.2h3.4M-9.6 44.6h6.1M-8.2 47.0h3.4M44.1 47.0h3.4M-8.2 51.8h3.4M44.1 51.8h3.4M-8.2 56.5h3.4M44.1 56.5h3.4M-6.8 58.9h3.4M-5.4 61.3h3.4M44.1 61.3h3.4M-6.8 63.7h3.4M42.7 63.7h3.4M92.2 63.7h19.9M-5.4 66.0h3.4M41.3 66.0h3.4M88.1 66.0h3.4M-4.0 68.4h6.1M40.0 68.4h3.4M86.7 68.4h3.4M0.1 70.8h36.4M38.6 70.8h3.4M85.3 70.8h3.4M84.0 73.2h3.4M41.3 75.6h6.1M66.1 75.6h6.1M85.3 75.6h3.4M40.0 77.9h3.4M70.2 77.9h3.4M84.0 77.9h3.4M35.8 80.3h3.4M71.6 80.3h3.4M85.3 80.3h3.4M37.2 82.7h3.4M73.0 82.7h3.4M84.0 82.7h3.4M35.8 85.1h3.4M85.3 85.1h3.4M73.0 87.5h3.4M86.7 87.5h3.4M35.8 89.8h3.4M88.1 89.8h3.4M73.0 92.2h3.4M89.5 92.2h3.4M108.7 92.2h3.4M35.8 94.6h3.4M96.3 94.6h11.6M73.0 97.0h3.4M35.8 99.4h3.4M37.2 101.7h3.4M73.0 101.7h3.4M38.6 104.1h3.4M71.6 104.1h3.4M40.0 106.5h3.4M67.5 106.5h6.1M44.1 108.9h11.6M60.6 108.9h8.8"/><path stroke="#4d67ac" d="M31.7 -60.1h3.4M67.5 -60.1h3.4M70.2 -55.3h3.4M27.6 -53.0h3.4M27.6 -48.2h3.4M66.1 -48.2h3.4M27.6 -43.4h6.1M101.8 -43.4h3.4M27.6 -38.7h3.4M-26.1 -36.3h11.6M-9.6 -36.3h3.4M34.5 -36.3h3.4M-30.2 -33.9h17.1M-10.9 -33.9h3.4M27.6 -33.9h3.4M-31.6 -31.5h19.9M-9.6 -31.5h3.4M28.9 -31.5h3.4M-30.2 -29.2h17.1M-10.9 -29.2h3.4M27.6 -29.2h3.4M-31.6 -26.8h3.4M-26.1 -26.8h3.4M-20.6 -26.8h11.6M-30.2 -24.4h3.4M-21.9 -24.4h14.3M27.6 -24.4h3.4M-31.6 -22.0h6.1M-23.3 -22.0h6.1M-15.1 -22.0h8.8M42.7 -22.0h3.4M-27.4 -19.6h6.1M-19.2 -19.6h6.1M33.1 -19.6h3.4M55.1 -19.6h3.4M-31.6 -17.3h22.6M-30.2 -14.9h14.3M-13.7 -14.9h3.4M-31.6 -12.5h8.8M-15.1 -12.5h6.1M28.9 -12.5h3.4M-30.2 -10.1h6.1M-21.9 -10.1h11.6M-34.3 -7.7h8.8M-20.6 -7.7h6.1M-12.3 -7.7h6.1M28.9 -7.7h3.4M48.2 -7.7h6.1M-30.2 -5.4h8.8M-19.2 -5.4h11.6M68.8 -5.4h3.4M-31.6 -3.0h11.6M-17.8 -3.0h3.4M-9.6 -3.0h3.4M70.2 -3.0h3.4M-27.4 -0.6h22.6M5.6 -0.6h3.4M30.3 -0.6h3.4M41.3 -0.6h3.4M-28.8 1.8h17.1M-9.6 1.8h3.4M70.2 1.8h3.4M-30.2 4.2h6.1M-21.9 4.2h3.4M-16.4 4.2h3.4M-10.9 4.2h3.4M-28.8 6.5h8.8M-17.8 6.5h6.1M-9.6 6.5h3.4M31.7 6.5h3.4M-27.4 8.9h3.4M-21.9 8.9h11.6M63.3 8.9h3.4M-28.8 11.3h3.4M-23.3 11.3h3.4M-12.3 11.3h6.1M64.7 11.3h3.4M-30.2 13.7h8.8M-19.2 13.7h3.4M-13.7 13.7h6.1M35.8 13.7h17.1M-31.6 16.1h14.3M34.5 16.1h3.4M-24.7 18.4h14.3M-31.6 20.8h3.4M-26.1 20.8h6.1M-12.3 20.8h3.4M-6.8 20.8h3.4M-27.4 23.2h11.6M-8.2 23.2h3.4M-26.1 25.6h6.1M-17.8 25.6h6.1M-9.6 25.6h3.4M-30.2 28.0h6.1M-19.2 28.0h11.6M5.6 28.0h6.1M13.8 28.0h8.8M24.8 28.0h6.1M-23.3 30.3h3.4M-17.8 30.3h8.8M4.2 30.3h3.4M31.7 30.3h3.4M2.8 32.7h3.4M-8.2 37.5h3.4M2.8 37.5h3.4M4.2 39.9h3.4M2.8 42.2h3.4M33.1 42.2h3.4M4.2 44.6h3.4M2.8 47.0h3.4M4.2 49.4h3.4M2.8 51.8h3.4M33.1 51.8h3.4M2.8 56.5h6.1M46.8 56.5h3.4M4.2 58.9h6.1M31.7 58.9h3.4M8.3 61.3h3.4M13.8 61.3h8.8M30.3 61.3h3.4M96.3 80.3h3.4M81.2 97.0h3.4"/><path stroke="#5063ab" d="M30.3 -62.5h30.9M63.3 -62.5h6.1M70.2 -60.1h3.4M27.6 -57.7h3.4M71.6 -57.7h3.4M52.3 -53.0h3.4M71.6 -53.0h3.4M104.6 -53.0h3.4M108.7 -50.6h3.4M71.6 -48.2h3.4M93.6 -48.2h3.4M71.6 -43.4h3.4M53.7 -41.1h3.4M-35.7 -38.7h22.6M-10.9 -38.7h6.1M35.8 -38.7h3.4M71.6 -38.7h3.4M-34.3 -36.3h3.4M-6.8 -36.3h3.4M-35.7 -33.9h3.4M71.6 -33.9h3.4M-34.3 -31.5h3.4M-6.8 -31.5h3.4M-35.7 -29.2h6.1M-8.2 -29.2h6.1M71.6 -29.2h3.4M-34.3 -26.8h3.4M-35.7 -24.4h6.1M-8.2 -24.4h6.1M71.6 -24.4h3.4M-34.3 -22.0h3.4M-6.8 -22.0h3.4M-1.3 -22.0h3.4M-35.7 -19.6h6.1M-8.2 -19.6h6.1M-34.3 -17.3h3.4M56.5 -17.3h3.4M-8.2 -14.9h3.4M68.8 -14.9h3.4M-34.3 -12.5h3.4M-35.7 -10.1h6.1M-8.2 -10.1h6.1M57.8 -10.1h3.4M-6.8 -7.7h3.4M-32.9 -5.4h3.4M-8.2 -5.4h6.1M41.3 -5.4h3.4M-6.8 -3.0h3.4M20.7 -3.0h3.4M28.9 -3.0h3.4M51.0 -3.0h3.4M-5.4 -0.6h3.4M-8.2 4.2h6.1M30.3 4.2h3.4M-6.8 6.5h3.4M70.2 6.5h3.4M-5.4 8.9h3.4M-17.8 11.3h6.1M-6.8 11.3h3.4M-8.2 13.7h6.1M33.1 13.7h3.4M57.8 13.7h3.4M99.1 13.7h6.1M-6.8 16.1h3.4M-20.6 20.8h3.4M-5.4 23.2h3.4M-34.3 25.6h3.4M-6.8 25.6h6.1M4.2 25.6h8.8M15.2 25.6h6.1M23.4 25.6h6.1M31.7 25.6h3.4M-32.9 28.0h3.4M-8.2 28.0h6.1M0.1 28.0h6.1M33.1 28.0h3.4M-28.8 30.3h3.4M-6.8 30.3h8.8M34.5 30.3h3.4M-27.4 32.7h6.1M-19.2 32.7h14.3M0.1 32.7h3.4M1.4 35.1h3.4M0.1 37.5h3.4M35.8 37.5h3.4M85.3 37.5h3.4M-1.3 39.9h6.1M34.5 39.9h3.4M35.8 42.2h3.4M1.4 44.6h3.4M35.8 47.0h3.4M84.0 49.4h3.4M35.8 51.8h3.4M99.1 51.8h3.4M1.4 54.1h3.4M34.5 54.1h3.4M35.8 56.5h3.4M1.4 58.9h3.4M2.8 61.3h6.1M7.0 63.7h14.3M23.4 63.7h6.1M93.6 70.8h3.4M-17.8 73.2h3.4M90.8 75.6h3.4M46.8 80.3h17.1M90.8 80.3h3.4M95.0 87.5h3.4M41.3 89.8h3.4M45.5 92.2h3.4M67.5 92.2h3.4M41.3 94.6h3.4M77.1 94.6h3.4M67.5 97.0h3.4M64.7 101.7h3.4M57.8 108.9h3.4"/><path stroke="#5b54a4" d="M26.2 -64.9h3.4M23.4 -60.1h3.4M75.7 -60.1h3.4M22.1 -57.7h3.4M75.7 -50.6h3.4M-24.7 -48.2h8.8M-13.7 -48.2h6.1M22.1 -48.2h3.4M-4.0 -45.8h3.4M70.2 -45.8h3.4M75.7 -45.8h3.4M0.1 -43.4h3.4M22.1 -43.4h3.4M68.8 -43.4h3.4M75.7 -41.1h3.4M0.1 -38.7h3.4M22.1 -38.7h3.4M1.4 -36.3h3.4M75.7 -36.3h3.4M22.1 -33.9h3.4M1.4 -31.5h3.4M75.7 -31.5h3.4M22.1 -29.2h3.4M74.3 -29.2h3.4M1.4 -26.8h3.4M22.1 -24.4h3.4M74.3 -24.4h3.4M-17.8 -22.0h3.4M1.4 -22.0h3.4M74.3 -19.6h3.4M1.4 -17.3h3.4M74.3 -14.9h3.4M1.4 -12.5h3.4M74.3 -10.1h3.4M1.4 -7.7h3.4M24.8 -5.4h3.4M44.1 -5.4h3.4M74.3 -5.4h3.4M1.4 -3.0h3.4M24.8 -0.6h3.4M74.3 -0.6h3.4M1.4 1.8h3.4M26.2 1.8h3.4M-24.7 4.2h3.4M74.3 4.2h3.4M1.4 6.5h3.4M27.6 8.9h3.4M1.4 11.3h3.4M27.6 13.7h3.4M71.6 13.7h3.4M1.4 16.1h3.4M37.2 16.1h3.4M64.7 16.1h6.1M2.8 18.4h28.1M46.8 18.4h3.4M52.3 18.4h8.8M40.0 20.8h3.4M40.0 25.6h3.4M41.3 28.0h3.4M42.7 30.3h3.4M41.3 32.7h3.4M-28.8 39.9h19.9M42.7 39.9h3.4M-5.4 42.2h3.4M41.3 42.2h3.4M42.7 44.6h3.4M-5.4 47.0h3.4M41.3 47.0h3.4M42.7 49.4h3.4M-5.4 51.8h3.4M41.3 51.8h3.4M42.7 54.1h3.4M-5.4 56.5h3.4M41.3 56.5h3.4M-4.0 58.9h3.4M42.7 58.9h3.4M41.3 61.3h3.4M-4.0 63.7h3.4M40.0 63.7h3.4M-2.7 66.0h3.4M38.6 66.0h3.4M90.8 66.0h3.4M107.3 66.0h6.1M1.4 68.4h6.1M37.2 68.4h3.4M86.7 73.2h3.4M46.8 75.6h17.1M67.5 77.9h3.4M86.7 77.9h3.4M38.6 80.3h3.4M86.7 82.7h3.4M71.6 85.1h3.4M37.2 87.5h3.4M71.6 89.8h3.4M37.2 92.2h3.4M92.2 92.2h17.1M71.6 94.6h3.4M37.2 97.0h3.4M71.6 99.4h3.4M68.8 104.1h3.4M42.7 106.5h6.1M62.0 106.5h6.1"/><path stroke="#565ba7" d="M31.7 -64.9h11.6M27.6 -62.5h3.4M26.2 -60.1h3.4M73.0 -60.1h3.4M24.8 -57.7h3.4M24.8 -53.0h3.4M46.8 -53.0h3.4M24.8 -48.2h3.4M-30.2 -43.4h6.1M-13.7 -43.4h6.1M-5.4 -43.4h3.4M-4.0 -41.1h3.4M-2.7 -38.7h3.4M-1.3 -36.3h3.4M73.0 -36.3h3.4M-2.7 -33.9h3.4M24.8 -33.9h3.4M-1.3 -31.5h3.4M-38.4 -29.2h3.4M-2.7 -29.2h3.4M-1.3 -26.8h3.4M73.0 -26.8h3.4M2.8 -24.4h3.4M-26.1 -22.0h3.4M73.0 -22.0h3.4M-2.7 -19.6h3.4M24.8 -19.6h3.4M-1.3 -17.3h3.4M73.0 -17.3h3.4M-2.7 -14.9h3.4M-23.3 -12.5h3.4M-1.3 -12.5h3.4M-2.7 -10.1h3.4M-1.3 -7.7h3.4M26.2 -7.7h3.4M-2.7 -5.4h3.4M-1.3 -3.0h3.4M-2.7 -0.6h3.4M-1.3 1.8h3.4M-2.7 4.2h3.4M-1.3 6.5h3.4M28.9 6.5h3.4M71.6 8.9h3.4M-1.3 11.3h3.4M70.2 11.3h3.4M-2.7 13.7h3.4M66.1 13.7h3.4M-1.3 16.1h3.4M31.7 16.1h3.4M48.2 16.1h8.8M-2.7 18.4h3.4M35.8 18.4h6.1M-1.3 20.8h6.1M35.8 23.2h3.4M57.8 23.2h3.4M37.2 25.6h3.4M70.2 25.6h3.4M38.6 28.0h3.4M38.6 32.7h3.4M-30.2 37.5h22.6M-5.4 37.5h3.4M38.6 37.5h3.4M-2.7 42.2h3.4M38.6 42.2h3.4M-1.3 44.6h3.4M70.2 44.6h3.4M-2.7 47.0h3.4M38.6 47.0h3.4M-1.3 49.4h3.4M-2.7 51.8h3.4M38.6 51.8h3.4M-1.3 54.1h3.4M73.0 54.1h3.4M38.6 56.5h3.4M-1.3 58.9h3.4M0.1 61.3h3.4M38.6 61.3h3.4M1.4 63.7h3.4M37.2 63.7h3.4M5.6 66.0h3.4M16.6 66.0h19.9M-6.8 68.4h3.4M92.2 68.4h3.4M108.7 68.4h3.4M110.1 70.8h3.4M51.0 77.9h11.6M88.1 80.3h3.4M40.0 82.7h3.4M89.5 87.5h3.4M93.6 89.8h3.4M107.3 89.8h3.4M70.2 92.2h3.4M63.3 94.6h3.4M64.7 97.0h3.4M68.8 99.4h3.4M44.1 104.1h3.4M66.1 104.1h3.4M13.8 108.9h3.4"/><path stroke="#5857a5" d="M28.9 -64.9h3.4M24.8 -62.5h3.4M74.3 -57.7h3.4M23.4 -55.3h3.4M45.5 -55.3h3.4M75.7 -55.3h3.4M74.3 -53.0h3.4M74.3 -48.2h3.4M-26.1 -45.8h22.6M23.4 -45.8h3.4M-2.7 -43.4h3.4M74.3 -43.4h3.4M-1.3 -41.1h3.4M23.4 -41.1h3.4M74.3 -38.7h3.4M104.6 -38.7h3.4M23.4 -36.3h3.4M0.1 -33.9h3.4M74.3 -33.9h3.4M-39.8 -31.5h3.4M15.2 -31.5h3.4M23.4 -31.5h3.4M0.1 -29.2h3.4M-39.8 -26.8h3.4M23.4 -26.8h3.4M64.7 -26.8h6.1M0.1 -24.4h3.4M23.4 -22.0h3.4M0.1 -19.6h3.4M23.4 -17.3h3.4M0.1 -14.9h3.4M-37.0 -12.5h3.4M73.0 -12.5h3.4M0.1 -10.1h3.4M24.8 -10.1h3.4M73.0 -7.7h3.4M0.1 -5.4h3.4M26.2 -3.0h3.4M81.2 -3.0h3.4M0.1 -0.6h3.4M56.5 1.8h3.4M73.0 1.8h3.4M0.1 4.2h3.4M27.6 4.2h3.4M66.1 4.2h3.4M73.0 6.5h3.4M0.1 8.9h3.4M0.1 13.7h3.4M56.5 16.1h8.8M0.1 18.4h3.4M30.3 18.4h6.1M44.1 18.4h3.4M4.2 20.8h8.8M15.2 20.8h25.4M38.6 23.2h3.4M-31.6 30.3h3.4M40.0 30.3h3.4M-6.8 39.9h6.1M-4.0 44.6h3.4M40.0 44.6h3.4M-4.0 49.4h3.4M40.0 49.4h3.4M-4.0 54.1h3.4M40.0 54.1h3.4M40.0 58.9h3.4M-2.7 61.3h3.4M-1.3 63.7h3.4M2.8 66.0h3.4M35.8 66.0h3.4M93.6 66.0h6.1M101.8 66.0h6.1M9.7 68.4h25.4M89.5 68.4h3.4M88.1 70.8h3.4M88.1 75.6h3.4M45.5 77.9h6.1M64.7 77.9h3.4M68.8 80.3h3.4M31.7 82.7h3.4M70.2 82.7h3.4M38.6 85.1h3.4M88.1 85.1h3.4M70.2 87.5h3.4M38.6 89.8h3.4M90.8 89.8h3.4M38.6 94.6h3.4M70.2 97.0h3.4M89.5 97.0h3.4M38.6 99.4h3.4M40.0 101.7h3.4M41.3 104.1h3.4M51.0 106.5h3.4M56.5 106.5h6.1"/><path stroke="#535ea9" d="M28.9 -60.1h3.4M26.2 -55.3h3.4M73.0 -55.3h3.4M100.5 -55.3h3.4M73.0 -50.6h3.4M26.2 -45.8h3.4M73.0 -45.8h3.4M-24.7 -43.4h3.4M-16.4 -43.4h3.4M55.1 -43.4h3.4M-34.3 -41.1h19.9M-12.3 -41.1h8.8M26.2 -41.1h3.4M-5.4 -38.7h3.4M24.8 -38.7h3.4M-4.0 -36.3h3.4M-37.0 -31.5h3.4M-4.0 -31.5h3.4M26.2 -31.5h3.4M30.3 -29.2h3.4M68.8 -29.2h3.4M26.2 -26.8h3.4M-37.0 -22.0h3.4M-4.0 -22.0h3.4M71.6 -19.6h3.4M-4.0 -17.3h3.4M31.7 -17.3h3.4M-4.0 -12.5h3.4M27.6 -10.1h3.4M71.6 -10.1h3.4M79.8 -10.1h3.4M-4.0 -7.7h3.4M27.6 -5.4h3.4M71.6 -5.4h3.4M-4.0 -3.0h3.4M71.6 -0.6h3.4M-4.0 1.8h3.4M-4.0 6.5h3.4M16.6 8.9h3.4M30.3 8.9h3.4M52.3 8.9h3.4M-4.0 11.3h3.4M55.1 13.7h3.4M60.6 13.7h6.1M-4.0 16.1h3.4M40.0 16.1h8.8M81.2 16.1h3.4M-27.4 18.4h3.4M41.3 18.4h3.4M-4.0 20.8h3.4M-10.9 23.2h3.4M0.1 23.2h6.1M8.3 23.2h22.6M-1.3 25.6h6.1M34.5 25.6h3.4M-2.7 28.0h3.4M35.8 28.0h3.4M37.2 30.3h3.4M-5.4 32.7h6.1M33.1 32.7h3.4M-28.8 35.1h8.8M-17.8 35.1h19.9M-2.7 37.5h3.4M33.1 37.5h3.4M37.2 39.9h3.4M0.1 42.2h3.4M37.2 44.6h3.4M0.1 47.0h3.4M37.2 49.4h3.4M103.2 49.4h3.4M0.1 56.5h3.4M37.2 58.9h3.4M35.8 61.3h3.4M31.7 63.7h6.1M81.2 73.2h3.4M-20.6 77.9h3.4M-4.0 77.9h3.4M63.3 85.1h3.4M13.8 104.1h3.4M55.1 108.9h3.4"/><path stroke="#4b6bae" d="M88.1 -57.7h3.4M93.6 -57.7h3.4M-6.8 -55.3h3.4M88.1 -43.4h3.4M70.2 -41.1h3.4M70.2 -36.3h3.4M70.2 -31.5h3.4M70.2 -26.8h3.4M-38.4 -24.4h3.4M70.2 -22.0h3.4M-21.9 -19.6h3.4M68.8 -10.1h3.4M-23.3 -7.7h3.4M30.3 -5.4h3.4M68.8 -0.6h3.4M31.7 1.8h3.4M68.8 4.2h3.4M67.5 6.5h3.4M33.1 8.9h3.4M41.3 8.9h3.4M34.5 11.3h3.4M62.0 11.3h3.4M-15.1 16.1h3.4M7.0 30.3h6.1M15.2 30.3h6.1M23.4 30.3h8.8M8.3 32.7h11.6M22.1 32.7h8.8M7.0 35.1h11.6M23.4 35.1h6.1M31.7 35.1h3.4M5.6 37.5h6.1M13.8 37.5h11.6M27.6 37.5h6.1M9.7 39.9h3.4M15.2 39.9h6.1M23.4 39.9h11.6M5.6 42.2h28.1M12.4 44.6h8.8M28.9 44.6h6.1M5.6 47.0h6.1M16.6 47.0h6.1M7.0 49.4h6.1M17.9 49.4h14.3M24.8 51.8h8.8M9.7 54.1h17.1M28.9 54.1h3.4M8.3 56.5h3.4M13.8 56.5h3.4M19.3 56.5h14.3M9.7 58.9h14.3M28.9 58.9h3.4M-9.6 87.5h3.4"/><path stroke="#476caf" d="M34.5 -60.1h33.6M30.3 -57.7h3.4M66.1 -57.7h6.1M28.9 -55.3h3.4M53.7 -55.3h3.4M67.5 -55.3h3.4M68.8 -53.0h3.4M28.9 -50.6h3.4M48.2 -50.6h3.4M67.5 -50.6h3.4M30.3 -48.2h3.4M38.6 -48.2h3.4M-21.9 -43.4h3.4M28.9 -41.1h3.4M68.8 -38.7h3.4M48.2 -31.5h3.4M55.1 -29.2h3.4M28.9 -26.8h3.4M48.2 -26.8h3.4M-10.9 -19.6h3.4M70.2 -17.3h3.4M27.6 -14.9h6.1M-9.6 -12.5h3.4M31.7 -7.7h3.4M106.0 -7.7h3.4M-21.9 -5.4h3.4M52.3 -5.4h3.4M85.3 -5.4h3.4M31.7 -3.0h3.4M33.1 4.2h3.4M66.1 8.9h3.4M37.2 11.3h3.4M45.5 11.3h17.1M73.0 11.3h3.4M52.3 13.7h3.4M-8.2 18.4h3.4M-15.1 20.8h3.4M-24.7 28.0h3.4M1.4 30.3h3.4M24.8 37.5h3.4M106.0 39.9h3.4M26.2 44.6h3.4M-28.8 49.4h3.4M34.5 58.9h3.4M22.1 85.1h3.4M67.5 87.5h3.4M17.9 92.2h3.4M42.7 101.7h3.4M55.1 104.1h3.4M53.7 106.5h3.4"/><path stroke="#3489bc" d="M89.5 -60.1h3.4M-19.2 -53.0h3.4M22.1 -53.0h3.4M70.2 -50.6h3.4M37.2 -45.8h3.4M35.8 -43.4h3.4M59.2 -41.1h3.4M-32.9 -33.9h3.4M46.8 -33.9h3.4M-12.3 -31.5h3.4M11.1 -29.2h3.4M-6.8 -26.8h3.4M-2.7 -24.4h3.4M55.1 -24.4h3.4M66.1 -24.4h3.4M26.2 -22.0h6.1M-37.0 -17.3h3.4M28.9 -17.3h3.4M26.2 -12.5h3.4M35.8 -10.1h3.4M-26.1 -7.7h3.4M67.5 -7.7h3.4M35.8 -5.4h3.4M46.8 -5.4h3.4M-30.2 -0.6h3.4M-12.3 1.8h3.4M45.5 1.8h3.4M-26.1 11.3h3.4M-20.6 11.3h3.4M28.9 11.3h3.4M-21.9 13.7h3.4M-30.2 18.4h3.4M-17.8 20.8h3.4M-13.7 23.2h3.4M30.3 23.2h3.4M52.3 23.2h3.4M63.3 28.0h3.4M35.8 32.7h3.4M85.3 32.7h3.4M-9.6 39.9h3.4M34.5 49.4h3.4M96.3 56.5h3.4M11.1 61.3h3.4M11.1 66.0h3.4M7.0 68.4h3.4M99.1 85.1h3.4M100.5 87.5h3.4M42.7 97.0h3.4M70.2 101.7h3.4"/><path stroke="#4276b3" d="M100.5 -60.1h3.4M23.4 -50.6h3.4M41.3 -48.2h14.3M57.8 -48.2h6.1M34.5 -45.8h3.4M42.7 -45.8h14.3M59.2 -45.8h3.4M64.7 -45.8h3.4M33.1 -43.4h3.4M31.7 -41.1h3.4M30.3 -38.7h3.4M49.6 -38.7h3.4M31.7 -36.3h3.4M67.5 -36.3h3.4M41.3 -33.9h6.1M49.6 -33.9h3.4M31.7 -31.5h3.4M31.7 -26.8h3.4M-27.4 -24.4h3.4M-13.7 -19.6h3.4M-9.6 -17.3h3.4M37.2 -17.3h3.4M-35.7 -14.9h3.4M-16.4 -14.9h3.4M33.1 -14.9h3.4M-17.8 -12.5h3.4M70.2 -12.5h3.4M33.1 -10.1h3.4M33.1 -5.4h3.4M35.8 -0.6h3.4M34.5 1.8h3.4M-12.3 6.5h3.4M37.2 6.5h3.4M-10.9 8.9h3.4M44.1 8.9h8.8M57.8 8.9h6.1M20.7 25.6h3.4M19.3 32.7h3.4M20.7 35.1h3.4M42.7 35.1h3.4M-12.3 44.6h3.4M22.1 47.0h3.4M-6.8 49.4h3.4M19.3 51.8h3.4M48.2 106.5h3.4M38.6 108.9h3.4M15.2 111.3h3.4"/><path stroke="#4370b2" d="M60.6 -62.5h3.4M33.1 -57.7h25.4M63.3 -57.7h3.4M31.7 -55.3h6.1M40.0 -55.3h6.1M51.0 -55.3h3.4M56.5 -55.3h11.6M35.8 -53.0h11.6M55.1 -53.0h14.3M34.5 -50.6h6.1M42.7 -50.6h6.1M51.0 -50.6h17.1M63.3 -48.2h3.4M31.7 -45.8h3.4M40.0 -45.8h3.4M67.5 -45.8h3.4M-8.2 -43.4h3.4M38.6 -43.4h3.4M12.4 -41.1h3.4M-13.7 -38.7h3.4M-15.1 -36.3h6.1M37.2 -36.3h3.4M-4.0 -26.8h3.4M53.7 -26.8h3.4M11.1 -24.4h3.4M24.8 -24.4h3.4M30.3 -24.4h3.4M56.5 -22.0h3.4M30.3 -19.6h3.4M71.6 -14.9h3.4M79.8 -14.9h3.4M31.7 -12.5h3.4M33.1 -0.6h3.4M35.8 8.9h3.4M31.7 11.3h3.4M40.0 11.3h6.1M-17.8 16.1h3.4M-16.4 23.2h3.4M34.5 35.1h3.4M23.4 44.6h3.4M-6.8 54.1h3.4M108.7 73.2h3.4M42.7 77.9h3.4M41.3 108.9h3.4"/><path stroke="#3a91b9" d="M4.2 -60.1h3.4M37.2 -55.3h3.4M30.3 -53.0h3.4M-12.3 -50.6h3.4M26.2 -50.6h3.4M35.8 -48.2h3.4M56.5 -45.8h3.4M63.3 -43.4h3.4M26.2 -36.3h6.1M66.1 -33.9h3.4M34.5 -26.8h3.4M56.5 -26.8h3.4M31.7 -22.0h3.4M51.0 -22.0h3.4M23.4 -12.5h3.4M55.1 -5.4h3.4M-15.1 -3.0h3.4M46.8 -0.6h3.4M-6.8 1.8h3.4M34.5 6.5h3.4M-8.2 8.9h3.4M55.1 8.9h3.4M30.3 13.7h3.4M12.4 20.8h3.4M-31.6 25.6h3.4M11.1 37.5h3.4M11.1 47.0h3.4M5.6 51.8h3.4M7.0 54.1h3.4M37.2 54.1h3.4M67.5 54.1h3.4M104.6 70.8h6.1M100.5 77.9h3.4M41.3 80.3h3.4M1.4 82.7h3.4M97.7 87.5h3.4M33.1 108.9h3.4"/><path stroke="#3a7eb8" d="M60.6 -57.7h3.4M96.3 -53.0h3.4M92.2 -50.6h3.4M-16.4 -48.2h3.4M33.1 -48.2h3.4M28.9 -45.8h3.4M56.5 -41.1h3.4M57.8 -38.7h3.4M-37.0 -36.3h3.4M-28.8 -36.3h3.4M56.5 -36.3h3.4M-13.7 -29.2h3.4M-37.0 -26.8h3.4M67.5 -22.0h3.4M-30.2 -19.6h3.4M44.1 -10.1h3.4M40.0 -7.7h3.4M-12.3 -3.0h3.4M55.1 -0.6h3.4M28.9 1.8h3.4M-5.4 18.4h3.4M-12.3 25.6h3.4M56.5 25.6h3.4M11.1 28.0h3.4M-30.2 32.7h3.4M-21.9 32.7h3.4M40.0 35.1h3.4M40.0 39.9h3.4M53.7 49.4h3.4M31.7 54.1h3.4M16.6 56.5h3.4M71.6 56.5h3.4M27.6 61.3h3.4M67.5 101.7h3.4M22.1 104.1h3.4M45.5 111.3h3.4"/><path stroke="#3683bb" d="M33.1 -53.0h3.4M82.6 -53.0h3.4M110.1 -53.0h3.4M-19.2 -43.4h3.4M-15.1 -41.1h3.4M73.0 -41.1h3.4M-31.6 -36.3h3.4M73.0 -31.5h3.4M-23.3 -26.8h3.4M75.7 -26.8h3.4M-24.7 -24.4h3.4M27.6 -19.6h3.4M-6.8 -17.3h3.4M24.8 -14.9h3.4M104.6 -14.9h3.4M-20.6 -12.5h3.4M30.3 -10.1h3.4M66.1 -5.4h3.4M-20.6 -3.0h3.4M79.8 -0.6h3.4M-31.6 1.8h3.4M44.1 4.2h6.1M55.1 4.2h3.4M71.6 4.2h3.4M86.7 6.5h3.4M-30.2 8.9h3.4M68.8 8.9h3.4M-28.8 20.8h3.4M-21.9 28.0h3.4M-20.6 35.1h3.4M27.6 47.0h3.4M35.8 70.8h3.4M45.5 97.0h3.4M52.3 99.4h3.4"/><path stroke="#3e79b6" d="M31.7 -50.6h3.4M2.8 -48.2h3.4M90.8 -48.2h3.4M106.0 -45.8h3.4M24.8 -43.4h3.4M-38.4 -33.9h3.4M-5.4 -33.9h3.4M37.2 -31.5h3.4M24.8 -29.2h3.4M-32.9 -14.9h3.4M-10.9 -14.9h3.4M66.1 -14.9h3.4M-15.1 -7.7h3.4M62.0 -7.7h3.4M63.3 -0.6h3.4M-13.7 4.2h3.4M-20.6 6.5h3.4M40.0 6.5h3.4M-12.3 16.1h6.1M49.6 18.4h3.4M5.6 23.2h3.4M93.6 23.2h3.4M22.1 28.0h3.4M68.8 32.7h3.4M48.2 39.9h3.4M22.1 51.8h3.4M-17.8 58.9h3.4M70.2 68.4h3.4M45.5 82.7h3.4M106.0 82.7h3.4M68.8 94.6h3.4M-5.4 99.4h3.4M66.1 99.4h3.4M95.0 106.5h3.4"/><path stroke="#506dad" d="M68.8 -24.4h3.4M96.3 70.8h8.8M92.2 73.2h6.1M106.0 73.2h3.4M93.6 75.6h3.4M107.3 75.6h3.4M92.2 77.9h3.4M108.7 77.9h3.4M93.6 80.3h3.4M107.3 80.3h3.4M48.2 82.7h3.4M53.7 82.7h14.3M92.2 82.7h3.4M44.1 85.1h3.4M66.1 85.1h3.4M93.6 85.1h6.1M104.6 85.1h3.4M42.7 87.5h3.4M103.2 87.5h3.4M44.1 89.8h3.4M66.1 89.8h3.4M42.7 92.2h3.4M64.7 92.2h3.4M44.1 94.6h3.4M66.1 94.6h3.4M44.1 99.4h3.4M63.3 99.4h3.4M45.5 101.7h8.8M56.5 101.7h3.4M62.0 101.7h3.4"/><path stroke="#4c77b1" d="M67.5 -41.1h3.4M68.8 -33.9h3.4M67.5 -31.5h3.4M67.5 -17.3h3.4M67.5 -12.5h3.4M67.5 -3.0h3.4M67.5 1.8h3.4M100.5 73.2h6.1M96.3 75.6h6.1M104.6 75.6h3.4M95.0 77.9h3.4M106.0 77.9h3.4M101.8 80.3h3.4M95.0 82.7h3.4M103.2 82.7h3.4M46.8 85.1h11.6M60.6 85.1h3.4M45.5 87.5h3.4M51.0 87.5h8.8M62.0 87.5h3.4M46.8 89.8h3.4M52.3 89.8h6.1M60.6 89.8h6.1M48.2 92.2h17.1M49.6 94.6h6.1M48.2 97.0h3.4M53.7 97.0h11.6M46.8 99.4h6.1M55.1 99.4h6.1"/><path stroke="#4fa8b0" d="M48.2 -55.3h3.4M40.0 -50.6h3.4M68.8 -48.2h3.4M64.7 -41.1h3.4M-13.7 -33.9h3.4M51.0 -31.5h3.4M68.8 -19.6h3.4M42.7 -17.3h3.4M44.1 -14.9h3.4M70.2 -7.7h3.4M81.2 1.8h3.4M35.8 4.2h3.4M77.1 8.9h3.4M-20.6 30.3h3.4M17.9 35.1h3.4M9.7 44.6h3.4M0.1 51.8h3.4M23.4 58.9h3.4M99.1 66.0h3.4M97.7 77.9h3.4M99.1 80.3h3.4M104.6 80.3h3.4M57.8 85.1h3.4M107.3 85.1h3.4M106.0 87.5h3.4M46.8 94.6h3.4M60.6 94.6h3.4M59.2 101.7h3.4"/><path stroke="#4199b6" d="M66.1 -43.4h3.4M63.3 -38.7h3.4M-9.6 -26.8h3.4M33.1 -24.4h6.1M26.2 -17.3h3.4M8.3 -5.4h3.4M27.6 -0.6h3.4M-19.2 4.2h3.4M-24.7 8.9h3.4M-2.7 8.9h3.4M67.5 11.3h3.4M-16.4 13.7h3.4M-32.9 23.2h3.4M-26.1 30.3h3.4M30.3 32.7h3.4M30.3 47.0h3.4M1.4 49.4h3.4M-2.7 56.5h3.4M33.1 56.5h3.4M55.1 56.5h3.4M22.1 61.3h3.4M34.5 68.4h3.4M68.8 85.1h3.4M101.8 85.1h3.4M59.2 87.5h3.4M64.7 87.5h3.4M53.7 101.7h3.4"/><path stroke="#498ab3" d="M37.2 -41.1h8.8M48.2 -41.1h6.1M62.0 -41.1h3.4M35.8 -33.9h3.4M34.5 -31.5h3.4M35.8 -29.2h3.4M37.2 -26.8h3.4M37.2 -22.0h3.4M35.8 -19.6h3.4M66.1 -19.6h3.4M35.8 -14.9h3.4M37.2 -12.5h3.4M64.7 -12.5h3.4M38.6 -10.1h3.4M37.2 -7.7h3.4M38.6 -5.4h3.4M37.2 -3.0h3.4M38.6 -0.6h3.4M40.0 1.8h3.4M64.7 1.8h3.4M41.3 4.2h3.4M60.6 4.2h3.4"/><path stroke="#4c91b3" d="M41.3 -38.7h8.8M42.7 -36.3h3.4M38.6 -33.9h3.4M42.7 -31.5h3.4M38.6 -29.2h6.1M40.0 -26.8h6.1M38.6 -24.4h6.1M38.6 -19.6h6.1M40.0 -17.3h3.4M64.7 -17.3h3.4M38.6 -14.9h3.4M63.3 -14.9h3.4M40.0 -12.5h6.1M41.3 -10.1h3.4M63.3 -10.1h3.4M64.7 -7.7h3.4M40.0 -3.0h3.4M64.7 -3.0h3.4M42.7 1.8h3.4M49.6 4.2h6.1M57.8 4.2h3.4"/><path stroke="#70c6a5" d="M40.0 -36.3h3.4M53.7 -36.3h3.4M59.2 -26.8h3.4M40.0 -22.0h3.4M57.8 -5.4h3.4M38.6 8.9h3.4M68.8 13.7h3.4M4.2 35.1h3.4M28.9 35.1h3.4M37.2 35.1h3.4M12.4 39.9h3.4M13.8 47.0h3.4M4.2 63.7h3.4M20.7 63.7h3.4M63.3 75.6h3.4M101.8 75.6h3.4M89.5 77.9h3.4M103.2 77.9h3.4M108.7 82.7h3.4M57.8 94.6h3.4"/><path stroke="#5660a8" d="M95.0 68.4h14.3M90.8 70.8h3.4M89.5 73.2h3.4M44.1 80.3h3.4M63.3 80.3h6.1M42.7 82.7h3.4M67.5 82.7h3.4M89.5 82.7h3.4M41.3 85.1h3.4M90.8 85.1h3.4M40.0 87.5h3.4M92.2 87.5h3.4M108.7 87.5h3.4M68.8 89.8h3.4M96.3 89.8h11.6M40.0 92.2h3.4M40.0 97.0h3.4M41.3 99.4h3.4M46.8 104.1h8.8M57.8 104.1h8.8"/><path stroke="#5fbaa8" d="M57.8 -57.7h3.4M55.1 -48.2h3.4M62.0 -45.8h3.4M-24.7 -10.1h3.4M53.7 -7.7h3.4M48.2 1.8h3.4M-28.8 25.6h3.4M12.4 25.6h3.4M28.9 25.6h3.4M30.3 28.0h3.4M12.4 30.3h3.4M7.0 44.6h3.4M24.8 61.3h3.4M28.9 63.7h3.4M8.3 66.0h3.4M62.0 77.9h3.4M55.1 94.6h3.4M60.6 99.4h3.4"/><path stroke="#48a0b3" d="M49.6 -53.0h3.4M38.6 -38.7h3.4M-28.8 -26.8h3.4M22.1 -19.6h3.4M48.2 -17.3h3.4M-5.4 -14.9h3.4M73.0 -3.0h3.4M64.7 6.5h3.4M28.9 16.1h3.4M33.1 47.0h3.4M31.7 49.4h3.4M0.1 66.0h3.4M97.7 73.2h3.4M27.6 75.6h3.4M51.0 82.7h3.4M100.5 82.7h3.4M48.2 87.5h3.4M57.8 89.8h3.4"/><path stroke="#55b0ad" d="M-8.2 -33.9h3.4M40.0 -31.5h3.4M62.0 -17.3h3.4M-6.8 -12.5h3.4M42.7 -3.0h3.4M37.2 1.8h3.4M-31.6 11.3h3.4M-10.9 18.4h3.4M20.7 30.3h3.4M41.3 37.5h3.4M20.7 39.9h3.4M12.4 49.4h3.4M8.3 51.8h3.4M16.6 51.8h3.4M4.2 54.1h3.4M26.2 54.1h3.4M33.1 61.3h3.4M97.7 82.7h3.4"/><path stroke="#4782b3" d="M41.3 -43.4h14.3M57.8 -43.4h6.1M34.5 -41.1h3.4M33.1 -38.7h3.4M66.1 -38.7h3.4M33.1 -33.9h3.4M33.1 -29.2h3.4M34.5 -22.0h3.4M34.5 -17.3h3.4M34.5 -12.5h3.4M66.1 -10.1h3.4M34.5 -7.7h3.4M34.5 -3.0h3.4M66.1 -0.6h3.4M38.6 4.2h3.4M63.3 4.2h3.4M42.7 6.5h22.6"/><path stroke="#5699b1" d="M52.3 -38.7h6.1M60.6 -38.7h3.4M45.5 -36.3h3.4M64.7 -36.3h3.4M44.1 -29.2h3.4M66.1 -29.2h3.4M44.1 -24.4h3.4M44.1 -19.6h3.4M45.5 -17.3h3.4M46.8 -14.9h3.4M45.5 -12.5h6.1M62.0 -12.5h3.4M42.7 -7.7h3.4M63.3 -5.4h3.4M44.1 -0.6h3.4M62.0 1.8h3.4"/><path stroke="#65a4af" d="M48.2 -36.3h3.4M64.7 -31.5h3.4M45.5 -26.8h3.4M45.5 -22.0h3.4M64.7 -22.0h3.4M63.3 -19.6h3.4M49.6 -14.9h3.4M60.6 -14.9h3.4M51.0 -12.5h6.1M59.2 -12.5h3.4M46.8 -10.1h3.4M60.6 -10.1h3.4M62.0 -3.0h3.4M51.0 1.8h6.1M59.2 1.8h3.4"/><path stroke="#93c6a6" d="M60.6 -33.9h3.4M62.0 -31.5h3.4M62.0 -26.8h3.4M62.0 -22.0h3.4M49.6 -19.6h3.4M60.6 -19.6h3.4M51.0 -17.3h3.4M59.2 -17.3h3.4M56.5 -7.7h3.4M48.2 -3.0h3.4M59.2 -3.0h3.4M52.3 -0.6h3.4"/><path stroke="#70adad" d="M51.0 -36.3h3.4M62.0 -36.3h3.4M63.3 -33.9h3.4M45.5 -31.5h3.4M46.8 -19.6h3.4M56.5 -12.5h3.4M49.6 -10.1h6.1M45.5 -7.7h3.4M45.5 -3.0h3.4M60.6 -0.6h3.4"/><path stroke="#a3d5a4" d="M52.3 -33.9h8.8M49.6 -29.2h3.4M60.6 -29.2h3.4M49.6 -24.4h3.4M60.6 -24.4h3.4M57.8 -19.6h3.4M53.7 -17.3h3.4M53.7 -3.0h6.1M100.5 58.9h3.4M35.8 104.1h3.4"/><path stroke="#b4dea1" d="M56.5 -31.5h6.1M52.3 -29.2h3.4M57.8 -29.2h3.4M51.0 -26.8h3.4M52.3 -24.4h3.4M53.7 -22.0h3.4M59.2 -22.0h3.4M52.3 -19.6h3.4M8.3 13.7h3.4M-20.6 25.6h3.4"/><path stroke="#85cea5" d="M41.3 -14.9h3.4M-9.6 20.8h3.4M-2.7 23.2h3.4M5.6 32.7h3.4M20.7 44.6h3.4M34.5 44.6h3.4M24.8 47.0h3.4M11.1 51.8h6.1M13.8 66.0h3.4M51.0 97.0h3.4"/><path stroke="#7cb5ab" d="M59.2 -36.3h3.4M63.3 -29.2h3.4M46.8 -24.4h3.4M63.3 -24.4h3.4M52.3 -14.9h3.4M57.8 -14.9h3.4M55.1 -10.1h3.4M60.6 -5.4h3.4"/><path stroke="#e7f19b" d="M53.7 -31.5h3.4M57.8 -24.4h3.4M49.6 -5.4h3.4M15.2 49.4h3.4M11.1 56.5h3.4M49.6 89.8h3.4"/><path stroke="#87bea8" d="M46.8 -29.2h3.4M48.2 -22.0h3.4M55.1 -14.9h3.4M59.2 -7.7h3.4M49.6 -0.6h3.4M57.8 -0.6h3.4"/><path stroke="#d1ed9c" d="M33.1 23.2h3.4M7.0 39.9h3.4M26.2 58.9h3.4"/></g>
<use href="#holes"/>
</g>
<text transform="translate(122.0,38.4) scale(1.06,1)" font-size="23.4" text-anchor="middle">NPC-like</text>
<text transform="translate(269.05,38.4) scale(1.06,1)" font-size="23.4" text-anchor="middle">OPC-like</text>
<text transform="translate(437.6,38.4) scale(1.06,1)" font-size="23.4" text-anchor="middle">AC-like</text>
<text transform="translate(597.8,38.4) scale(1.06,1)" font-size="23.4" text-anchor="middle">MES-like</text>
<text transform="translate(116.65,258) scale(1.06,1)" font-size="23.4" text-anchor="middle">CD68</text>
<text transform="translate(280.4,258) scale(1.06,1)" font-size="23.4" text-anchor="middle">CD8A</text>
<text transform="translate(440.6,258) scale(1.06,1)" font-size="23.4" text-anchor="middle">VWF</text>
<text transform="translate(619.65,258) scale(1.06,1)" font-size="23.4" text-anchor="middle">COL1A2</text>
<rect x="570.4" y="456" width="91.4" height="17.4" fill="url(#cbar)"/>
<text transform="translate(576.8,486.7) scale(1.06,1)" font-size="15" text-anchor="middle">Low</text>
<text transform="translate(657,486.7) scale(1.06,1)" font-size="15" text-anchor="middle">High</text>
</svg></body></html>
